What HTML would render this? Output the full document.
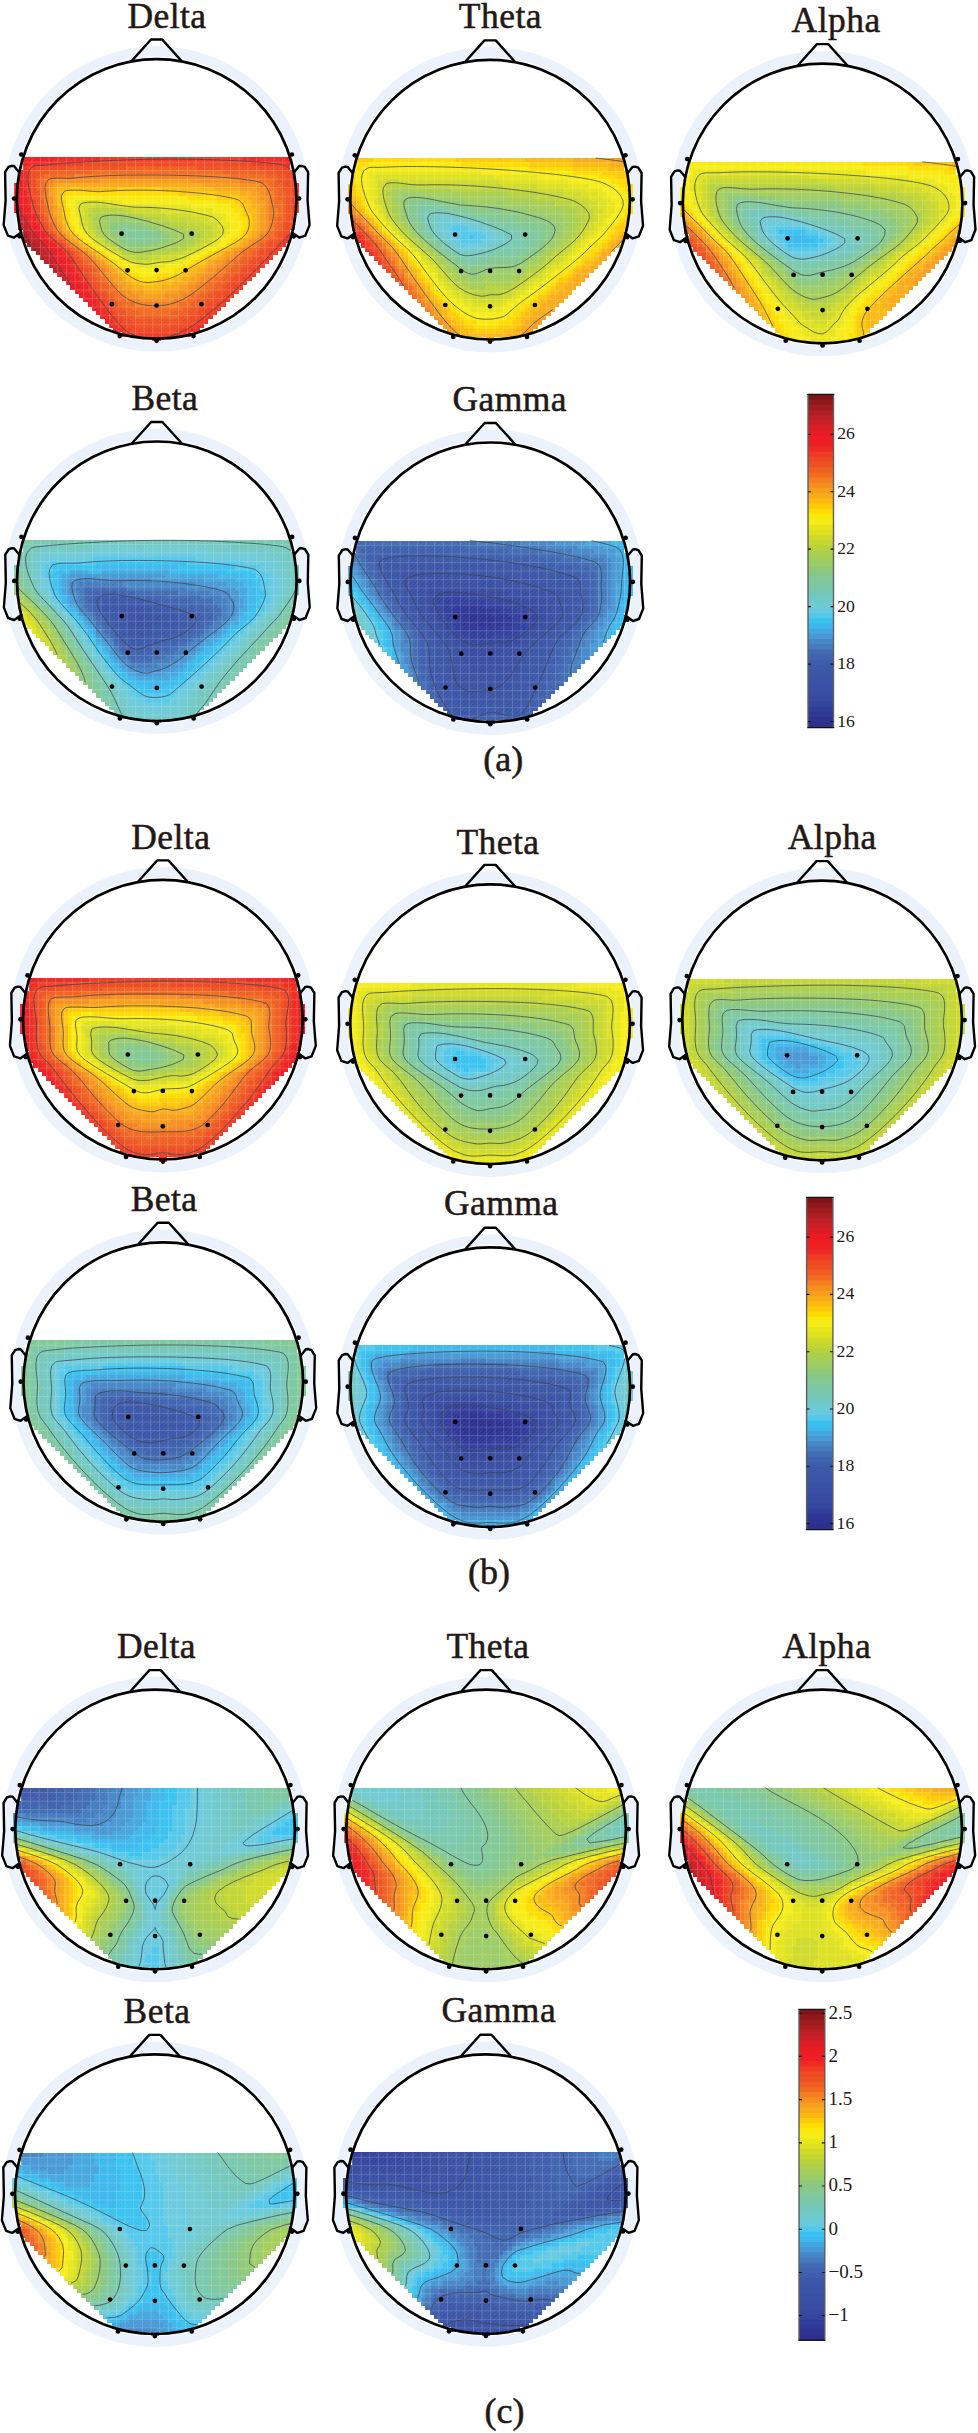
<!DOCTYPE html><html><head><meta charset="utf-8"><style>html,body{margin:0;padding:0;background:#fff}svg{display:block}text{font-family:"Liberation Serif","Times New Roman",serif;fill:#231815}.t{stroke:#231815;stroke-width:0.5px}</style></head><body>
<svg width="978" height="2433" viewBox="0 0 978 2433">
<defs><g id="head"><circle r="139.8" fill="none" stroke="#000" stroke-width="2.7"/><g fill="none" stroke="#000" stroke-width="2.4" stroke-linejoin="round" stroke-linecap="round"><polyline points="24.4,-138.51 5.59,-159.37 -5.59,-159.37 -24.4,-138.51"/><polyline points="137.56,-26.7 142.6,-32.85 144.83,-33.08 148.16,-32.04 151.52,-26.7 150.98,1.54 152.94,26.06 148.75,36.71 142.6,38.7 135.33,33.52"/><polyline points="-137.56,-26.7 -142.6,-32.85 -144.83,-33.08 -148.16,-32.04 -151.52,-26.7 -150.98,1.54 -152.94,26.06 -148.75,36.71 -142.6,38.7 -135.33,33.52"/></g><g fill="#000"><circle cx="-135.3" cy="-44.4" r="2.35"/><circle cx="135.3" cy="-44.4" r="2.35"/><circle cx="-142.5" cy="-0.4" r="2.35"/><circle cx="142.5" cy="-0.4" r="2.35"/><circle cx="-137.1" cy="37.4" r="2.35"/><circle cx="137.1" cy="37.4" r="2.35"/><circle cx="-35.05" cy="34.8" r="2.35"/><circle cx="35.05" cy="34.8" r="2.35"/><circle cx="-29.05" cy="71.4" r="2.35"/><circle cx="0" cy="71.2" r="2.35"/><circle cx="29.05" cy="71.4" r="2.35"/><circle cx="-44.8" cy="105.3" r="2.35"/><circle cx="0" cy="106.6" r="2.35"/><circle cx="44.8" cy="105.3" r="2.35"/><circle cx="-36.9" cy="137.2" r="2.35"/><circle cx="0" cy="141.9" r="2.35"/><circle cx="36.9" cy="137.2" r="2.35"/></g></g><pattern id="gp" patternUnits="userSpaceOnUse" x="-142.5" y="-139.8" width="8.6364" height="8.5364"><path d="M0 0H8.636M0 0V8.536" stroke="#fff" stroke-opacity="0.32" stroke-width="1"/><path d="M0 4.268L4.318 0M4.318 8.536L8.636 4.268M0 8.536L8.636 0" stroke="#fff" stroke-opacity="0.14" stroke-width="0.6"/></pattern></defs>
<rect width="978" height="2433" fill="#fff"/>
<g transform="translate(156.6 198.9)">
<circle r="147.5" fill="none" stroke="#ebf2fb" stroke-width="10.4"/>
<g transform="translate(-142.5 -139.8) scale(4.3182 4.2682)" fill="none" stroke-width="1" shape-rendering="crispEdges">
<path stroke="#7dc8a2" d="M27 41.5h3"/>
<path stroke="#82c997" d="M25 39.5h3M25 40.5h7M25 41.5h2M30 41.5h3M27 42.5h5"/>
<path stroke="#87c889" d="M25 38.5h1M23 39.5h2M28 39.5h3M23 40.5h2M32 40.5h2M24 41.5h1M33 41.5h2M25 42.5h2M32 42.5h2M27 43.5h2"/>
<path stroke="#8fc978" d="M22 38.5h3M26 38.5h4M22 39.5h1M31 39.5h2M22 40.5h1M34 40.5h1M23 41.5h1M35 41.5h1M24 42.5h1M34 42.5h2M25 43.5h2M29 43.5h4"/>
<path stroke="#9bcc68" d="M21 37.5h7M21 38.5h1M30 38.5h1M21 39.5h1M33 39.5h1M21 40.5h1M35 40.5h2M22 41.5h1M36 41.5h2M23 42.5h1M36 42.5h1M24 43.5h1M33 43.5h2M26 44.5h5"/>
<path stroke="#a4ce5b" d="M21 36.5h4M20 37.5h1M28 37.5h2M20 38.5h1M31 38.5h2M20 39.5h1M34 39.5h2M20 40.5h1M37 40.5h2M21 41.5h1M38 41.5h2M22 42.5h1M37 42.5h3M35 43.5h2M25 44.5h1M31 44.5h3"/>
<path stroke="#aace4d" d="M19 36.5h2M25 36.5h2M18 37.5h2M30 37.5h2M19 38.5h1M33 38.5h3M19 39.5h1M36 39.5h3M19 40.5h1M39 40.5h3M20 41.5h1M40 41.5h3M21 42.5h1M40 42.5h2M23 43.5h1M37 43.5h3M24 44.5h1M34 44.5h4M26 45.5h6"/>
<path stroke="#b7d23d" d="M18 35.5h7M17 36.5h2M27 36.5h3M32 37.5h3M18 38.5h1M36 38.5h4M18 39.5h1M39 39.5h4M42 40.5h2M19 41.5h1M43 41.5h1M42 42.5h1M22 43.5h1M40 43.5h2M38 44.5h2M25 45.5h1M32 45.5h4M28 46.5h3"/>
<path stroke="#c3d632" d="M19 34.5h2M17 35.5h1M25 35.5h2M30 36.5h5M17 37.5h1M35 37.5h6M17 38.5h1M40 38.5h4M17 39.5h1M43 39.5h3M18 40.5h1M44 40.5h2M44 41.5h2M20 42.5h1M43 42.5h2M21 43.5h1M42 43.5h1M23 44.5h1M40 44.5h1M36 45.5h3M26 46.5h2M31 46.5h3"/>
<path stroke="#d0da28" d="M16 34.5h3M21 34.5h3M16 35.5h1M27 35.5h7M16 36.5h1M35 36.5h6M16 37.5h1M41 37.5h4M16 38.5h1M44 38.5h3M46 39.5h1M17 40.5h1M46 40.5h2M18 41.5h1M46 41.5h1M19 42.5h1M45 42.5h1M43 43.5h1M22 44.5h1M41 44.5h2M24 45.5h1M39 45.5h2M25 46.5h1M34 46.5h4M28 47.5h4"/>
<path stroke="#dde11f" d="M16 33.5h5M15 34.5h1M24 34.5h9M15 35.5h1M34 35.5h7M15 36.5h1M41 36.5h5M15 37.5h1M45 37.5h3M15 38.5h1M47 38.5h1M16 39.5h1M47 39.5h2M16 40.5h1M48 40.5h1M17 41.5h1M47 41.5h1M18 42.5h1M46 42.5h1M20 43.5h1M44 43.5h2M21 44.5h1M43 44.5h1M23 45.5h1M41 45.5h1M38 46.5h2M27 47.5h1M32 47.5h5"/>
<path stroke="#e8e61a" d="M14 33.5h2M21 33.5h4M14 34.5h1M33 34.5h8M14 35.5h1M41 35.5h5M14 36.5h1M46 36.5h3M48 37.5h1M48 38.5h2M15 39.5h1M49 39.5h1M49 40.5h1M48 41.5h1M47 42.5h1M19 43.5h1M46 43.5h1M44 44.5h1M22 45.5h1M42 45.5h1M24 46.5h1M40 46.5h1M26 47.5h1M37 47.5h2M28 48.5h7"/>
<path stroke="#f6ec18" d="M14 32.5h6M13 33.5h1M25 33.5h16M13 34.5h1M41 34.5h6M13 35.5h1M46 35.5h4M49 36.5h1M14 37.5h1M49 37.5h2M14 38.5h1M50 38.5h1M14 39.5h1M50 39.5h1M15 40.5h1M50 40.5h1M16 41.5h1M49 41.5h2M17 42.5h1M48 42.5h1M47 43.5h1M20 44.5h1M45 44.5h1M43 45.5h1M23 46.5h1M41 46.5h1M25 47.5h1M39 47.5h1M26 48.5h2M35 48.5h2M29 49.5h5"/>
<path stroke="#f9ea0e" d="M12 32.5h2M20 32.5h20M12 33.5h1M41 33.5h6M12 34.5h1M47 34.5h3M50 35.5h1M13 36.5h1M50 36.5h2M13 37.5h1M51 37.5h1M13 38.5h1M51 38.5h2M51 39.5h2M14 40.5h1M51 40.5h1M15 41.5h1M51 41.5h1M16 42.5h1M49 42.5h1M18 43.5h1M48 43.5h1M19 44.5h1M46 44.5h1M21 45.5h1M44 45.5h1M22 46.5h1M42 46.5h1M24 47.5h1M40 47.5h1M25 48.5h1M37 48.5h2M27 49.5h2M34 49.5h3M29 50.5h4"/>
<path stroke="#ffdc01" d="M12 31.5h26M11 32.5h1M40 32.5h7M47 33.5h4M50 34.5h2M12 35.5h1M51 35.5h2M12 36.5h1M52 36.5h1M12 37.5h1M52 37.5h2M53 38.5h1M13 39.5h1M53 39.5h1M52 40.5h1M52 41.5h1M50 42.5h1M17 43.5h1M49 43.5h1M47 44.5h1M20 45.5h1M45 45.5h1M43 46.5h1M23 47.5h1M41 47.5h1M24 48.5h1M39 48.5h2M26 49.5h1M37 49.5h2M27 50.5h2M33 50.5h4M29 51.5h4"/>
<path stroke="#feca08" d="M13 30.5h2M24 30.5h10M11 31.5h1M38 31.5h9M47 32.5h5M11 33.5h1M51 33.5h2M11 34.5h1M52 34.5h2M11 35.5h1M53 35.5h1M11 36.5h1M53 36.5h2M54 37.5h1M12 38.5h1M54 38.5h1M12 39.5h1M54 39.5h1M13 40.5h1M53 40.5h1M14 41.5h1M53 41.5h1M15 42.5h1M51 42.5h1M50 43.5h1M18 44.5h1M48 44.5h1M19 45.5h1M46 45.5h1M21 46.5h1M44 46.5h1M22 47.5h1M42 47.5h2M23 48.5h1M41 48.5h1M25 49.5h1M39 49.5h1M26 50.5h1M37 50.5h2M27 51.5h2M33 51.5h4M29 52.5h4"/>
<path stroke="#fcb911" d="M10 30.5h3M15 30.5h9M34 30.5h12M10 31.5h1M47 31.5h5M10 32.5h1M52 32.5h2M10 33.5h1M53 33.5h2M10 34.5h1M54 34.5h1M54 35.5h2M55 36.5h1M11 37.5h1M55 37.5h1M11 38.5h1M55 38.5h1M55 39.5h1M54 40.5h1M13 41.5h1M54 41.5h1M52 42.5h1M16 43.5h1M51 43.5h1M17 44.5h1M49 44.5h1M47 45.5h1M20 46.5h1M45 46.5h2M21 47.5h1M44 47.5h1M42 48.5h2M24 49.5h1M40 49.5h2M25 50.5h1M39 50.5h2M26 51.5h1M37 51.5h2M27 52.5h2M33 52.5h4M30 53.5h4"/>
<path stroke="#f9ab19" d="M10 29.5h34M9 30.5h1M46 30.5h6M9 31.5h1M52 31.5h3M9 32.5h1M54 32.5h2M9 33.5h1M55 33.5h1M55 34.5h2M10 35.5h1M56 35.5h1M10 36.5h1M56 36.5h1M10 37.5h1M56 37.5h1M56 38.5h1M11 39.5h1M56 39.5h1M12 40.5h1M55 40.5h1M55 41.5h1M14 42.5h1M53 42.5h1M15 43.5h1M52 43.5h1M50 44.5h1M18 45.5h1M48 45.5h1M19 46.5h1M47 46.5h1M45 47.5h1M22 48.5h1M44 48.5h1M23 49.5h1M42 49.5h2M24 50.5h1M41 50.5h1M25 51.5h1M39 51.5h2M26 52.5h1M37 52.5h3M27 53.5h3M34 53.5h4M30 54.5h5"/>
<path stroke="#f79e1c" d="M20 28.5h21M9 29.5h1M44 29.5h8M8 30.5h1M52 30.5h4M8 31.5h1M55 31.5h2M56 32.5h1M56 33.5h2M9 34.5h1M57 34.5h1M9 35.5h1M57 35.5h1M9 36.5h1M57 36.5h1M57 37.5h1M10 38.5h1M57 38.5h1M57 39.5h1M11 40.5h1M56 40.5h1M12 41.5h1M56 41.5h1M13 42.5h1M54 42.5h1M53 43.5h1M16 44.5h1M51 44.5h1M17 45.5h1M49 45.5h2M48 46.5h1M20 47.5h1M46 47.5h2M21 48.5h1M45 48.5h2M22 49.5h1M44 49.5h1M22 50.5h2M42 50.5h2M23 51.5h2M41 51.5h2M24 52.5h2M40 52.5h2M25 53.5h2M38 53.5h2M27 54.5h3M35 54.5h3M29 55.5h6"/>
<path stroke="#f68f1f" d="M9 28.5h11M41 28.5h11M8 29.5h1M52 29.5h5M56 30.5h2M57 31.5h1M8 32.5h1M57 32.5h2M8 33.5h1M58 33.5h1M8 34.5h1M58 34.5h1M8 35.5h1M58 35.5h1M58 36.5h1M9 37.5h1M58 37.5h1M58 38.5h1M10 39.5h1M58 39.5h1M57 40.5h1M55 42.5h1M14 43.5h1M54 43.5h1M15 44.5h1M52 44.5h1M51 45.5h1M18 46.5h1M49 46.5h2M19 47.5h1M48 47.5h1M20 48.5h1M47 48.5h1M21 49.5h1M45 49.5h2M21 50.5h1M44 50.5h2M22 51.5h1M43 51.5h2M23 52.5h1M42 52.5h1M24 53.5h1M40 53.5h2M25 54.5h2M38 54.5h3M26 55.5h3M35 55.5h4M29 56.5h8"/>
<path stroke="#f47e20" d="M14 27.5h36M7 28.5h2M52 28.5h5M7 29.5h1M57 29.5h2M7 30.5h1M58 30.5h1M7 31.5h1M58 31.5h2M7 32.5h1M59 32.5h1M7 33.5h1M59 33.5h1M59 34.5h1M59 35.5h2M8 36.5h1M59 36.5h2M8 37.5h1M59 37.5h1M9 38.5h1M59 38.5h1M9 39.5h1M59 39.5h1M10 40.5h1M58 40.5h1M11 41.5h1M57 41.5h1M12 42.5h1M56 42.5h1M13 43.5h1M55 43.5h1M53 44.5h1M16 45.5h1M52 45.5h1M17 46.5h1M51 46.5h1M18 47.5h1M49 47.5h2M19 48.5h1M48 48.5h2M20 49.5h1M47 49.5h2M20 50.5h1M46 50.5h2M21 51.5h1M45 51.5h1M22 52.5h1M43 52.5h2M23 53.5h1M42 53.5h2M24 54.5h1M41 54.5h2M25 55.5h1M39 55.5h2M26 56.5h3M37 56.5h3M28 57.5h10"/>
<path stroke="#f26b21" d="M18 26.5h30M7 27.5h7M50 27.5h8M6 28.5h1M57 28.5h3M6 29.5h1M59 29.5h1M6 30.5h1M59 30.5h2M6 31.5h1M60 31.5h1M6 32.5h1M60 32.5h1M60 33.5h2M7 34.5h1M60 34.5h2M7 35.5h1M61 35.5h1M7 36.5h1M61 36.5h1M60 37.5h1M8 38.5h1M60 38.5h1M60 39.5h1M9 40.5h1M59 40.5h1M10 41.5h1M58 41.5h2M57 42.5h1M56 43.5h1M14 44.5h1M54 44.5h2M15 45.5h1M53 45.5h2M16 46.5h1M52 46.5h1M17 47.5h1M51 47.5h1M18 48.5h1M50 48.5h1M19 49.5h1M49 49.5h1M19 50.5h1M48 50.5h1M20 51.5h1M46 51.5h2M21 52.5h1M45 52.5h2M22 53.5h1M44 53.5h2M22 54.5h2M43 54.5h2M23 55.5h2M41 55.5h2M24 56.5h2M40 56.5h2M25 57.5h3M38 57.5h3M27 58.5h12M29 59.5h7"/>
<path stroke="#ef5f22" d="M26 25.5h16M8 26.5h10M48 26.5h10M6 27.5h1M58 27.5h3M5 28.5h1M60 28.5h1M5 29.5h1M60 29.5h2M5 30.5h1M61 30.5h1M61 31.5h2M61 32.5h2M6 33.5h1M62 33.5h1M6 34.5h1M62 34.5h1M6 35.5h1M62 35.5h1M62 36.5h1M7 37.5h1M61 37.5h2M61 38.5h1M8 39.5h1M61 39.5h1M60 40.5h1M60 41.5h1M11 42.5h1M58 42.5h1M12 43.5h1M57 43.5h1M13 44.5h1M56 44.5h1M14 45.5h1M55 45.5h1M15 46.5h1M53 46.5h2M16 47.5h1M52 47.5h2M17 48.5h1M51 48.5h2M18 49.5h1M50 49.5h2M18 50.5h1M49 50.5h2M19 51.5h1M48 51.5h2M20 52.5h1M47 52.5h2M20 53.5h2M46 53.5h2M21 54.5h1M45 54.5h1M22 55.5h1M43 55.5h2M23 56.5h1M42 56.5h2M24 57.5h1M41 57.5h2M25 58.5h2M39 58.5h2M26 59.5h3M36 59.5h4M28 60.5h10"/>
<path stroke="#ee5222" d="M12 25.5h14M42 25.5h15M5 26.5h3M58 26.5h3M5 27.5h1M61 27.5h2M61 28.5h2M62 29.5h1M62 30.5h2M5 31.5h1M63 31.5h1M5 32.5h1M63 32.5h1M5 33.5h1M63 33.5h1M63 34.5h1M63 35.5h1M6 36.5h1M63 36.5h1M63 37.5h1M7 38.5h1M62 38.5h1M62 39.5h1M8 40.5h1M61 40.5h1M9 41.5h1M61 41.5h1M10 42.5h1M59 42.5h2M58 43.5h1M57 44.5h1M56 45.5h1M55 46.5h1M15 47.5h1M54 47.5h1M16 48.5h1M53 48.5h1M17 49.5h1M52 49.5h1M17 50.5h1M51 50.5h1M18 51.5h1M50 51.5h1M19 52.5h1M49 52.5h1M19 53.5h1M48 53.5h1M20 54.5h1M46 54.5h2M21 55.5h1M45 55.5h2M22 56.5h1M44 56.5h2M22 57.5h2M43 57.5h2M23 58.5h2M41 58.5h2M24 59.5h2M40 59.5h2M25 60.5h3M38 60.5h3M27 61.5h12M28 62.5h8"/>
<path stroke="#ef4823" d="M16 24.5h39M5 25.5h7M57 25.5h5M4 26.5h1M61 26.5h3M4 27.5h1M63 27.5h1M4 28.5h1M63 28.5h2M4 29.5h1M63 29.5h2M4 30.5h1M64 30.5h2M4 31.5h1M64 31.5h2M4 32.5h1M64 32.5h2M64 33.5h2M5 34.5h1M64 34.5h2M5 35.5h1M64 35.5h2M64 36.5h1M6 37.5h1M64 37.5h1M63 38.5h2M7 39.5h1M63 39.5h1M62 40.5h2M62 41.5h1M61 42.5h1M11 43.5h1M59 43.5h2M12 44.5h1M58 44.5h2M13 45.5h1M57 45.5h2M14 46.5h1M56 46.5h2M14 47.5h1M55 47.5h2M15 48.5h1M54 48.5h2M16 49.5h1M53 49.5h2M16 50.5h1M52 50.5h2M17 51.5h1M51 51.5h2M18 52.5h1M50 52.5h2M18 53.5h1M49 53.5h2M19 54.5h1M48 54.5h2M20 55.5h1M47 55.5h2M21 56.5h1M46 56.5h2M21 57.5h1M45 57.5h2M22 58.5h1M43 58.5h2M23 59.5h1M42 59.5h2M24 60.5h1M41 60.5h2M25 61.5h2M39 61.5h3M26 62.5h2M36 62.5h4M27 63.5h11"/>
<path stroke="#ef3b23" d="M20 23.5h33M7 24.5h9M55 24.5h8M3 25.5h2M62 25.5h2M3 26.5h1M64 26.5h1M3 27.5h1M64 27.5h1M3 28.5h1M3 29.5h1M65 29.5h1M3 30.5h1M3 31.5h1M4 33.5h1M4 34.5h1M4 35.5h1M5 36.5h1M5 37.5h1M6 38.5h1M6 39.5h1M64 39.5h1M7 40.5h1M8 41.5h1M63 41.5h1M9 42.5h1M62 42.5h1M10 43.5h1M61 43.5h1M11 44.5h1M60 44.5h2M12 45.5h1M59 45.5h2M13 46.5h1M58 46.5h2M57 47.5h2M14 48.5h1M56 48.5h2M15 49.5h1M55 49.5h2M15 50.5h1M54 50.5h2M16 51.5h1M53 51.5h2M17 52.5h1M52 52.5h2M17 53.5h1M51 53.5h2M18 54.5h1M50 54.5h2M19 55.5h1M49 55.5h2M20 56.5h1M48 56.5h2M20 57.5h1M47 57.5h2M21 58.5h1M45 58.5h3M22 59.5h1M44 59.5h3M22 60.5h2M43 60.5h2M23 61.5h2M42 61.5h2M24 62.5h2M40 62.5h2M25 63.5h2M38 63.5h3M26 64.5h13M32 65.5h2"/>
<path stroke="#ee2a24" d="M9 23.5h11M53 23.5h10M3 24.5h4M63 24.5h1M2 25.5h1M2 26.5h1M2 27.5h1M2 28.5h1M2 29.5h1M2 30.5h1M3 32.5h1M3 33.5h1M3 34.5h1M4 36.5h1M5 38.5h1M7 41.5h1M8 42.5h1M63 42.5h1M62 43.5h1M11 45.5h1M12 46.5h1M13 47.5h1M13 48.5h1M14 49.5h1M15 51.5h1M16 52.5h1M17 54.5h1M18 55.5h1M19 56.5h1M19 57.5h1M20 58.5h1M20 59.5h2M21 60.5h1M45 60.5h1M22 61.5h1M44 61.5h1M22 62.5h2M42 62.5h2M23 63.5h2M41 63.5h2M25 64.5h1M39 64.5h2"/>
<path stroke="#ec2024" d="M2 23.5h7M63 23.5h1M2 24.5h1M1 26.5h1M1 27.5h1M1 28.5h1M1 29.5h1M2 31.5h1M2 32.5h1M2 33.5h1M3 35.5h1M4 37.5h1M5 39.5h1M6 40.5h1M9 43.5h1M10 44.5h1M10 45.5h1M11 46.5h1M12 47.5h1M12 48.5h1M13 49.5h1M14 50.5h1M14 51.5h1M15 52.5h1M16 53.5h1M16 54.5h1M17 55.5h1M17 56.5h2M18 57.5h1M18 58.5h2M19 59.5h1M20 60.5h1M21 61.5h1"/>
<path stroke="#ec1e24" d="M0 29.5h1M0 30.5h2M1 31.5h1M1 32.5h1M2 34.5h1M2 35.5h1M3 36.5h1M3 37.5h1M4 38.5h1M5 40.5h1M6 41.5h1M7 42.5h1M8 43.5h1M9 44.5h1M10 46.5h1M11 47.5h1M12 49.5h1M13 50.5h1M14 52.5h1M15 53.5h1M15 54.5h1M16 55.5h1M16 56.5h1M17 57.5h1"/>
<path stroke="#e81c24" d="M0 31.5h1M0 32.5h1M1 33.5h1M1 34.5h1M2 36.5h1M3 38.5h1M4 39.5h1M5 41.5h1M6 42.5h1M7 43.5h1M8 44.5h1M9 45.5h1M9 46.5h1M10 47.5h1M11 48.5h1M11 49.5h1M12 50.5h1M13 51.5h1M13 52.5h1M14 53.5h1M14 54.5h1M15 55.5h1"/>
<path stroke="#dc1d25" d="M0 33.5h1M0 34.5h1M0 35.5h2M2 37.5h1M3 39.5h1M4 40.5h1M7 44.5h1M8 45.5h1M9 47.5h1M10 48.5h1M11 50.5h1M12 51.5h1M12 52.5h1M13 53.5h1"/>
<path stroke="#ca1f26" d="M1 36.5h1M1 37.5h1M2 38.5h1M3 40.5h1M4 41.5h1M5 42.5h1M6 43.5h1M7 45.5h1M8 46.5h1M9 48.5h1M10 49.5h1M10 50.5h1M11 51.5h1"/>
<path stroke="#bd1f25" d="M1 38.5h1M2 39.5h1M3 41.5h1M4 42.5h1M5 43.5h1M6 44.5h1M6 45.5h1M7 46.5h1M7 47.5h2M8 48.5h1M9 49.5h1"/>
<path stroke="#ad1e23" d="M1 39.5h1M2 40.5h1M4 43.5h1M5 44.5h1M5 45.5h1M6 46.5h1"/>
<path stroke="#9e1b1f" d="M2 41.5h1M2 42.5h2M3 43.5h1M4 44.5h1"/>
</g>
<rect x="-142.5" y="-41.63" width="285" height="183.53" fill="url(#gp)"/>
<path fill="none" stroke="#3c4650" stroke-width="0.95" stroke-opacity="0.8" d="M-51.82 17.07 -55.15 18.12 -56.14 19.32 -57 22.39 -56.14 26.12 -56 26.66 -55.05 30.93 -52.92 35.2 -51.82 36.25 -48.55 39.46 -47.5 40.21 -43.18 43.38 -42.7 43.73 -38.86 46.13 -35.9 48 -34.55 48.77 -30.23 51.05 -26.94 52.27 -25.91 52.63 -21.59 53.48 -17.27 53.47 -12.95 52.85 -9.49 52.27 -8.64 52.13 -4.32 51.33 0 50.34 4.32 49.14 7.96 48 8.64 47.77 12.95 46.3 17.27 44.69 19.89 43.73 21.59 42.87 25.91 40.32 27.1 39.46 26.89 35.2 25.91 34.76 21.59 32.84 17.27 30.96 17.2 30.93 12.95 29.43 8.64 27.94 5.03 26.66 4.32 26.43 0 25.14 -4.32 23.85 -8.64 22.54 -9.15 22.39 -12.95 21.4 -17.27 20.32 -21.59 19.27 -25.91 18.27 -26.65 18.12 -30.23 17.48 -34.55 16.84 -38.86 16.38 -43.18 16.21 -47.5 16.39 -51.82 17.07M-73.41 4.06 -76.22 5.32 -77.7 9.59 -76.78 13.85 -75.77 18.12 -74.95 22.39 -73.86 26.66 -73.41 27.79 -72.17 30.93 -69.22 35.2 -69.09 35.31 -64.77 39.31 -64.61 39.46 -60.45 42.51 -58.79 43.73 -56.14 45.49 -52.35 48 -51.82 48.34 -47.5 51.04 -45.5 52.27 -43.18 53.69 -38.86 56.23 -38.32 56.54 -34.55 58.74 -30.74 60.8 -30.23 61.11 -25.91 62.99 -21.59 64.15 -17.27 64.88 -15.09 65.07 -12.95 65.31 -8.64 65.39 -6.46 65.07 -4.32 64.74 0 63.88 4.32 63.23 8.64 63.01 12.95 62.56 17.27 61.59 19.87 60.8 21.59 60.29 25.91 58.81 30.23 57.04 31.29 56.54 34.55 54.97 38.86 52.88 40.1 52.27 43.18 50.66 47.5 48.44 48.37 48 51.82 46.04 56.08 43.73 56.14 43.7 60.45 40.82 62.54 39.46 64.77 36.81 66.18 35.2 66.82 30.93 65.14 26.66 64.77 26.17 61.53 22.39 60.45 21.16 56.14 18.13 56.11 18.12 51.82 16.91 47.5 15.79 43.18 14.77 38.97 13.85 38.86 13.83 34.55 13.02 30.23 12.28 25.91 11.6 21.59 10.98 17.27 10.42 12.95 9.94 9.36 9.59 8.64 9.52 4.32 9.18 0 8.9 -4.32 8.67 -8.64 8.51 -12.95 8.41 -17.27 8.36 -21.59 8.28 -25.91 7.85 -30.23 7.35 -34.55 6.76 -38.86 6.1 -43.18 5.4 -43.65 5.32 -47.5 4.67 -51.82 4.08 -56.14 3.62 -60.45 3.31 -64.77 3.23 -69.09 3.44 -73.41 4.06M-90.68 -8.16 -92.34 -7.49 -95 -3.71 -95.17 -3.22 -95.06 1.05 -95 1.34 -94.21 5.32 -93.23 9.59 -92.3 13.85 -91.48 18.12 -90.68 20.8 -90.22 22.39 -88.56 26.66 -86.38 30.93 -86.36 30.94 -83.11 35.2 -82.05 36.18 -78.49 39.46 -77.73 40.05 -73.41 43.31 -72.84 43.73 -69.09 46.33 -66.65 48 -64.77 49.29 -60.45 52.19 -60.33 52.27 -56.14 55.15 -54.02 56.54 -51.82 58.15 -47.84 60.8 -47.5 61.08 -43.18 64.26 -41.96 65.07 -38.86 67.74 -36.67 69.34 -34.55 71.27 -31.74 73.61 -30.23 74.93 -26.05 77.88 -25.91 77.97 -21.59 80.44 -17.58 82.15 -17.27 82.28 -12.95 83.33 -8.64 83.61 -4.32 83.26 0 82.73 3.79 82.15 4.32 82.07 8.64 81.07 12.95 79.72 17.27 78.01 17.55 77.88 21.59 75.98 25.84 73.61 25.91 73.57 30.23 70.99 32.62 69.34 34.55 68.32 38.86 65.72 39.79 65.07 43.18 63.29 47.34 60.8 47.5 60.72 51.82 58.44 55.1 56.54 56.14 55.99 60.45 53.68 62.95 52.27 64.77 51.29 69.09 48.96 70.81 48 73.41 46.55 77.73 44.15 78.47 43.73 82.05 41.39 84.99 39.46 86.36 38.08 89.27 35.2 90.68 32.56 91.58 30.93 92.61 26.66 92.74 22.39 91.93 18.12 90.68 15.34 89.96 13.85 88.14 9.59 86.36 5.48 86.28 5.32 82.05 1.05 82.04 1.05 77.73 -0.31 73.41 -1.22 69.09 -2.06 64.77 -2.83 62.36 -3.22 60.45 -3.51 56.14 -4.12 51.82 -4.68 47.5 -5.19 43.18 -5.66 38.86 -6.08 34.55 -6.47 30.23 -6.83 25.91 -7.15 21.59 -7.44 20.88 -7.49 17.27 -7.7 12.95 -7.94 8.64 -8.14 4.32 -8.32 0 -8.46 -4.32 -8.58 -8.64 -8.67 -12.95 -8.72 -17.27 -8.74 -21.59 -8.73 -25.91 -8.68 -30.23 -8.6 -34.55 -8.48 -38.86 -8.31 -43.18 -8.1 -47.5 -7.85 -51.82 -7.54 -52.44 -7.49 -56.14 -7.25 -60.45 -7.26 -63.83 -7.49 -64.77 -7.56 -69.09 -8.01 -73.41 -8.41 -77.73 -8.68 -82.05 -8.8 -86.36 -8.67 -90.68 -8.16M-103.64 -20.6 -105.63 -20.29 -107.95 -19.6 -110.88 -16.02 -111.54 -11.75 -111.38 -7.49 -110.8 -3.22 -109.94 1.05 -108.96 5.32 -108.03 9.59 -107.95 9.94 -107.1 13.85 -105.66 18.12 -103.88 22.39 -103.64 22.91 -101.87 26.66 -99.43 30.93 -99.32 31.08 -96.12 35.2 -95 36.26 -91.58 39.46 -90.68 40.17 -86.36 43.53 -86.1 43.73 -82.05 46.72 -80.25 48 -77.73 49.99 -74.61 52.27 -73.41 53.36 -69.45 56.54 -69.09 56.93 -65.15 60.8 -64.77 61.26 -61.38 65.07 -60.45 66.22 -57.8 69.34 -56.14 71.45 -54.33 73.61 -51.82 76.74 -50.85 77.88 -47.5 81.95 -47.33 82.15 -43.72 86.41 -43.18 87.07 -40.01 90.68 -38.86 92 -35.85 94.95 -34.55 96.15 -30.27 99.22 -30.23 99.25 -25.91 101.67 -21.63 103.49 -21.59 103.5 -17.27 104.9 -12.95 105.87 -8.64 106.5 -4.32 106.83 0 106.91 4.32 106.73 8.64 106.22 12.95 105.36 17.27 104.14 19.1 103.49 21.59 102.58 25.91 100.64 28.57 99.22 30.23 98.31 34.55 95.59 35.45 94.95 38.86 92.5 41.22 90.68 43.18 89.18 46.67 86.41 47.5 85.76 51.82 82.26 51.96 82.15 56.14 78.7 57.11 77.88 60.45 75.07 62.14 73.61 64.77 71.36 67.06 69.34 69.09 67.59 71.92 65.07 73.41 63.8 76.76 60.8 77.73 59.98 81.62 56.54 82.05 56.22 86.36 52.52 86.65 52.27 90.68 49.61 92.7 48 95 46.64 99.32 43.78 99.39 43.73 103.64 40.99 105.92 39.46 107.95 37.5 110.36 35.2 112.27 32.17 113.06 30.93 114.75 26.66 115.94 22.39 116.59 18.95 116.75 18.12 117.15 13.85 116.82 9.59 116.59 8.7 115.66 5.32 114.67 1.05 113.65 -3.22 112.27 -7.3 112.21 -7.49 109.89 -11.75 107.95 -13.93 105.1 -16.02 103.64 -16.65 99.32 -17.68 95 -18.37 90.68 -19 86.36 -19.57 82.05 -20.09 80.16 -20.29 77.73 -20.54 73.41 -20.95 69.09 -21.32 64.77 -21.65 60.45 -21.95 56.14 -22.22 51.82 -22.46 47.5 -22.68 43.18 -22.87 38.86 -23.03 34.55 -23.19 30.23 -23.32 25.91 -23.44 21.59 -23.54 17.27 -23.63 12.95 -23.71 8.64 -23.77 4.32 -23.82 0 -23.86 -4.32 -23.88 -8.64 -23.89 -12.95 -23.89 -17.27 -23.88 -21.59 -23.85 -25.91 -23.81 -30.23 -23.76 -34.55 -23.68 -38.86 -23.58 -43.18 -23.46 -47.5 -23.31 -51.82 -23.14 -56.14 -22.93 -60.45 -22.69 -64.77 -22.41 -69.09 -22.1 -73.41 -21.74 -77.73 -21.33 -82.05 -20.86 -86.36 -20.48 -90.68 -20.49 -95 -20.68 -99.32 -20.74 -103.64 -20.6M133.86 -29.68 129.55 -32.61 128.58 -33.1 125.23 -34.23 120.91 -34.99 116.59 -35.48 112.27 -35.92 107.95 -36.31 103.64 -36.66 99.32 -36.97 95 -37.25 93.18 -37.36 90.68 -37.52 86.36 -37.78 82.05 -38.01 77.73 -38.24 73.41 -38.44 69.09 -38.64 64.77 -38.81 60.45 -38.97 56.14 -39.12 51.82 -39.25 47.5 -39.36 43.18 -39.46 38.86 -39.55 34.55 -39.62 30.23 -39.67 25.91 -39.71 21.59 -39.74 17.27 -39.75 12.95 -39.75 8.64 -39.73 4.32 -39.7 0 -39.66 -4.32 -39.6 -8.64 -39.53 -12.95 -39.45 -17.27 -39.35 -21.59 -39.24 -25.91 -39.11 -30.23 -38.98 -34.55 -38.83 -38.86 -38.66 -43.18 -38.49 -47.5 -38.3 -51.82 -38.1 -56.14 -37.88 -60.45 -37.66 -64.77 -37.42 -65.72 -37.36 -69.09 -37.18 -73.41 -36.94 -77.73 -36.69 -82.05 -36.43 -86.36 -36.14 -90.68 -35.83 -95 -35.5 -99.32 -35.13 -103.64 -34.71 -107.95 -34.24 -112.27 -33.73 -116.59 -33.49 -120.91 -33.23 -121.48 -33.1 -125.23 -31.2 -127.09 -28.83 -128.46 -24.56 -128.75 -20.29 -128.43 -16.02 -127.75 -11.75 -126.85 -7.49 -125.84 -3.22 -125.23 -0.72 -124.8 1.05 -123.82 5.32 -122.67 9.59 -121 13.85 -120.91 14.06 -119.06 18.12 -116.92 22.39 -116.59 22.99 -114.66 26.66 -112.27 30.76 -112.18 30.93 -108.97 35.2 -107.95 36.2 -104.6 39.46 -103.64 40.28 -99.37 43.73 -99.32 43.78 -95 47.48 -94.33 48 -90.68 51.8 -90.17 52.27 -86.79 56.54 -86.36 57.15 -83.71 60.8 -82.05 63.33 -80.85 65.07 -78.09 69.34 -77.73 69.91 -75.32 73.61 -73.41 76.56 -72.54 77.88 -69.69 82.15 -69.09 83.04 -66.76 86.41 -64.77 89.26 -63.76 90.68 -60.7 94.95 -60.45 95.3 -57.6 99.22 -56.14 101.31 -54.52 103.49 -51.82 107.25 -51.43 107.75 -48.28 112.02 -47.5 113.1 -45.02 116.29 -43.18 118.67 -41.58 120.56 -38.86 123.8 -37.88 124.83 -34.55 128.35 -33.72 129.1 -30.23 132.2 -28.51 133.36 -25.91 134.91 -21.59 136.7 -18.1 137.63M138.18 -24.2 138.01 -24.56 137.47 -25.27M11.22 137.63 12.95 137.31 17.27 136.18 21.59 134.69 24.71 133.36 25.91 132.85 30.23 130.68 32.8 129.1 34.55 127.97 38.86 124.95 39.03 124.83 43.18 121.75 44.75 120.56 47.5 118.44 50.21 116.29 51.82 115.01 55.45 112.02 56.14 111.46 60.45 107.79 60.5 107.75 64.77 104.03 65.38 103.49 69.09 100.16 70.11 99.22 73.41 96.19 74.72 94.95 77.73 92.11 79.21 90.68 82.05 87.95 83.6 86.41 86.36 83.7 87.91 82.15 90.68 79.39 92.16 77.88 95 75.01 96.35 73.61 99.32 70.59 100.51 69.34 103.64 66.13 104.64 65.07 107.95 61.65 108.75 60.8 112.27 57.15 112.85 56.54 116.59 52.64 116.94 52.27 120.91 48.12 121.02 48 125.06 43.73 125.23 43.58 129.18 39.46 129.55 39.1 133.28 35.2 133.86 34.32M-3.16 138.77 0 138.7 3.35 138.58M-138.18 7.54 -137.36 9.59 -135.31 13.85 -133.86 16.49 -133.01 18.12 -130.54 22.39 -129.55 23.98 -127.95 26.66 -125.25 30.93 -125.23 30.95 -122.31 35.2 -120.91 36.7 -118.27 39.46 -116.59 41.21 -113.89 43.73 -112.27 45.85 -110.51 48 -107.95 51.73 -107.57 52.27 -104.79 56.54 -103.64 58.3 -102 60.8 -99.32 64.88 -99.19 65.07 -96.34 69.34 -95 71.39 -93.53 73.61 -90.78 77.88 -90.68 78.05 -88.31 82.15 -86.36 85.74 -85.98 86.41 -85.56 87.21"/>
<use href="#head"/>
</g>
<g transform="translate(490.1 199.7)">
<circle r="147.5" fill="none" stroke="#ebf2fb" stroke-width="10.4"/>
<g transform="translate(-142.5 -139.8) scale(4.3182 4.2682)" fill="none" stroke-width="1" shape-rendering="crispEdges">
<path stroke="#39c2f0" d="M28 41.5h1"/>
<path stroke="#53c8ea" d="M24 39.5h4M24 40.5h7M25 41.5h3M29 41.5h3M26 42.5h5"/>
<path stroke="#69cadf" d="M23 38.5h4M22 39.5h2M28 39.5h3M23 40.5h1M31 40.5h2M23 41.5h2M32 41.5h2M24 42.5h2M31 42.5h2M26 43.5h4"/>
<path stroke="#6fcad3" d="M21 37.5h5M21 38.5h2M27 38.5h3M21 39.5h1M31 39.5h1M22 40.5h1M33 40.5h1M22 41.5h1M34 41.5h2M23 42.5h1M33 42.5h2M25 43.5h1M30 43.5h3M26 44.5h3"/>
<path stroke="#71c9c7" d="M20 36.5h4M19 37.5h2M26 37.5h2M20 38.5h1M30 38.5h1M20 39.5h1M32 39.5h2M21 40.5h1M34 40.5h2M21 41.5h1M36 41.5h1M22 42.5h1M35 42.5h1M24 43.5h1M33 43.5h2M25 44.5h1M29 44.5h3"/>
<path stroke="#74c8bb" d="M18 36.5h2M24 36.5h2M18 37.5h1M28 37.5h2M19 38.5h1M31 38.5h2M19 39.5h1M34 39.5h1M20 40.5h1M36 40.5h2M20 41.5h1M37 41.5h2M36 42.5h2M23 43.5h1M35 43.5h2M24 44.5h1M32 44.5h2M26 45.5h5"/>
<path stroke="#79c8ae" d="M17 35.5h7M17 36.5h1M26 36.5h2M17 37.5h1M30 37.5h2M18 38.5h1M33 38.5h2M18 39.5h1M35 39.5h3M19 40.5h1M38 40.5h2M39 41.5h2M21 42.5h1M38 42.5h3M22 43.5h1M37 43.5h4M23 44.5h1M34 44.5h4M25 45.5h1M31 45.5h3M26 46.5h4"/>
<path stroke="#7dc8a2" d="M16 34.5h6M16 35.5h1M24 35.5h2M16 36.5h1M28 36.5h2M16 37.5h1M32 37.5h2M17 38.5h1M35 38.5h3M17 39.5h1M38 39.5h3M18 40.5h1M40 40.5h3M19 41.5h1M41 41.5h3M20 42.5h1M41 42.5h2M21 43.5h1M41 43.5h1M22 44.5h1M38 44.5h3M24 45.5h1M34 45.5h6M25 46.5h1M30 46.5h3M27 47.5h3"/>
<path stroke="#82c997" d="M15 33.5h5M15 34.5h1M22 34.5h2M15 35.5h1M26 35.5h3M15 36.5h1M30 36.5h5M15 37.5h1M34 37.5h5M16 38.5h1M38 38.5h5M16 39.5h1M41 39.5h4M17 40.5h1M43 40.5h2M18 41.5h1M44 41.5h1M19 42.5h1M43 42.5h2M20 43.5h1M42 43.5h2M41 44.5h2M23 45.5h1M40 45.5h1M24 46.5h1M33 46.5h7M26 47.5h1M30 47.5h3"/>
<path stroke="#87c889" d="M14 33.5h1M20 33.5h2M14 34.5h1M24 34.5h4M14 35.5h1M29 35.5h7M14 36.5h1M35 36.5h5M14 37.5h1M39 37.5h5M15 38.5h1M43 38.5h3M45 39.5h2M16 40.5h1M45 40.5h2M17 41.5h1M45 41.5h2M18 42.5h1M45 42.5h1M44 43.5h1M21 44.5h1M43 44.5h1M22 45.5h1M41 45.5h2M23 46.5h1M40 46.5h1M25 47.5h1M33 47.5h7M26 48.5h7M28 49.5h1"/>
<path stroke="#8fc978" d="M13 32.5h7M13 33.5h1M22 33.5h5M13 34.5h1M28 34.5h8M13 35.5h1M36 35.5h5M13 36.5h1M40 36.5h5M44 37.5h3M14 38.5h1M46 38.5h3M15 39.5h1M47 39.5h2M47 40.5h2M47 41.5h1M46 42.5h1M19 43.5h1M45 43.5h1M20 44.5h1M44 44.5h1M21 45.5h1M43 45.5h1M41 46.5h1M24 47.5h1M40 47.5h1M25 48.5h1M33 48.5h6M26 49.5h2M29 49.5h4M28 50.5h3"/>
<path stroke="#9bcc68" d="M12 31.5h5M11 32.5h2M20 32.5h7M12 33.5h1M27 33.5h10M12 34.5h1M36 34.5h6M12 35.5h1M41 35.5h5M12 36.5h1M45 36.5h4M13 37.5h1M47 37.5h3M13 38.5h1M49 38.5h2M14 39.5h1M49 39.5h1M15 40.5h1M49 40.5h1M16 41.5h1M48 41.5h1M17 42.5h1M47 42.5h2M18 43.5h1M46 43.5h2M19 44.5h1M45 44.5h1M44 45.5h1M22 46.5h1M42 46.5h2M23 47.5h1M41 47.5h1M24 48.5h1M39 48.5h2M25 49.5h1M33 49.5h7M26 50.5h2M31 50.5h7M28 51.5h3"/>
<path stroke="#a4ce5b" d="M12 30.5h2M11 31.5h1M17 31.5h9M10 32.5h1M27 32.5h10M11 33.5h1M37 33.5h6M11 34.5h1M42 34.5h5M11 35.5h1M46 35.5h4M49 36.5h2M12 37.5h1M50 37.5h2M51 38.5h1M50 39.5h2M14 40.5h1M50 40.5h1M15 41.5h1M49 41.5h2M16 42.5h1M49 42.5h1M48 43.5h1M46 44.5h1M20 45.5h1M45 45.5h1M21 46.5h1M44 46.5h1M22 47.5h1M42 47.5h2M23 48.5h1M41 48.5h1M24 49.5h1M40 49.5h1M25 50.5h1M38 50.5h2M26 51.5h2M31 51.5h7M28 52.5h4"/>
<path stroke="#aace4d" d="M10 30.5h2M14 30.5h10M9 31.5h2M26 31.5h11M37 32.5h6M10 33.5h1M43 33.5h5M10 34.5h1M47 34.5h4M10 35.5h1M50 35.5h3M11 36.5h1M51 36.5h2M11 37.5h1M52 37.5h2M12 38.5h1M52 38.5h2M13 39.5h1M52 39.5h1M51 40.5h2M51 41.5h1M50 42.5h1M17 43.5h1M49 43.5h1M18 44.5h1M47 44.5h2M19 45.5h1M46 45.5h1M20 46.5h1M45 46.5h1M21 47.5h1M44 47.5h1M22 48.5h1M42 48.5h2M23 49.5h1M41 49.5h1M24 50.5h1M40 50.5h1M25 51.5h1M38 51.5h2M26 52.5h2M32 52.5h6M28 53.5h4"/>
<path stroke="#b7d23d" d="M9 29.5h7M9 30.5h1M24 30.5h13M37 31.5h7M9 32.5h1M43 32.5h6M9 33.5h1M48 33.5h4M9 34.5h1M51 34.5h3M53 35.5h2M10 36.5h1M53 36.5h2M54 37.5h1M11 38.5h1M54 38.5h1M12 39.5h1M53 39.5h1M13 40.5h1M53 40.5h1M14 41.5h1M52 41.5h1M15 42.5h1M51 42.5h1M16 43.5h1M50 43.5h1M17 44.5h1M49 44.5h1M47 45.5h1M46 46.5h1M45 47.5h1M44 48.5h1M22 49.5h1M42 49.5h2M23 50.5h1M41 50.5h1M24 51.5h1M40 51.5h1M25 52.5h1M38 52.5h2M27 53.5h1M32 53.5h6M29 54.5h7"/>
<path stroke="#c3d632" d="M9 28.5h3M8 29.5h1M16 29.5h20M8 30.5h1M37 30.5h7M8 31.5h1M44 31.5h6M8 32.5h1M49 32.5h4M8 33.5h1M52 33.5h3M8 34.5h1M54 34.5h2M9 35.5h1M55 35.5h2M9 36.5h1M55 36.5h2M10 37.5h1M55 37.5h2M55 38.5h1M54 39.5h2M12 40.5h1M54 40.5h1M13 41.5h1M53 41.5h1M52 42.5h1M51 43.5h1M50 44.5h1M18 45.5h1M48 45.5h2M19 46.5h1M47 46.5h1M20 47.5h1M46 47.5h1M21 48.5h1M45 48.5h1M44 49.5h1M22 50.5h1M42 50.5h2M23 51.5h1M41 51.5h1M24 52.5h1M40 52.5h1M25 53.5h2M38 53.5h1M27 54.5h2M36 54.5h2M29 55.5h7"/>
<path stroke="#d0da28" d="M7 28.5h2M12 28.5h23M7 29.5h1M36 29.5h8M7 30.5h1M44 30.5h6M7 31.5h1M50 31.5h4M7 32.5h1M53 32.5h3M7 33.5h1M55 33.5h3M56 34.5h2M8 35.5h1M57 35.5h2M57 36.5h1M9 37.5h1M57 37.5h1M10 38.5h1M56 38.5h1M11 39.5h1M56 39.5h1M55 40.5h1M54 41.5h1M14 42.5h1M53 42.5h1M15 43.5h1M52 43.5h1M16 44.5h1M51 44.5h1M17 45.5h1M50 45.5h1M18 46.5h1M48 46.5h2M19 47.5h1M47 47.5h2M20 48.5h1M46 48.5h1M21 49.5h1M45 49.5h1M21 50.5h1M44 50.5h1M22 51.5h1M42 51.5h1M23 52.5h1M41 52.5h1M24 53.5h1M39 53.5h2M25 54.5h2M38 54.5h1M27 55.5h2M36 55.5h2M29 56.5h7"/>
<path stroke="#dde11f" d="M6 27.5h28M6 28.5h1M35 28.5h9M6 29.5h1M44 29.5h7M6 30.5h1M50 30.5h5M6 31.5h1M54 31.5h4M6 32.5h1M56 32.5h3M6 33.5h1M58 33.5h2M7 34.5h1M58 34.5h2M7 35.5h1M59 35.5h1M8 36.5h1M58 36.5h2M58 37.5h1M9 38.5h1M57 38.5h2M10 39.5h1M57 39.5h1M11 40.5h1M56 40.5h1M12 41.5h1M55 41.5h1M13 42.5h1M54 42.5h1M14 43.5h1M53 43.5h1M15 44.5h1M52 44.5h1M51 45.5h1M17 46.5h1M50 46.5h1M18 47.5h1M49 47.5h1M19 48.5h1M47 48.5h2M20 49.5h1M46 49.5h1M45 50.5h1M21 51.5h1M43 51.5h2M22 52.5h1M42 52.5h1M23 53.5h1M41 53.5h1M24 54.5h1M39 54.5h2M25 55.5h2M38 55.5h1M27 56.5h2M36 56.5h1M29 57.5h7"/>
<path stroke="#e8e61a" d="M5 26.5h26M5 27.5h1M34 27.5h10M5 28.5h1M44 28.5h7M5 29.5h1M51 29.5h5M5 30.5h1M55 30.5h4M5 31.5h1M58 31.5h2M5 32.5h1M59 32.5h2M60 33.5h2M6 34.5h1M60 34.5h2M60 35.5h2M7 36.5h1M60 36.5h1M8 37.5h1M59 37.5h1M59 38.5h1M58 39.5h1M57 40.5h1M56 41.5h1M55 42.5h1M54 43.5h1M53 44.5h1M16 45.5h1M52 45.5h1M51 46.5h1M17 47.5h1M50 47.5h1M18 48.5h1M49 48.5h1M19 49.5h1M47 49.5h1M20 50.5h1M46 50.5h1M45 51.5h1M21 52.5h1M43 52.5h2M22 53.5h1M42 53.5h1M23 54.5h1M41 54.5h1M24 55.5h1M39 55.5h1M25 56.5h2M37 56.5h2M27 57.5h2M36 57.5h1M28 58.5h8"/>
<path stroke="#f6ec18" d="M5 25.5h24M4 26.5h1M31 26.5h12M3 27.5h2M44 27.5h8M3 28.5h2M51 28.5h6M4 29.5h1M56 29.5h4M4 30.5h1M59 30.5h3M4 31.5h1M60 31.5h3M4 32.5h1M61 32.5h2M5 33.5h1M62 33.5h1M5 34.5h1M62 34.5h1M6 35.5h1M62 35.5h1M61 36.5h1M7 37.5h1M60 37.5h2M8 38.5h1M60 38.5h1M9 39.5h1M59 39.5h1M10 40.5h1M58 40.5h1M11 41.5h1M57 41.5h1M12 42.5h1M56 42.5h1M13 43.5h1M55 43.5h1M14 44.5h1M54 44.5h1M15 45.5h1M53 45.5h1M16 46.5h1M52 46.5h1M51 47.5h1M17 48.5h1M50 48.5h1M18 49.5h1M48 49.5h2M19 50.5h1M47 50.5h1M20 51.5h1M46 51.5h1M20 52.5h1M45 52.5h1M21 53.5h1M43 53.5h1M22 54.5h1M42 54.5h1M23 55.5h1M40 55.5h2M24 56.5h1M39 56.5h1M25 57.5h2M37 57.5h2M26 58.5h2M36 58.5h2M28 59.5h9M31 60.5h2"/>
<path stroke="#f9ea0e" d="M5 24.5h21M3 25.5h2M29 25.5h13M2 26.5h2M43 26.5h9M2 27.5h1M52 27.5h6M2 28.5h1M57 28.5h4M3 29.5h1M60 29.5h3M3 30.5h1M62 30.5h2M3 31.5h1M63 31.5h2M63 32.5h3M4 33.5h1M63 33.5h3M4 34.5h1M63 34.5h2M5 35.5h1M63 35.5h1M6 36.5h1M62 36.5h2M62 37.5h1M61 38.5h1M8 39.5h1M60 39.5h1M9 40.5h1M59 40.5h1M10 41.5h1M58 41.5h2M11 42.5h1M57 42.5h2M56 43.5h1M55 44.5h1M14 45.5h1M54 45.5h1M15 46.5h1M53 46.5h1M16 47.5h1M52 47.5h1M51 48.5h1M17 49.5h1M50 49.5h1M18 50.5h1M48 50.5h1M19 51.5h1M47 51.5h1M46 52.5h1M20 53.5h1M44 53.5h2M21 54.5h1M43 54.5h1M22 55.5h1M42 55.5h1M23 56.5h1M40 56.5h2M24 57.5h1M39 57.5h1M25 58.5h1M38 58.5h1M26 59.5h2M37 59.5h1M27 60.5h4M33 60.5h4M30 61.5h5"/>
<path stroke="#ffdc01" d="M6 23.5h19M2 24.5h3M26 24.5h16M2 25.5h1M42 25.5h10M1 26.5h1M52 26.5h7M1 27.5h1M58 27.5h4M1 28.5h1M61 28.5h3M2 29.5h1M63 29.5h3M2 30.5h1M64 30.5h2M2 31.5h1M65 31.5h1M3 32.5h1M3 33.5h1M65 34.5h1M4 35.5h1M64 35.5h2M5 36.5h1M64 36.5h1M6 37.5h1M63 37.5h1M7 38.5h1M62 38.5h1M61 39.5h1M60 40.5h2M60 41.5h1M59 42.5h1M12 43.5h1M57 43.5h2M13 44.5h1M56 44.5h2M55 45.5h2M14 46.5h1M54 46.5h1M15 47.5h1M53 47.5h1M16 48.5h1M52 48.5h1M51 49.5h1M17 50.5h1M49 50.5h2M18 51.5h1M48 51.5h1M19 52.5h1M47 52.5h1M19 53.5h1M46 53.5h1M20 54.5h1M44 54.5h2M21 55.5h1M43 55.5h1M22 56.5h1M42 56.5h1M23 57.5h1M40 57.5h2M24 58.5h1M39 58.5h2M25 59.5h1M38 59.5h2M26 60.5h1M37 60.5h2M27 61.5h3M35 61.5h3M29 62.5h6"/>
<path stroke="#feca08" d="M2 23.5h4M25 23.5h16M42 24.5h10M52 25.5h8M59 26.5h5M62 27.5h3M64 28.5h1M0 29.5h2M1 30.5h1M1 31.5h1M2 32.5h1M2 33.5h1M3 34.5h1M64 37.5h1M6 38.5h1M63 38.5h2M7 39.5h1M62 39.5h2M8 40.5h1M62 40.5h1M9 41.5h1M61 41.5h1M10 42.5h1M60 42.5h1M11 43.5h1M59 43.5h1M12 44.5h1M58 44.5h1M13 45.5h1M57 45.5h1M55 46.5h2M14 47.5h1M54 47.5h1M15 48.5h1M53 48.5h1M16 49.5h1M52 49.5h1M16 50.5h1M51 50.5h1M17 51.5h1M49 51.5h2M18 52.5h1M48 52.5h1M47 53.5h1M19 54.5h1M46 54.5h1M20 55.5h1M44 55.5h2M21 56.5h1M43 56.5h1M22 57.5h1M42 57.5h1M23 58.5h1M41 58.5h1M23 59.5h2M40 59.5h1M24 60.5h2M39 60.5h1M25 61.5h2M38 61.5h2M27 62.5h2M35 62.5h4M29 63.5h7"/>
<path stroke="#fcb911" d="M41 23.5h11M52 24.5h9M60 25.5h4M64 26.5h1M0 30.5h1M0 31.5h1M1 32.5h1M2 34.5h1M3 35.5h1M4 36.5h1M5 37.5h1M64 39.5h1M63 40.5h1M62 41.5h1M61 42.5h1M60 43.5h1M59 44.5h1M12 45.5h1M58 45.5h1M13 46.5h1M57 46.5h1M55 47.5h2M14 48.5h1M54 48.5h2M15 49.5h1M53 49.5h1M52 50.5h1M16 51.5h1M51 51.5h1M17 52.5h1M49 52.5h2M18 53.5h1M48 53.5h2M47 54.5h2M19 55.5h1M46 55.5h1M20 56.5h1M44 56.5h2M21 57.5h1M43 57.5h2M22 58.5h1M42 58.5h2M22 59.5h1M41 59.5h2M23 60.5h1M40 60.5h2M24 61.5h1M40 61.5h1M25 62.5h2M39 62.5h1M26 63.5h3M36 63.5h3M28 64.5h9"/>
<path stroke="#f9ab19" d="M52 23.5h9M61 24.5h3M0 32.5h1M0 33.5h2M2 35.5h1M3 36.5h1M4 37.5h1M5 38.5h1M6 39.5h1M7 40.5h1M8 41.5h1M63 41.5h1M9 42.5h1M62 42.5h2M10 43.5h1M61 43.5h2M11 44.5h1M60 44.5h2M59 45.5h2M12 46.5h1M58 46.5h2M13 47.5h1M57 47.5h2M56 48.5h2M14 49.5h1M54 49.5h3M15 50.5h1M53 50.5h3M52 51.5h3M16 52.5h1M51 52.5h3M17 53.5h1M50 53.5h3M18 54.5h1M49 54.5h3M18 55.5h1M47 55.5h4M19 56.5h1M46 56.5h4M20 57.5h1M45 57.5h4M21 58.5h1M44 58.5h4M21 59.5h1M43 59.5h3M22 60.5h1M42 60.5h3M23 61.5h1M41 61.5h2M24 62.5h1M40 62.5h2M25 63.5h1M39 63.5h2M26 64.5h2M37 64.5h3M32 65.5h2"/>
<path stroke="#f79e1c" d="M61 23.5h3M0 34.5h2M5 39.5h1M6 40.5h1M7 41.5h1M8 42.5h1M9 43.5h1M10 44.5h1M11 45.5h1M12 47.5h1M13 48.5h1M14 50.5h1M15 51.5h1M16 53.5h1M17 54.5h1M18 56.5h1M19 57.5h1M20 58.5h1M20 59.5h1M46 59.5h1M21 60.5h1M45 60.5h1M22 61.5h1M43 61.5h2M22 62.5h2M42 62.5h2M23 63.5h2M41 63.5h2M25 64.5h1M40 64.5h1"/>
<path stroke="#f68f1f" d="M0 35.5h2M2 36.5h1M3 37.5h1M4 38.5h1M9 44.5h1M10 45.5h1M11 46.5h1M11 47.5h1M12 48.5h1M13 49.5h1M13 50.5h1M14 51.5h1M15 52.5h1M16 54.5h1M17 55.5h1M17 56.5h1M18 57.5h1M19 58.5h1M19 59.5h1M20 60.5h1M21 61.5h1"/>
<path stroke="#f47e20" d="M1 36.5h1M2 37.5h1M3 38.5h1M4 39.5h1M5 40.5h1M6 41.5h1M7 42.5h1M8 43.5h1M9 45.5h1M10 46.5h1M11 48.5h1M12 49.5h1M13 51.5h1M14 52.5h1M15 53.5h1M15 54.5h1M16 55.5h1M16 56.5h1M17 57.5h1M18 58.5h1"/>
<path stroke="#f26b21" d="M5 41.5h1M6 42.5h1M7 43.5h1M8 44.5h1M9 46.5h1M10 47.5h1M11 49.5h1M12 50.5h1M13 52.5h1M14 53.5h1M14 54.5h1M15 55.5h1"/>
<path stroke="#ef5f22" d="M1 37.5h1M2 38.5h1M3 39.5h1M4 40.5h1M7 44.5h1M8 45.5h1M9 47.5h1M10 48.5h1M11 50.5h1M12 51.5h1M12 52.5h1M13 53.5h1"/>
<path stroke="#ee5222" d="M1 38.5h1M2 39.5h1M3 40.5h1M4 41.5h1M5 42.5h1M6 43.5h1M7 45.5h1M8 46.5h1M9 48.5h1M10 49.5h1M10 50.5h1M11 51.5h1"/>
<path stroke="#ef4823" d="M1 39.5h1M4 42.5h1M5 43.5h1M6 44.5h1M7 46.5h1M8 47.5h1M8 48.5h1M9 49.5h1"/>
<path stroke="#ef3b23" d="M2 40.5h1M3 41.5h1M4 43.5h1M5 44.5h1M6 45.5h1M6 46.5h1M7 47.5h1"/>
<path stroke="#ee2a24" d="M2 41.5h1M3 42.5h1M3 43.5h1M4 44.5h1M5 45.5h1"/>
<path stroke="#ec2024" d="M2 42.5h1"/>
</g>
<rect x="-142.5" y="-41.63" width="285" height="183.53" fill="url(#gp)"/>
<path fill="none" stroke="#3c4650" stroke-width="0.95" stroke-opacity="0.8" d="M-56.14 13.33 -58.99 13.85 -60.45 14.53 -62.54 18.12 -61.48 22.39 -60.45 25.68 -60.13 26.66 -57.99 30.93 -56.14 33.33 -54.75 35.2 -51.82 38.16 -50.56 39.46 -47.5 42.17 -45.74 43.73 -43.18 45.73 -40.25 48 -38.86 49 -34.55 52 -34.11 52.27 -30.23 54.62 -25.91 55.95 -21.59 56.04 -17.27 55.48 -12.95 54.6 -8.64 53.64 -4.32 52.51 -3.56 52.27 0 51.15 4.32 49.52 7.87 48 8.64 47.65 12.95 45.56 16.21 43.73 17.27 42.96 21.59 39.48 21.61 39.46 21.59 39.18 21.36 35.2 17.27 33.07 13.05 30.93 12.95 30.89 8.64 29.13 4.32 27.37 2.6 26.66 0 25.74 -4.32 24.24 -8.64 22.7 -9.51 22.39 -12.95 21.32 -17.27 20 -21.59 18.67 -23.45 18.12 -25.91 17.47 -30.23 16.39 -34.55 15.37 -38.86 14.44 -42.21 13.85 -43.18 13.7 -47.5 13.27 -51.82 13.1 -56.14 13.33M-82.05 -1.73 -86.02 1.05 -86.33 5.32 -85.28 9.59 -83.98 13.85 -82.61 18.12 -82.05 19.43 -80.85 22.39 -78.18 26.66 -77.73 27.23 -74.9 30.93 -73.41 32.55 -71.02 35.2 -69.09 37.01 -66.52 39.46 -64.77 41.01 -61.69 43.73 -60.45 44.77 -56.61 48 -56.14 48.39 -51.82 51.85 -51.28 52.27 -47.5 55.25 -45.8 56.54 -43.18 58.6 -40.25 60.8 -38.86 61.93 -34.73 65.07 -34.55 65.23 -30.23 68.68 -29.08 69.34 -25.91 71.81 -22.15 73.61 -21.59 73.89 -17.27 74.53 -12.95 73.76 -12.56 73.61 -8.64 71.93 -4.32 70.03 -2.07 69.34 0 68.84 4.32 68.13 8.64 67.92 12.95 67.86 17.27 67.69 21.59 67.12 25.91 65.96 27.62 65.07 30.23 63.86 34.55 61.05 34.9 60.8 38.86 58.13 41.16 56.54 43.18 55.09 47.08 52.27 47.5 51.94 51.82 48.55 52.53 48 56.14 44.81 57.39 43.73 60.45 40.43 61.38 39.46 63.86 35.2 64.77 31.61 64.96 30.93 64.77 29.4 64.28 26.66 60.45 23.26 59.18 22.39 56.14 20.78 51.82 19.09 48.97 18.12 47.5 17.66 43.18 16.39 38.86 15.18 34.55 14.05 33.76 13.85 30.23 13.03 25.91 12.07 21.59 11.17 17.27 10.34 13.05 9.59 12.95 9.57 8.64 8.9 4.32 8.28 0 7.73 -4.32 7.22 -8.64 6.78 -12.95 6.39 -17.27 6.05 -21.59 5.76 -25.91 5.5 -29.7 5.32 -30.23 5.29 -34.55 4.46 -38.86 3.6 -43.18 2.79 -47.5 1.95 -51.82 1.06 -51.86 1.05 -56.14 0.13 -60.45 -0.67 -64.77 -1.36 -69.09 -1.94 -73.41 -2.29 -77.73 -2.33 -82.05 -1.73M-103.64 -16.17 -103.92 -16.02 -106.87 -11.75 -107.18 -7.49 -106.68 -3.22 -105.71 1.05 -104.43 5.32 -103.64 7.63 -102.97 9.59 -101.39 13.85 -99.32 17.6 -99.05 18.12 -95.98 22.39 -95 23.6 -92.57 26.66 -90.68 28.85 -88.92 30.93 -86.36 33.6 -84.85 35.2 -82.05 37.81 -80.28 39.46 -77.73 41.75 -75.5 43.73 -73.41 45.56 -70.58 48 -69.09 49.32 -65.66 52.27 -64.77 53.1 -60.88 56.54 -60.45 56.98 -56.44 60.8 -56.14 61.16 -52.56 65.07 -51.82 65.96 -48.88 69.34 -47.5 70.98 -45.17 73.61 -43.18 75.86 -41.31 77.88 -38.86 80.52 -37.26 82.15 -34.55 84.89 -32.76 86.41 -30.23 88.43 -26.59 90.68 -25.91 91.09 -21.59 93.15 -17.27 94.71 -16.34 94.95 -12.95 95.86 -8.64 96.56 -4.32 96.11 0 95.01 4.32 95.07 8.64 95.05 9.01 94.95 12.95 93.94 17.27 92.18 20.16 90.68 21.59 89.94 25.91 87.3 27.23 86.41 30.23 84.36 33.42 82.15 34.55 81.34 38.86 78.27 39.41 77.88 43.18 75.11 45.23 73.61 47.5 71.89 50.9 69.34 51.82 68.58 56.14 65.1 56.17 65.07 60.45 61.18 60.88 60.8 64.77 57.44 65.73 56.54 69.09 53.81 70.88 52.27 73.41 50.24 76.14 48 77.73 46.69 81.31 43.73 82.05 43.05 85.96 39.46 86.36 38.98 89.66 35.2 90.68 33.74 92.73 30.93 95 27.36 95.46 26.66 97.78 22.39 99.28 18.12 98.76 13.85 95.73 9.59 95 8.83 91.04 5.32 90.68 5.07 86.36 2.48 83.23 1.05 82.05 0.62 77.73 -0.62 73.41 -1.69 69.09 -2.7 66.76 -3.22 64.77 -3.63 60.45 -4.49 56.14 -5.3 51.82 -6.07 47.5 -6.8 43.18 -7.48 43.17 -7.49 38.86 -8.12 34.55 -8.71 30.23 -9.28 25.91 -9.82 21.59 -10.34 17.27 -10.83 12.95 -11.3 8.64 -11.74 8.47 -11.75 4.32 -12.14 0 -12.52 -4.32 -12.88 -8.64 -13.21 -12.95 -13.51 -17.27 -13.79 -21.59 -14.04 -25.91 -14.26 -30.23 -14.46 -34.55 -14.62 -38.86 -14.75 -43.18 -14.85 -47.5 -14.92 -51.82 -14.95 -56.14 -14.94 -60.45 -14.88 -64.77 -14.78 -69.09 -14.74 -73.41 -14.83 -77.73 -15.05 -82.05 -15.5 -85.86 -16.02 -86.36 -16.1 -90.68 -16.64 -95 -16.93 -99.32 -16.95 -103.64 -16.17M-86.36 -33.13 -88.53 -33.1 -90.68 -33.06 -95 -32.94 -99.32 -32.78 -103.64 -32.58 -107.95 -32.43 -112.27 -32.31 -116.59 -32.41 -120.91 -32.22 -125.23 -30.03 -126.33 -28.83 -128.14 -24.56 -128.57 -20.29 -128.22 -16.02 -127.38 -11.75 -126.22 -7.49 -125.23 -4.52 -124.81 -3.22 -123.23 1.05 -121.5 5.32 -120.91 6.45 -119.41 9.59 -116.59 13.64 -116.46 13.85 -112.99 18.12 -112.27 18.94 -109.33 22.39 -107.95 23.96 -105.62 26.66 -103.64 28.89 -101.82 30.93 -99.32 33.53 -97.71 35.2 -95 37.76 -93.19 39.46 -90.68 41.78 -88.53 43.73 -86.36 45.76 -83.89 48 -82.05 49.88 -79.56 52.27 -77.73 54.44 -75.8 56.54 -73.41 59.69 -72.53 60.8 -69.38 65.07 -69.09 65.47 -66.26 69.34 -64.77 71.4 -63.13 73.61 -60.45 77.22 -59.95 77.88 -56.68 82.15 -56.14 82.86 -53.32 86.41 -51.82 88.3 -49.84 90.68 -47.5 93.5 -46.23 94.95 -43.18 98.43 -42.43 99.22 -38.86 102.82 -38.06 103.49 -34.55 106.58 -32.98 107.75 -30.23 109.92 -27.09 112.02 -25.91 112.85 -21.59 115.37 -19.6 116.29 -17.27 117.38 -12.95 118.75 -8.64 119.4 -4.32 119.51 0 119.46 4.32 119.09 8.64 118.2 12.95 116.99 14.4 116.29 17.27 114.41 19.74 112.02 21.59 110.45 24.48 107.75 25.91 106.61 29.56 103.49 30.23 103.02 34.55 99.89 35.45 99.22 38.86 96.83 41.43 94.95 43.18 93.69 47.23 90.68 47.5 90.49 51.82 87.25 52.9 86.41 56.14 83.96 58.47 82.15 60.45 80.62 63.96 77.88 64.77 77.25 69.09 73.87 69.42 73.61 73.41 70.48 74.84 69.34 77.73 67.05 80.2 65.07 82.05 63.56 85.44 60.8 86.36 60 90.44 56.54 90.68 56.3 95 52.3 95.04 52.27 99.19 48 99.32 47.88 103.64 43.87 103.78 43.73 107.95 40.04 108.6 39.46 112.27 35.68 112.75 35.2 116.44 30.93 116.59 30.74 119.91 26.66 120.91 25.37 123.32 22.39 125.23 19.81 126.54 18.12 129.42 13.85 129.55 13.61 131.76 9.59 133.19 5.32 132.86 1.05 131.03 -3.22 129.55 -5.34 127.81 -7.49 125.23 -9.8 122.69 -11.75 120.91 -12.85 116.59 -15.18 114.81 -16.02 112.27 -17.04 107.95 -18.46 103.64 -19.51 99.73 -20.29 99.32 -20.37 95 -21.13 90.68 -21.85 86.36 -22.52 82.05 -23.16 77.73 -23.76 73.41 -24.33 71.57 -24.56 69.09 -24.86 64.77 -25.35 60.45 -25.82 56.14 -26.27 51.82 -26.7 47.5 -27.11 43.18 -27.5 38.86 -27.88 34.55 -28.24 30.23 -28.59 27.26 -28.83 25.91 -28.93 21.59 -29.26 17.27 -29.58 12.95 -29.88 8.64 -30.18 4.32 -30.45 0 -30.72 -4.32 -30.97 -8.64 -31.21 -12.95 -31.44 -17.27 -31.65 -21.59 -31.85 -25.91 -32.03 -30.23 -32.2 -34.55 -32.36 -38.86 -32.51 -43.18 -32.64 -47.5 -32.76 -51.82 -32.86 -56.14 -32.95 -60.45 -33.03 -64.77 -33.09 -65.13 -33.1 -69.09 -33.14 -73.41 -33.18 -77.73 -33.19 -82.05 -33.18 -86.36 -33.13M133.86 -37.9 129.55 -38.65 125.23 -39.27 120.91 -39.83 116.59 -40.37 112.27 -40.88 107.95 -41.37 105.65 -41.63M-138.18 4.76 -137.83 5.32 -134.29 9.59 -133.86 10.03 -130.39 13.85 -129.55 14.71 -126.33 18.12 -125.23 19.23 -122.23 22.39 -120.91 23.77 -118.23 26.66 -116.59 28.46 -114.37 30.93 -112.27 33.16 -110.34 35.2 -107.95 37.53 -105.96 39.46 -103.64 41.73 -101.53 43.73 -99.32 46.12 -97.48 48 -95 51.19 -94.11 52.27 -91.07 56.54 -90.68 57.11 -88.15 60.8 -86.36 63.5 -85.31 65.07 -82.46 69.34 -82.05 69.96 -79.57 73.61 -77.73 76.33 -76.66 77.88 -73.71 82.15 -73.41 82.58 -70.69 86.41 -69.09 88.69 -67.65 90.68 -64.77 94.71 -64.6 94.95 -61.52 99.22 -60.45 100.74 -58.44 103.49 -56.14 106.72 -55.35 107.75 -52.2 112.02 -51.82 112.54 -48.91 116.29 -47.5 118.11 -45.47 120.56 -43.18 123.31 -41.8 124.83 -38.86 128.04 -37.81 129.1 -34.55 132.31 -33.31 133.36 -30.23 135.75 -26.96 137.63M121.67 51.51 125.1 48 125.23 47.88 129.3 43.73 129.55 43.49 133.56 39.46 133.86 39.16M27.12 137.63 30.23 136.01 34.14 133.36 34.55 132.97 38.1 129.1 38.86 128.09 42.52 124.83 43.18 124.15 47.47 120.56 47.5 120.53 51.82 117.31 53.41 116.29 56.14 114.38 59.64 112.02 60.45 111.47 62.6 109.9M-138.18 20.37 -135.96 22.39 -133.86 24.3 -131.4 26.66 -129.55 28.51 -127.21 30.93 -125.23 33.1 -123.32 35.2 -120.91 37.72 -119.2 39.46 -116.59 42.41 -115.34 43.73 -112.27 47.8 -112.12 48 -109.12 52.27 -107.95 53.96 -106.19 56.54 -103.64 60.26 -103.27 60.8 -100.32 65.07 -99.32 66.52 -97.36 69.34 -95 72.76 -94.42 73.61 -91.6 77.88 -90.68 79.39 -88.96 82.15 -86.52 86.26"/>
<use href="#head"/>
</g>
<g transform="translate(822.6 203.5)">
<circle r="147.5" fill="none" stroke="#ebf2fb" stroke-width="10.4"/>
<g transform="translate(-142.5 -139.8) scale(4.3182 4.2682)" fill="none" stroke-width="1" shape-rendering="crispEdges">
<path stroke="#3db8ec" d="M25 40.5h4M26 41.5h5"/>
<path stroke="#39c2f0" d="M23 39.5h6M24 40.5h1M29 40.5h3M24 41.5h2M31 41.5h2M25 42.5h7"/>
<path stroke="#53c8ea" d="M22 38.5h7M22 39.5h1M29 39.5h3M22 40.5h2M32 40.5h2M23 41.5h1M33 41.5h2M24 42.5h1M32 42.5h2M25 43.5h7"/>
<path stroke="#69cadf" d="M20 37.5h7M20 38.5h2M29 38.5h2M20 39.5h2M32 39.5h1M21 40.5h1M34 40.5h1M22 41.5h1M35 41.5h1M23 42.5h1M34 42.5h2M24 43.5h1M32 43.5h2M26 44.5h5"/>
<path stroke="#6fcad3" d="M19 36.5h7M19 37.5h1M27 37.5h2M19 38.5h1M31 38.5h1M19 39.5h1M33 39.5h2M20 40.5h1M35 40.5h2M21 41.5h1M36 41.5h2M22 42.5h1M36 42.5h1M23 43.5h1M34 43.5h2M25 44.5h1M31 44.5h3M27 45.5h3"/>
<path stroke="#71c9c7" d="M18 35.5h6M17 36.5h2M26 36.5h2M18 37.5h1M29 37.5h2M18 38.5h1M32 38.5h2M18 39.5h1M35 39.5h2M19 40.5h1M37 40.5h2M20 41.5h1M38 41.5h2M21 42.5h1M37 42.5h3M22 43.5h1M36 43.5h3M24 44.5h1M34 44.5h2M25 45.5h2M30 45.5h3"/>
<path stroke="#74c8bb" d="M17 34.5h4M16 35.5h2M24 35.5h2M16 36.5h1M28 36.5h2M17 37.5h1M31 37.5h3M17 38.5h1M34 38.5h4M17 39.5h1M37 39.5h3M18 40.5h1M39 40.5h3M19 41.5h1M40 41.5h3M20 42.5h1M40 42.5h2M39 43.5h2M23 44.5h1M36 44.5h3M24 45.5h1M33 45.5h3M26 46.5h6"/>
<path stroke="#79c8ae" d="M15 34.5h2M21 34.5h3M15 35.5h1M26 35.5h3M15 36.5h1M30 36.5h5M16 37.5h1M34 37.5h5M16 38.5h1M38 38.5h4M40 39.5h4M17 40.5h1M42 40.5h2M18 41.5h1M43 41.5h1M42 42.5h1M21 43.5h1M41 43.5h1M22 44.5h1M39 44.5h2M36 45.5h3M25 46.5h1M32 46.5h4M27 47.5h5"/>
<path stroke="#7dc8a2" d="M14 33.5h8M14 34.5h1M24 34.5h3M14 35.5h1M29 35.5h7M14 36.5h1M35 36.5h5M15 37.5h1M39 37.5h4M15 38.5h1M42 38.5h3M16 39.5h1M44 39.5h2M44 40.5h2M44 41.5h2M19 42.5h1M43 42.5h2M20 43.5h1M42 43.5h2M21 44.5h1M41 44.5h1M23 45.5h1M39 45.5h2M24 46.5h1M36 46.5h3M26 47.5h1M32 47.5h4M27 48.5h4"/>
<path stroke="#82c997" d="M13 32.5h6M13 33.5h1M22 33.5h4M13 34.5h1M27 34.5h9M13 35.5h1M36 35.5h5M13 36.5h1M40 36.5h4M14 37.5h1M43 37.5h4M14 38.5h1M45 38.5h3M15 39.5h1M46 39.5h2M16 40.5h1M46 40.5h2M17 41.5h1M46 41.5h1M18 42.5h1M45 42.5h1M19 43.5h1M44 43.5h1M42 44.5h1M22 45.5h1M41 45.5h1M23 46.5h1M39 46.5h1M25 47.5h1M36 47.5h2M26 48.5h1M31 48.5h4M28 49.5h4"/>
<path stroke="#87c889" d="M13 31.5h3M12 32.5h1M19 32.5h7M12 33.5h1M26 33.5h11M12 34.5h1M36 34.5h6M12 35.5h1M41 35.5h5M12 36.5h1M44 36.5h4M13 37.5h1M47 37.5h2M48 38.5h2M14 39.5h1M48 39.5h1M15 40.5h1M48 40.5h1M16 41.5h1M47 41.5h1M17 42.5h1M46 42.5h1M45 43.5h1M20 44.5h1M43 44.5h1M21 45.5h1M42 45.5h1M22 46.5h1M40 46.5h2M24 47.5h1M38 47.5h2M25 48.5h1M35 48.5h3M26 49.5h2M32 49.5h4M27 50.5h5"/>
<path stroke="#8fc978" d="M11 31.5h2M16 31.5h6M11 32.5h1M26 32.5h11M11 33.5h1M37 33.5h6M11 34.5h1M42 34.5h5M11 35.5h1M46 35.5h3M48 36.5h2M12 37.5h1M49 37.5h2M13 38.5h1M50 38.5h1M49 39.5h2M49 40.5h1M48 41.5h1M47 42.5h1M18 43.5h1M46 43.5h1M19 44.5h1M44 44.5h2M20 45.5h1M43 45.5h1M42 46.5h1M23 47.5h1M40 47.5h1M24 48.5h1M38 48.5h2M25 49.5h1M36 49.5h2M26 50.5h1M32 50.5h4M27 51.5h6"/>
<path stroke="#9bcc68" d="M10 30.5h8M10 31.5h1M22 31.5h15M10 32.5h1M37 32.5h7M10 33.5h1M43 33.5h5M10 34.5h1M47 34.5h4M10 35.5h1M49 35.5h3M11 36.5h1M50 36.5h3M11 37.5h1M51 37.5h2M12 38.5h1M51 38.5h1M13 39.5h1M51 39.5h1M14 40.5h1M50 40.5h1M15 41.5h1M49 41.5h1M16 42.5h1M48 42.5h1M17 43.5h1M47 43.5h1M18 44.5h1M44 45.5h1M21 46.5h1M43 46.5h1M22 47.5h1M41 47.5h1M23 48.5h1M40 48.5h1M24 49.5h1M38 49.5h2M25 50.5h1M36 50.5h2M26 51.5h1M33 51.5h4M27 52.5h7M30 53.5h1"/>
<path stroke="#a4ce5b" d="M10 29.5h4M9 30.5h1M18 30.5h19M9 31.5h1M37 31.5h7M9 32.5h1M44 32.5h5M9 33.5h1M48 33.5h4M9 34.5h1M51 34.5h2M9 35.5h1M52 35.5h2M10 36.5h1M53 36.5h1M53 37.5h1M11 38.5h1M52 38.5h2M12 39.5h1M52 39.5h1M13 40.5h1M51 40.5h1M14 41.5h1M50 41.5h1M15 42.5h1M49 42.5h1M48 43.5h1M46 44.5h1M19 45.5h1M45 45.5h1M20 46.5h1M44 46.5h1M21 47.5h1M42 47.5h1M22 48.5h1M41 48.5h1M23 49.5h1M40 49.5h1M24 50.5h1M38 50.5h2M25 51.5h1M37 51.5h2M26 52.5h1M34 52.5h3M27 53.5h3M31 53.5h4M30 54.5h2"/>
<path stroke="#aace4d" d="M8 29.5h2M14 29.5h22M8 30.5h1M37 30.5h8M8 31.5h1M44 31.5h6M8 32.5h1M49 32.5h4M8 33.5h1M52 33.5h2M8 34.5h1M53 34.5h2M54 35.5h2M9 36.5h1M54 36.5h2M10 37.5h1M54 37.5h1M54 38.5h1M53 39.5h1M52 40.5h1M51 41.5h1M50 42.5h1M16 43.5h1M49 43.5h1M17 44.5h1M47 44.5h1M18 45.5h1M46 45.5h1M19 46.5h1M45 46.5h1M20 47.5h1M43 47.5h1M21 48.5h1M42 48.5h1M22 49.5h1M41 49.5h1M23 50.5h1M40 50.5h1M24 51.5h1M39 51.5h1M25 52.5h1M37 52.5h2M26 53.5h1M35 53.5h2M27 54.5h3M32 54.5h4M29 55.5h5"/>
<path stroke="#b7d23d" d="M7 28.5h28M7 29.5h1M36 29.5h9M7 30.5h1M45 30.5h6M7 31.5h1M50 31.5h4M7 32.5h1M53 32.5h3M7 33.5h1M54 33.5h3M7 34.5h1M55 34.5h2M8 35.5h1M56 35.5h1M8 36.5h1M56 36.5h1M9 37.5h1M55 37.5h2M10 38.5h1M55 38.5h1M11 39.5h1M54 39.5h1M12 40.5h1M53 40.5h1M13 41.5h1M52 41.5h1M14 42.5h1M51 42.5h1M15 43.5h1M50 43.5h1M16 44.5h1M48 44.5h1M47 45.5h1M46 46.5h1M44 47.5h2M20 48.5h1M43 48.5h1M21 49.5h1M42 49.5h1M22 50.5h1M41 50.5h1M23 51.5h1M40 51.5h1M24 52.5h1M39 52.5h1M25 53.5h1M37 53.5h2M26 54.5h1M36 54.5h1M27 55.5h2M34 55.5h2M29 56.5h6"/>
<path stroke="#c3d632" d="M7 27.5h26M6 28.5h1M35 28.5h10M6 29.5h1M45 29.5h6M6 30.5h1M51 30.5h4M6 31.5h1M54 31.5h3M6 32.5h1M56 32.5h2M6 33.5h1M57 33.5h2M57 34.5h2M7 35.5h1M57 35.5h2M57 36.5h1M57 37.5h1M9 38.5h1M56 38.5h1M10 39.5h1M55 39.5h1M11 40.5h1M54 40.5h1M12 41.5h1M53 41.5h1M13 42.5h1M52 42.5h1M51 43.5h1M49 44.5h1M17 45.5h1M48 45.5h1M18 46.5h1M47 46.5h1M19 47.5h1M46 47.5h1M19 48.5h1M44 48.5h2M20 49.5h1M43 49.5h1M21 50.5h1M42 50.5h1M22 51.5h1M41 51.5h1M23 52.5h1M40 52.5h1M24 53.5h1M39 53.5h1M24 54.5h2M37 54.5h2M26 55.5h1M36 55.5h2M27 56.5h2M35 56.5h1M28 57.5h7M30 58.5h4"/>
<path stroke="#d0da28" d="M6 26.5h24M5 27.5h2M33 27.5h11M5 28.5h1M45 28.5h7M5 29.5h1M51 29.5h5M5 30.5h1M55 30.5h3M5 31.5h1M57 31.5h2M5 32.5h1M58 32.5h2M5 33.5h1M59 33.5h1M6 34.5h1M59 34.5h2M6 35.5h1M59 35.5h1M7 36.5h1M58 36.5h2M8 37.5h1M58 37.5h1M57 38.5h1M56 39.5h1M55 40.5h1M54 41.5h1M53 42.5h1M14 43.5h1M52 43.5h1M15 44.5h1M50 44.5h1M16 45.5h1M49 45.5h1M17 46.5h1M48 46.5h1M18 47.5h1M47 47.5h1M46 48.5h1M19 49.5h1M44 49.5h2M20 50.5h1M43 50.5h1M21 51.5h1M42 51.5h1M22 52.5h1M41 52.5h1M23 53.5h1M40 53.5h1M23 54.5h1M39 54.5h1M24 55.5h2M38 55.5h1M25 56.5h2M36 56.5h2M26 57.5h2M35 57.5h2M28 58.5h2M34 58.5h2M29 59.5h6M31 60.5h3"/>
<path stroke="#dde11f" d="M11 25.5h14M4 26.5h2M30 26.5h14M4 27.5h1M44 27.5h9M3 28.5h2M52 28.5h6M3 29.5h2M56 29.5h4M4 30.5h1M58 30.5h3M4 31.5h1M59 31.5h3M4 32.5h1M60 32.5h2M4 33.5h1M60 33.5h2M5 34.5h1M61 34.5h1M60 35.5h1M6 36.5h1M60 36.5h1M7 37.5h1M59 37.5h1M8 38.5h1M58 38.5h1M9 39.5h1M57 39.5h1M10 40.5h1M56 40.5h1M11 41.5h1M55 41.5h1M12 42.5h1M54 42.5h1M13 43.5h1M53 43.5h1M14 44.5h1M51 44.5h1M15 45.5h1M50 45.5h1M16 46.5h1M49 46.5h1M17 47.5h1M48 47.5h1M18 48.5h1M47 48.5h1M18 49.5h1M46 49.5h1M19 50.5h1M44 50.5h1M20 51.5h1M43 51.5h1M21 52.5h1M42 52.5h1M21 53.5h2M41 53.5h1M22 54.5h1M40 54.5h1M23 55.5h1M39 55.5h1M24 56.5h1M38 56.5h1M25 57.5h1M37 57.5h1M26 58.5h2M36 58.5h1M27 59.5h2M35 59.5h2M28 60.5h3M34 60.5h2M29 61.5h6M31 62.5h3"/>
<path stroke="#e8e61a" d="M3 25.5h8M25 25.5h18M3 26.5h1M44 26.5h9M2 27.5h2M53 27.5h6M2 28.5h1M58 28.5h3M2 29.5h1M60 29.5h2M3 30.5h1M61 30.5h2M3 31.5h1M62 31.5h2M3 32.5h1M62 32.5h2M62 33.5h2M4 34.5h1M62 34.5h1M5 35.5h1M61 35.5h2M61 36.5h1M60 37.5h1M7 38.5h1M59 38.5h1M8 39.5h1M58 39.5h1M9 40.5h1M57 40.5h1M10 41.5h1M56 41.5h1M55 42.5h1M52 44.5h1M51 45.5h1M15 46.5h1M50 46.5h1M16 47.5h1M49 47.5h1M17 48.5h1M48 48.5h1M47 49.5h1M18 50.5h1M45 50.5h2M19 51.5h1M44 51.5h1M20 52.5h1M43 52.5h1M20 53.5h1M42 53.5h1M21 54.5h1M41 54.5h1M22 55.5h1M40 55.5h1M23 56.5h1M39 56.5h1M24 57.5h1M38 57.5h1M24 58.5h2M37 58.5h2M25 59.5h2M37 59.5h1M26 60.5h2M36 60.5h2M27 61.5h2M35 61.5h2M28 62.5h3M34 62.5h2M29 63.5h7M30 64.5h5M32 65.5h2"/>
<path stroke="#f6ec18" d="M2 24.5h40M2 25.5h1M43 25.5h10M1 26.5h2M53 26.5h7M1 27.5h1M59 27.5h3M1 28.5h1M61 28.5h3M1 29.5h1M62 29.5h3M2 30.5h1M63 30.5h3M2 31.5h1M64 31.5h2M2 32.5h1M64 32.5h2M3 33.5h1M64 33.5h2M3 34.5h1M63 34.5h2M4 35.5h1M63 35.5h1M5 36.5h1M62 36.5h1M6 37.5h1M61 37.5h1M60 38.5h1M59 39.5h1M58 40.5h1M57 41.5h1M11 42.5h1M56 42.5h1M12 43.5h1M54 43.5h1M13 44.5h1M53 44.5h1M14 45.5h1M52 45.5h1M51 46.5h1M15 47.5h1M50 47.5h1M16 48.5h1M49 48.5h1M17 49.5h1M48 49.5h1M17 50.5h1M47 50.5h1M18 51.5h1M45 51.5h2M19 52.5h1M44 52.5h1M43 53.5h1M20 54.5h1M42 54.5h1M21 55.5h1M41 55.5h1M22 56.5h1M40 56.5h1M22 57.5h2M39 57.5h1M23 58.5h1M39 58.5h1M24 59.5h1M38 59.5h1M25 60.5h1M38 60.5h1M25 61.5h2M37 61.5h2M26 62.5h2M36 62.5h2M27 63.5h2M36 63.5h1M27 64.5h3M35 64.5h2"/>
<path stroke="#f9ea0e" d="M2 23.5h40M42 24.5h11M53 25.5h8M60 26.5h4M62 27.5h3M64 28.5h1M0 29.5h1M65 29.5h1M0 30.5h2M0 31.5h2M1 32.5h1M2 33.5h1M65 34.5h1M3 35.5h1M64 35.5h2M4 36.5h1M63 36.5h1M5 37.5h1M62 37.5h1M6 38.5h1M61 38.5h1M7 39.5h1M60 39.5h1M8 40.5h1M59 40.5h1M9 41.5h1M58 41.5h1M10 42.5h1M57 42.5h1M11 43.5h1M55 43.5h1M12 44.5h1M54 44.5h1M13 45.5h1M53 45.5h1M14 46.5h1M52 46.5h1M51 47.5h1M15 48.5h1M50 48.5h1M16 49.5h1M49 49.5h1M48 50.5h1M17 51.5h1M47 51.5h1M18 52.5h1M45 52.5h2M19 53.5h1M44 53.5h1M19 54.5h1M43 54.5h1M20 55.5h1M42 55.5h1M21 56.5h1M41 56.5h1M21 57.5h1M40 57.5h1M22 58.5h1M40 58.5h1M23 59.5h1M39 59.5h1M23 60.5h2M39 60.5h1M24 61.5h1M39 61.5h1M24 62.5h2M38 62.5h2M25 63.5h2M37 63.5h2M25 64.5h2M37 64.5h2"/>
<path stroke="#ffdc01" d="M42 23.5h12M53 24.5h9M61 25.5h3M64 26.5h1M0 32.5h1M1 33.5h1M2 34.5h1M64 36.5h1M63 37.5h1M62 38.5h1M61 39.5h1M60 40.5h1M59 41.5h1M58 42.5h1M56 43.5h2M55 44.5h2M12 45.5h1M54 45.5h1M13 46.5h1M53 46.5h1M14 47.5h1M52 47.5h1M14 48.5h1M51 48.5h1M15 49.5h1M50 49.5h1M16 50.5h1M49 50.5h1M16 51.5h1M48 51.5h1M17 52.5h1M47 52.5h1M18 53.5h1M45 53.5h2M18 54.5h1M44 54.5h2M19 55.5h1M43 55.5h2M20 56.5h1M42 56.5h2M20 57.5h1M41 57.5h2M21 58.5h1M41 58.5h1M21 59.5h2M40 59.5h1M22 60.5h1M40 60.5h1M22 61.5h2M40 61.5h1M23 62.5h1M40 62.5h1M23 63.5h2M39 63.5h2M39 64.5h2"/>
<path stroke="#feca08" d="M54 23.5h9M62 24.5h2M0 33.5h1M0 34.5h2M2 35.5h1M3 36.5h1M4 37.5h1M64 37.5h1M5 38.5h1M63 38.5h1M6 39.5h1M62 39.5h1M7 40.5h1M61 40.5h1M8 41.5h1M60 41.5h1M9 42.5h1M59 42.5h1M10 43.5h1M58 43.5h1M11 44.5h1M57 44.5h1M55 45.5h2M12 46.5h1M54 46.5h1M13 47.5h1M53 47.5h1M52 48.5h1M14 49.5h1M51 49.5h1M15 50.5h1M50 50.5h1M49 51.5h1M16 52.5h1M48 52.5h1M17 53.5h1M47 53.5h1M17 54.5h1M46 54.5h1M18 55.5h1M45 55.5h1M19 56.5h1M44 56.5h1M19 57.5h1M43 57.5h1M20 58.5h1M42 58.5h1M20 59.5h1M41 59.5h2M20 60.5h2M41 60.5h2M21 61.5h1M41 61.5h2M22 62.5h1M41 62.5h3M41 63.5h2"/>
<path stroke="#fcb911" d="M63 23.5h1M0 35.5h2M2 36.5h1M3 37.5h1M4 38.5h1M64 38.5h1M5 39.5h1M63 39.5h1M6 40.5h1M62 40.5h1M7 41.5h1M61 41.5h1M8 42.5h1M60 42.5h1M9 43.5h1M59 43.5h1M10 44.5h1M58 44.5h1M11 45.5h1M57 45.5h1M55 46.5h2M12 47.5h1M54 47.5h2M13 48.5h1M53 48.5h1M13 49.5h1M52 49.5h1M14 50.5h1M51 50.5h1M15 51.5h1M50 51.5h1M15 52.5h1M49 52.5h1M16 53.5h1M48 53.5h2M47 54.5h2M17 55.5h1M46 55.5h2M18 56.5h1M45 56.5h2M18 57.5h1M44 57.5h4M18 58.5h2M43 58.5h5M19 59.5h1M43 59.5h4M43 60.5h3M43 61.5h2"/>
<path stroke="#f9ab19" d="M1 36.5h1M64 39.5h1M63 40.5h1M62 41.5h1M61 42.5h1M60 43.5h1M9 44.5h1M59 44.5h1M10 45.5h1M58 45.5h1M11 46.5h1M57 46.5h1M11 47.5h1M56 47.5h1M12 48.5h1M54 48.5h2M53 49.5h2M13 50.5h1M52 50.5h2M14 51.5h1M51 51.5h3M50 52.5h3M15 53.5h1M50 53.5h3M16 54.5h1M49 54.5h3M16 55.5h1M48 55.5h3M16 56.5h2M47 56.5h3M17 57.5h1M48 57.5h1"/>
<path stroke="#f79e1c" d="M2 37.5h1M3 38.5h1M4 39.5h1M5 40.5h1M6 41.5h1M63 41.5h1M7 42.5h1M62 42.5h2M8 43.5h1M61 43.5h2M60 44.5h2M9 45.5h1M59 45.5h2M10 46.5h1M58 46.5h2M57 47.5h2M11 48.5h1M56 48.5h2M12 49.5h1M55 49.5h2M54 50.5h2M13 51.5h1M54 51.5h1M14 52.5h1M53 52.5h1M14 53.5h1M14 54.5h2M15 55.5h1"/>
<path stroke="#f68f1f" d="M1 37.5h1M2 38.5h1M3 39.5h1M4 40.5h1M5 41.5h1M6 42.5h1M7 43.5h1M8 44.5h1M9 46.5h1M10 47.5h1M10 48.5h1M11 49.5h1M12 50.5h1M12 51.5h1M13 52.5h1M13 53.5h1"/>
<path stroke="#f47e20" d="M5 42.5h1M6 43.5h1M7 44.5h1M8 45.5h1M8 46.5h1M9 47.5h1M10 49.5h1M11 50.5h1M11 51.5h1M12 52.5h1"/>
<path stroke="#f26b21" d="M1 38.5h1M2 39.5h1M3 40.5h1M4 41.5h1M6 44.5h1M7 45.5h1M8 47.5h1M9 48.5h1M9 49.5h1M10 50.5h1"/>
<path stroke="#ef5f22" d="M1 39.5h1M2 40.5h1M3 41.5h1M4 42.5h1M5 43.5h1M6 45.5h1M7 46.5h1M7 47.5h1M8 48.5h1"/>
<path stroke="#ee5222" d="M2 41.5h1M3 42.5h1M4 43.5h1M4 44.5h2M5 45.5h1M6 46.5h1"/>
<path stroke="#ef4823" d="M2 42.5h1M3 43.5h1"/>
</g>
<rect x="-142.5" y="-41.63" width="285" height="183.53" fill="url(#gp)"/>
<path fill="none" stroke="#3c4650" stroke-width="0.95" stroke-opacity="0.8" d="M-56.14 13.56 -57.72 13.85 -60.45 15.01 -62.51 18.12 -61.67 22.39 -60.45 26.53 -60.41 26.66 -58.09 30.93 -56.14 33.31 -54.65 35.2 -51.82 37.93 -50.28 39.46 -47.5 41.76 -45.14 43.73 -43.18 45.17 -39.31 48 -38.86 48.3 -34.55 51.11 -32.6 52.27 -30.23 53.65 -25.91 55.13 -21.59 55.7 -17.27 55.55 -12.95 54.74 -8.64 53.74 -4.32 52.59 -3.3 52.27 0 51.23 4.32 49.61 8.13 48 8.64 47.77 12.95 45.72 16.57 43.73 17.27 43.23 21.59 39.95 22.13 39.46 22.2 35.2 21.59 34.86 17.27 32.48 14.39 30.93 12.95 30.33 8.64 28.53 4.32 26.73 4.14 26.66 0 25.19 -4.32 23.68 -7.94 22.39 -8.64 22.16 -12.95 20.85 -17.27 19.55 -21.59 18.24 -22 18.12 -25.91 17.13 -30.23 16.09 -34.55 15.13 -38.86 14.27 -41.57 13.85 -43.18 13.63 -47.5 13.3 -51.82 13.23 -56.14 13.56M-82.05 -0.92 -85.21 1.05 -86.2 5.32 -85.49 9.59 -84.42 13.85 -83.16 18.12 -82.05 20.64 -81.33 22.39 -78.39 26.66 -77.73 27.44 -74.83 30.93 -73.41 32.41 -70.77 35.2 -69.09 36.73 -66.12 39.46 -64.77 40.59 -61.01 43.73 -60.45 44.18 -56.14 47.57 -55.59 48 -51.82 50.86 -49.91 52.27 -47.5 54.07 -44.08 56.54 -43.18 57.22 -38.86 60.31 -38.14 60.8 -34.55 63.45 -32.14 65.07 -30.23 66.57 -25.91 69.11 -25.2 69.34 -21.59 71.06 -17.27 72.01 -12.95 71.87 -8.64 70.91 -4.32 69.63 -3.38 69.34 0 68.48 4.32 67.47 8.64 66.66 12.95 65.52 14.34 65.07 17.27 64.25 21.59 62.8 25.91 61.06 26.38 60.8 30.23 58.83 33.98 56.54 34.55 56.18 38.86 53.4 40.59 52.27 43.18 50.47 46.78 48 47.5 47.43 51.82 44.16 52.39 43.73 56.14 40.36 57.17 39.46 60.36 35.2 60.45 34.98 62.25 30.93 62.55 26.66 60.45 24.04 58.71 22.39 56.14 20.68 51.82 18.65 50.5 18.12 47.5 17.05 43.18 15.61 38.86 14.27 37.42 13.85 34.55 13.09 30.23 12 25.91 10.99 21.59 10.05 19.28 9.59 17.27 9.21 12.95 8.46 8.64 7.78 4.32 7.16 0 6.6 -4.32 6.1 -8.64 5.66 -12.58 5.32 -12.95 5.29 -17.27 4.98 -21.59 4.73 -25.91 4.54 -30.23 4.34 -34.55 3.75 -38.86 3.13 -43.18 2.46 -47.5 1.73 -51.18 1.05 -51.82 0.92 -56.14 0.11 -60.45 -0.57 -64.77 -1.14 -69.09 -1.56 -73.41 -1.76 -77.73 -1.66 -82.05 -0.92M-103.64 -14.22 -105.75 -11.75 -106.74 -7.49 -106.69 -3.22 -106.08 1.05 -105.07 5.32 -103.79 9.59 -103.64 9.99 -102.22 13.85 -99.68 18.12 -99.32 18.57 -96.34 22.39 -95 23.92 -92.65 26.66 -90.68 28.79 -88.74 30.93 -86.36 33.3 -84.48 35.2 -82.05 37.4 -79.77 39.46 -77.73 41.2 -74.73 43.73 -73.41 44.82 -69.5 48 -69.09 48.34 -64.77 51.86 -64.26 52.27 -60.45 55.49 -59.16 56.54 -56.14 59.32 -54.38 60.8 -51.82 63.54 -50.2 65.07 -47.5 68.16 -46.41 69.34 -43.18 72.98 -42.59 73.61 -38.86 77.65 -38.64 77.88 -34.55 82.11 -34.5 82.15 -30.23 86.04 -29.72 86.41 -25.91 89.19 -23.35 90.68 -21.59 91.72 -17.27 93.69 -13.31 94.95 -12.95 95.07 -8.64 95.84 -4.32 95.26 -3.27 94.95 0 93.99 4.32 92.96 8.64 91.53 10.44 90.68 12.95 89.55 17.27 86.94 17.96 86.41 21.59 83.76 23.48 82.15 25.91 80.17 28.5 77.88 30.23 76.39 33.65 73.61 34.55 72.86 38.79 69.34 38.86 69.29 43.18 65.58 43.75 65.07 47.5 62.26 49.25 60.8 51.82 58.98 55.07 56.54 56.14 55.79 60.45 52.72 61.06 52.27 64.77 49.64 67.07 48 69.09 46.52 72.95 43.73 73.41 43.35 77.73 39.86 78.23 39.46 82.05 35.53 82.37 35.2 85.98 30.93 86.36 30.45 89.5 26.66 90.68 25 92.69 22.39 94.9 18.12 94.61 13.85 92.47 9.59 90.68 7.25 88.94 5.32 86.36 3.28 82.6 1.05 82.05 0.81 77.73 -0.63 73.41 -1.84 69.09 -2.95 68 -3.22 64.77 -3.95 60.45 -4.86 56.14 -5.71 51.82 -6.5 47.5 -7.24 45.97 -7.49 43.18 -7.91 38.86 -8.53 34.55 -9.12 30.23 -9.67 25.91 -10.19 21.59 -10.67 17.27 -11.13 12.95 -11.57 11.01 -11.75 8.64 -11.97 4.32 -12.34 0 -12.69 -4.32 -13.01 -8.64 -13.3 -12.95 -13.57 -17.27 -13.81 -21.59 -14.02 -25.91 -14.21 -30.23 -14.37 -34.55 -14.5 -38.86 -14.59 -43.18 -14.65 -47.5 -14.68 -51.82 -14.67 -56.14 -14.61 -60.45 -14.52 -64.77 -14.37 -69.09 -14.31 -73.41 -14.4 -77.73 -14.6 -82.05 -14.98 -86.36 -15.42 -90.68 -15.81 -95 -15.98 -99.32 -15.83 -103.64 -14.22M-120.91 -30 -123.06 -28.83 -125.23 -26.18 -126.26 -24.56 -127.58 -20.29 -127.89 -16.02 -127.55 -11.75 -126.77 -7.49 -125.67 -3.22 -125.23 -1.87 -124.31 1.05 -122.69 5.32 -120.91 8.69 -120.48 9.59 -117.26 13.85 -116.59 14.59 -113.53 18.12 -112.27 19.46 -109.59 22.39 -107.95 24.13 -105.61 26.66 -103.64 28.74 -101.57 30.93 -99.32 33.17 -97.28 35.2 -95 37.29 -92.62 39.46 -90.68 41.16 -87.71 43.73 -86.36 44.92 -82.76 48 -82.05 48.69 -78.13 52.27 -77.73 52.74 -74.11 56.54 -73.41 57.46 -70.75 60.8 -69.09 63.04 -67.53 65.07 -64.77 68.83 -64.38 69.34 -61.24 73.61 -60.45 74.69 -58.07 77.88 -56.14 80.48 -54.86 82.15 -51.82 86.14 -51.6 86.41 -48.26 90.68 -47.5 91.66 -44.82 94.95 -43.18 96.99 -41.25 99.22 -38.86 101.93 -37.3 103.49 -34.55 106.54 -33.33 107.75 -30.23 111.18 -29.37 112.02 -25.91 115.93 -25.55 116.29 -21.59 120.5 -21.51 120.56 -17.27 123.4 -14.78 124.83 -12.95 126.12 -8.64 128.6 -7.18 129.1 -4.32 130.08 0 130.25 2.43 129.1 4.32 128.18 7.49 124.83 8.64 123.61 11.13 120.56 12.95 119.06 15.83 116.29 17.27 113.73 17.94 112.02 20.22 107.75 21.59 105.89 23.23 103.49 25.91 100.59 27.13 99.22 30.23 96.2 31.5 94.95 34.55 92.13 36.19 90.68 38.86 88.46 41.33 86.41 43.18 84.9 46.5 82.15 47.5 81.32 51.64 77.88 51.82 77.73 56.14 74.14 56.77 73.61 60.45 70.54 61.88 69.34 64.77 66.85 66.85 65.07 69.09 63.03 71.57 60.8 73.41 58.98 75.92 56.54 77.73 54.99 80.56 52.27 82.05 51.14 85.9 48 86.36 47.66 90.68 44.47 91.64 43.73 95 41.1 97.1 39.46 99.32 37.35 101.6 35.2 103.64 33.08 105.75 30.93 107.95 28.61 109.84 26.66 112.27 24.08 113.9 22.39 116.59 19.47 117.88 18.12 120.91 14.6 121.59 13.85 124.71 9.59 125.23 8.14 126.43 5.32 126.25 1.05 125.23 -2.82 125.11 -3.22 122.72 -7.49 120.91 -9.56 118.68 -11.75 116.59 -13.29 112.27 -15.98 112.19 -16.02 107.95 -17.78 103.64 -19.06 99.32 -20.03 98.02 -20.29 95 -20.87 90.68 -21.63 86.36 -22.34 82.05 -22.99 77.73 -23.6 73.41 -24.17 70.19 -24.56 69.09 -24.69 64.77 -25.16 60.45 -25.6 56.14 -26.02 51.82 -26.41 47.5 -26.78 43.18 -27.13 38.86 -27.46 34.55 -27.78 30.23 -28.09 25.91 -28.38 21.59 -28.66 18.89 -28.83 17.27 -28.93 12.95 -29.18 8.64 -29.43 4.32 -29.66 0 -29.88 -4.32 -30.08 -8.64 -30.28 -12.95 -30.46 -17.27 -30.63 -21.59 -30.78 -25.91 -30.93 -30.23 -31.06 -34.55 -31.18 -38.86 -31.29 -43.18 -31.38 -47.5 -31.47 -51.82 -31.54 -56.14 -31.6 -60.45 -31.64 -64.77 -31.67 -69.09 -31.68 -73.41 -31.68 -77.73 -31.65 -82.05 -31.59 -86.36 -31.5 -90.68 -31.37 -95 -31.2 -99.32 -30.98 -103.64 -30.75 -107.95 -30.72 -112.27 -30.73 -116.59 -30.7 -120.91 -30M133.86 -36.9 131.85 -37.36 129.55 -37.83 125.23 -38.53 120.91 -39.14 116.59 -39.7 112.27 -40.22 107.95 -40.72 103.64 -41.2 99.63 -41.63M-138.18 6.46 -135.45 9.59 -133.86 11.12 -131.24 13.85 -129.55 15.45 -126.86 18.12 -125.23 19.67 -122.47 22.39 -120.91 23.92 -118.2 26.66 -116.59 28.33 -114.11 30.93 -112.27 32.8 -109.9 35.2 -107.95 37.05 -105.39 39.46 -103.64 41.09 -100.71 43.73 -99.32 45.18 -96.41 48 -95 49.79 -92.91 52.27 -90.68 55.36 -89.82 56.54 -86.88 60.8 -86.36 61.6 -84.05 65.07 -82.05 68.14 -81.25 69.34 -78.46 73.61 -77.73 74.75 -75.68 77.88 -73.41 81.39 -72.91 82.15 -70.13 86.41 -69.09 88.04 -67.35 90.68 -64.77 94.75 -64.64 94.95 -62 99.22 -60.45 101.96 -59.53 103.49 -57.21 107.75 -56.14 109.89 -55 112.02 -52.9 116.29 -51.82 118.51 -50.77 120.56 -49.69 122.66M40.96 131.29 40.92 129.1 39.77 124.83 39.22 120.56 39.86 116.29 41.46 112.02 43.18 109.05 44.01 107.75 47.5 103.7 47.67 103.49 51.73 99.22 51.82 99.13 55.96 94.95 56.14 94.79 60.32 90.68 60.45 90.56 64.77 86.43 64.78 86.41 69.09 82.41 69.36 82.15 73.41 78.46 74.02 77.88 77.73 74.56 78.74 73.61 82.05 70.69 83.52 69.34 86.36 66.86 88.34 65.07 90.68 63.06 93.21 60.8 95 59.23 98.06 56.54 99.32 55.38 102.8 52.27 103.64 51.42 107.21 48 107.95 47.3 111.48 43.73 112.27 43.1 116.57 39.46 116.59 39.45 120.91 35.44 121.17 35.2 125.23 31.2 125.51 30.93 129.55 27.2 130.17 26.66 133.86 23.47 135.2 22.39 138.18 19.92M-138.18 20.84 -136.36 22.39 -133.86 24.52 -131.48 26.66 -129.55 28.48 -127.05 30.93 -125.23 32.85 -122.99 35.2 -120.91 37.32 -118.76 39.46 -116.59 41.83 -114.73 43.73 -112.27 46.96 -111.46 48 -108.45 52.27 -107.95 53 -105.55 56.54 -103.64 59.4 -102.7 60.8 -99.88 65.07 -99.32 65.92 -97.07 69.34 -95 72.56 -94.32 73.61 -91.79 77.88 -90.68 80.03 -89.55 82.15 -88.51 84.3"/>
<use href="#head"/>
</g>
<g transform="translate(156.8 581.3)">
<circle r="147.5" fill="none" stroke="#ebf2fb" stroke-width="10.4"/>
<g transform="translate(-142.5 -139.8) scale(4.3182 4.2682)" fill="none" stroke-width="1" shape-rendering="crispEdges">
<path stroke="#3a50a4" d="M28 41.5h2"/>
<path stroke="#3a52a5" d="M25 39.5h4M25 40.5h7M25 41.5h3M30 41.5h4M26 42.5h7M28 43.5h3"/>
<path stroke="#3a54a6" d="M24 38.5h4M23 39.5h2M29 39.5h3M23 40.5h2M32 40.5h3M24 41.5h1M34 41.5h2M24 42.5h2M33 42.5h3M25 43.5h3M31 43.5h3M26 44.5h6"/>
<path stroke="#3b56a7" d="M22 37.5h5M21 38.5h3M28 38.5h3M21 39.5h2M32 39.5h2M22 40.5h1M35 40.5h2M22 41.5h2M36 41.5h2M23 42.5h1M36 42.5h2M24 43.5h1M34 43.5h3M25 44.5h1M32 44.5h3M26 45.5h7M27 46.5h2"/>
<path stroke="#3c58a9" d="M21 36.5h5M20 37.5h2M27 37.5h3M20 38.5h1M31 38.5h3M20 39.5h1M34 39.5h3M21 40.5h1M37 40.5h3M21 41.5h1M38 41.5h3M22 42.5h1M38 42.5h3M23 43.5h1M37 43.5h3M24 44.5h1M35 44.5h4M24 45.5h2M33 45.5h3M25 46.5h2M29 46.5h4M27 47.5h3"/>
<path stroke="#3e5dac" d="M20 35.5h4M18 36.5h3M26 36.5h3M18 37.5h2M30 37.5h3M19 38.5h1M34 38.5h4M19 39.5h1M37 39.5h5M20 40.5h1M40 40.5h3M20 41.5h1M41 41.5h3M21 42.5h1M41 42.5h2M22 43.5h1M40 43.5h2M23 44.5h1M39 44.5h2M36 45.5h3M24 46.5h1M33 46.5h5M25 47.5h2M30 47.5h5M26 48.5h6M28 49.5h2"/>
<path stroke="#3f63af" d="M20 34.5h1M17 35.5h3M24 35.5h4M17 36.5h1M29 36.5h6M17 37.5h1M33 37.5h8M18 38.5h1M38 38.5h6M18 39.5h1M42 39.5h3M19 40.5h1M43 40.5h3M44 41.5h2M20 42.5h1M43 42.5h2M21 43.5h1M42 43.5h2M22 44.5h1M41 44.5h2M23 45.5h1M39 45.5h2M23 46.5h1M38 46.5h2M24 47.5h1M35 47.5h3M25 48.5h1M32 48.5h4M26 49.5h2M30 49.5h3M27 50.5h4"/>
<path stroke="#416bb3" d="M16 34.5h4M21 34.5h5M16 35.5h1M28 35.5h10M16 36.5h1M35 36.5h8M16 37.5h1M41 37.5h5M16 38.5h2M44 38.5h3M17 39.5h1M45 39.5h3M18 40.5h1M46 40.5h2M19 41.5h1M46 41.5h1M19 42.5h1M45 42.5h1M20 43.5h1M44 43.5h1M21 44.5h1M43 44.5h1M22 45.5h1M41 45.5h2M40 46.5h1M23 47.5h1M38 47.5h2M24 48.5h1M36 48.5h2M25 49.5h1M33 49.5h4M26 50.5h1M31 50.5h4M27 51.5h5"/>
<path stroke="#447bbd" d="M15 33.5h10M14 34.5h2M26 34.5h14M15 35.5h1M38 35.5h7M15 36.5h1M43 36.5h5M15 37.5h1M46 37.5h3M47 38.5h2M16 39.5h1M48 39.5h1M17 40.5h1M48 40.5h1M18 41.5h1M47 41.5h2M46 42.5h2M19 43.5h1M45 43.5h2M20 44.5h1M44 44.5h1M21 45.5h1M43 45.5h1M22 46.5h1M41 46.5h2M40 47.5h1M23 48.5h1M38 48.5h2M24 49.5h1M37 49.5h2M25 50.5h1M35 50.5h2M26 51.5h1M32 51.5h4M27 52.5h6"/>
<path stroke="#4787c8" d="M14 32.5h18M13 33.5h2M25 33.5h17M13 34.5h1M40 34.5h7M13 35.5h2M45 35.5h5M14 36.5h1M48 36.5h2M14 37.5h1M49 37.5h2M15 38.5h1M49 38.5h2M15 39.5h1M49 39.5h2M16 40.5h1M49 40.5h2M17 41.5h1M49 41.5h1M18 42.5h1M48 42.5h1M47 43.5h1M19 44.5h1M45 44.5h2M20 45.5h1M44 45.5h1M21 46.5h1M43 46.5h1M22 47.5h1M41 47.5h2M40 48.5h2M23 49.5h1M39 49.5h1M24 50.5h1M37 50.5h2M25 51.5h1M36 51.5h2M26 52.5h1M33 52.5h3M28 53.5h6"/>
<path stroke="#4898d5" d="M13 31.5h22M12 32.5h2M32 32.5h12M12 33.5h1M42 33.5h7M12 34.5h1M47 34.5h4M12 35.5h1M50 35.5h2M13 36.5h1M50 36.5h2M13 37.5h1M51 37.5h2M14 38.5h1M51 38.5h2M51 39.5h1M15 40.5h1M51 40.5h1M16 41.5h1M50 41.5h1M17 42.5h1M49 42.5h1M18 43.5h1M48 43.5h1M47 44.5h1M19 45.5h1M45 45.5h2M20 46.5h1M44 46.5h1M21 47.5h1M43 47.5h1M22 48.5h1M42 48.5h1M22 49.5h1M40 49.5h2M23 50.5h1M39 50.5h2M24 51.5h1M38 51.5h2M25 52.5h1M36 52.5h3M26 53.5h2M34 53.5h3M28 54.5h7"/>
<path stroke="#44a7df" d="M13 30.5h4M20 30.5h16M11 31.5h2M35 31.5h12M11 32.5h1M44 32.5h7M11 33.5h1M49 33.5h4M11 34.5h1M51 34.5h3M11 35.5h1M52 35.5h2M12 36.5h1M52 36.5h2M12 37.5h1M53 37.5h1M13 38.5h1M53 38.5h1M14 39.5h1M52 39.5h2M52 40.5h1M51 41.5h1M16 42.5h1M50 42.5h2M17 43.5h1M49 43.5h1M18 44.5h1M48 44.5h1M47 45.5h1M19 46.5h1M45 46.5h2M20 47.5h1M44 47.5h2M21 48.5h1M43 48.5h1M42 49.5h1M22 50.5h1M41 50.5h1M23 51.5h1M40 51.5h1M24 52.5h1M39 52.5h1M25 53.5h1M37 53.5h2M26 54.5h2M35 54.5h3M28 55.5h8"/>
<path stroke="#3db8ec" d="M19 29.5h19M10 30.5h3M17 30.5h3M36 30.5h13M10 31.5h1M47 31.5h6M10 32.5h1M51 32.5h4M10 33.5h1M53 33.5h2M10 34.5h1M54 34.5h2M10 35.5h1M54 35.5h2M11 36.5h1M54 36.5h2M11 37.5h1M54 37.5h2M12 38.5h1M54 38.5h2M13 39.5h1M54 39.5h1M14 40.5h1M53 40.5h1M15 41.5h1M52 41.5h2M52 42.5h1M16 43.5h1M50 43.5h2M17 44.5h1M49 44.5h1M18 45.5h1M48 45.5h1M47 46.5h1M19 47.5h1M46 47.5h1M20 48.5h1M44 48.5h2M21 49.5h1M43 49.5h2M42 50.5h2M22 51.5h1M41 51.5h2M23 52.5h1M40 52.5h2M24 53.5h1M39 53.5h2M25 54.5h1M38 54.5h1M26 55.5h2M36 55.5h2M28 56.5h9M31 57.5h4"/>
<path stroke="#39c2f0" d="M19 28.5h21M9 29.5h10M38 29.5h13M9 30.5h1M49 30.5h6M8 31.5h2M53 31.5h3M9 32.5h1M55 32.5h2M9 33.5h1M55 33.5h2M9 34.5h1M56 34.5h1M56 35.5h2M10 36.5h1M56 36.5h2M56 37.5h1M56 38.5h1M12 39.5h1M55 39.5h1M13 40.5h1M54 40.5h2M14 41.5h1M54 41.5h1M15 42.5h1M53 42.5h1M52 43.5h1M50 44.5h1M17 45.5h1M49 45.5h1M18 46.5h1M48 46.5h1M47 47.5h1M19 48.5h1M46 48.5h1M20 49.5h1M45 49.5h1M21 50.5h1M44 50.5h1M21 51.5h1M43 51.5h1M22 52.5h1M42 52.5h1M23 53.5h1M41 53.5h1M24 54.5h1M39 54.5h2M25 55.5h1M38 55.5h2M26 56.5h2M37 56.5h2M28 57.5h3M35 57.5h2M29 58.5h7"/>
<path stroke="#53c8ea" d="M18 27.5h24M8 28.5h11M40 28.5h13M7 29.5h2M51 29.5h6M7 30.5h2M55 30.5h3M7 31.5h1M56 31.5h3M8 32.5h1M57 32.5h2M8 33.5h1M57 33.5h2M8 34.5h1M57 34.5h2M9 35.5h1M58 35.5h1M9 36.5h1M58 36.5h1M10 37.5h1M57 37.5h2M11 38.5h1M57 38.5h1M56 39.5h2M56 40.5h1M55 41.5h1M14 42.5h1M54 42.5h1M15 43.5h1M53 43.5h1M16 44.5h1M51 44.5h2M50 45.5h2M17 46.5h1M49 46.5h2M18 47.5h1M48 47.5h2M47 48.5h2M19 49.5h1M46 49.5h2M20 50.5h1M45 50.5h2M44 51.5h2M21 52.5h1M43 52.5h2M22 53.5h1M42 53.5h2M23 54.5h1M41 54.5h2M24 55.5h1M40 55.5h1M25 56.5h1M39 56.5h1M26 57.5h2M37 57.5h2M27 58.5h2M36 58.5h2M28 59.5h9M30 60.5h6"/>
<path stroke="#69cadf" d="M18 26.5h26M7 27.5h11M42 27.5h13M6 28.5h2M53 28.5h6M6 29.5h1M57 29.5h3M6 30.5h1M58 30.5h2M6 31.5h1M59 31.5h2M7 32.5h1M59 32.5h2M7 33.5h1M59 33.5h2M7 34.5h1M59 34.5h2M8 35.5h1M59 35.5h2M8 36.5h1M59 36.5h1M9 37.5h1M59 37.5h1M10 38.5h1M58 38.5h1M11 39.5h1M58 39.5h1M12 40.5h1M57 40.5h1M13 41.5h1M56 41.5h1M55 42.5h1M14 43.5h1M54 43.5h1M15 44.5h1M53 44.5h1M16 45.5h1M52 45.5h1M16 46.5h1M51 46.5h1M17 47.5h1M50 47.5h1M18 48.5h1M49 48.5h1M18 49.5h1M48 49.5h1M19 50.5h1M47 50.5h1M20 51.5h1M46 51.5h1M45 52.5h1M21 53.5h1M44 53.5h1M22 54.5h1M43 54.5h1M23 55.5h1M41 55.5h2M24 56.5h1M40 56.5h2M25 57.5h1M39 57.5h2M26 58.5h1M38 58.5h2M26 59.5h2M37 59.5h2M27 60.5h3M36 60.5h3M28 61.5h10M30 62.5h5"/>
<path stroke="#6fcad3" d="M19 25.5h27M6 26.5h12M44 26.5h14M5 27.5h2M55 27.5h6M5 28.5h1M59 28.5h3M5 29.5h1M60 29.5h2M5 30.5h1M60 30.5h2M5 31.5h1M61 31.5h1M6 32.5h1M61 32.5h2M6 33.5h1M61 33.5h2M6 34.5h1M61 34.5h1M7 35.5h1M61 35.5h1M60 36.5h2M8 37.5h1M60 37.5h1M9 38.5h1M59 38.5h2M10 39.5h1M59 39.5h1M11 40.5h1M58 40.5h1M12 41.5h1M57 41.5h1M13 42.5h1M56 42.5h1M55 43.5h1M14 44.5h1M54 44.5h1M15 45.5h1M53 45.5h1M52 46.5h2M16 47.5h1M51 47.5h2M17 48.5h1M50 48.5h2M49 49.5h2M18 50.5h1M48 50.5h2M19 51.5h1M47 51.5h2M20 52.5h1M46 52.5h2M45 53.5h2M21 54.5h1M44 54.5h2M22 55.5h1M43 55.5h2M23 56.5h1M42 56.5h2M24 57.5h1M41 57.5h2M24 58.5h2M40 58.5h2M25 59.5h1M39 59.5h2M26 60.5h1M39 60.5h1M26 61.5h2M38 61.5h2M27 62.5h3M35 62.5h4M28 63.5h9"/>
<path stroke="#71c9c7" d="M18 24.5h32M6 25.5h13M46 25.5h14M4 26.5h2M58 26.5h5M4 27.5h1M61 27.5h2M4 28.5h1M62 28.5h2M4 29.5h1M62 29.5h2M4 30.5h1M62 30.5h2M4 31.5h1M62 31.5h2M5 32.5h1M63 32.5h1M5 33.5h1M63 33.5h1M5 34.5h1M62 34.5h2M6 35.5h1M62 35.5h2M7 36.5h1M62 36.5h1M61 37.5h1M61 38.5h1M60 39.5h1M59 40.5h2M11 41.5h1M58 41.5h2M12 42.5h1M57 42.5h2M13 43.5h1M56 43.5h2M55 44.5h2M14 45.5h1M54 45.5h2M15 46.5h1M54 46.5h1M53 47.5h1M16 48.5h1M52 48.5h1M17 49.5h1M51 49.5h1M50 50.5h1M18 51.5h1M49 51.5h1M19 52.5h1M48 52.5h1M20 53.5h1M47 53.5h1M20 54.5h1M46 54.5h1M21 55.5h1M45 55.5h1M22 56.5h1M44 56.5h2M23 57.5h1M43 57.5h2M23 58.5h1M42 58.5h2M24 59.5h1M41 59.5h2M24 60.5h2M40 60.5h2M25 61.5h1M40 61.5h2M25 62.5h2M39 62.5h2M26 63.5h2M37 63.5h3M27 64.5h12M32 65.5h2"/>
<path stroke="#74c8bb" d="M17 23.5h36M5 24.5h13M50 24.5h13M3 25.5h3M60 25.5h4M3 26.5h1M63 26.5h2M2 27.5h2M63 27.5h2M2 28.5h2M64 28.5h1M3 29.5h1M64 29.5h2M3 30.5h1M64 30.5h2M3 31.5h1M64 31.5h2M4 32.5h1M64 32.5h2M4 33.5h1M64 33.5h2M64 34.5h2M5 35.5h1M64 35.5h2M6 36.5h1M63 36.5h1M7 37.5h1M62 37.5h2M8 38.5h1M62 38.5h1M9 39.5h1M61 39.5h1M10 40.5h1M61 40.5h1M60 41.5h1M59 42.5h1M12 43.5h1M58 43.5h1M13 44.5h1M57 44.5h1M56 45.5h1M14 46.5h1M55 46.5h1M15 47.5h1M54 47.5h1M53 48.5h2M16 49.5h1M52 49.5h2M17 50.5h1M51 50.5h2M50 51.5h2M18 52.5h1M49 52.5h2M19 53.5h1M48 53.5h2M47 54.5h3M20 55.5h1M46 55.5h3M21 56.5h1M46 56.5h2M21 57.5h2M45 57.5h2M22 58.5h1M44 58.5h3M23 59.5h1M43 59.5h4M23 60.5h1M42 60.5h4M23 61.5h2M42 61.5h3M24 62.5h1M41 62.5h3M24 63.5h2M40 63.5h3M25 64.5h2M39 64.5h2"/>
<path stroke="#79c8ae" d="M4 23.5h13M53 23.5h11M2 24.5h3M63 24.5h1M2 25.5h1M1 26.5h2M1 27.5h1M1 28.5h1M1 29.5h2M2 30.5h1M2 31.5h1M3 32.5h1M3 33.5h1M4 34.5h1M5 36.5h1M64 36.5h1M6 37.5h1M64 37.5h1M7 38.5h1M63 38.5h2M8 39.5h1M62 39.5h2M9 40.5h1M62 40.5h1M10 41.5h1M61 41.5h1M11 42.5h1M60 42.5h1M59 43.5h1M12 44.5h1M58 44.5h2M13 45.5h1M57 45.5h2M56 46.5h2M14 47.5h1M55 47.5h2M15 48.5h1M55 48.5h1M54 49.5h2M16 50.5h1M53 50.5h2M17 51.5h1M52 51.5h3M17 52.5h1M51 52.5h3M18 53.5h1M50 53.5h3M19 54.5h1M50 54.5h2M19 55.5h1M49 55.5h2M20 56.5h1M48 56.5h2M20 57.5h1M47 57.5h2M21 58.5h1M47 58.5h1M21 59.5h2M22 60.5h1M22 61.5h1M22 62.5h2M23 63.5h1"/>
<path stroke="#7dc8a2" d="M2 23.5h2M0 29.5h1M0 30.5h2M1 31.5h1M2 32.5h1M2 33.5h1M3 34.5h1M4 35.5h1M64 39.5h1M63 40.5h1M9 41.5h1M62 41.5h2M10 42.5h1M61 42.5h2M11 43.5h1M60 43.5h2M60 44.5h1M12 45.5h1M59 45.5h2M13 46.5h1M58 46.5h2M57 47.5h2M14 48.5h1M56 48.5h2M15 49.5h1M56 49.5h1M15 50.5h1M55 50.5h1M16 51.5h1M17 53.5h1M18 54.5h1M18 55.5h1M19 56.5h1M19 57.5h1M20 58.5h1M20 59.5h1M20 60.5h2M21 61.5h1"/>
<path stroke="#82c997" d="M0 31.5h1M0 32.5h2M1 33.5h1M2 34.5h1M3 35.5h1M4 36.5h1M5 37.5h1M6 38.5h1M7 39.5h1M8 40.5h1M63 42.5h1M10 43.5h1M62 43.5h1M11 44.5h1M61 44.5h1M12 46.5h1M13 47.5h1M13 48.5h1M14 49.5h1M15 51.5h1M16 52.5h1M16 53.5h1M17 54.5h1M17 55.5h1M18 56.5h1M18 57.5h1M18 58.5h2M19 59.5h1"/>
<path stroke="#87c889" d="M0 33.5h1M1 34.5h1M2 35.5h1M3 36.5h1M4 37.5h1M5 38.5h1M6 39.5h1M7 40.5h1M8 41.5h1M9 42.5h1M10 44.5h1M11 45.5h1M12 47.5h1M13 49.5h1M14 50.5h1M15 52.5h1M16 54.5h1M16 55.5h1M17 56.5h1M17 57.5h1"/>
<path stroke="#8fc978" d="M0 34.5h1M8 42.5h1M9 43.5h1M10 45.5h1M11 46.5h1M11 47.5h1M12 48.5h1M13 50.5h1M14 51.5h1M14 52.5h1M15 53.5h1M15 54.5h1M15 55.5h1M16 56.5h1"/>
<path stroke="#9bcc68" d="M0 35.5h2M2 36.5h1M3 37.5h1M4 38.5h1M5 39.5h1M6 40.5h1M7 41.5h1M8 43.5h1M9 44.5h1M10 46.5h1M11 48.5h1M12 49.5h1M12 50.5h1M13 51.5h1M13 52.5h1M14 53.5h1M14 54.5h1"/>
<path stroke="#a4ce5b" d="M1 36.5h1M2 37.5h1M3 38.5h1M4 39.5h1M5 40.5h1M6 41.5h1M7 42.5h1M8 44.5h1M9 45.5h1M9 46.5h1M10 47.5h1M11 49.5h1M12 51.5h1M12 52.5h1M13 53.5h1"/>
<path stroke="#aace4d" d="M5 41.5h1M6 42.5h1M7 43.5h1M8 45.5h1M9 47.5h1M10 48.5h1M10 49.5h1M11 50.5h1M11 51.5h1"/>
<path stroke="#b7d23d" d="M1 37.5h1M2 38.5h1M3 39.5h1M4 40.5h1M6 43.5h1M7 44.5h1M7 45.5h1M8 46.5h1M9 48.5h1M9 49.5h1M10 50.5h1"/>
<path stroke="#c3d632" d="M1 38.5h1M2 39.5h1M3 40.5h1M4 41.5h1M5 42.5h1M5 43.5h1M6 44.5h1M7 46.5h1M8 47.5h1M8 48.5h1"/>
<path stroke="#d0da28" d="M1 39.5h1M3 41.5h1M4 42.5h1M5 44.5h1M6 45.5h1M6 46.5h1M7 47.5h1"/>
<path stroke="#dde11f" d="M2 40.5h1M3 42.5h1M4 43.5h1M4 44.5h1M5 45.5h1"/>
<path stroke="#e8e61a" d="M2 41.5h1M2 42.5h1M3 43.5h1"/>
</g>
<rect x="-142.5" y="-41.63" width="285" height="183.53" fill="url(#gp)"/>
<path fill="none" stroke="#3c4650" stroke-width="0.95" stroke-opacity="0.8" d="M-51.82 13.66 -52.79 13.85 -56.14 15 -59.81 18.12 -59.49 22.39 -58.39 26.66 -56.53 30.93 -56.14 31.47 -53.51 35.2 -51.82 37.53 -50.46 39.46 -47.52 43.73 -47.5 43.76 -44.13 48 -43.18 49.13 -40.44 52.27 -38.86 54.02 -36.5 56.54 -34.55 58.61 -32.35 60.8 -30.23 63 -27.34 65.07 -25.91 66.26 -21.59 67.9 -17.27 67.92 -12.95 66.38 -10.39 65.07 -8.64 64.39 -4.32 63.04 0 61.48 1.76 60.8 4.32 59.84 8.64 58.53 12.95 57.57 17.27 56.74 17.76 56.54 21.59 54.79 25.91 52.53 26.34 52.27 30.23 49.5 32.27 48 34.55 45.8 36.8 43.73 38.86 40.5 39.59 39.46 38.86 35.57 38.74 35.2 34.55 33.04 30.23 31.28 29.11 30.93 25.91 29.88 21.59 28.28 17.27 27.23 15.05 26.66 12.95 25.99 8.64 24.56 4.32 23.53 0 22.42 -0.1 22.39 -4.32 21.06 -8.64 19.97 -12.95 18.9 -15.88 18.12 -17.27 17.75 -21.59 16.74 -25.91 15.83 -30.23 14.95 -34.55 14.15 -36.66 13.85 -38.86 13.57 -43.18 13.26 -47.5 13.26 -51.82 13.66M-82.05 -0.66 -84.16 1.05 -85.07 5.32 -84.36 9.59 -83.24 13.85 -82.05 17.86 -81.97 18.12 -80.2 22.39 -77.73 26.02 -77.32 26.66 -73.83 30.93 -73.41 31.4 -70.11 35.2 -69.09 36.37 -66.46 39.46 -64.77 41.63 -63.15 43.73 -60.45 47.27 -59.9 48 -56.5 52.27 -56.14 52.72 -52.99 56.54 -51.82 58.02 -49.51 60.8 -47.5 63.47 -46.21 65.07 -43.18 69.23 -43.1 69.34 -39.7 73.61 -38.86 74.62 -36.06 77.88 -34.55 79.58 -32.02 82.15 -30.23 83.8 -26.56 86.41 -25.91 86.85 -21.59 89.09 -17.4 90.68 -17.27 90.73 -12.95 91.72 -8.64 91.76 -4.85 90.68 -4.32 90.51 0 89.35 4.32 88.31 8.64 86.53 8.87 86.41 12.95 84.35 16.78 82.15 17.27 81.85 21.59 79.03 23.1 77.88 25.91 75.72 28.32 73.61 30.23 71.97 33.11 69.34 34.55 68.22 38.25 65.07 38.86 64.62 43.18 61.3 43.78 60.8 47.5 58.04 49.46 56.54 51.82 54.79 55.19 52.27 56.14 51.55 60.45 48.27 60.82 48 64.77 44.83 66.17 43.73 69.09 41.03 70.83 39.46 73.41 36.14 74.17 35.2 76.17 30.93 77.21 26.66 76.79 22.39 74.47 18.12 73.41 16.13 72.02 13.85 69.09 11.12 65.65 9.59 64.77 9.32 60.45 8.16 56.14 7.11 51.82 6.15 47.72 5.32 47.5 5.28 43.18 4.51 38.86 3.81 34.55 3.17 30.23 2.57 25.91 2.03 21.59 1.53 17.27 1.08 16.97 1.05 12.95 0.69 8.64 0.34 4.32 0.04 0 -0.22 -4.32 -0.43 -8.64 -0.6 -12.95 -0.72 -17.27 -0.8 -21.59 -0.83 -25.91 -0.82 -30.23 -0.75 -34.55 -0.64 -38.86 -0.49 -43.18 -0.61 -47.5 -0.88 -51.82 -1.25 -56.14 -1.69 -60.45 -2.12 -64.77 -2.49 -69.09 -2.67 -73.41 -2.55 -77.73 -2.02 -82.05 -0.66M-47.5 -20.37 -49.5 -20.29 -51.82 -20.19 -56.14 -19.98 -60.45 -19.72 -64.77 -19.42 -69.09 -19.08 -73.41 -18.69 -77.73 -18.33 -82.05 -18.14 -86.36 -18.08 -90.68 -18.09 -95 -18.01 -99.32 -17.67 -103.64 -16.63 -104.68 -16.02 -107.3 -11.75 -107.65 -7.49 -107.21 -3.22 -106.29 1.05 -105.03 5.32 -103.64 9.36 -103.56 9.59 -101.87 13.85 -99.32 17.96 -99.23 18.12 -95.78 22.39 -95 23.25 -91.98 26.66 -90.68 28.08 -88.11 30.93 -86.36 32.8 -84.15 35.2 -82.05 37.54 -80.32 39.46 -77.73 42.7 -76.9 43.73 -73.66 48 -73.41 48.33 -70.44 52.27 -69.09 54.17 -67.36 56.54 -64.77 60.52 -64.58 60.8 -61.8 65.07 -60.45 67.03 -58.84 69.34 -56.14 73.09 -55.76 73.61 -52.55 77.88 -51.82 78.84 -49.22 82.15 -47.5 84.33 -45.78 86.41 -43.18 89.56 -42.21 90.68 -38.86 94.51 -38.41 94.95 -34.55 98.46 -33.48 99.22 -30.23 101.71 -27.53 103.49 -25.91 104.89 -21.99 107.75 -21.59 108.12 -17.27 111.41 -16.26 112.02 -12.95 114.23 -8.64 115.67 -4.32 116.14 0 116.21 4.32 115.83 8.64 114.91 12.95 113.23 14.57 112.02 17.27 109.92 19.59 107.75 21.59 106.16 24.52 103.49 25.91 102.38 29.51 99.22 30.23 98.63 34.39 94.95 34.55 94.82 38.86 90.97 39.18 90.68 43.18 87.11 43.94 86.41 47.5 83.18 48.61 82.15 51.82 79.19 53.21 77.88 56.14 75.14 57.76 73.61 60.45 71.05 62.23 69.34 64.77 66.85 66.58 65.07 69.09 62.48 70.72 60.8 73.41 57.86 74.62 56.54 77.73 53.62 79.03 52.27 82.05 49.78 84.06 48 86.36 46.19 89.42 43.73 90.68 42.64 94.38 39.46 95 38.78 98.27 35.2 99.32 33.68 101.26 30.93 103.64 26.77 103.7 26.66 105.79 22.39 107.59 18.12 107.95 16.62 108.67 13.85 108.35 9.59 107.95 7.41 107.55 5.32 106.7 1.05 105.46 -3.22 103.64 -6.97 103.33 -7.49 99.32 -11.17 98.17 -11.75 95 -12.77 90.68 -13.64 86.36 -14.42 82.05 -15.13 77.73 -15.77 75.85 -16.02 73.41 -16.34 69.09 -16.85 64.77 -17.31 60.45 -17.73 56.14 -18.11 51.82 -18.46 47.5 -18.77 43.18 -19.05 38.86 -19.31 34.55 -19.54 30.23 -19.74 25.91 -19.93 21.59 -20.09 17.27 -20.24 15.6 -20.29 12.95 -20.37 8.64 -20.48 4.32 -20.58 0 -20.67 -4.32 -20.74 -8.64 -20.79 -12.95 -20.83 -17.27 -20.85 -21.59 -20.85 -25.91 -20.83 -30.23 -20.79 -34.55 -20.73 -38.86 -20.64 -43.18 -20.52 -47.5 -20.37M133.86 -30.65 130.04 -33.1 129.55 -33.32 125.23 -34.73 120.91 -35.48 116.59 -36.02 112.27 -36.49 107.95 -36.92 103.64 -37.29 102.77 -37.36 99.32 -37.64 95 -37.96 90.68 -38.27 86.36 -38.56 82.05 -38.84 77.73 -39.09 73.41 -39.33 69.09 -39.55 64.77 -39.76 60.45 -39.95 56.14 -40.13 51.82 -40.28 47.5 -40.42 43.18 -40.55 38.86 -40.66 34.55 -40.75 30.23 -40.83 25.91 -40.9 21.59 -40.94 17.27 -40.98 12.95 -41 8.64 -41 4.32 -40.99 0 -40.96 -4.32 -40.92 -8.64 -40.86 -12.95 -40.79 -17.27 -40.71 -21.59 -40.61 -25.91 -40.49 -30.23 -40.37 -34.55 -40.23 -38.86 -40.07 -43.18 -39.9 -47.5 -39.72 -51.82 -39.52 -56.14 -39.31 -60.45 -39.09 -64.77 -38.86 -69.09 -38.61 -73.41 -38.34 -77.73 -38.07 -82.05 -37.78 -86.36 -37.48 -87.96 -37.36 -90.68 -37.18 -95 -36.86 -99.32 -36.52 -103.64 -36.13 -107.95 -35.68 -112.27 -35.19 -116.59 -34.81 -120.91 -34.38 -125.23 -33.37 -125.76 -33.1 -129.55 -28.91 -129.6 -28.83 -131 -24.56 -131.21 -20.29 -130.7 -16.02 -129.72 -11.75 -129.55 -11.2 -128.42 -7.49 -126.88 -3.22 -125.23 0.85 -125.15 1.05 -123.25 5.32 -120.91 9.32 -120.77 9.59 -117.31 13.85 -116.59 14.61 -113.39 18.12 -112.27 19.26 -109.29 22.39 -107.95 23.78 -105.22 26.66 -103.64 28.34 -101.21 30.93 -99.32 32.94 -97.19 35.2 -95 37.62 -93.33 39.46 -90.68 42.82 -89.95 43.73 -86.85 48 -86.36 48.73 -83.96 52.27 -82.05 55.44 -81.37 56.54 -78.72 60.8 -77.73 62.35 -75.96 65.07 -73.41 68.92 -73.13 69.34 -70.25 73.61 -69.09 75.35 -67.36 77.88 -64.77 81.7 -64.46 82.15 -61.56 86.41 -60.45 88.08 -58.66 90.68 -56.14 94.44 -55.77 94.95 -52.91 99.22 -51.82 100.95 -50.1 103.49 -47.5 107.67 -47.45 107.75 -45.05 112.02 -43.18 115.75 -42.89 116.29 -40.9 120.56 -38.97 124.83 -38.86 125.05 -37.06 129.1 -34.89 133.36M38.76 133.36 38.86 133.21 42.67 129.1 43.18 128.42 46.34 124.83 47.5 123.19 49.58 120.56 51.82 117.22 52.47 116.29 55.31 112.02 56.14 110.75 58.12 107.75 60.45 104.2 60.91 103.49 64.05 99.22 64.77 98.36 67.44 94.95 69.09 92.99 70.91 90.68 73.41 87.75 74.48 86.41 77.73 82.67 78.15 82.15 81.96 77.88 82.05 77.78 85.87 73.61 86.36 73.09 89.82 69.34 90.68 68.44 93.79 65.07 95 63.8 97.78 60.8 99.32 59.2 101.79 56.54 103.64 54.56 105.77 52.27 107.95 49.8 109.59 48 112.27 44.89 113.25 43.73 116.59 40.59 117.68 39.46 120.91 35.95 121.59 35.2 124.7 30.93 125.23 30.14 127.68 26.66 129.55 23.89 130.62 22.39 133.44 18.12 133.86 17.4 136.07 13.85 138.18 9.8M-138.18 7.07 -135.83 9.59 -133.86 11.4 -131.38 13.85 -129.55 15.51 -126.81 18.12 -125.23 19.58 -122.29 22.39 -120.91 23.73 -117.96 26.66 -116.59 28.09 -113.9 30.93 -112.27 32.69 -109.94 35.2 -107.95 37.46 -106.17 39.46 -103.64 42.85 -102.97 43.73 -100.13 48 -99.32 49.35 -97.56 52.27 -95 56.42 -94.93 56.54 -92.22 60.8 -90.68 63.26 -89.53 65.07 -86.88 69.34 -86.36 70.2 -84.29 73.61 -82.05 77.43 -81.77 77.88 -79.36 82.15 -77.73 85.21 -77.06 86.41 -74.99 90.68 -73.41 94.42 -73.17 94.95 -71.99 99.22 -71.53 101.07M-138.18 20.51 -135.94 22.39 -133.86 24.18 -131.11 26.66 -129.55 28.17 -126.79 30.93 -125.23 32.67 -122.97 35.2 -120.91 37.71 -119.44 39.46 -116.59 43.63 -116.52 43.73 -113.83 48 -112.27 50.44 -111.11 52.27 -108.46 56.54 -107.95 57.38 -105.91 60.8 -103.64 64.77 -103.46 65.07 -101.33 69.34 -99.58 73.35"/>
<use href="#head"/>
</g>
<g transform="translate(490.3 582.3)">
<circle r="147.5" fill="none" stroke="#ebf2fb" stroke-width="10.4"/>
<g transform="translate(-142.5 -139.8) scale(4.3182 4.2682)" fill="none" stroke-width="1" shape-rendering="crispEdges">
<path stroke="#2e3290" d="M27 40.5h6M28 41.5h6M30 42.5h3"/>
<path stroke="#2f3797" d="M25 38.5h6M24 39.5h11M24 40.5h3M33 40.5h4M25 41.5h3M34 41.5h4M26 42.5h4M33 42.5h5M27 43.5h8"/>
<path stroke="#323e9c" d="M24 36.5h3M22 37.5h10M22 38.5h3M31 38.5h5M22 39.5h2M35 39.5h4M23 40.5h1M37 40.5h4M23 41.5h2M38 41.5h4M24 42.5h2M38 42.5h3M25 43.5h2M35 43.5h6M26 44.5h13M28 45.5h5"/>
<path stroke="#35459e" d="M21 35.5h8M20 36.5h4M27 36.5h8M20 37.5h2M32 37.5h6M20 38.5h2M36 38.5h5M21 39.5h1M39 39.5h4M21 40.5h2M41 40.5h3M22 41.5h1M42 41.5h2M23 42.5h1M41 42.5h2M23 43.5h2M41 43.5h1M24 44.5h2M39 44.5h2M25 45.5h3M33 45.5h7M27 46.5h11"/>
<path stroke="#3849a0" d="M19 34.5h13M18 35.5h3M29 35.5h8M18 36.5h2M35 36.5h5M18 37.5h2M38 37.5h5M19 38.5h1M41 38.5h4M19 39.5h2M43 39.5h2M20 40.5h1M44 40.5h2M21 41.5h1M44 41.5h2M21 42.5h2M43 42.5h2M22 43.5h1M42 43.5h2M23 44.5h1M41 44.5h2M24 45.5h1M40 45.5h1M25 46.5h2M38 46.5h2M26 47.5h12M27 48.5h9M28 49.5h4"/>
<path stroke="#394ea3" d="M20 32.5h4M17 33.5h17M16 34.5h3M32 34.5h7M16 35.5h2M37 35.5h5M17 36.5h1M40 36.5h5M17 37.5h1M43 37.5h3M18 38.5h1M45 38.5h2M18 39.5h1M45 39.5h2M19 40.5h1M46 40.5h2M19 41.5h2M46 41.5h1M20 42.5h1M45 42.5h1M21 43.5h1M44 43.5h1M22 44.5h1M43 44.5h1M23 45.5h1M41 45.5h2M24 46.5h1M40 46.5h2M24 47.5h2M38 47.5h2M25 48.5h2M36 48.5h3M26 49.5h2M32 49.5h6M26 50.5h11M27 51.5h9M28 52.5h6M29 53.5h3"/>
<path stroke="#3a50a4" d="M17 31.5h12M14 32.5h6M24 32.5h12M14 33.5h3M34 33.5h6M14 34.5h2M39 34.5h5M15 35.5h1M42 35.5h5M15 36.5h2M45 36.5h3M16 37.5h1M46 37.5h2M16 38.5h2M47 38.5h2M17 39.5h1M47 39.5h2M18 40.5h1M48 40.5h1M18 41.5h1M47 41.5h2M19 42.5h1M46 42.5h2M20 43.5h1M45 43.5h2M21 44.5h1M44 44.5h2M22 45.5h1M43 45.5h1M22 46.5h2M42 46.5h1M23 47.5h1M40 47.5h2M24 48.5h1M39 48.5h2M24 49.5h2M38 49.5h2M25 50.5h1M37 50.5h2M25 51.5h2M36 51.5h3M25 52.5h3M34 52.5h4M25 53.5h4M32 53.5h5M26 54.5h11M26 55.5h10M27 56.5h7"/>
<path stroke="#3a52a5" d="M14 30.5h17M12 31.5h5M29 31.5h8M12 32.5h2M36 32.5h6M13 33.5h1M40 33.5h6M13 34.5h1M44 34.5h4M14 35.5h1M47 35.5h3M14 36.5h1M48 36.5h2M15 37.5h1M48 37.5h2M15 38.5h1M49 38.5h1M16 39.5h1M49 39.5h2M16 40.5h2M49 40.5h1M17 41.5h1M49 41.5h1M18 42.5h1M48 42.5h1M19 43.5h1M47 43.5h1M20 44.5h1M46 44.5h1M21 45.5h1M44 45.5h2M21 46.5h1M43 46.5h2M22 47.5h1M42 47.5h2M22 48.5h2M41 48.5h2M23 49.5h1M40 49.5h2M23 50.5h2M39 50.5h2M23 51.5h2M39 51.5h2M23 52.5h2M38 52.5h2M23 53.5h2M37 53.5h3M23 54.5h3M37 54.5h2M24 55.5h2M36 55.5h3M24 56.5h3M34 56.5h4M24 57.5h13M25 58.5h11M27 59.5h5"/>
<path stroke="#3a54a6" d="M12 29.5h20M11 30.5h3M31 30.5h8M11 31.5h1M37 31.5h7M11 32.5h1M42 32.5h5M12 33.5h1M46 33.5h4M12 34.5h1M48 34.5h3M13 35.5h1M50 35.5h1M13 36.5h1M50 36.5h1M14 37.5h1M50 37.5h2M14 38.5h1M50 38.5h2M15 39.5h1M51 39.5h1M15 40.5h1M50 40.5h2M16 41.5h1M50 41.5h1M17 42.5h1M49 42.5h1M18 43.5h1M48 43.5h1M19 44.5h1M47 44.5h1M19 45.5h2M46 45.5h1M20 46.5h1M45 46.5h1M21 47.5h1M44 47.5h1M21 48.5h1M43 48.5h1M21 49.5h2M42 49.5h2M21 50.5h2M41 50.5h2M22 51.5h1M41 51.5h2M22 52.5h1M40 52.5h2M22 53.5h1M40 53.5h2M22 54.5h1M39 54.5h2M22 55.5h2M39 55.5h2M22 56.5h2M38 56.5h2M23 57.5h1M37 57.5h3M23 58.5h2M36 58.5h3M24 59.5h3M32 59.5h6M25 60.5h12M26 61.5h5"/>
<path stroke="#3b56a7" d="M9 28.5h24M9 29.5h3M32 29.5h8M9 30.5h2M39 30.5h6M9 31.5h2M44 31.5h5M10 32.5h1M47 32.5h4M10 33.5h2M50 33.5h3M11 34.5h1M51 34.5h2M12 35.5h1M51 35.5h2M12 36.5h1M51 36.5h2M13 37.5h1M52 37.5h1M13 38.5h1M52 38.5h1M14 39.5h1M52 39.5h1M14 40.5h1M52 40.5h1M15 41.5h1M51 41.5h1M16 42.5h1M50 42.5h2M17 43.5h1M49 43.5h1M18 44.5h1M48 44.5h1M18 45.5h1M47 45.5h1M19 46.5h1M46 46.5h1M20 47.5h1M45 47.5h2M20 48.5h1M44 48.5h2M20 49.5h1M44 49.5h2M20 50.5h1M43 50.5h2M20 51.5h2M43 51.5h2M20 52.5h2M42 52.5h2M20 53.5h2M42 53.5h2M20 54.5h2M41 54.5h2M21 55.5h1M41 55.5h2M21 56.5h1M40 56.5h3M21 57.5h2M40 57.5h2M22 58.5h1M39 58.5h3M22 59.5h2M38 59.5h3M23 60.5h2M37 60.5h3M24 61.5h2M31 61.5h9M24 62.5h8M35 62.5h4M26 63.5h4"/>
<path stroke="#3c58a9" d="M12 26.5h11M7 27.5h27M7 28.5h2M33 28.5h8M7 29.5h2M40 29.5h6M8 30.5h1M45 30.5h5M8 31.5h1M49 31.5h4M9 32.5h1M51 32.5h3M9 33.5h1M53 33.5h1M10 34.5h1M53 34.5h1M11 35.5h1M53 35.5h1M11 36.5h1M53 36.5h1M12 37.5h1M53 37.5h2M12 38.5h1M53 38.5h2M13 39.5h1M53 39.5h2M53 40.5h1M14 41.5h1M52 41.5h2M15 42.5h1M52 42.5h1M16 43.5h1M50 43.5h2M17 44.5h1M49 44.5h2M17 45.5h1M48 45.5h2M18 46.5h1M47 46.5h2M18 47.5h2M47 47.5h1M19 48.5h1M46 48.5h2M19 49.5h1M46 49.5h1M19 50.5h1M45 50.5h2M19 51.5h1M45 51.5h2M19 52.5h1M44 52.5h2M19 53.5h1M44 53.5h2M19 54.5h1M43 54.5h2M19 55.5h2M43 55.5h2M20 56.5h1M43 56.5h1M20 57.5h1M42 57.5h2M21 58.5h1M42 58.5h2M21 59.5h1M41 59.5h2M22 60.5h1M40 60.5h3M22 61.5h2M40 61.5h2M23 62.5h1M32 62.5h3M39 62.5h3M23 63.5h3M30 63.5h3M34 63.5h7M25 64.5h5"/>
<path stroke="#3e5dac" d="M8 25.5h17M5 26.5h7M23 26.5h12M5 27.5h2M34 27.5h8M6 28.5h1M41 28.5h7M6 29.5h1M46 29.5h6M7 30.5h1M50 30.5h4M7 31.5h1M53 31.5h2M8 32.5h1M54 32.5h2M8 33.5h1M54 33.5h2M9 34.5h1M54 34.5h2M9 35.5h2M54 35.5h2M10 36.5h1M54 36.5h2M11 37.5h1M55 37.5h1M11 38.5h1M55 38.5h1M12 39.5h1M55 39.5h1M13 40.5h1M54 40.5h1M13 41.5h1M54 41.5h1M14 42.5h1M53 42.5h1M15 43.5h1M52 43.5h1M16 44.5h1M51 44.5h1M16 45.5h1M50 45.5h1M17 46.5h1M49 46.5h1M17 47.5h1M48 47.5h2M17 48.5h2M48 48.5h1M17 49.5h2M47 49.5h2M17 50.5h2M47 50.5h2M17 51.5h2M47 51.5h1M17 52.5h2M46 52.5h2M18 53.5h1M46 53.5h2M18 54.5h1M45 54.5h2M18 55.5h1M45 55.5h2M19 56.5h1M44 56.5h2M19 57.5h1M44 57.5h2M20 58.5h1M44 58.5h2M20 59.5h1M43 59.5h2M20 60.5h2M43 60.5h2M21 61.5h1M42 61.5h3M22 62.5h1M42 62.5h2M33 63.5h1M41 63.5h2M30 64.5h11"/>
<path stroke="#3f63af" d="M4 24.5h23M3 25.5h5M25 25.5h12M4 26.5h1M35 26.5h9M4 27.5h1M42 27.5h7M4 28.5h2M48 28.5h5M5 29.5h1M52 29.5h4M5 30.5h2M54 30.5h3M6 31.5h1M55 31.5h2M7 32.5h1M56 32.5h1M7 33.5h1M56 33.5h1M8 34.5h1M56 34.5h1M8 35.5h1M56 35.5h1M9 36.5h1M56 36.5h1M10 37.5h1M56 37.5h1M10 38.5h1M56 38.5h1M11 39.5h1M56 39.5h1M12 40.5h1M55 40.5h2M12 41.5h1M55 41.5h1M13 42.5h1M54 42.5h1M14 43.5h1M53 43.5h1M15 44.5h1M52 44.5h1M15 45.5h1M51 45.5h1M16 46.5h1M50 46.5h2M16 47.5h1M50 47.5h2M16 48.5h1M49 48.5h2M16 49.5h1M49 49.5h2M16 50.5h1M49 50.5h1M16 51.5h1M48 51.5h2M16 52.5h1M48 52.5h2M17 53.5h1M48 53.5h1M17 54.5h1M47 54.5h2M17 55.5h1M47 55.5h2M18 56.5h1M46 56.5h3M18 57.5h1M46 57.5h3M18 58.5h2M46 58.5h2M19 59.5h1M45 59.5h2M45 60.5h1M32 65.5h2"/>
<path stroke="#416bb3" d="M2 23.5h28M2 24.5h2M27 24.5h11M2 25.5h1M37 25.5h8M2 26.5h2M44 26.5h6M3 27.5h1M49 27.5h5M3 28.5h1M53 28.5h4M4 29.5h1M56 29.5h2M4 30.5h1M57 30.5h1M5 31.5h1M57 31.5h1M6 32.5h1M57 32.5h1M6 33.5h1M57 33.5h1M7 34.5h1M57 34.5h1M7 35.5h1M57 35.5h1M8 36.5h1M57 36.5h1M9 37.5h1M57 37.5h1M9 38.5h1M57 38.5h1M10 39.5h1M57 39.5h1M11 40.5h1M57 40.5h1M56 41.5h1M12 42.5h1M55 42.5h1M13 43.5h1M54 43.5h1M14 44.5h1M53 44.5h2M14 45.5h1M52 45.5h2M15 46.5h1M52 46.5h2M15 47.5h1M52 47.5h1M15 48.5h1M51 48.5h2M15 49.5h1M51 49.5h1M15 50.5h1M50 50.5h2M15 51.5h1M50 51.5h2M15 52.5h1M50 52.5h1M16 53.5h1M49 53.5h2M16 54.5h1M49 54.5h2M16 55.5h1M49 55.5h2M17 56.5h1M49 56.5h1M17 57.5h1"/>
<path stroke="#447bbd" d="M30 23.5h10M38 24.5h8M45 25.5h7M1 26.5h1M50 26.5h6M1 27.5h2M54 27.5h5M2 28.5h1M57 28.5h3M3 29.5h1M58 29.5h2M3 30.5h1M58 30.5h2M4 31.5h1M58 31.5h2M5 32.5h1M58 32.5h2M5 33.5h1M58 33.5h2M6 34.5h1M58 34.5h2M6 35.5h1M58 35.5h2M7 36.5h1M58 36.5h2M8 37.5h1M58 37.5h2M8 38.5h1M58 38.5h1M9 39.5h1M58 39.5h1M10 40.5h1M58 40.5h1M11 41.5h1M57 41.5h1M11 42.5h1M56 42.5h1M12 43.5h1M55 43.5h2M13 44.5h1M55 44.5h1M13 45.5h1M54 45.5h1M13 46.5h2M54 46.5h1M14 47.5h1M53 47.5h2M14 48.5h1M53 48.5h1M14 49.5h1M52 49.5h2M14 50.5h1M52 50.5h2M14 51.5h1M52 51.5h1M14 52.5h1M51 52.5h3M15 53.5h1M51 53.5h2M15 54.5h1M51 54.5h1M15 55.5h1M16 56.5h1"/>
<path stroke="#4787c8" d="M40 23.5h8M46 24.5h7M52 25.5h5M56 26.5h4M59 27.5h2M1 28.5h1M60 28.5h1M2 29.5h1M60 29.5h1M2 30.5h1M60 30.5h1M3 31.5h1M60 31.5h1M4 32.5h1M60 32.5h1M4 33.5h1M60 33.5h1M5 34.5h1M60 34.5h1M5 35.5h1M60 35.5h1M6 36.5h1M60 36.5h1M7 37.5h1M60 37.5h1M59 38.5h2M8 39.5h1M59 39.5h1M9 40.5h1M59 40.5h1M10 41.5h1M58 41.5h1M10 42.5h1M57 42.5h2M11 43.5h1M57 43.5h1M12 44.5h1M56 44.5h1M12 45.5h1M55 45.5h2M12 46.5h1M55 46.5h2M12 47.5h2M55 47.5h1M12 48.5h2M54 48.5h2M13 49.5h1M54 49.5h2M13 50.5h1M54 50.5h2M13 51.5h1M53 51.5h2M14 53.5h1M14 54.5h1"/>
<path stroke="#4898d5" d="M48 23.5h7M53 24.5h6M57 25.5h5M60 26.5h2M61 27.5h2M61 28.5h2M0 29.5h2M61 29.5h2M1 30.5h1M61 30.5h2M2 31.5h1M61 31.5h2M3 32.5h1M61 32.5h2M3 33.5h1M61 33.5h1M4 34.5h1M61 34.5h1M4 35.5h1M61 35.5h1M5 36.5h1M61 36.5h1M6 37.5h1M61 37.5h1M7 38.5h1M61 38.5h1M7 39.5h1M60 39.5h2M8 40.5h1M60 40.5h1M9 41.5h1M59 41.5h2M59 42.5h1M10 43.5h1M58 43.5h1M11 44.5h1M57 44.5h2M11 45.5h1M57 45.5h2M11 46.5h1M57 46.5h1M11 47.5h1M56 47.5h2M11 48.5h1M56 48.5h2M12 49.5h1M56 49.5h1M12 50.5h1M12 51.5h1M12 52.5h2M13 53.5h1"/>
<path stroke="#44a7df" d="M55 23.5h6M59 24.5h4M62 25.5h2M62 26.5h2M63 27.5h1M63 28.5h1M63 29.5h1M0 30.5h1M63 30.5h1M0 31.5h2M63 31.5h1M1 32.5h2M63 32.5h1M2 33.5h1M62 33.5h2M3 34.5h1M62 34.5h2M62 35.5h2M4 36.5h1M62 36.5h2M5 37.5h1M62 37.5h1M6 38.5h1M62 38.5h1M6 39.5h1M62 39.5h1M7 40.5h1M61 40.5h1M8 41.5h1M61 41.5h1M9 42.5h1M60 42.5h1M9 43.5h1M59 43.5h2M10 44.5h1M59 44.5h1M10 45.5h1M59 45.5h1M10 46.5h1M58 46.5h2M10 47.5h1M58 47.5h1M11 49.5h1M11 50.5h1M11 51.5h1"/>
<path stroke="#3db8ec" d="M61 23.5h3M63 24.5h1M64 26.5h1M64 27.5h1M64 28.5h1M64 29.5h2M64 30.5h2M64 31.5h2M0 32.5h1M64 32.5h2M1 33.5h1M64 33.5h2M2 34.5h1M64 34.5h2M3 35.5h1M64 35.5h2M3 36.5h1M64 36.5h1M4 37.5h1M63 37.5h2M5 38.5h1M63 38.5h1M63 39.5h1M6 40.5h1M62 40.5h2M7 41.5h1M62 41.5h1M8 42.5h1M61 42.5h2M8 43.5h1M61 43.5h2M9 44.5h1M60 44.5h2M9 45.5h1M60 45.5h1M9 46.5h1M9 47.5h1M10 48.5h1M10 49.5h1M10 50.5h1"/>
<path stroke="#39c2f0" d="M0 33.5h1M0 34.5h2M2 35.5h1M2 36.5h1M3 37.5h1M4 38.5h1M64 38.5h1M5 39.5h1M64 39.5h1M5 40.5h1M6 41.5h1M63 41.5h1M7 42.5h1M63 42.5h1M7 43.5h1M8 44.5h1M8 45.5h1M8 46.5h1M8 47.5h1M9 48.5h1M9 49.5h1"/>
<path stroke="#53c8ea" d="M0 35.5h2M1 36.5h1M2 37.5h1M3 38.5h1M4 39.5h1M4 40.5h1M5 41.5h1M6 42.5h1M6 43.5h1M7 44.5h1M7 45.5h1M7 46.5h1M7 47.5h1M8 48.5h1"/>
<path stroke="#69cadf" d="M1 37.5h1M2 38.5h1M3 39.5h1M4 41.5h1M5 42.5h1M5 43.5h1M6 44.5h1M6 45.5h1M6 46.5h1"/>
<path stroke="#6fcad3" d="M1 38.5h1M2 39.5h1M3 40.5h1M3 41.5h1M4 42.5h1M4 43.5h1M4 44.5h2M5 45.5h1"/>
<path stroke="#71c9c7" d="M1 39.5h1M2 40.5h1M2 41.5h1M2 42.5h2M3 43.5h1"/>
</g>
<rect x="-142.5" y="-41.63" width="285" height="183.53" fill="url(#gp)"/>
<path fill="none" stroke="#3c4650" stroke-width="0.95" stroke-opacity="0.8" d="M-51.82 12.44 -54.01 13.85 -56.14 16.69 -56.76 18.12 -56.14 21.17 -55.92 22.39 -53.78 26.66 -52.05 30.93 -51.82 31.33 -49.64 35.2 -47.5 38.19 -46.6 39.46 -43.18 43.73 -43.18 43.73 -39.29 48 -38.86 48.45 -35.11 52.27 -34.55 52.85 -30.66 56.54 -30.23 56.98 -25.91 59.98 -23.69 60.8 -21.59 61.7 -17.27 62.48 -12.95 62.53 -8.64 62.14 -4.32 61.61 0 60.98 1.33 60.8 4.32 60.45 8.64 60.37 12.95 60.48 17.27 59.58 21.59 58.21 25.52 56.54 25.91 56.36 30.23 53.87 32.49 52.27 34.55 50.69 38.01 48 38.86 47.2 42.71 43.73 43.18 43.14 46.28 39.46 47.5 35.72 47.68 35.2 47.5 34.84 44.86 30.93 43.18 29.43 38.86 26.83 38.52 26.66 34.55 24.84 30.23 22.98 28.75 22.39 25.91 21.35 21.59 19.88 17.27 18.54 15.79 18.12 12.95 17.37 8.64 16.33 4.32 15.39 0 14.55 -3.99 13.85 -4.32 13.8 -8.64 13.19 -12.95 12.6 -17.27 11.98 -21.59 11.43 -25.91 10.91 -30.23 10.44 -34.55 10.07 -38.86 9.86 -43.18 9.99 -47.5 10.74 -51.82 12.44M-73.41 -7.49 -73.44 -7.49 -77.73 -6.23 -82.05 -4.44 -83.95 -3.22 -85.04 1.05 -83.59 5.32 -82.05 8.15 -81.31 9.59 -78.81 13.85 -77.73 15.9 -76.51 18.12 -74.65 22.39 -73.41 24.93 -72.59 26.66 -70.08 30.93 -69.09 32.31 -67.05 35.2 -64.77 38.01 -63.6 39.46 -60.45 43.3 -60.09 43.73 -56.51 48 -56.14 48.44 -52.86 52.27 -51.82 53.55 -49.29 56.54 -47.5 58.87 -45.93 60.8 -43.18 64.88 -43.04 65.07 -40.99 69.34 -39.74 73.61 -38.86 77.65 -38.81 77.88 -38.07 82.15 -37.45 86.41 -36.79 90.68 -35.87 94.95 -34.55 98.98 -34.43 99.22 -31.54 103.49 -30.23 104.79 -25.91 107.53 -25.27 107.75 -21.59 108.94 -17.27 109.45 -12.95 109.34 -8.64 108.86 -4.32 108.09 -2.59 107.75 0 107.23 4.32 106.19 8.64 104.26 9.87 103.49 12.95 101.24 15.09 99.22 17.27 96.94 18.81 94.95 21.59 91.21 21.92 90.68 24.67 86.41 25.91 84.51 27.3 82.15 29.92 77.88 30.23 77.41 32.59 73.61 34.55 70.66 35.37 69.34 38.86 65.33 39.06 65.07 43.18 61.28 43.65 60.8 47.5 57.57 48.67 56.54 51.82 53.99 53.9 52.27 56.14 50.45 59.13 48 60.45 46.87 64.18 43.73 64.77 43.15 68.54 39.46 69.09 38.64 71.45 35.2 72.49 30.93 71.88 26.66 70.3 22.39 69.09 18.55 68.96 18.12 67.61 13.85 64.77 11.42 60.78 9.59 60.45 9.46 56.14 7.86 51.82 6.35 48.69 5.32 47.5 4.95 43.18 3.68 38.86 2.48 34.55 1.35 33.34 1.05 30.23 0.31 25.91 -0.66 21.59 -1.57 17.27 -2.44 13.18 -3.22 12.95 -3.26 8.64 -3.99 4.32 -4.67 0 -5.3 -4.32 -5.89 -8.64 -6.42 -12.95 -6.91 -17.27 -7.34 -18.87 -7.49 -21.59 -7.72 -25.91 -8.05 -30.23 -8.32 -34.55 -8.54 -38.86 -8.71 -43.18 -8.82 -47.5 -8.87 -51.82 -8.85 -56.14 -8.76 -60.45 -8.63 -64.77 -8.45 -69.09 -8.13 -73.41 -7.49M-21.09 137.63 -17.27 136.52 -12.95 134.88 -9.54 133.36 -8.64 132.93 -4.32 130.99 0 130 4.32 130.24 8.64 131.15 12.95 132.23 17.27 133.16 18.71 133.36 21.59 133.79 25.91 133.87 28.21 133.36 30.23 132.6 33.52 129.1 34.55 127.58 36.34 124.83 38.8 120.56 38.86 120.44 41.03 116.29 43.09 112.02 43.18 111.84 45.1 107.75 47.08 103.49 47.5 102.59 49.06 99.22 50.96 94.95 51.82 92.92 52.76 90.68 54.5 86.41 56.14 82.35 56.22 82.15 57.92 77.88 59.66 73.61 60.45 71.76 61.46 69.34 63.39 65.07 64.77 62.39 65.56 60.8 68.44 56.54 69.09 55.91 72.52 52.27 73.41 51.5 77.24 48 77.73 47.58 82.05 43.86 82.19 43.73 86.36 39.7 86.61 39.46 89.83 35.2 90.68 33.16 91.62 30.93 92.33 26.66 92.39 22.39 91.94 18.12 90.98 13.85 90.68 11.08 90.52 9.59 90.37 5.32 89.92 1.05 87.58 -3.22 86.36 -4.09 82.05 -5.88 77.73 -7.33 77.25 -7.49 73.41 -8.66 69.09 -9.9 64.77 -11.07 62.11 -11.75 60.45 -12.16 56.14 -13.17 51.82 -14.12 47.5 -15.03 43.18 -15.89 42.46 -16.02 38.86 -16.68 34.55 -17.43 30.23 -18.14 25.91 -18.82 21.59 -19.46 17.27 -20.07 15.66 -20.29 12.95 -20.65 8.64 -21.2 4.32 -21.72 0 -22.22 -4.32 -22.69 -8.64 -23.14 -12.95 -23.56 -17.27 -23.95 -21.59 -24.33 -24.45 -24.56 -25.91 -24.68 -30.23 -25 -34.55 -25.3 -38.86 -25.57 -43.18 -25.81 -47.5 -26.01 -51.82 -26.19 -56.14 -26.34 -60.45 -26.44 -64.77 -26.51 -69.09 -26.54 -73.41 -26.51 -77.73 -26.43 -82.05 -26.3 -86.36 -26.1 -90.68 -25.82 -95 -25.46 -99.32 -24.94 -101.38 -24.56 -103.64 -24.05 -107.95 -22.76 -110.81 -20.29 -110.74 -16.02 -109.35 -11.75 -107.95 -8.82 -107.35 -7.49 -104.98 -3.22 -103.64 -1.04 -102.38 1.05 -99.72 5.32 -99.32 6 -97.18 9.59 -95 13.81 -94.97 13.85 -93 18.12 -90.68 22.21 -90.59 22.39 -87.85 26.66 -86.36 28.86 -84.97 30.93 -82.05 34.83 -81.77 35.2 -78.25 39.46 -77.73 40.11 -74.77 43.73 -73.41 45.45 -71.36 48 -69.09 51.01 -68.11 52.27 -65.21 56.54 -64.77 57.43 -62.98 60.8 -61.65 65.07 -61.07 69.34 -60.91 73.61 -60.82 77.88 -60.67 82.15 -60.45 84.95 -60.34 86.41 -59.61 90.68 -58.43 94.95 -57.05 99.22 -56.14 101.86 -55.54 103.49 -53.72 107.75 -51.82 111.88 -51.75 112.02 -49.42 116.29 -47.5 119.72 -46.98 120.56 -44.21 124.83 -43.18 126.39 -41.11 129.1 -38.86 132.01 -37.5 133.36M-135.37 -27.34 -134.14 -24.56 -133.86 -24.12 -131.61 -20.29 -129.55 -17.04 -128.94 -16.02 -126.16 -11.75 -125.23 -10.38 -123.32 -7.49 -120.91 -3.91 -120.45 -3.22 -117.6 1.05 -116.59 2.69 -114.96 5.32 -112.73 9.59 -112.27 10.37 -110.35 13.85 -107.95 17.5 -107.56 18.12 -104.57 22.39 -103.64 23.72 -101.58 26.66 -99.32 29.87 -98.57 30.93 -95.36 35.2 -95 35.64 -91.92 39.46 -90.68 41.08 -88.61 43.73 -86.36 46.87 -85.53 48 -82.9 52.27 -82.05 54.32 -81.05 56.54 -80.11 60.8 -79.88 65.07 -79.91 69.34 -79.61 73.61 -78.86 77.88 -77.73 82.06 -77.7 82.15 -76.25 86.41 -74.69 90.68 -73.41 93.95 -73.01 94.95 -71.72 99.22 -70.94 101.66M80.32 92.39 80.35 90.68 80.64 86.41 81.49 82.15 82.05 80.54 82.92 77.88 84.6 73.61 86.27 69.34 86.36 69.09 87.83 65.07 89.37 60.8 90.68 57.42 91.02 56.54 92.92 52.27 95 49 95.57 48 99.32 43.96 99.51 43.73 103.64 39.58 103.75 39.46 106.92 35.2 107.95 32.87 108.82 30.93 109.91 26.66 110.66 22.39 111.22 18.12 111.46 13.85 111.14 9.59 110.84 5.32 110.97 1.05 111.21 -3.22 111.25 -7.49 110.87 -11.75 109.58 -16.02 107.95 -18.15 104.56 -20.29 103.64 -20.64 99.32 -21.95 95 -23.18 90.68 -24.34 89.83 -24.56 86.36 -25.41 82.05 -26.41 77.73 -27.36 73.41 -28.25 70.49 -28.83 69.09 -29.1 64.77 -29.89 60.45 -30.66 56.14 -31.41 51.82 -32.13 47.5 -32.82 45.77 -33.1 43.18 -33.52 38.86 -34.2 34.55 -34.86 30.23 -35.49 25.91 -36.11 21.59 -36.7 17.27 -37.26 16.49 -37.36 12.95 -37.85 8.64 -38.41 4.32 -38.96 0 -39.48 -4.32 -39.98 -8.64 -40.45 -12.95 -40.9 -17.27 -41.33 -20.57 -41.63M-138.18 -6.59 -135.81 -3.22 -133.86 -0.25 -133.01 1.05 -130.5 5.32 -129.55 6.66 -127.58 9.59 -125.23 12.69 -124.38 13.85 -121.08 18.12 -120.91 18.34 -117.8 22.39 -116.59 24.02 -114.65 26.66 -112.27 30.05 -111.65 30.93 -108.56 35.2 -107.95 36.01 -105.33 39.46 -103.64 41.91 -102.34 43.73 -99.86 48 -99.32 49.51 -98.26 52.27 -97.57 56.54 -97.23 60.8 -96.42 65.07 -95.18 69.34 -95 69.82 -93.59 73.61 -92.14 77.88 -91.11 81.72M113.01 60.08 113.9 56.54 115.47 52.27 116.59 49.52 117.22 48 119.03 43.73 120.91 40.87 121.72 39.46 124.45 35.2 125.23 33.11 126.06 30.93 127.36 26.66 128.47 22.39 129.41 18.12 129.55 17.38 130.2 13.85 130.8 9.59 131.16 5.32 131.17 1.05 131.52 -3.22 132.02 -7.49 132.53 -11.75 132.93 -16.02 133.07 -20.29 132.76 -24.56 131.62 -28.83 129.55 -32.25 128.88 -33.1 125.23 -35.44 120.91 -36.87 119.09 -37.36 116.59 -38.01 112.27 -39.09 107.95 -40.12 103.64 -41.11 101.35 -41.63M-138.18 14.39 -134.92 18.12 -133.86 19.33 -131.28 22.39 -129.55 24.53 -127.87 26.66 -125.23 30.29 -124.77 30.93 -121.94 35.2 -120.91 36.75 -119.07 39.46 -116.67 43.73 -116.59 43.97 -115.24 48 -114.16 52.27 -112.7 56.54 -112.27 57.65 -111.07 60.8 -110.4 62.65"/>
<use href="#head"/>
</g>
<g transform="translate(162.85 1019.7)">
<circle r="147.5" fill="none" stroke="#ebf2fb" stroke-width="10.4"/>
<g transform="translate(-142.5 -139.8) scale(4.3182 4.2682)" fill="none" stroke-width="1" shape-rendering="crispEdges">
<path stroke="#82c997" d="M25 40.5h6M25 41.5h7M27 42.5h3"/>
<path stroke="#87c889" d="M23 39.5h8M23 40.5h2M31 40.5h2M23 41.5h2M32 41.5h2M25 42.5h2M30 42.5h3"/>
<path stroke="#8fc978" d="M22 38.5h7M22 39.5h1M31 39.5h2M22 40.5h1M33 40.5h2M22 41.5h1M34 41.5h2M23 42.5h2M33 42.5h2M25 43.5h7"/>
<path stroke="#9bcc68" d="M21 37.5h7M20 38.5h2M29 38.5h3M20 39.5h2M33 39.5h2M20 40.5h2M35 40.5h2M21 41.5h1M36 41.5h2M22 42.5h1M35 42.5h2M24 43.5h1M32 43.5h3M26 44.5h4"/>
<path stroke="#a4ce5b" d="M21 36.5h4M19 37.5h2M28 37.5h2M19 38.5h1M32 38.5h2M19 39.5h1M35 39.5h2M19 40.5h1M37 40.5h2M20 41.5h1M38 41.5h2M21 42.5h1M37 42.5h3M23 43.5h1M35 43.5h2M25 44.5h1M30 44.5h3"/>
<path stroke="#aace4d" d="M18 36.5h3M25 36.5h3M18 37.5h1M30 37.5h2M18 38.5h1M34 38.5h2M18 39.5h1M37 39.5h3M18 40.5h1M39 40.5h3M19 41.5h1M40 41.5h2M20 42.5h1M40 42.5h2M22 43.5h1M37 43.5h4M24 44.5h1M33 44.5h3M26 45.5h5"/>
<path stroke="#b7d23d" d="M18 35.5h7M17 36.5h1M28 36.5h2M17 37.5h1M32 37.5h4M17 38.5h1M36 38.5h4M17 39.5h1M40 39.5h3M42 40.5h2M18 41.5h1M42 41.5h2M19 42.5h1M42 42.5h1M21 43.5h1M41 43.5h1M23 44.5h1M36 44.5h4M25 45.5h1M31 45.5h3M28 46.5h1"/>
<path stroke="#c3d632" d="M18 34.5h3M16 35.5h2M25 35.5h3M16 36.5h1M30 36.5h7M16 37.5h1M36 37.5h5M16 38.5h1M40 38.5h4M16 39.5h1M43 39.5h2M17 40.5h1M44 40.5h2M17 41.5h1M44 41.5h1M43 42.5h2M20 43.5h1M42 43.5h1M22 44.5h1M40 44.5h2M24 45.5h1M34 45.5h6M26 46.5h2M29 46.5h3"/>
<path stroke="#d0da28" d="M16 34.5h2M21 34.5h4M15 35.5h1M28 35.5h8M15 36.5h1M37 36.5h4M41 37.5h4M44 38.5h2M45 39.5h2M16 40.5h1M46 40.5h1M45 41.5h2M18 42.5h1M45 42.5h1M19 43.5h1M43 43.5h1M21 44.5h1M42 44.5h1M23 45.5h1M40 45.5h1M25 46.5h1M32 46.5h7M27 47.5h3"/>
<path stroke="#dde11f" d="M15 33.5h7M14 34.5h2M25 34.5h11M14 35.5h1M36 35.5h6M41 36.5h4M15 37.5h1M45 37.5h2M15 38.5h1M46 38.5h1M15 39.5h1M47 39.5h1M15 40.5h1M47 40.5h1M16 41.5h1M47 41.5h1M17 42.5h1M46 42.5h1M18 43.5h1M44 43.5h1M20 44.5h1M43 44.5h1M22 45.5h1M41 45.5h1M24 46.5h1M39 46.5h1M26 47.5h1M30 47.5h4"/>
<path stroke="#e8e61a" d="M14 33.5h1M22 33.5h12M36 34.5h6M42 35.5h4M14 36.5h1M45 36.5h3M14 37.5h1M47 37.5h1M14 38.5h1M47 38.5h2M14 39.5h1M48 39.5h1M14 40.5h1M48 40.5h1M15 41.5h1M48 41.5h1M16 42.5h1M47 42.5h1M45 43.5h1M19 44.5h1M44 44.5h1M21 45.5h1M42 45.5h1M23 46.5h1M40 46.5h2M24 47.5h2M34 47.5h6M26 48.5h6"/>
<path stroke="#f6ec18" d="M13 32.5h18M13 33.5h1M34 33.5h8M13 34.5h1M42 34.5h4M13 35.5h1M46 35.5h3M13 36.5h1M48 36.5h1M13 37.5h1M48 37.5h2M13 38.5h1M49 38.5h1M13 39.5h1M49 39.5h1M13 40.5h1M49 40.5h1M14 41.5h1M49 41.5h1M15 42.5h1M48 42.5h1M17 43.5h1M46 43.5h1M18 44.5h1M45 44.5h1M20 45.5h1M43 45.5h1M22 46.5h1M42 46.5h1M23 47.5h1M40 47.5h1M25 48.5h1M32 48.5h7M27 49.5h4"/>
<path stroke="#f9ea0e" d="M14 31.5h3M12 32.5h1M31 32.5h10M12 33.5h1M42 33.5h5M12 34.5h1M46 34.5h4M12 35.5h1M49 35.5h1M12 36.5h1M49 36.5h1M12 37.5h1M50 37.5h1M12 38.5h1M50 38.5h1M12 39.5h1M50 39.5h1M50 40.5h1M13 41.5h1M50 41.5h1M49 42.5h1M16 43.5h1M47 43.5h1M46 44.5h1M19 45.5h1M44 45.5h1M21 46.5h1M43 46.5h1M22 47.5h1M41 47.5h1M24 48.5h1M39 48.5h2M25 49.5h2M31 49.5h8M27 50.5h5"/>
<path stroke="#ffdc01" d="M11 31.5h3M17 31.5h23M11 32.5h1M41 32.5h6M11 33.5h1M47 33.5h3M11 34.5h1M50 34.5h1M11 35.5h1M50 35.5h1M11 36.5h1M50 36.5h2M11 37.5h1M51 37.5h1M11 38.5h1M51 38.5h1M11 39.5h1M51 39.5h1M12 40.5h1M51 40.5h1M51 41.5h1M14 42.5h1M50 42.5h1M15 43.5h1M48 43.5h1M17 44.5h1M47 44.5h1M18 45.5h1M45 45.5h1M20 46.5h1M44 46.5h1M21 47.5h1M42 47.5h1M23 48.5h1M41 48.5h1M24 49.5h1M39 49.5h2M25 50.5h2M32 50.5h7M27 51.5h5"/>
<path stroke="#feca08" d="M11 30.5h26M10 31.5h1M40 31.5h6M10 32.5h1M47 32.5h4M10 33.5h1M50 33.5h2M51 34.5h2M51 35.5h2M52 36.5h1M52 37.5h1M52 38.5h1M52 39.5h1M11 40.5h1M52 40.5h1M12 41.5h1M52 41.5h1M13 42.5h1M51 42.5h1M14 43.5h1M49 43.5h1M16 44.5h1M48 44.5h1M17 45.5h1M46 45.5h1M19 46.5h1M45 46.5h1M20 47.5h1M43 47.5h1M21 48.5h2M42 48.5h1M23 49.5h1M41 49.5h1M24 50.5h1M39 50.5h2M25 51.5h2M32 51.5h8M27 52.5h6M34 52.5h3"/>
<path stroke="#fcb911" d="M24 29.5h8M10 30.5h1M37 30.5h9M46 31.5h5M51 32.5h2M52 33.5h2M10 34.5h1M53 34.5h1M10 35.5h1M53 35.5h1M10 36.5h1M53 36.5h1M10 37.5h1M53 37.5h1M10 38.5h1M53 38.5h1M10 39.5h1M53 39.5h1M10 40.5h1M53 40.5h1M11 41.5h1M12 42.5h1M50 43.5h1M15 44.5h1M49 44.5h1M47 45.5h1M18 46.5h1M46 46.5h1M19 47.5h1M44 47.5h2M20 48.5h1M43 48.5h2M21 49.5h2M42 49.5h2M22 50.5h2M41 50.5h2M23 51.5h2M40 51.5h2M25 52.5h2M33 52.5h1M37 52.5h3M26 53.5h12"/>
<path stroke="#f9ab19" d="M10 29.5h14M32 29.5h13M9 30.5h1M46 30.5h5M9 31.5h1M51 31.5h3M9 32.5h1M53 32.5h2M9 33.5h1M54 33.5h1M9 34.5h1M54 34.5h1M9 35.5h1M54 35.5h1M9 36.5h1M54 36.5h1M9 37.5h1M54 37.5h1M9 38.5h1M54 38.5h1M9 39.5h1M54 39.5h1M54 40.5h1M10 41.5h1M53 41.5h1M52 42.5h1M13 43.5h1M51 43.5h1M14 44.5h1M50 44.5h1M16 45.5h1M48 45.5h1M17 46.5h1M47 46.5h1M18 47.5h1M46 47.5h1M19 48.5h1M45 48.5h1M20 49.5h1M44 49.5h1M21 50.5h1M43 50.5h1M22 51.5h1M42 51.5h1M23 52.5h2M40 52.5h2M24 53.5h2M38 53.5h3M26 54.5h14"/>
<path stroke="#f79e1c" d="M16 28.5h26M8 29.5h2M45 29.5h6M8 30.5h1M51 30.5h4M8 31.5h1M54 31.5h2M8 32.5h1M55 32.5h1M8 33.5h1M55 33.5h1M8 34.5h1M55 34.5h1M8 35.5h1M55 35.5h1M8 36.5h1M55 36.5h1M8 37.5h1M55 37.5h1M8 38.5h1M55 38.5h1M8 39.5h1M55 39.5h1M9 40.5h1M55 40.5h1M54 41.5h1M11 42.5h1M53 42.5h1M12 43.5h1M52 43.5h1M13 44.5h1M51 44.5h1M15 45.5h1M49 45.5h1M16 46.5h1M48 46.5h1M17 47.5h1M47 47.5h1M18 48.5h1M46 48.5h1M19 49.5h1M45 49.5h2M19 50.5h2M44 50.5h2M20 51.5h2M43 51.5h2M21 52.5h2M42 52.5h2M22 53.5h2M41 53.5h2M24 54.5h2M40 54.5h2M25 55.5h16M28 56.5h7"/>
<path stroke="#f68f1f" d="M21 27.5h16M8 28.5h8M42 28.5h9M7 29.5h1M51 29.5h4M7 30.5h1M55 30.5h2M7 31.5h1M56 31.5h1M7 32.5h1M56 32.5h1M7 33.5h1M56 33.5h1M56 34.5h1M56 35.5h1M56 36.5h1M56 37.5h1M56 38.5h1M56 39.5h1M8 40.5h1M56 40.5h1M9 41.5h1M55 41.5h1M10 42.5h1M54 42.5h1M11 43.5h1M53 43.5h1M14 45.5h1M50 45.5h1M15 46.5h1M49 46.5h1M16 47.5h1M48 47.5h2M16 48.5h2M47 48.5h2M17 49.5h2M47 49.5h1M18 50.5h1M46 50.5h1M19 51.5h1M45 51.5h1M20 52.5h1M44 52.5h2M21 53.5h1M43 53.5h2M22 54.5h2M42 54.5h2M23 55.5h2M41 55.5h2M24 56.5h4M35 56.5h7M27 57.5h12"/>
<path stroke="#f47e20" d="M8 27.5h13M37 27.5h13M7 28.5h1M51 28.5h5M6 29.5h1M55 29.5h2M6 30.5h1M57 30.5h1M6 31.5h1M57 31.5h1M57 32.5h1M57 33.5h1M7 34.5h1M57 34.5h1M7 35.5h1M57 35.5h1M7 36.5h1M57 36.5h1M7 37.5h1M57 37.5h1M7 38.5h1M57 38.5h1M7 39.5h1M57 39.5h1M7 40.5h1M57 40.5h1M8 41.5h1M56 41.5h1M9 42.5h1M55 42.5h1M54 43.5h1M12 44.5h1M52 44.5h1M13 45.5h1M51 45.5h1M14 46.5h1M50 46.5h2M14 47.5h2M50 47.5h1M15 48.5h1M49 48.5h1M16 49.5h1M48 49.5h1M17 50.5h1M47 50.5h2M18 51.5h1M46 51.5h2M19 52.5h1M46 52.5h1M19 53.5h2M45 53.5h1M20 54.5h2M44 54.5h1M21 55.5h2M43 55.5h1M23 56.5h1M42 56.5h1M24 57.5h3M39 57.5h3M26 58.5h14"/>
<path stroke="#f26b21" d="M14 26.5h34M6 27.5h2M50 27.5h6M6 28.5h1M56 28.5h2M57 29.5h2M58 30.5h1M58 31.5h1M6 32.5h1M58 32.5h1M6 33.5h1M58 33.5h1M6 34.5h1M58 34.5h1M6 35.5h1M58 35.5h1M6 36.5h1M58 36.5h1M6 37.5h1M58 37.5h1M6 38.5h1M58 38.5h1M6 39.5h1M58 39.5h1M7 41.5h1M57 41.5h1M8 42.5h1M56 42.5h1M10 43.5h1M55 43.5h1M11 44.5h1M53 44.5h2M12 45.5h1M52 45.5h2M12 46.5h2M52 46.5h1M13 47.5h1M51 47.5h1M14 48.5h1M50 48.5h1M15 49.5h1M49 49.5h2M16 50.5h1M49 50.5h1M16 51.5h2M48 51.5h1M17 52.5h2M47 52.5h1M18 53.5h1M46 53.5h2M19 54.5h1M45 54.5h2M20 55.5h1M44 55.5h2M21 56.5h2M43 56.5h2M22 57.5h2M42 57.5h2M23 58.5h3M40 58.5h3M25 59.5h16M29 60.5h2"/>
<path stroke="#ef5f22" d="M19 25.5h25M6 26.5h8M48 26.5h8M5 27.5h1M56 27.5h3M5 28.5h1M58 28.5h2M5 29.5h1M59 29.5h1M5 30.5h1M59 30.5h1M5 31.5h1M59 31.5h1M5 32.5h1M59 32.5h1M5 33.5h1M59 33.5h1M5 34.5h1M59 34.5h1M5 35.5h1M59 35.5h1M5 36.5h1M59 36.5h1M5 37.5h1M59 37.5h1M5 38.5h1M59 38.5h1M59 39.5h1M6 40.5h1M58 40.5h1M58 41.5h1M57 42.5h1M9 43.5h1M56 43.5h1M10 44.5h1M55 44.5h1M11 45.5h1M54 45.5h1M11 46.5h1M53 46.5h1M12 47.5h1M52 47.5h1M13 48.5h1M51 48.5h2M14 49.5h1M51 49.5h1M14 50.5h2M50 50.5h1M15 51.5h1M49 51.5h2M16 52.5h1M48 52.5h2M17 53.5h1M48 53.5h1M18 54.5h1M47 54.5h1M19 55.5h1M46 55.5h1M20 56.5h1M45 56.5h1M21 57.5h1M44 57.5h1M22 58.5h1M43 58.5h1M23 59.5h2M41 59.5h2M24 60.5h5M31 60.5h11M27 61.5h12"/>
<path stroke="#ee5222" d="M32 24.5h3M8 25.5h11M44 25.5h11M4 26.5h2M56 26.5h4M4 27.5h1M59 27.5h2M4 28.5h1M60 28.5h1M4 29.5h1M60 29.5h1M4 30.5h1M60 30.5h1M4 31.5h1M60 31.5h1M4 32.5h1M60 32.5h1M4 33.5h1M60 33.5h1M4 34.5h1M60 34.5h1M4 35.5h1M60 35.5h1M4 36.5h1M60 36.5h1M4 37.5h1M60 37.5h1M60 38.5h1M5 39.5h1M60 39.5h1M5 40.5h1M59 40.5h1M6 41.5h1M59 41.5h1M7 42.5h1M58 42.5h1M8 43.5h1M57 43.5h1M9 44.5h1M56 44.5h1M10 45.5h1M55 45.5h1M10 46.5h1M54 46.5h1M11 47.5h1M53 47.5h2M12 48.5h1M53 48.5h1M13 49.5h1M52 49.5h1M13 50.5h1M51 50.5h2M14 51.5h1M51 51.5h1M15 52.5h1M50 52.5h1M16 53.5h1M49 53.5h1M17 54.5h1M48 54.5h1M18 55.5h1M47 55.5h1M19 56.5h1M46 56.5h1M20 57.5h1M45 57.5h2M21 58.5h1M44 58.5h2M22 59.5h1M43 59.5h1M23 60.5h1M42 60.5h1M24 61.5h3M39 61.5h3M26 62.5h14"/>
<path stroke="#ef4823" d="M11 24.5h21M35 24.5h19M4 25.5h4M55 25.5h6M3 26.5h1M60 26.5h2M3 27.5h1M61 27.5h1M3 28.5h1M61 28.5h1M3 29.5h1M61 29.5h1M3 30.5h1M61 30.5h1M3 31.5h1M61 31.5h1M61 32.5h1M61 33.5h1M61 34.5h1M61 35.5h1M61 36.5h1M61 37.5h1M4 38.5h1M61 38.5h1M4 39.5h1M4 40.5h1M60 40.5h1M5 41.5h1M6 42.5h1M59 42.5h1M7 43.5h1M58 43.5h1M8 44.5h1M57 44.5h1M9 45.5h1M56 45.5h1M9 46.5h1M55 46.5h2M10 47.5h1M55 47.5h1M11 48.5h1M54 48.5h1M12 49.5h1M53 49.5h1M12 50.5h1M53 50.5h1M13 51.5h1M52 51.5h1M14 52.5h1M51 52.5h1M15 53.5h1M50 53.5h1M16 54.5h1M49 54.5h1M17 55.5h1M48 55.5h2M17 56.5h2M47 56.5h2M18 57.5h2M47 57.5h1M19 58.5h2M46 58.5h1M20 59.5h2M44 59.5h2M21 60.5h2M43 60.5h2M22 61.5h2M42 61.5h2M24 62.5h2M40 62.5h2M25 63.5h16"/>
<path stroke="#ef3b23" d="M16 23.5h36M4 24.5h7M54 24.5h7M3 25.5h1M61 25.5h2M2 26.5h1M62 26.5h1M2 27.5h1M62 27.5h1M2 28.5h1M62 28.5h1M2 29.5h1M62 29.5h1M62 30.5h1M62 31.5h1M3 32.5h1M62 32.5h1M3 33.5h1M62 33.5h1M3 34.5h1M62 34.5h1M3 35.5h1M62 35.5h1M3 36.5h1M62 36.5h1M3 37.5h1M62 37.5h1M3 38.5h1M62 38.5h1M3 39.5h1M61 39.5h1M61 40.5h1M4 41.5h1M60 41.5h1M5 42.5h1M60 42.5h1M6 43.5h1M59 43.5h1M7 44.5h1M58 44.5h1M7 45.5h2M57 45.5h1M8 46.5h1M57 46.5h1M9 47.5h1M56 47.5h1M10 48.5h1M55 48.5h1M11 49.5h1M54 49.5h1M11 50.5h1M54 50.5h1M12 51.5h1M53 51.5h1M13 52.5h1M52 52.5h1M13 53.5h2M51 53.5h2M14 54.5h2M50 54.5h2M15 55.5h2M50 55.5h1M16 56.5h1M49 56.5h1M17 57.5h1M48 57.5h1M18 58.5h1M47 58.5h1M19 59.5h1M46 59.5h1M20 60.5h1M45 60.5h1M21 61.5h1M44 61.5h1M22 62.5h2M42 62.5h2M23 63.5h2M41 63.5h2M25 64.5h16"/>
<path stroke="#ee2a24" d="M5 23.5h11M52 23.5h9M2 24.5h2M61 24.5h3M2 25.5h1M63 25.5h1M1 26.5h1M63 26.5h2M1 27.5h1M63 27.5h1M1 28.5h1M63 28.5h1M63 29.5h1M2 30.5h1M63 30.5h1M2 31.5h1M63 31.5h1M2 32.5h1M63 32.5h1M2 33.5h1M63 33.5h1M2 34.5h1M63 34.5h1M2 35.5h1M63 35.5h1M2 36.5h1M63 36.5h1M2 37.5h1M63 37.5h1M2 38.5h1M2 39.5h1M62 39.5h1M3 40.5h1M62 40.5h1M3 41.5h1M61 41.5h1M4 42.5h1M61 42.5h1M5 43.5h1M60 43.5h1M6 44.5h1M59 44.5h1M58 45.5h1M7 46.5h1M58 46.5h1M8 47.5h1M57 47.5h1M8 48.5h2M56 48.5h2M9 49.5h2M55 49.5h2M10 50.5h1M55 50.5h1M11 51.5h1M54 51.5h1M12 52.5h1M53 52.5h1M32 65.5h2"/>
<path stroke="#ec2024" d="M2 23.5h3M61 23.5h3M64 27.5h1M64 28.5h1M0 29.5h2M64 29.5h2M0 30.5h2M64 30.5h1M1 31.5h1M64 31.5h1M1 32.5h1M64 32.5h1M1 33.5h1M64 33.5h1M1 34.5h1M64 34.5h1M1 35.5h1M64 35.5h1M1 36.5h1M64 36.5h1M1 37.5h1M64 37.5h1M1 38.5h1M63 38.5h2M1 39.5h1M63 39.5h2M2 40.5h1M63 40.5h1M2 41.5h1M62 41.5h1M3 42.5h1M62 42.5h1M4 43.5h1M61 43.5h1M4 44.5h2M60 44.5h2M5 45.5h2M59 45.5h2M6 46.5h1M59 46.5h1M7 47.5h1M58 47.5h1"/>
<path stroke="#ec1e24" d="M65 30.5h1M0 31.5h1M65 31.5h1M0 32.5h1M65 32.5h1M0 33.5h1M65 33.5h1M0 34.5h1M65 34.5h1M0 35.5h1M65 35.5h1M63 41.5h1M2 42.5h1M63 42.5h1M3 43.5h1M62 43.5h1"/>
</g>
<rect x="-142.5" y="-41.63" width="285" height="183.53" fill="url(#gp)"/>
<path fill="none" stroke="#3c4650" stroke-width="0.95" stroke-opacity="0.8" d="M-51.82 20.47 -54.1 22.39 -54.02 26.66 -54.02 30.93 -53.12 35.2 -51.82 36.48 -48.85 39.46 -47.5 40.36 -43.18 43.32 -42.6 43.73 -38.86 45.87 -35.24 48 -34.55 48.36 -30.23 50.33 -25.91 51.28 -21.59 51.31 -17.27 50.59 -12.95 49.81 -8.64 49.11 -4.32 48.37 -2.54 48 0 47.46 4.32 46.31 8.64 44.98 12.09 43.73 12.95 43.31 17.27 41.28 20.54 39.46 21.08 35.2 17.27 33.34 12.95 31.31 12.15 30.93 8.64 29.64 4.32 28.08 0.33 26.66 0 26.56 -4.32 25.28 -8.64 24.04 -12.95 22.82 -14.56 22.39 -17.27 21.76 -21.59 20.83 -25.91 19.99 -30.23 19.27 -34.55 18.73 -38.86 18.45 -43.18 18.57 -47.5 19.18 -51.82 20.47M-69.09 8.49 -71.12 9.59 -72.19 13.85 -71.52 18.12 -71.15 22.39 -71.28 26.66 -71.36 30.93 -69.43 35.2 -69.09 35.51 -64.94 39.46 -64.77 39.58 -60.45 42.55 -58.73 43.73 -56.14 45.29 -51.82 47.89 -51.64 48 -47.5 50.33 -43.99 52.27 -43.18 52.71 -38.86 54.98 -35.79 56.54 -34.55 57.18 -30.23 59.25 -25.91 60.49 -22.25 60.8 -21.59 60.87 -17.27 60.82 -17.13 60.8 -12.95 60.36 -8.64 59.37 -4.32 58.39 0 57.46 4.32 56.59 4.77 56.54 8.64 56.04 12.95 56.01 17.27 56.47 21.59 56.18 25.91 55.38 30.23 53.94 33.48 52.27 34.55 51.67 38.86 49.12 40.77 48 43.18 46.33 47.12 43.73 47.5 43.39 51.82 39.8 52.24 39.46 54.63 35.2 52.86 30.93 51.82 29.61 49.17 26.66 47.5 25.35 43.18 23.48 40.19 22.39 38.86 21.96 34.55 20.65 30.23 19.46 25.91 18.39 24.72 18.12 21.59 17.47 17.27 16.67 12.95 15.95 8.64 15.32 4.32 14.78 0 14.31 -4.32 13.92 -5.22 13.85 -8.64 13.62 -12.95 13.23 -17.27 12.52 -21.59 11.84 -25.91 11.14 -30.23 10.42 -34.55 9.67 -35.04 9.59 -38.86 8.93 -43.18 8.31 -47.5 7.83 -51.82 7.49 -56.14 7.33 -60.45 7.41 -64.77 7.74 -69.09 8.49M-86.36 -0.04 -87.1 1.05 -87.39 5.32 -86.72 9.59 -86.36 12.06 -86.1 13.85 -85.84 18.12 -85.98 22.39 -86.18 26.66 -85.67 30.93 -83.34 35.2 -82.05 36.43 -78.83 39.46 -77.73 40.26 -73.41 43.35 -72.87 43.73 -69.09 46.12 -66.08 48 -64.77 48.82 -60.45 51.43 -59.03 52.27 -56.14 54.05 -51.86 56.54 -51.82 56.56 -47.5 59.17 -44.58 60.8 -43.18 61.71 -38.86 64.22 -37.27 65.07 -34.55 66.84 -30.23 69.22 -29.91 69.34 -25.91 71.56 -21.59 72.88 -17.27 73.2 -12.95 72.65 -8.64 71.61 -4.32 70.51 0 69.59 2.28 69.34 4.32 69.15 8.64 68.97 12.95 68.86 17.27 68.63 21.59 68.07 25.91 67 30.02 65.07 30.23 64.99 34.55 62.63 37.58 60.8 38.86 60.1 43.18 57.59 44.9 56.54 47.5 55.01 51.82 52.39 52.01 52.27 56.14 49.69 58.82 48 60.45 46.91 64.77 44.06 65.27 43.73 69.09 40.68 70.64 39.46 73.41 35.97 74.03 35.2 74.95 30.93 73.85 26.66 73.41 25.64 71.84 22.39 70.32 18.12 69.45 13.85 69.09 13.25 64.77 10.04 63.52 9.59 60.45 8.66 56.14 7.46 51.82 6.39 47.5 5.41 47.05 5.32 43.18 4.57 38.86 3.8 34.55 3.11 30.23 2.48 25.91 1.9 21.59 1.38 18.61 1.05 17.27 0.91 12.95 0.5 8.64 0.14 4.32 -0.18 0 -0.45 -4.32 -0.68 -8.64 -0.86 -12.95 -1 -17.27 -1.1 -21.59 -1.15 -25.91 -1.16 -30.23 -1.12 -34.55 -1.04 -38.86 -0.91 -43.18 -0.97 -47.5 -1.15 -51.82 -1.45 -56.14 -1.83 -60.45 -2.23 -64.77 -2.59 -69.09 -2.84 -73.41 -2.9 -77.73 -2.77 -82.05 -2.31 -86.36 -0.04M-95 -12.42 -97.5 -11.75 -99.32 -10.5 -100.99 -7.49 -101.31 -3.22 -100.88 1.05 -100.26 5.32 -99.72 9.59 -99.5 13.85 -99.62 18.12 -99.75 22.39 -99.67 26.66 -99.32 28.3 -98.77 30.93 -96.35 35.2 -95 36.51 -91.93 39.46 -90.68 40.4 -86.36 43.59 -86.16 43.73 -82.05 46.52 -79.78 48 -77.73 49.48 -73.49 52.27 -73.41 52.33 -69.09 55.52 -67.55 56.54 -64.77 58.94 -62.22 60.8 -60.45 62.49 -57.51 65.07 -56.14 66.4 -52.89 69.34 -51.82 70.38 -48.26 73.61 -47.5 74.32 -43.47 77.88 -43.18 78.14 -38.86 81.81 -38.44 82.15 -34.55 85.29 -32.69 86.41 -30.23 87.82 -25.91 89.4 -21.59 90.4 -20.02 90.68 -17.27 91.18 -12.95 91.9 -8.64 91.97 -4.85 90.68 -4.32 90.48 0 89.28 4.32 89.56 8.64 90.61 12.95 90.47 17.27 89.55 21.59 88.47 25.91 87.12 27.5 86.41 30.23 85.16 34.31 82.15 34.55 81.96 38.86 77.97 38.96 77.88 43.18 73.81 43.38 73.61 47.5 69.51 47.66 69.34 51.82 65.25 51.99 65.07 56.14 61.42 56.75 60.8 60.45 58.14 62.39 56.54 64.77 54.95 68.46 52.27 69.09 51.86 73.41 48.95 74.74 48 77.73 45.97 80.97 43.73 82.05 42.88 86.35 39.46 86.36 39.45 90.02 35.2 90.68 33.52 91.72 30.93 91.93 26.66 91.25 22.39 90.68 20.16 90.11 18.12 88.94 13.85 88.6 9.59 88.64 5.32 88.17 1.05 86.36 -1.91 84.48 -3.22 82.05 -4.08 77.73 -5.19 73.41 -6.2 69.09 -7.1 67.08 -7.49 64.77 -7.9 60.45 -8.6 56.14 -9.24 51.82 -9.82 47.5 -10.34 43.18 -10.81 38.86 -11.23 34.55 -11.62 32.85 -11.75 30.23 -11.96 25.91 -12.26 21.59 -12.53 17.27 -12.78 12.95 -13 8.64 -13.2 4.32 -13.38 0 -13.53 -4.32 -13.65 -8.64 -13.76 -12.95 -13.83 -17.27 -13.88 -21.59 -13.91 -25.91 -13.9 -30.23 -13.87 -34.55 -13.8 -38.86 -13.71 -43.18 -13.58 -47.5 -13.41 -51.82 -13.21 -56.14 -12.97 -60.45 -12.68 -64.77 -12.35 -69.09 -12.16 -73.41 -12.25 -77.73 -12.45 -82.05 -12.63 -86.36 -12.7 -90.68 -12.65 -95 -12.42M-64.77 -24.7 -67.31 -24.56 -69.09 -24.46 -73.41 -24.17 -77.73 -23.85 -82.05 -23.49 -86.36 -23.11 -90.68 -22.84 -95 -22.69 -99.32 -22.64 -103.64 -22.58 -107.95 -22.24 -112.27 -20.53 -112.53 -20.29 -114.25 -16.02 -114.65 -11.75 -114.53 -7.49 -114.12 -3.22 -113.56 1.05 -113.06 5.32 -112.86 9.59 -112.94 13.85 -113.01 18.12 -112.89 22.39 -112.47 26.66 -112.27 27.5 -111.47 30.93 -109.17 35.2 -107.95 36.43 -104.94 39.46 -103.64 40.5 -99.42 43.73 -99.32 43.82 -95 47.25 -93.96 48 -90.68 51.13 -89.3 52.27 -86.36 55.55 -85.41 56.54 -82.05 60.46 -81.74 60.8 -78.2 65.07 -77.73 65.67 -74.71 69.34 -73.41 70.94 -71.17 73.61 -69.09 76.1 -67.56 77.88 -64.77 81.1 -63.84 82.15 -60.45 85.9 -59.98 86.41 -56.14 90.5 -55.96 90.68 -51.82 94.87 -51.73 94.95 -47.5 99.01 -47.28 99.22 -43.18 102.92 -42.46 103.49 -38.86 106.07 -35.71 107.75 -34.55 108.39 -30.23 110.06 -25.91 111.18 -21.59 111.84 -19.18 112.02 -17.27 112.17 -12.95 112.27 -8.64 112.27 -4.32 112.18 -2.18 112.02 0 111.86 3.41 112.02 4.32 112.07 8.64 112.04 9.98 112.02 12.95 111.99 17.27 111.9 21.59 111.6 25.91 110.97 30.23 109.89 34.55 108.24 35.43 107.75 38.86 105.88 42.1 103.49 43.18 102.59 46.72 99.22 47.5 98.44 50.94 94.95 51.82 94.02 54.91 90.68 56.14 89.31 58.66 86.41 60.45 84.3 62.23 82.15 64.77 79 65.65 77.88 68.93 73.61 69.09 73.4 72.09 69.34 73.41 67.58 75.22 65.07 77.73 61.77 78.43 60.8 81.81 56.54 82.05 56.31 85.6 52.27 86.36 51.67 90.45 48 90.68 47.83 95 44.56 96 43.73 99.32 41.06 101.28 39.46 103.64 36.76 105 35.2 106.93 30.93 107.66 26.66 107.74 22.39 107.49 18.12 106.89 13.85 106.1 9.59 105.99 5.32 106.34 1.05 106.8 -3.22 106.97 -7.49 106.44 -11.75 103.87 -16.02 103.64 -16.18 99.32 -17.73 95 -18.68 90.68 -19.52 86.36 -20.28 86.3 -20.29 82.05 -20.94 77.73 -21.52 73.41 -22.05 69.09 -22.52 64.77 -22.94 60.45 -23.31 56.14 -23.65 51.82 -23.94 47.5 -24.21 43.18 -24.44 40.65 -24.56 38.86 -24.64 34.55 -24.83 30.23 -24.99 25.91 -25.14 21.59 -25.27 17.27 -25.39 12.95 -25.48 8.64 -25.57 4.32 -25.63 0 -25.69 -4.32 -25.72 -8.64 -25.75 -12.95 -25.76 -17.27 -25.76 -21.59 -25.75 -25.91 -25.73 -30.23 -25.69 -34.55 -25.64 -38.86 -25.57 -43.18 -25.48 -47.5 -25.37 -51.82 -25.24 -56.14 -25.09 -60.45 -24.91 -64.77 -24.7M-43.18 -37.46 -45.55 -37.36 -47.5 -37.29 -51.82 -37.13 -56.14 -36.96 -60.45 -36.78 -64.77 -36.59 -69.09 -36.39 -73.41 -36.18 -77.73 -35.96 -82.05 -35.73 -86.36 -35.48 -90.68 -35.22 -95 -34.93 -99.32 -34.6 -103.64 -34.24 -107.95 -33.83 -112.27 -33.38 -116.59 -33.15 -117.63 -33.1 -120.91 -32.91 -125.23 -30.85 -126.9 -28.83 -128.44 -24.56 -128.89 -20.29 -128.76 -16.02 -128.32 -11.75 -127.74 -7.49 -127.15 -3.22 -126.67 1.05 -126.48 5.32 -126.54 9.59 -126.59 13.85 -126.55 18.12 -126.25 22.39 -125.57 26.66 -125.23 27.9 -124.43 30.93 -122.42 35.2 -120.91 36.88 -118.53 39.46 -116.59 41.4 -113.95 43.73 -112.27 45.81 -110.35 48 -107.95 51.18 -107.1 52.27 -103.96 56.54 -103.64 56.96 -100.75 60.8 -99.32 62.67 -97.48 65.07 -95 68.25 -94.15 69.34 -90.75 73.61 -90.68 73.69 -87.27 77.88 -86.36 78.98 -83.73 82.15 -82.05 84.17 -80.14 86.41 -77.73 89.27 -76.5 90.68 -73.41 94.25 -72.79 94.95 -69.09 99.11 -68.99 99.22 -65.11 103.49 -64.77 103.85 -61.08 107.75 -60.45 108.39 -56.85 112.02 -56.14 112.72 -52.39 116.29 -51.82 116.82 -47.63 120.56 -47.5 120.67 -43.18 124.25 -42.41 124.83 -38.86 127.51 -36.23 129.1 -34.55 130.14 -30.23 132.25 -27.21 133.36 -25.91 133.78 -21.59 134.49 -17.27 134.7 -12.95 134.54 -8.64 134.1 -4.32 133.52 -1.98 133.36 0 133.23 2.17 133.36 4.32 133.5 8.64 134.07 12.95 134.52 17.27 134.68 21.59 134.47 25.91 133.75 27.14 133.36 30.23 132.22 34.55 130.2 36.39 129.1 38.86 127.66 42.63 124.83 43.18 124.42 47.5 120.86 47.84 120.56 51.82 117.03 52.62 116.29 56.14 112.96 57.1 112.02 60.45 108.66 61.34 107.75 64.77 104.14 65.39 103.49 69.09 99.42 69.28 99.22 73.06 94.95 73.41 94.55 76.75 90.68 77.73 89.53 80.35 86.41 82.05 84.37 83.87 82.15 86.36 79.06 87.31 77.88 90.67 73.61 90.68 73.59 93.87 69.34 95 67.78 96.97 65.07 99.32 61.72 99.96 60.8 102.81 56.54 103.64 55.29 105.6 52.27 107.95 48.88 108.55 48 111.99 43.73 112.27 43.49 116.55 39.46 116.59 39.41 120.12 35.2 120.91 33.35 121.95 30.93 122.91 26.66 123.44 22.39 123.63 18.12 123.6 13.85 123.42 9.59 123.05 5.32 123.13 1.05 123.75 -3.22 124.5 -7.49 125.18 -11.75 125.23 -12.22 125.64 -16.02 125.68 -20.29 125.23 -23.12 124.95 -24.56 122.48 -28.83 120.91 -29.93 116.59 -31.36 112.27 -32.17 107.95 -32.87 106.39 -33.1 103.64 -33.47 99.32 -34.01 95 -34.49 90.68 -34.92 86.36 -35.31 82.05 -35.66 77.73 -35.99 73.41 -36.3 69.09 -36.58 64.77 -36.84 60.45 -37.08 56.14 -37.29 54.61 -37.36 51.82 -37.5 47.5 -37.68 43.18 -37.85 38.86 -37.99 34.55 -38.12 30.23 -38.22 25.91 -38.31 21.59 -38.37 17.27 -38.42 12.95 -38.45 8.64 -38.47 4.32 -38.46 0 -38.44 -4.32 -38.41 -8.64 -38.36 -12.95 -38.29 -17.27 -38.21 -21.59 -38.12 -25.91 -38.01 -30.23 -37.89 -34.55 -37.76 -38.86 -37.61 -43.18 -37.46"/>
<use href="#head"/>
</g>
<g transform="translate(490.1 1024.2)">
<circle r="147.5" fill="none" stroke="#ebf2fb" stroke-width="10.4"/>
<g transform="translate(-142.5 -139.8) scale(4.3182 4.2682)" fill="none" stroke-width="1" shape-rendering="crispEdges">
<path stroke="#39c2f0" d="M25 39.5h2M24 40.5h7M24 41.5h8M25 42.5h7M27 43.5h1"/>
<path stroke="#53c8ea" d="M23 38.5h4M22 39.5h3M27 39.5h4M22 40.5h2M31 40.5h2M22 41.5h2M32 41.5h3M23 42.5h2M32 42.5h2M25 43.5h2M28 43.5h5M26 44.5h3"/>
<path stroke="#69cadf" d="M21 37.5h5M20 38.5h3M27 38.5h3M20 39.5h2M31 39.5h2M20 40.5h2M33 40.5h2M21 41.5h1M35 41.5h2M22 42.5h1M34 42.5h2M23 43.5h2M33 43.5h2M25 44.5h1M29 44.5h4M27 45.5h3"/>
<path stroke="#6fcad3" d="M20 36.5h4M19 37.5h2M26 37.5h3M19 38.5h1M30 38.5h2M19 39.5h1M33 39.5h2M19 40.5h1M35 40.5h3M19 41.5h2M37 41.5h2M20 42.5h2M36 42.5h3M22 43.5h1M35 43.5h3M23 44.5h2M33 44.5h2M25 45.5h2M30 45.5h3M28 46.5h2"/>
<path stroke="#71c9c7" d="M20 35.5h1M18 36.5h2M24 36.5h3M18 37.5h1M29 37.5h2M18 38.5h1M32 38.5h3M17 39.5h2M35 39.5h3M17 40.5h2M38 40.5h3M18 41.5h1M39 41.5h3M19 42.5h1M39 42.5h3M21 43.5h1M38 43.5h3M22 44.5h1M35 44.5h5M24 45.5h1M33 45.5h5M25 46.5h3M30 46.5h3"/>
<path stroke="#74c8bb" d="M16 35.5h4M21 35.5h5M16 36.5h2M27 36.5h3M16 37.5h2M31 37.5h5M16 38.5h2M35 38.5h5M16 39.5h1M38 39.5h5M16 40.5h1M41 40.5h3M17 41.5h1M42 41.5h2M18 42.5h1M42 42.5h2M19 43.5h2M41 43.5h2M21 44.5h1M40 44.5h2M22 45.5h2M38 45.5h2M24 46.5h1M33 46.5h6M26 47.5h9"/>
<path stroke="#79c8ae" d="M15 34.5h9M15 35.5h1M26 35.5h4M15 36.5h1M30 36.5h8M15 37.5h1M36 37.5h6M15 38.5h1M40 38.5h4M15 39.5h1M43 39.5h2M15 40.5h1M44 40.5h2M16 41.5h1M44 41.5h2M17 42.5h1M44 42.5h2M18 43.5h1M43 43.5h2M20 44.5h1M42 44.5h1M21 45.5h1M40 45.5h2M23 46.5h1M39 46.5h2M24 47.5h2M35 47.5h4M26 48.5h10M28 49.5h4"/>
<path stroke="#7dc8a2" d="M14 33.5h8M14 34.5h1M24 34.5h7M14 35.5h1M30 35.5h9M14 36.5h1M38 36.5h6M14 37.5h1M42 37.5h4M14 38.5h1M44 38.5h3M14 39.5h1M45 39.5h3M14 40.5h1M46 40.5h2M15 41.5h1M46 41.5h2M16 42.5h1M46 42.5h1M17 43.5h1M45 43.5h1M19 44.5h1M43 44.5h2M20 45.5h1M42 45.5h2M22 46.5h1M41 46.5h1M23 47.5h1M39 47.5h2M24 48.5h2M36 48.5h4M26 49.5h2M32 49.5h6M27 50.5h9M29 51.5h2"/>
<path stroke="#82c997" d="M14 32.5h5M13 33.5h1M22 33.5h11M13 34.5h1M31 34.5h10M13 35.5h1M39 35.5h7M13 36.5h1M44 36.5h4M13 37.5h1M46 37.5h2M13 38.5h1M47 38.5h2M13 39.5h1M48 39.5h1M13 40.5h1M48 40.5h2M14 41.5h1M48 41.5h1M15 42.5h1M47 42.5h2M16 43.5h1M46 43.5h2M17 44.5h2M45 44.5h1M19 45.5h1M44 45.5h1M20 46.5h2M42 46.5h2M22 47.5h1M41 47.5h1M23 48.5h1M40 48.5h1M24 49.5h2M38 49.5h2M25 50.5h2M36 50.5h3M26 51.5h3M31 51.5h7M28 52.5h8"/>
<path stroke="#87c889" d="M14 31.5h2M12 32.5h2M19 32.5h16M12 33.5h1M33 33.5h10M12 34.5h1M41 34.5h6M12 35.5h1M46 35.5h3M12 36.5h1M48 36.5h2M12 37.5h1M48 37.5h2M12 38.5h1M49 38.5h2M12 39.5h1M49 39.5h2M12 40.5h1M50 40.5h1M13 41.5h1M49 41.5h2M14 42.5h1M49 42.5h1M15 43.5h1M48 43.5h1M16 44.5h1M46 44.5h2M18 45.5h1M45 45.5h1M19 46.5h1M44 46.5h1M20 47.5h2M42 47.5h2M21 48.5h2M41 48.5h2M22 49.5h2M40 49.5h2M23 50.5h2M39 50.5h2M24 51.5h2M38 51.5h2M25 52.5h3M36 52.5h3M27 53.5h10M29 54.5h6"/>
<path stroke="#8fc978" d="M11 31.5h3M16 31.5h21M11 32.5h1M35 32.5h10M11 33.5h1M43 33.5h6M11 34.5h1M47 34.5h4M11 35.5h1M49 35.5h2M11 36.5h1M50 36.5h2M11 37.5h1M50 37.5h2M11 38.5h1M51 38.5h1M11 39.5h1M51 39.5h2M11 40.5h1M51 40.5h2M12 41.5h1M51 41.5h1M13 42.5h1M50 42.5h1M14 43.5h1M49 43.5h1M15 44.5h1M48 44.5h1M17 45.5h1M46 45.5h2M18 46.5h1M45 46.5h2M19 47.5h1M44 47.5h2M20 48.5h1M43 48.5h2M21 49.5h1M42 49.5h2M21 50.5h2M41 50.5h2M22 51.5h2M40 51.5h2M23 52.5h2M39 52.5h2M24 53.5h3M37 53.5h3M25 54.5h4M35 54.5h4M27 55.5h10"/>
<path stroke="#9bcc68" d="M10 30.5h29M10 31.5h1M37 31.5h10M10 32.5h1M45 32.5h6M10 33.5h1M49 33.5h4M10 34.5h1M51 34.5h2M10 35.5h1M51 35.5h2M10 36.5h1M52 36.5h1M10 37.5h1M52 37.5h2M9 38.5h2M52 38.5h2M10 39.5h1M53 39.5h1M10 40.5h1M53 40.5h1M11 41.5h1M52 41.5h1M12 42.5h1M51 42.5h2M13 43.5h1M50 43.5h1M14 44.5h1M49 44.5h1M15 45.5h2M48 45.5h1M16 46.5h2M47 46.5h1M17 47.5h2M46 47.5h1M18 48.5h2M45 48.5h1M19 49.5h2M44 49.5h2M20 50.5h1M43 50.5h2M21 51.5h1M42 51.5h2M21 52.5h2M41 52.5h2M22 53.5h2M40 53.5h2M23 54.5h2M39 54.5h2M24 55.5h3M37 55.5h3M26 56.5h12M29 57.5h6"/>
<path stroke="#a4ce5b" d="M9 29.5h31M9 30.5h1M39 30.5h10M8 31.5h2M47 31.5h6M9 32.5h1M51 32.5h3M9 33.5h1M53 33.5h1M9 34.5h1M53 34.5h1M9 35.5h1M53 35.5h1M9 36.5h1M53 36.5h2M8 37.5h2M54 37.5h1M8 38.5h1M54 38.5h1M9 39.5h1M54 39.5h1M9 40.5h1M54 40.5h1M10 41.5h1M53 41.5h2M11 42.5h1M53 42.5h1M12 43.5h1M51 43.5h2M13 44.5h1M50 44.5h2M14 45.5h1M49 45.5h2M15 46.5h1M48 46.5h2M16 47.5h1M47 47.5h2M17 48.5h1M46 48.5h2M17 49.5h2M46 49.5h1M18 50.5h2M45 50.5h2M19 51.5h2M44 51.5h2M20 52.5h1M43 52.5h2M21 53.5h1M42 53.5h2M22 54.5h1M41 54.5h2M23 55.5h1M40 55.5h2M24 56.5h2M38 56.5h3M25 57.5h4M35 57.5h4M28 58.5h8"/>
<path stroke="#aace4d" d="M9 28.5h33M8 29.5h1M40 29.5h11M7 30.5h2M49 30.5h6M7 31.5h1M53 31.5h3M7 32.5h2M54 32.5h2M8 33.5h1M54 33.5h2M8 34.5h1M54 34.5h2M8 35.5h1M54 35.5h2M7 36.5h2M55 36.5h1M7 37.5h1M55 37.5h2M7 38.5h1M55 38.5h2M8 39.5h1M55 39.5h2M8 40.5h1M55 40.5h2M9 41.5h1M55 41.5h1M10 42.5h1M54 42.5h1M11 43.5h1M53 43.5h1M12 44.5h1M52 44.5h1M13 45.5h1M51 45.5h1M14 46.5h1M50 46.5h1M14 47.5h2M49 47.5h2M15 48.5h2M48 48.5h2M16 49.5h1M47 49.5h2M17 50.5h1M47 50.5h1M17 51.5h2M46 51.5h2M18 52.5h2M45 52.5h2M19 53.5h2M44 53.5h2M20 54.5h2M43 54.5h2M21 55.5h2M42 55.5h2M22 56.5h2M41 56.5h2M23 57.5h2M39 57.5h3M25 58.5h3M36 58.5h4M27 59.5h10"/>
<path stroke="#b7d23d" d="M15 27.5h29M7 28.5h2M42 28.5h11M6 29.5h2M51 29.5h6M6 30.5h1M55 30.5h2M6 31.5h1M56 31.5h1M6 32.5h1M56 32.5h1M7 33.5h1M56 33.5h1M7 34.5h1M56 34.5h1M6 35.5h2M56 35.5h2M6 36.5h1M56 36.5h2M6 37.5h1M57 37.5h1M6 38.5h1M57 38.5h1M7 39.5h1M57 39.5h1M7 40.5h1M57 40.5h1M8 41.5h1M56 41.5h1M9 42.5h1M55 42.5h1M10 43.5h1M54 43.5h1M11 44.5h1M53 44.5h1M11 45.5h2M52 45.5h2M12 46.5h2M51 46.5h2M13 47.5h1M51 47.5h1M14 48.5h1M50 48.5h1M14 49.5h2M49 49.5h2M15 50.5h2M48 50.5h2M16 51.5h1M48 51.5h1M17 52.5h1M47 52.5h1M18 53.5h1M46 53.5h2M19 54.5h1M45 54.5h2M20 55.5h1M44 55.5h2M21 56.5h1M43 56.5h2M22 57.5h1M42 57.5h2M23 58.5h2M40 58.5h2M24 59.5h3M37 59.5h4M27 60.5h11"/>
<path stroke="#c3d632" d="M15 26.5h30M6 27.5h9M44 27.5h11M5 28.5h2M53 28.5h5M5 29.5h1M57 29.5h2M5 30.5h1M57 30.5h2M5 31.5h1M57 31.5h2M5 32.5h1M57 32.5h2M5 33.5h2M57 33.5h2M5 34.5h2M57 34.5h2M5 35.5h1M58 35.5h1M5 36.5h1M58 36.5h1M5 37.5h1M58 37.5h1M5 38.5h1M58 38.5h1M6 39.5h1M58 39.5h1M6 40.5h1M58 40.5h1M7 41.5h1M57 41.5h1M8 42.5h1M56 42.5h2M9 43.5h1M55 43.5h2M9 44.5h2M54 44.5h2M10 45.5h1M54 45.5h1M11 46.5h1M53 46.5h1M12 47.5h1M52 47.5h2M12 48.5h2M51 48.5h2M13 49.5h1M51 49.5h1M14 50.5h1M50 50.5h2M15 51.5h1M49 51.5h2M15 52.5h2M48 52.5h2M16 53.5h2M48 53.5h1M17 54.5h2M47 54.5h1M18 55.5h2M46 55.5h1M19 56.5h2M45 56.5h1M20 57.5h2M44 57.5h1M21 58.5h2M42 58.5h2M23 59.5h1M41 59.5h2M24 60.5h3M38 60.5h3M27 61.5h12"/>
<path stroke="#d0da28" d="M15 25.5h33M5 26.5h10M45 26.5h12M4 27.5h2M55 27.5h5M4 28.5h1M58 28.5h2M4 29.5h1M59 29.5h1M4 30.5h1M59 30.5h1M4 31.5h1M59 31.5h1M4 32.5h1M59 32.5h1M4 33.5h1M59 33.5h1M4 34.5h1M59 34.5h1M4 35.5h1M59 35.5h1M4 36.5h1M59 36.5h2M4 37.5h1M59 37.5h2M4 38.5h1M59 38.5h2M5 39.5h1M59 39.5h2M5 40.5h1M59 40.5h1M6 41.5h1M58 41.5h2M6 42.5h2M58 42.5h1M7 43.5h2M57 43.5h1M8 44.5h1M56 44.5h1M9 45.5h1M55 45.5h2M10 46.5h1M54 46.5h2M10 47.5h2M54 47.5h1M11 48.5h1M53 48.5h1M12 49.5h1M52 49.5h2M13 50.5h1M52 50.5h1M13 51.5h2M51 51.5h1M14 52.5h1M50 52.5h1M15 53.5h1M49 53.5h1M16 54.5h1M48 54.5h1M17 55.5h1M47 55.5h1M18 56.5h1M46 56.5h1M19 57.5h1M45 57.5h1M20 58.5h1M44 58.5h1M21 59.5h2M43 59.5h1M23 60.5h1M41 60.5h2M24 61.5h3M39 61.5h2M26 62.5h13"/>
<path stroke="#dde11f" d="M16 24.5h34M4 25.5h11M48 25.5h11M3 26.5h2M57 26.5h4M3 27.5h1M60 27.5h2M3 28.5h1M60 28.5h2M3 29.5h1M60 29.5h2M3 30.5h1M60 30.5h2M3 31.5h1M60 31.5h2M3 32.5h1M60 32.5h2M3 33.5h1M60 33.5h2M3 34.5h1M60 34.5h2M3 35.5h1M60 35.5h2M3 36.5h1M61 36.5h1M3 37.5h1M61 37.5h1M3 38.5h1M61 38.5h1M4 39.5h1M61 39.5h1M4 40.5h1M60 40.5h1M4 41.5h2M60 41.5h1M5 42.5h1M59 42.5h1M6 43.5h1M58 43.5h1M7 44.5h1M57 44.5h2M8 45.5h1M57 45.5h1M8 46.5h2M56 46.5h1M9 47.5h1M55 47.5h2M10 48.5h1M54 48.5h2M11 49.5h1M54 49.5h1M11 50.5h2M53 50.5h1M12 51.5h1M52 51.5h1M13 52.5h1M51 52.5h2M14 53.5h1M50 53.5h2M15 54.5h1M49 54.5h2M16 55.5h1M48 55.5h2M17 56.5h1M47 56.5h2M18 57.5h1M46 57.5h2M19 58.5h1M45 58.5h2M20 59.5h1M44 59.5h1M21 60.5h2M43 60.5h1M23 61.5h1M41 61.5h2M24 62.5h2M39 62.5h2M26 63.5h13"/>
<path stroke="#e8e61a" d="M15 23.5h38M3 24.5h13M50 24.5h11M2 25.5h2M59 25.5h4M2 26.5h1M61 26.5h3M2 27.5h1M62 27.5h2M2 28.5h1M62 28.5h2M2 29.5h1M62 29.5h2M2 30.5h1M62 30.5h1M2 31.5h1M62 31.5h1M2 32.5h1M62 32.5h1M2 33.5h1M62 33.5h1M2 34.5h1M62 34.5h1M2 35.5h1M62 35.5h1M2 36.5h1M62 36.5h1M2 37.5h1M62 37.5h1M2 38.5h1M62 38.5h1M2 39.5h2M62 39.5h1M3 40.5h1M61 40.5h2M3 41.5h1M61 41.5h1M4 42.5h1M60 42.5h1M5 43.5h1M59 43.5h2M6 44.5h1M59 44.5h1M6 45.5h2M58 45.5h1M7 46.5h1M57 46.5h2M8 47.5h1M57 47.5h1M8 48.5h2M56 48.5h1M9 49.5h2M55 49.5h2M10 50.5h1M54 50.5h2M11 51.5h1M53 51.5h2M12 52.5h1M53 52.5h1M13 53.5h1M52 53.5h1M14 54.5h1M51 54.5h1M15 55.5h1M50 55.5h1M16 56.5h1M49 56.5h1M17 57.5h1M48 57.5h1M18 58.5h1M47 58.5h1M19 59.5h1M45 59.5h2M20 60.5h1M44 60.5h2M21 61.5h2M43 61.5h2M22 62.5h2M41 62.5h2M24 63.5h2M39 63.5h3M26 64.5h13"/>
<path stroke="#f6ec18" d="M2 23.5h13M53 23.5h10M2 24.5h1M61 24.5h3M63 25.5h1M1 26.5h1M64 26.5h1M1 27.5h1M64 27.5h1M1 28.5h1M64 28.5h1M0 29.5h2M64 29.5h2M0 30.5h2M63 30.5h2M0 31.5h2M63 31.5h2M1 32.5h1M63 32.5h2M1 33.5h1M63 33.5h2M0 34.5h2M63 34.5h2M0 35.5h2M63 35.5h2M1 36.5h1M63 36.5h2M1 37.5h1M63 37.5h2M1 38.5h1M63 38.5h2M1 39.5h1M63 39.5h2M2 40.5h1M63 40.5h1M2 41.5h1M62 41.5h2M3 42.5h1M61 42.5h2M3 43.5h2M61 43.5h1M4 44.5h2M60 44.5h2M5 45.5h1M59 45.5h2M6 46.5h1M59 46.5h1M7 47.5h1M58 47.5h1M57 48.5h1M43 62.5h1M23 63.5h1M42 63.5h1M25 64.5h1M39 64.5h2M32 65.5h2"/>
<path stroke="#f9ea0e" d="M63 23.5h1M65 30.5h1M65 31.5h1M0 32.5h1M65 32.5h1M0 33.5h1M65 33.5h1M65 34.5h1M65 35.5h1M2 42.5h1M63 42.5h1M62 43.5h1"/>
</g>
<rect x="-142.5" y="-41.63" width="285" height="183.53" fill="url(#gp)"/>
<path fill="none" stroke="#3c4650" stroke-width="0.95" stroke-opacity="0.8" d="M-51.82 21.25 -53.42 22.39 -54.12 26.66 -54.76 30.93 -54.44 35.2 -51.82 38.27 -50.83 39.46 -47.5 42.01 -45.34 43.73 -43.18 45.15 -38.96 48 -38.86 48.06 -34.55 50.61 -31.58 52.27 -30.23 52.99 -25.91 54.36 -21.59 54.94 -17.27 54.72 -12.95 53.66 -8.64 52.43 -8.13 52.27 -4.32 51.08 0 49.49 3.37 48 4.32 47.56 8.64 45.29 11.18 43.73 12.95 42.15 15.96 39.46 14.26 35.2 12.95 34.56 8.64 32.49 5.28 30.93 4.32 30.56 0 28.95 -4.32 27.38 -6.33 26.66 -8.64 25.95 -12.95 24.68 -17.27 23.46 -21.22 22.39 -21.59 22.3 -25.91 21.4 -30.23 20.62 -34.55 20 -38.86 19.65 -43.18 19.67 -47.5 20.14 -51.82 21.25M-64.77 8.86 -68.89 9.59 -69.09 9.68 -71.39 13.85 -71.19 18.12 -71.22 22.39 -71.8 26.66 -72.37 30.93 -70.84 35.2 -69.09 37.07 -66.86 39.46 -64.77 41.08 -61.36 43.73 -60.45 44.34 -56.14 47.25 -55.03 48 -51.82 50.06 -48.34 52.27 -47.5 52.8 -43.18 55.44 -41.34 56.54 -38.86 58.05 -34.55 60.55 -34.08 60.8 -30.23 63.07 -25.91 64.86 -24.86 65.07 -21.59 65.91 -17.27 66.44 -12.95 66.47 -8.64 66.1 -4.51 65.07 -4.32 65.02 0 63.66 4.32 62.4 8.64 61.66 12.95 61.28 15.11 60.8 17.27 60.31 21.59 58.98 25.91 57.28 27.31 56.54 30.23 54.91 34.07 52.27 34.55 51.9 38.86 48.5 39.51 48 43.18 44.53 44.06 43.73 47.33 39.46 47.5 37.64 47.75 35.2 47.5 34.91 43.18 31.06 42.98 30.93 38.86 28.87 34.55 27.22 32.95 26.66 30.23 25.78 25.91 24.52 21.59 23.39 17.36 22.39 17.27 22.37 12.95 21.51 8.64 20.73 4.32 19.86 0 19.05 -4.32 18.38 -5.52 18.12 -8.64 17.28 -12.95 16.23 -17.27 15.27 -21.59 14.32 -23.59 13.85 -25.91 13.28 -30.23 12.31 -34.55 11.43 -38.86 10.6 -43.18 9.82 -44.81 9.59 -47.5 9.22 -51.82 8.81 -56.14 8.59 -60.45 8.59 -64.77 8.86M-82.05 -0.77 -85.21 1.05 -86.36 4.81 -86.46 5.32 -86.36 6.51 -86.12 9.59 -85.83 13.85 -85.88 18.12 -86.36 22.29 -86.38 22.39 -86.96 26.66 -86.8 30.93 -86.36 31.87 -84.82 35.2 -82.05 38.11 -80.76 39.46 -77.73 41.87 -75.36 43.73 -73.41 45.11 -69.27 48 -69.09 48.13 -64.77 51.09 -63.02 52.27 -60.45 54.09 -56.8 56.54 -56.14 57.05 -51.82 60.11 -50.76 60.8 -47.5 63.41 -45.11 65.07 -43.18 66.83 -40.07 69.34 -38.86 70.47 -35.24 73.61 -34.55 74.25 -30.23 77.85 -30.18 77.88 -25.91 80.77 -23.42 82.15 -21.59 83.13 -17.27 85.06 -12.95 86.37 -8.64 86.37 -4.32 85.43 0 84.4 4.32 83.77 8.64 83.27 12.95 82.33 13.43 82.15 17.27 80.57 21.59 78.04 21.81 77.88 25.91 74.67 27.07 73.61 30.23 70.79 31.67 69.34 34.55 67.02 36.73 65.07 38.86 63.48 42.21 60.8 43.18 60.09 47.5 56.82 47.86 56.54 51.82 53.54 53.48 52.27 56.14 50.19 58.96 48 60.45 46.74 64.11 43.73 64.77 43.05 68.32 39.46 69.09 38.06 70.7 35.2 70.63 30.93 69.09 27.85 68.39 26.66 65.48 22.39 64.77 20.75 63.47 18.12 60.45 15.42 56.63 13.85 56.14 13.69 51.82 12.4 47.5 11.23 43.18 10.18 40.55 9.59 38.86 9.23 34.55 8.4 30.23 7.64 25.91 6.94 21.59 6.3 17.27 5.73 13.86 5.32 12.95 5.21 8.64 4.77 4.32 4.37 0 4.02 -4.32 3.71 -8.64 3.45 -12.95 3.24 -17.27 3.07 -21.59 2.95 -25.91 2.87 -30.23 2.8 -34.55 2.58 -38.86 2.31 -43.18 1.87 -47.5 1.29 -49.09 1.05 -51.82 0.6 -56.14 -0.05 -60.45 -0.61 -64.77 -1.06 -69.09 -1.38 -73.41 -1.51 -77.73 -1.42 -82.05 -0.77M-99.32 -7.5 -99.32 -7.49 -100.18 -3.22 -100.08 1.05 -99.75 5.32 -99.48 9.59 -99.52 13.85 -99.91 18.12 -100.35 22.39 -100.55 26.66 -99.91 30.93 -99.32 32.12 -97.79 35.2 -95 38.16 -93.77 39.46 -90.68 41.99 -88.52 43.73 -86.36 45.38 -82.79 48 -82.05 48.62 -77.73 51.96 -77.3 52.27 -73.41 55.71 -72.36 56.54 -69.09 59.98 -68.21 60.8 -64.77 64.7 -64.42 65.07 -60.81 69.34 -60.45 69.78 -57.24 73.61 -56.14 74.93 -53.58 77.88 -51.82 79.89 -49.78 82.15 -47.5 84.63 -45.81 86.41 -43.18 89.14 -41.65 90.68 -38.86 93.4 -37.08 94.95 -34.55 96.97 -31.09 99.22 -30.23 99.72 -25.91 101.66 -21.59 103.1 -19.9 103.49 -17.27 104.01 -12.95 104.55 -8.64 104.82 -4.32 104.89 0 104.8 4.32 104.51 8.64 103.99 11.46 103.49 12.95 103.18 17.27 101.97 21.59 100.38 24.09 99.22 25.91 98.27 30.23 95.48 30.92 94.95 34.55 91.95 35.86 90.68 38.86 87.6 39.97 86.41 43.18 82.86 43.81 82.15 47.5 77.88 47.5 77.88 51.03 73.61 51.82 72.65 54.46 69.34 56.14 67.31 57.91 65.07 60.45 62.09 61.5 60.8 64.77 57.62 65.76 56.54 69.09 53.69 70.64 52.27 73.41 50.02 75.81 48 77.73 46.42 80.99 43.73 82.05 42.71 85.44 39.46 86.36 38.11 88.39 35.2 89.52 30.93 89.14 26.66 87.82 22.39 86.36 18.89 86.02 18.12 84.57 13.85 83.92 9.59 83.24 5.32 82.05 3.16 79.65 1.05 77.73 0.24 73.41 -0.95 69.09 -2.02 64.77 -2.99 63.67 -3.22 60.45 -3.84 56.14 -4.59 51.82 -5.28 47.5 -5.9 43.18 -6.47 38.86 -6.98 34.55 -7.44 34.09 -7.49 30.23 -7.85 25.91 -8.22 21.59 -8.56 17.27 -8.86 12.95 -9.14 8.64 -9.39 4.32 -9.62 0 -9.81 -4.32 -9.98 -8.64 -10.12 -12.95 -10.23 -17.27 -10.32 -21.59 -10.38 -25.91 -10.41 -30.23 -10.41 -34.55 -10.38 -38.86 -10.32 -43.18 -10.23 -47.5 -10.1 -51.82 -9.94 -56.14 -9.74 -60.45 -9.67 -64.77 -9.77 -69.09 -10 -73.41 -10.35 -77.73 -10.72 -82.05 -11.07 -86.36 -11.25 -90.68 -11.22 -95 -10.71 -99.32 -7.5M-107.95 -20.59 -108.74 -20.29 -112.27 -16.56 -112.53 -16.02 -113.34 -11.75 -113.55 -7.49 -113.42 -3.22 -113.11 1.05 -112.83 5.32 -112.84 9.59 -113.16 13.85 -113.48 18.12 -113.58 22.39 -113.33 26.66 -112.51 30.93 -112.27 31.42 -110.43 35.2 -107.95 37.94 -106.56 39.46 -103.64 41.99 -101.56 43.73 -99.32 45.83 -96.75 48 -95 50.02 -92.82 52.27 -90.68 55.02 -89.45 56.54 -86.36 60.75 -86.32 60.8 -83.32 65.07 -82.05 66.87 -80.27 69.34 -77.73 72.76 -77.09 73.61 -73.74 77.88 -73.41 78.28 -70.19 82.15 -69.09 83.4 -66.45 86.41 -64.77 88.24 -62.52 90.68 -60.45 92.82 -58.39 94.95 -56.14 97.19 -54.06 99.22 -51.82 101.34 -49.5 103.49 -47.5 105.23 -44.59 107.75 -43.18 108.88 -38.86 111.97 -38.77 112.02 -34.55 114.27 -30.23 116.05 -29.44 116.29 -25.91 117.27 -21.59 118.21 -17.27 119.1 -12.95 119.75 -8.64 119.69 -4.32 119.21 0 118.92 4.32 119.03 8.64 119.31 12.95 119.11 17.27 118.23 21.59 117.1 24.33 116.29 25.91 115.8 30.23 114.12 34.53 112.02 34.55 112.02 38.86 109.24 40.85 107.75 43.18 105.88 45.85 103.49 47.5 101.92 50.33 99.22 51.82 97.73 54.58 94.95 56.14 93.31 58.63 90.68 60.45 88.65 62.47 86.41 64.77 83.72 66.12 82.15 69.09 78.49 69.59 77.88 72.88 73.61 73.41 72.89 75.99 69.34 77.73 66.88 78.98 65.07 81.94 60.8 82.05 60.66 84.96 56.54 86.36 54.73 88.18 52.27 90.68 49.69 92.15 48 95 45.45 96.79 43.73 99.32 41.33 101.28 39.46 103.64 36.28 104.44 35.2 106.01 30.93 106.43 26.66 106.17 22.39 105.49 18.12 104.45 13.85 103.64 10.66 103.36 9.59 103.05 5.32 103.13 1.05 103.19 -3.22 102.71 -7.49 100.58 -11.75 99.32 -12.73 95 -14.39 90.68 -15.38 87.54 -16.02 86.36 -16.25 82.05 -17 77.73 -17.68 73.41 -18.3 69.09 -18.84 64.77 -19.34 60.45 -19.78 56.14 -20.17 54.73 -20.29 51.82 -20.52 47.5 -20.83 43.18 -21.1 38.86 -21.35 34.55 -21.57 30.23 -21.76 25.91 -21.94 21.59 -22.09 17.27 -22.23 12.95 -22.36 8.64 -22.46 4.32 -22.56 0 -22.64 -4.32 -22.7 -8.64 -22.75 -12.95 -22.79 -17.27 -22.81 -21.59 -22.82 -25.91 -22.82 -30.23 -22.8 -34.55 -22.76 -38.86 -22.71 -43.18 -22.63 -47.5 -22.53 -51.82 -22.41 -56.14 -22.27 -60.45 -22.1 -64.77 -21.91 -69.09 -21.68 -73.41 -21.42 -77.73 -21.13 -82.05 -20.81 -86.36 -20.56 -90.68 -20.66 -95 -20.89 -99.32 -21.03 -103.64 -21.03 -107.95 -20.59M-86.36 -33.11 -86.69 -33.1 -90.68 -32.86 -95 -32.58 -99.32 -32.26 -103.64 -31.92 -107.95 -31.67 -112.27 -31.48 -116.59 -31.37 -120.91 -30.72 -123.97 -28.83 -125.23 -26.87 -126.37 -24.56 -127.32 -20.29 -127.57 -16.02 -127.43 -11.75 -127.11 -7.49 -126.74 -3.22 -126.45 1.05 -126.43 5.32 -126.68 9.59 -126.92 13.85 -127.02 18.12 -126.84 22.39 -126.25 26.66 -125.23 30.63 -125.15 30.93 -123.28 35.2 -120.91 38.03 -119.68 39.46 -116.59 42.75 -115.57 43.73 -112.31 48 -112.27 48.05 -109.35 52.27 -107.95 54.26 -106.38 56.54 -103.64 60.3 -103.28 60.8 -99.99 65.07 -99.32 65.89 -96.55 69.34 -95 71.18 -92.99 73.61 -90.68 76.28 -89.31 77.88 -86.36 81.2 -85.53 82.15 -82.05 85.97 -81.65 86.41 -77.73 90.6 -77.65 90.68 -73.55 94.95 -73.41 95.09 -69.32 99.22 -69.09 99.44 -64.94 103.49 -64.77 103.64 -60.45 107.7 -60.4 107.75 -56.14 111.59 -55.64 112.02 -51.82 115.28 -50.58 116.29 -47.5 118.76 -45.11 120.56 -43.18 121.99 -39.03 124.83 -38.86 124.94 -34.55 127.24 -30.23 128.93 -29.81 129.1 -25.91 130.59 -21.59 131.52 -17.27 131.86 -12.95 131.83 -8.64 131.52 -4.32 131.11 0 130.89 4.32 131.03 8.64 131.34 12.95 131.56 17.27 131.52 21.59 131.1 25.91 130.09 28.36 129.1 30.23 128.3 34.55 126.42 37.38 124.83 38.86 123.99 43.18 120.98 43.75 120.56 47.5 117.7 49.26 116.29 51.82 114.2 54.38 112.02 56.14 110.49 59.2 107.75 60.45 106.6 63.79 103.49 64.77 102.54 68.19 99.22 69.09 98.31 72.44 94.95 73.41 93.93 76.53 90.68 77.73 89.39 80.5 86.41 82.05 84.68 84.33 82.15 86.36 79.78 88.03 77.88 90.68 74.7 91.6 73.61 95 69.39 95.04 69.34 98.3 65.07 99.32 63.67 101.42 60.8 103.64 57.6 104.38 56.54 107.18 52.27 107.95 51.11 109.99 48 112.27 44.89 113.08 43.73 116.59 39.95 117 39.46 120.15 35.2 120.91 33.22 121.8 30.93 122.64 26.66 123.01 22.39 123.02 18.12 122.75 13.85 122.28 9.59 121.64 5.32 121.57 1.05 122.01 -3.22 122.51 -7.49 122.88 -11.75 122.93 -16.02 122.38 -20.29 120.91 -24.13 120.69 -24.56 116.59 -27.8 112.83 -28.83 112.27 -28.94 107.95 -29.69 103.64 -30.37 99.32 -30.97 95 -31.5 90.68 -31.98 86.36 -32.39 82.05 -32.76 77.73 -33.09 77.72 -33.1 73.41 -33.4 69.09 -33.69 64.77 -33.95 60.45 -34.19 56.14 -34.4 51.82 -34.6 47.5 -34.78 43.18 -34.93 38.86 -35.07 34.55 -35.19 30.23 -35.29 25.91 -35.38 21.59 -35.45 17.27 -35.5 12.95 -35.54 8.64 -35.56 4.32 -35.56 0 -35.56 -4.32 -35.54 -8.64 -35.5 -12.95 -35.45 -17.27 -35.4 -21.59 -35.33 -25.91 -35.24 -30.23 -35.15 -34.55 -35.05 -38.86 -34.94 -43.18 -34.82 -47.5 -34.69 -51.82 -34.55 -56.14 -34.4 -60.45 -34.25 -64.77 -34.08 -69.09 -33.91 -73.41 -33.74 -77.73 -33.55 -82.05 -33.34 -86.36 -33.11"/>
<use href="#head"/>
</g>
<g transform="translate(822.1 1020.5)">
<circle r="147.5" fill="none" stroke="#ebf2fb" stroke-width="10.4"/>
<g transform="translate(-142.5 -139.8) scale(4.3182 4.2682)" fill="none" stroke-width="1" shape-rendering="crispEdges">
<path stroke="#4898d5" d="M24 40.5h6M24 41.5h8M25 42.5h7M27 43.5h1"/>
<path stroke="#44a7df" d="M22 39.5h8M22 40.5h2M30 40.5h3M22 41.5h2M32 41.5h2M23 42.5h2M32 42.5h2M24 43.5h3M28 43.5h5M26 44.5h4"/>
<path stroke="#3db8ec" d="M21 38.5h8M21 39.5h1M30 39.5h2M20 40.5h2M33 40.5h2M21 41.5h1M34 41.5h2M22 42.5h1M34 42.5h2M23 43.5h1M33 43.5h2M24 44.5h2M30 44.5h3M26 45.5h5"/>
<path stroke="#39c2f0" d="M19 37.5h9M19 38.5h2M29 38.5h3M19 39.5h2M32 39.5h3M19 40.5h1M35 40.5h2M19 41.5h2M36 41.5h2M20 42.5h2M36 42.5h2M22 43.5h1M35 43.5h3M23 44.5h1M33 44.5h3M24 45.5h2M31 45.5h3M26 46.5h6"/>
<path stroke="#53c8ea" d="M18 36.5h9M18 37.5h1M28 37.5h3M18 38.5h1M32 38.5h2M18 39.5h1M35 39.5h2M18 40.5h1M37 40.5h3M18 41.5h1M38 41.5h3M19 42.5h1M38 42.5h4M20 43.5h2M38 43.5h3M22 44.5h1M36 44.5h4M23 45.5h1M34 45.5h5M25 46.5h1M32 46.5h4M26 47.5h7"/>
<path stroke="#69cadf" d="M17 35.5h8M17 36.5h1M27 36.5h3M17 37.5h1M31 37.5h3M16 38.5h2M34 38.5h4M16 39.5h2M37 39.5h5M16 40.5h2M40 40.5h3M17 41.5h1M41 41.5h3M18 42.5h1M42 42.5h2M19 43.5h1M41 43.5h2M20 44.5h2M40 44.5h2M22 45.5h1M39 45.5h2M23 46.5h2M36 46.5h4M25 47.5h1M33 47.5h5M26 48.5h9M28 49.5h3"/>
<path stroke="#6fcad3" d="M16 34.5h7M15 35.5h2M25 35.5h3M15 36.5h2M30 36.5h6M15 37.5h2M34 37.5h6M15 38.5h1M38 38.5h6M15 39.5h1M42 39.5h3M15 40.5h1M43 40.5h3M16 41.5h1M44 41.5h2M17 42.5h1M44 42.5h2M18 43.5h1M43 43.5h2M19 44.5h1M42 44.5h2M21 45.5h1M41 45.5h2M22 46.5h1M40 46.5h2M23 47.5h2M38 47.5h2M25 48.5h1M35 48.5h4M26 49.5h2M31 49.5h6M27 50.5h8"/>
<path stroke="#71c9c7" d="M15 33.5h6M14 34.5h2M23 34.5h5M14 35.5h1M28 35.5h10M14 36.5h1M36 36.5h7M14 37.5h1M40 37.5h5M14 38.5h1M44 38.5h3M14 39.5h1M45 39.5h2M14 40.5h1M46 40.5h2M15 41.5h1M46 41.5h2M16 42.5h1M46 42.5h1M17 43.5h1M45 43.5h1M18 44.5h1M44 44.5h1M19 45.5h2M43 45.5h1M21 46.5h1M42 46.5h1M22 47.5h1M40 47.5h2M23 48.5h2M39 48.5h2M24 49.5h2M37 49.5h3M25 50.5h2M35 50.5h4M27 51.5h10M29 52.5h4"/>
<path stroke="#74c8bb" d="M14 32.5h4M13 33.5h2M21 33.5h10M13 34.5h1M28 34.5h12M13 35.5h1M38 35.5h7M13 36.5h1M43 36.5h4M13 37.5h1M45 37.5h3M13 38.5h1M47 38.5h2M13 39.5h1M47 39.5h2M13 40.5h1M48 40.5h2M14 41.5h1M48 41.5h1M15 42.5h1M47 42.5h2M16 43.5h1M46 43.5h2M17 44.5h1M45 44.5h2M18 45.5h1M44 45.5h2M19 46.5h2M43 46.5h2M21 47.5h1M42 47.5h2M22 48.5h1M41 48.5h2M23 49.5h1M40 49.5h2M24 50.5h1M39 50.5h2M25 51.5h2M37 51.5h3M26 52.5h3M33 52.5h5M28 53.5h8"/>
<path stroke="#79c8ae" d="M12 32.5h2M18 32.5h15M12 33.5h1M31 33.5h11M12 34.5h1M40 34.5h7M12 35.5h1M45 35.5h4M12 36.5h1M47 36.5h3M12 37.5h1M48 37.5h2M12 38.5h1M49 38.5h2M12 39.5h1M49 39.5h2M12 40.5h1M50 40.5h1M12 41.5h2M49 41.5h2M13 42.5h2M49 42.5h1M15 43.5h1M48 43.5h1M16 44.5h1M47 44.5h1M17 45.5h1M46 45.5h1M18 46.5h1M45 46.5h1M19 47.5h2M44 47.5h1M20 48.5h2M43 48.5h1M21 49.5h2M42 49.5h1M22 50.5h2M41 50.5h2M23 51.5h2M40 51.5h2M24 52.5h2M38 52.5h3M26 53.5h2M36 53.5h3M27 54.5h11M31 55.5h2"/>
<path stroke="#7dc8a2" d="M11 31.5h24M11 32.5h1M33 32.5h11M11 33.5h1M42 33.5h7M11 34.5h1M47 34.5h4M11 35.5h1M49 35.5h2M11 36.5h1M50 36.5h1M11 37.5h1M50 37.5h2M10 38.5h2M51 38.5h1M10 39.5h2M51 39.5h2M11 40.5h1M51 40.5h2M11 41.5h1M51 41.5h1M12 42.5h1M50 42.5h2M14 43.5h1M49 43.5h2M15 44.5h1M48 44.5h2M16 45.5h1M47 45.5h2M17 46.5h1M46 46.5h2M18 47.5h1M45 47.5h2M19 48.5h1M44 48.5h2M20 49.5h1M43 49.5h2M21 50.5h1M43 50.5h1M22 51.5h1M42 51.5h1M23 52.5h1M41 52.5h2M24 53.5h2M39 53.5h3M25 54.5h2M38 54.5h2M27 55.5h4M33 55.5h6M30 56.5h6"/>
<path stroke="#82c997" d="M10 30.5h28M10 31.5h1M35 31.5h11M10 32.5h1M44 32.5h7M10 33.5h1M49 33.5h3M10 34.5h1M51 34.5h2M10 35.5h1M51 35.5h2M10 36.5h1M51 36.5h2M9 37.5h2M52 37.5h2M9 38.5h1M52 38.5h2M9 39.5h1M53 39.5h1M10 40.5h1M53 40.5h1M10 41.5h1M52 41.5h2M11 42.5h1M52 42.5h1M13 43.5h1M51 43.5h1M14 44.5h1M50 44.5h1M15 45.5h1M49 45.5h1M16 46.5h1M48 46.5h1M16 47.5h2M47 47.5h1M17 48.5h2M46 48.5h2M18 49.5h2M45 49.5h2M19 50.5h2M44 50.5h2M20 51.5h2M43 51.5h2M21 52.5h2M43 52.5h1M22 53.5h2M42 53.5h1M23 54.5h2M40 54.5h2M24 55.5h3M39 55.5h2M26 56.5h4M36 56.5h4M29 57.5h8"/>
<path stroke="#87c889" d="M9 29.5h31M9 30.5h1M38 30.5h11M8 31.5h2M46 31.5h7M8 32.5h2M51 32.5h3M9 33.5h1M52 33.5h2M9 34.5h1M53 34.5h1M9 35.5h1M53 35.5h1M8 36.5h2M53 36.5h2M8 37.5h1M54 37.5h1M8 38.5h1M54 38.5h1M8 39.5h1M54 39.5h2M9 40.5h1M54 40.5h1M9 41.5h1M54 41.5h1M10 42.5h1M53 42.5h1M11 43.5h2M52 43.5h1M13 44.5h1M51 44.5h1M13 45.5h2M50 45.5h1M14 46.5h2M49 46.5h2M15 47.5h1M48 47.5h2M16 48.5h1M48 48.5h1M17 49.5h1M47 49.5h1M18 50.5h1M46 50.5h2M19 51.5h1M45 51.5h2M20 52.5h1M44 52.5h2M21 53.5h1M43 53.5h2M22 54.5h1M42 54.5h2M23 55.5h1M41 55.5h2M24 56.5h2M40 56.5h2M25 57.5h4M37 57.5h3M28 58.5h10"/>
<path stroke="#8fc978" d="M9 28.5h33M8 29.5h1M40 29.5h11M7 30.5h2M49 30.5h6M7 31.5h1M53 31.5h3M7 32.5h1M54 32.5h2M7 33.5h2M54 33.5h2M7 34.5h2M54 34.5h2M7 35.5h2M54 35.5h2M7 36.5h1M55 36.5h1M7 37.5h1M55 37.5h2M7 38.5h1M55 38.5h2M7 39.5h1M56 39.5h1M8 40.5h1M55 40.5h2M8 41.5h1M55 41.5h1M9 42.5h1M54 42.5h1M10 43.5h1M53 43.5h2M11 44.5h2M52 44.5h2M12 45.5h1M51 45.5h2M13 46.5h1M51 46.5h1M14 47.5h1M50 47.5h1M15 48.5h1M49 48.5h2M16 49.5h1M48 49.5h2M16 50.5h2M48 50.5h1M17 51.5h2M47 51.5h1M18 52.5h2M46 52.5h1M19 53.5h2M45 53.5h2M20 54.5h2M44 54.5h2M21 55.5h2M43 55.5h2M22 56.5h2M42 56.5h2M24 57.5h1M40 57.5h2M25 58.5h3M38 58.5h3M27 59.5h12"/>
<path stroke="#9bcc68" d="M9 27.5h1M13 27.5h32M7 28.5h2M42 28.5h11M6 29.5h2M51 29.5h6M6 30.5h1M55 30.5h2M6 31.5h1M56 31.5h1M6 32.5h1M56 32.5h1M6 33.5h1M56 33.5h1M6 34.5h1M56 34.5h1M6 35.5h1M56 35.5h2M6 36.5h1M56 36.5h2M6 37.5h1M57 37.5h1M6 38.5h1M57 38.5h1M6 39.5h1M57 39.5h1M7 40.5h1M57 40.5h1M7 41.5h1M56 41.5h1M8 42.5h1M55 42.5h2M9 43.5h1M55 43.5h1M10 44.5h1M54 44.5h1M11 45.5h1M53 45.5h1M12 46.5h1M52 46.5h2M13 47.5h1M51 47.5h2M13 48.5h2M51 48.5h1M14 49.5h2M50 49.5h1M15 50.5h1M49 50.5h2M16 51.5h1M48 51.5h2M17 52.5h1M47 52.5h2M18 53.5h1M47 53.5h1M19 54.5h1M46 54.5h1M20 55.5h1M45 55.5h1M21 56.5h1M44 56.5h1M22 57.5h2M42 57.5h2M23 58.5h2M41 58.5h2M25 59.5h2M39 59.5h2M27 60.5h12"/>
<path stroke="#a4ce5b" d="M13 26.5h35M6 27.5h3M10 27.5h3M45 27.5h11M5 28.5h2M53 28.5h5M5 29.5h1M57 29.5h2M5 30.5h1M57 30.5h2M5 31.5h1M57 31.5h2M5 32.5h1M57 32.5h2M5 33.5h1M57 33.5h2M5 34.5h1M57 34.5h2M5 35.5h1M58 35.5h1M5 36.5h1M58 36.5h1M5 37.5h1M58 37.5h2M5 38.5h1M58 38.5h2M5 39.5h1M58 39.5h1M6 40.5h1M58 40.5h1M6 41.5h1M57 41.5h2M7 42.5h1M57 42.5h1M8 43.5h1M56 43.5h1M9 44.5h1M55 44.5h1M10 45.5h1M54 45.5h2M10 46.5h2M54 46.5h1M11 47.5h2M53 47.5h1M12 48.5h1M52 48.5h2M13 49.5h1M51 49.5h2M14 50.5h1M51 50.5h1M15 51.5h1M50 51.5h1M16 52.5h1M49 52.5h1M16 53.5h2M48 53.5h1M17 54.5h2M47 54.5h2M18 55.5h2M46 55.5h2M19 56.5h2M45 56.5h2M21 57.5h1M44 57.5h1M22 58.5h1M43 58.5h1M23 59.5h2M41 59.5h2M24 60.5h3M39 60.5h3M26 61.5h14"/>
<path stroke="#aace4d" d="M12 25.5h38M5 26.5h8M48 26.5h10M4 27.5h2M56 27.5h4M4 28.5h1M58 28.5h3M4 29.5h1M59 29.5h2M4 30.5h1M59 30.5h2M4 31.5h1M59 31.5h2M4 32.5h1M59 32.5h2M4 33.5h1M59 33.5h1M4 34.5h1M59 34.5h2M4 35.5h1M59 35.5h2M4 36.5h1M59 36.5h2M4 37.5h1M60 37.5h1M4 38.5h1M60 38.5h1M4 39.5h1M59 39.5h2M5 40.5h1M59 40.5h2M5 41.5h1M59 41.5h1M6 42.5h1M58 42.5h1M7 43.5h1M57 43.5h2M8 44.5h1M56 44.5h2M8 45.5h2M56 45.5h1M9 46.5h1M55 46.5h1M10 47.5h1M54 47.5h2M11 48.5h1M54 48.5h1M12 49.5h1M53 49.5h1M13 50.5h1M52 50.5h1M13 51.5h2M51 51.5h2M14 52.5h2M50 52.5h2M15 53.5h1M49 53.5h2M16 54.5h1M49 54.5h1M17 55.5h1M48 55.5h1M18 56.5h1M47 56.5h1M19 57.5h2M45 57.5h2M20 58.5h2M44 58.5h2M22 59.5h1M43 59.5h2M23 60.5h1M42 60.5h1M24 61.5h2M40 61.5h2M26 62.5h14"/>
<path stroke="#b7d23d" d="M12 24.5h41M4 25.5h8M50 25.5h11M3 26.5h2M58 26.5h4M3 27.5h1M60 27.5h2M3 28.5h1M61 28.5h1M3 29.5h1M61 29.5h1M3 30.5h1M61 30.5h1M3 31.5h1M61 31.5h1M3 32.5h1M61 32.5h1M3 33.5h1M60 33.5h2M3 34.5h1M61 34.5h1M3 35.5h1M61 35.5h1M3 36.5h1M61 36.5h1M3 37.5h1M61 37.5h1M3 38.5h1M61 38.5h1M3 39.5h1M61 39.5h1M4 40.5h1M61 40.5h1M4 41.5h1M60 41.5h1M5 42.5h1M59 42.5h2M6 43.5h1M59 43.5h1M7 44.5h1M58 44.5h1M7 45.5h1M57 45.5h2M8 46.5h1M56 46.5h2M9 47.5h1M56 47.5h1M10 48.5h1M55 48.5h1M10 49.5h2M54 49.5h2M11 50.5h2M53 50.5h2M12 51.5h1M53 51.5h1M13 52.5h1M52 52.5h1M14 53.5h1M51 53.5h1M15 54.5h1M50 54.5h2M16 55.5h1M49 55.5h2M17 56.5h1M48 56.5h2M18 57.5h1M47 57.5h1M19 58.5h1M46 58.5h1M20 59.5h2M45 59.5h1M21 60.5h2M43 60.5h2M23 61.5h1M42 61.5h1M24 62.5h2M40 62.5h2M26 63.5h14"/>
<path stroke="#c3d632" d="M10 23.5h46M3 24.5h9M53 24.5h10M2 25.5h2M61 25.5h3M1 26.5h2M62 26.5h2M1 27.5h2M62 27.5h2M1 28.5h2M62 28.5h2M2 29.5h1M62 29.5h2M2 30.5h1M62 30.5h2M2 31.5h1M62 31.5h2M2 32.5h1M62 32.5h2M2 33.5h1M62 33.5h2M2 34.5h1M62 34.5h2M2 35.5h1M62 35.5h2M2 36.5h1M62 36.5h2M2 37.5h1M62 37.5h2M2 38.5h1M62 38.5h2M2 39.5h1M62 39.5h1M2 40.5h2M62 40.5h1M3 41.5h1M61 41.5h2M4 42.5h1M61 42.5h1M5 43.5h1M60 43.5h1M5 44.5h2M59 44.5h2M6 45.5h1M59 45.5h1M7 46.5h1M58 46.5h1M7 47.5h2M57 47.5h2M8 48.5h2M56 48.5h2M9 49.5h1M56 49.5h1M10 50.5h1M55 50.5h1M11 51.5h1M54 51.5h1M12 52.5h1M53 52.5h1M13 53.5h1M52 53.5h1M14 54.5h1M15 55.5h1M16 56.5h1M17 57.5h1M48 57.5h1M18 58.5h1M47 58.5h1M19 59.5h1M46 59.5h1M20 60.5h1M45 60.5h1M21 61.5h2M43 61.5h2M22 62.5h2M42 62.5h2M24 63.5h2M40 63.5h2M25 64.5h16"/>
<path stroke="#d0da28" d="M2 23.5h8M56 23.5h8M2 24.5h1M63 24.5h1M64 26.5h1M64 27.5h1M64 28.5h1M0 29.5h2M64 29.5h2M0 30.5h2M64 30.5h2M0 31.5h2M64 31.5h2M0 32.5h2M64 32.5h2M0 33.5h2M64 33.5h2M0 34.5h2M64 34.5h2M0 35.5h2M64 35.5h2M1 36.5h1M64 36.5h1M1 37.5h1M64 37.5h1M1 38.5h1M64 38.5h1M1 39.5h1M63 39.5h2M63 40.5h1M2 41.5h1M63 41.5h1M2 42.5h2M62 42.5h2M3 43.5h2M61 43.5h2M4 44.5h1M61 44.5h1M5 45.5h1M60 45.5h1M6 46.5h1M59 46.5h1M23 63.5h1M42 63.5h1M32 65.5h2"/>
</g>
<rect x="-142.5" y="-41.63" width="285" height="183.53" fill="url(#gp)"/>
<path fill="none" stroke="#3c4650" stroke-width="0.95" stroke-opacity="0.8" d="M-51.82 21.71 -52.8 22.39 -53.84 26.66 -54.7 30.93 -54.59 35.2 -51.82 38.98 -51.47 39.46 -47.5 43.05 -46.78 43.73 -43.18 46.46 -41.19 48 -38.86 49.58 -34.91 52.27 -34.55 52.5 -30.23 55.06 -26.3 56.54 -25.91 56.68 -21.59 57.33 -17.27 57.33 -13.37 56.54 -12.95 56.44 -8.64 55.02 -4.32 53.43 -1.71 52.27 0 51.5 4.32 49.21 6.33 48 8.64 46.49 12.23 43.73 12.95 42.88 15.86 39.46 13.5 35.2 12.95 34.93 8.64 32.89 4.37 30.93 4.32 30.91 0 29.3 -4.32 27.73 -7.34 26.66 -8.64 26.26 -12.95 24.99 -17.27 23.78 -21.59 22.62 -22.56 22.39 -25.91 21.69 -30.23 20.91 -34.55 20.32 -38.86 19.99 -43.18 20.04 -47.5 20.54 -51.82 21.71M-64.77 9.27 -66.56 9.59 -69.09 10.71 -70.89 13.85 -70.84 18.12 -70.99 22.39 -71.71 26.66 -72.4 30.93 -71.01 35.2 -69.09 37.43 -67.36 39.46 -64.77 41.73 -62.51 43.73 -60.45 45.32 -56.99 48 -56.14 48.63 -51.82 51.77 -51.12 52.27 -47.5 54.82 -44.99 56.54 -43.18 57.81 -38.86 60.71 -38.72 60.8 -34.55 63.65 -32.29 65.07 -30.23 66.54 -25.91 68.87 -24.44 69.34 -21.59 70.63 -17.27 71.71 -12.95 71.92 -8.64 71.38 -4.32 70.35 -1.05 69.34 0 69.05 4.32 67.88 8.64 66.95 12.95 65.78 15.06 65.07 17.27 64.4 21.59 62.77 25.68 60.8 25.91 60.69 30.23 57.88 31.91 56.54 34.55 54.31 36.92 52.27 38.86 50.36 41.31 48 43.18 45.7 44.85 43.73 47.07 39.46 46.6 35.2 43.18 32.29 40.95 30.93 38.86 29.91 34.55 28.26 30.23 26.78 29.85 26.66 25.91 25.5 21.59 24.36 17.27 23.33 12.95 22.4 12.87 22.39 8.64 21.61 4.32 20.63 0 19.63 -4.32 18.83 -7.62 18.12 -8.64 17.84 -12.95 16.66 -17.27 15.64 -21.59 14.66 -25.02 13.85 -25.91 13.63 -30.23 12.63 -34.55 11.74 -38.86 10.91 -43.18 10.15 -47.02 9.59 -47.5 9.52 -51.82 9.13 -56.14 8.92 -60.45 8.95 -64.77 9.27M-82.05 -0.29 -84.39 1.05 -85.98 5.32 -85.76 9.59 -85.55 13.85 -85.7 18.12 -86.28 22.39 -86.36 22.88 -86.95 26.66 -86.87 30.93 -86.36 32.07 -84.99 35.2 -82.05 38.5 -81.19 39.46 -77.73 42.52 -76.35 43.73 -73.41 46.07 -70.95 48 -69.09 49.47 -65.44 52.27 -64.77 52.82 -60.45 56.18 -59.98 56.54 -56.14 59.75 -54.76 60.8 -51.82 63.56 -50.01 65.07 -47.5 67.5 -45.51 69.34 -43.18 71.54 -40.9 73.61 -38.86 75.46 -36.09 77.88 -34.55 79.23 -30.87 82.15 -30.23 82.63 -25.91 85.25 -23.47 86.41 -21.59 87.28 -17.27 88.9 -12.95 90.12 -8.64 90.68 -4.32 90.33 0 89.72 4.32 89.3 8.64 88.83 12.95 87.86 16.93 86.41 17.27 86.28 21.59 84.11 24.77 82.15 25.91 81.38 30.21 77.88 30.23 77.86 34.36 73.61 34.55 73.41 38.27 69.34 38.86 68.76 42.3 65.07 43.18 64.28 46.81 60.8 47.5 60.2 51.53 56.54 51.82 56.28 56.14 52.38 56.26 52.27 60.45 48.34 60.82 48 64.77 43.98 65.03 43.73 68.42 39.46 69.09 37.93 70.32 35.2 69.97 30.93 69.09 29.33 67.4 26.66 64.77 23.02 64.3 22.39 62 18.12 60.45 16.76 56.14 14.83 53.11 13.85 51.82 13.47 47.5 12.28 43.18 11.2 38.86 10.22 35.79 9.59 34.55 9.34 30.23 8.56 25.91 7.85 21.59 7.2 17.27 6.61 12.95 6.07 8.64 5.6 5.85 5.32 4.32 5.17 0 4.81 -4.32 4.49 -8.64 4.21 -12.95 3.98 -17.27 3.79 -21.59 3.65 -25.91 3.55 -30.23 3.45 -34.55 3.11 -38.86 2.73 -43.18 2.22 -47.5 1.61 -51.1 1.05 -51.82 0.93 -56.14 0.24 -60.45 -0.32 -64.77 -0.77 -69.09 -1.07 -73.41 -1.17 -77.73 -1.05 -82.05 -0.29M-95 -10.25 -98.72 -7.49 -99.32 -5.57 -99.81 -3.22 -99.77 1.05 -99.48 5.32 -99.32 8.55 -99.26 9.59 -99.32 11.81 -99.37 13.85 -99.83 18.12 -100.33 22.39 -100.57 26.66 -99.98 30.93 -99.32 32.32 -97.94 35.2 -95 38.5 -94.14 39.46 -90.68 42.57 -89.38 43.73 -86.36 46.3 -84.29 48 -82.05 50.05 -79.45 52.27 -77.73 54.09 -75.15 56.54 -73.41 58.52 -71.33 60.8 -69.09 63.33 -67.51 65.07 -64.77 68.11 -63.63 69.34 -60.45 72.77 -59.66 73.61 -56.14 77.29 -55.56 77.88 -51.82 81.65 -51.32 82.15 -47.5 85.85 -46.9 86.41 -43.18 89.87 -42.28 90.68 -38.86 93.71 -37.29 94.95 -34.55 96.97 -30.84 99.22 -30.23 99.57 -25.91 101.62 -21.59 103.24 -20.74 103.49 -17.27 104.45 -12.95 105.32 -8.64 105.89 -4.32 106.18 0 106.19 4.32 106.01 8.64 105.59 12.95 104.91 17.27 103.95 18.82 103.49 21.59 102.6 25.91 100.82 29.02 99.22 30.23 98.55 34.55 95.64 35.4 94.95 38.86 91.89 40.1 90.68 43.18 87.55 44.29 86.41 47.5 82.98 48.27 82.15 51.82 78.15 52.05 77.88 55.66 73.61 56.14 73.03 59.11 69.34 60.45 67.64 62.45 65.07 64.77 62.08 65.74 60.8 69.09 56.7 69.22 56.54 73.27 52.27 73.41 52.14 77.62 48 77.73 47.89 81.97 43.73 82.05 43.65 85.73 39.46 86.36 38.41 88.32 35.2 89.26 30.93 88.7 26.66 87.21 22.39 86.36 20.49 85.23 18.12 83.72 13.85 83.03 9.59 82.19 5.32 82.05 5.07 77.73 1.23 77.26 1.05 73.41 -0.03 69.09 -1.13 64.77 -2.12 60.45 -3.01 59.36 -3.22 56.14 -3.79 51.82 -4.5 47.5 -5.14 43.18 -5.71 38.86 -6.24 34.55 -6.72 30.23 -7.15 26.54 -7.49 25.91 -7.54 21.59 -7.89 17.27 -8.21 12.95 -8.49 8.64 -8.75 4.32 -8.98 0 -9.19 -4.32 -9.36 -8.64 -9.51 -12.95 -9.63 -17.27 -9.73 -21.59 -9.8 -25.91 -9.83 -30.23 -9.85 -34.55 -9.83 -38.86 -9.78 -43.18 -9.7 -47.5 -9.59 -51.82 -9.44 -56.14 -9.26 -60.45 -9.25 -64.77 -9.43 -69.09 -9.71 -73.41 -10.09 -77.73 -10.47 -82.05 -10.8 -86.36 -10.97 -90.68 -10.9 -95 -10.25M-107.95 -20.33 -108.06 -20.29 -112.2 -16.02 -112.27 -15.73 -113.07 -11.75 -113.31 -7.49 -113.21 -3.22 -112.92 1.05 -112.68 5.32 -112.73 9.59 -113.09 13.85 -113.45 18.12 -113.57 22.39 -113.36 26.66 -112.57 30.93 -112.27 31.56 -110.55 35.2 -107.95 38.2 -106.85 39.46 -103.64 42.5 -102.3 43.73 -99.32 46.76 -97.99 48 -95 51.59 -94.38 52.27 -90.96 56.54 -90.68 56.88 -87.5 60.8 -86.36 62.21 -84.01 65.07 -82.05 67.42 -80.43 69.34 -77.73 72.48 -76.75 73.61 -73.41 77.38 -72.96 77.88 -69.09 82.1 -69.04 82.15 -64.98 86.41 -64.77 86.63 -60.77 90.68 -60.45 91 -56.4 94.95 -56.14 95.2 -51.85 99.22 -51.82 99.24 -47.5 103.11 -47.08 103.49 -43.18 106.79 -41.92 107.75 -38.86 110 -35.65 112.02 -34.55 112.69 -30.23 114.88 -26.79 116.29 -25.91 116.64 -21.59 118.03 -17.27 119.2 -12.95 119.97 -8.64 120.01 -4.32 119.65 0 119.43 4.32 119.58 8.64 119.9 12.95 119.82 17.27 119.01 21.59 117.87 25.91 116.57 26.69 116.29 30.23 114.91 34.55 112.79 35.84 112.02 38.86 110.1 42.02 107.75 43.18 106.84 47.01 103.49 47.5 103.03 51.59 99.22 51.82 98.99 55.95 94.95 56.14 94.76 60.11 90.68 60.45 90.32 64.09 86.41 64.77 85.65 67.88 82.15 69.09 80.73 71.51 77.88 73.41 75.55 74.98 73.61 77.73 70.08 78.3 69.34 81.47 65.07 82.05 64.27 84.52 60.8 86.36 58.18 87.51 56.54 90.49 52.27 90.68 52.04 93.85 48 95 46.8 97.79 43.73 99.32 42.04 101.66 39.46 103.64 36.52 104.53 35.2 105.96 30.93 106.27 26.66 105.9 22.39 105.12 18.12 103.97 13.85 103.64 12.61 102.83 9.59 102.48 5.32 102.53 1.05 102.54 -3.22 101.94 -7.49 99.54 -11.75 99.32 -11.93 95 -13.74 90.68 -14.75 86.36 -15.65 84.37 -16.02 82.05 -16.43 77.73 -17.13 73.41 -17.75 69.09 -18.31 64.77 -18.82 60.45 -19.27 56.14 -19.67 51.82 -20.04 48.46 -20.29 47.5 -20.36 43.18 -20.64 38.86 -20.89 34.55 -21.12 30.23 -21.32 25.91 -21.5 21.59 -21.66 17.27 -21.81 12.95 -21.94 8.64 -22.05 4.32 -22.14 0 -22.23 -4.32 -22.3 -8.64 -22.35 -12.95 -22.39 -17.27 -22.42 -21.59 -22.43 -25.91 -22.43 -30.23 -22.41 -34.55 -22.38 -38.86 -22.32 -43.18 -22.25 -47.5 -22.15 -51.82 -22.04 -56.14 -21.9 -60.45 -21.74 -64.77 -21.55 -69.09 -21.33 -73.41 -21.08 -77.73 -20.8 -82.05 -20.49 -85.83 -20.29 -86.36 -20.27 -87.09 -20.29 -90.68 -20.41 -95 -20.68 -99.32 -20.83 -103.64 -20.82 -107.95 -20.33M-82.05 -33.13 -82.61 -33.1 -86.36 -32.9 -90.68 -32.65 -95 -32.37 -99.32 -32.05 -103.64 -31.72 -107.95 -31.5 -112.27 -31.33 -116.59 -31.22 -120.91 -30.52 -123.67 -28.83 -125.23 -26.44 -126.17 -24.56 -127.15 -20.29 -127.42 -16.02 -127.3 -11.75 -126.98 -7.49 -126.62 -3.22 -126.34 1.05 -126.34 5.32 -126.61 9.59 -126.87 13.85 -126.98 18.12 -126.81 22.39 -126.25 26.66 -125.23 30.68 -125.17 30.93 -123.33 35.2 -120.91 38.2 -119.87 39.46 -116.59 43.17 -116.05 43.73 -112.81 48 -112.27 48.72 -109.59 52.27 -107.95 54.39 -106.31 56.54 -103.64 59.93 -102.95 60.8 -99.51 65.07 -99.32 65.31 -95.97 69.34 -95 70.49 -92.35 73.61 -90.68 75.54 -88.64 77.88 -86.36 80.44 -84.83 82.15 -82.05 85.19 -80.92 86.41 -77.73 89.8 -76.89 90.68 -73.41 94.26 -72.73 94.95 -69.09 98.57 -68.43 99.22 -64.77 102.73 -63.97 103.49 -60.45 106.74 -59.33 107.75 -56.14 110.57 -54.45 112.02 -51.82 114.23 -49.28 116.29 -47.5 117.7 -43.74 120.56 -43.18 120.98 -38.86 124.01 -37.5 124.83 -34.55 126.57 -30.23 128.66 -29.22 129.1 -25.91 130.43 -21.59 131.41 -17.27 131.82 -12.95 131.85 -8.64 131.62 -4.32 131.3 0 131.12 4.32 131.27 8.64 131.59 12.95 131.81 17.27 131.78 21.59 131.37 25.91 130.39 29.12 129.1 30.23 128.63 34.55 126.69 37.81 124.83 38.86 124.22 43.18 121.21 44.05 120.56 47.5 117.94 49.59 116.29 51.82 114.48 54.75 112.02 56.14 110.83 59.62 107.75 60.45 106.99 64.25 103.49 64.77 102.99 68.71 99.22 69.09 98.84 73 94.95 73.41 94.53 77.15 90.68 77.73 90.06 81.15 86.41 82.05 85.42 85.02 82.15 86.36 80.6 88.75 77.88 90.68 75.57 92.35 73.61 95 70.33 95.81 69.34 99.13 65.07 99.32 64.82 102.29 60.8 103.64 58.9 105.32 56.54 107.95 52.65 108.22 52.27 111.03 48 112.27 46.18 113.91 43.73 116.59 40.45 117.35 39.46 120.25 35.2 120.91 33.39 121.82 30.93 122.59 26.66 122.92 22.39 122.87 18.12 122.55 13.85 122.02 9.59 121.33 5.32 121.25 1.05 121.69 -3.22 122.19 -7.49 122.55 -11.75 122.58 -16.02 121.99 -20.29 120.91 -23.08 120.15 -24.56 116.59 -27.35 112.27 -28.6 111.09 -28.83 107.95 -29.38 103.64 -30.06 99.32 -30.67 95 -31.21 90.68 -31.69 86.36 -32.12 82.05 -32.5 77.73 -32.83 74.03 -33.1 73.41 -33.14 69.09 -33.43 64.77 -33.69 60.45 -33.93 56.14 -34.15 51.82 -34.35 47.5 -34.53 43.18 -34.69 38.86 -34.83 34.55 -34.95 30.23 -35.05 25.91 -35.14 21.59 -35.21 17.27 -35.26 12.95 -35.3 8.64 -35.32 4.32 -35.33 0 -35.32 -4.32 -35.3 -8.64 -35.27 -12.95 -35.22 -17.27 -35.16 -21.59 -35.09 -25.91 -35.01 -30.23 -34.92 -34.55 -34.82 -38.86 -34.71 -43.18 -34.59 -47.5 -34.46 -51.82 -34.32 -56.14 -34.17 -60.45 -34.02 -64.77 -33.86 -69.09 -33.69 -73.41 -33.52 -77.73 -33.33 -82.05 -33.13"/>
<use href="#head"/>
</g>
<g transform="translate(163.25 1382.1)">
<circle r="147.5" fill="none" stroke="#ebf2fb" stroke-width="10.4"/>
<g transform="translate(-142.5 -139.8) scale(4.3182 4.2682)" fill="none" stroke-width="1" shape-rendering="crispEdges">
<path stroke="#3a54a6" d="M25 40.5h8M25 41.5h10M25 42.5h10M27 43.5h6"/>
<path stroke="#3b56a7" d="M26 38.5h2M23 39.5h10M23 40.5h2M33 40.5h3M23 41.5h2M35 41.5h3M24 42.5h1M35 42.5h3M24 43.5h3M33 43.5h4M26 44.5h9M28 45.5h3"/>
<path stroke="#3c58a9" d="M24 37.5h3M22 38.5h4M28 38.5h5M21 39.5h2M33 39.5h3M21 40.5h2M36 40.5h3M21 41.5h2M38 41.5h3M22 42.5h2M38 42.5h3M23 43.5h1M37 43.5h4M24 44.5h2M35 44.5h5M25 45.5h3M31 45.5h7M27 46.5h6"/>
<path stroke="#3e5dac" d="M23 36.5h3M20 37.5h4M27 37.5h5M20 38.5h2M33 38.5h4M20 39.5h1M36 39.5h5M20 40.5h1M39 40.5h4M20 41.5h1M41 41.5h3M21 42.5h1M41 42.5h2M22 43.5h1M41 43.5h2M23 44.5h1M40 44.5h2M24 45.5h1M38 45.5h3M25 46.5h2M33 46.5h6M27 47.5h10"/>
<path stroke="#3f63af" d="M19 36.5h4M26 36.5h6M18 37.5h2M32 37.5h7M18 38.5h2M37 38.5h6M18 39.5h2M41 39.5h4M18 40.5h2M43 40.5h2M19 41.5h1M44 41.5h2M19 42.5h2M43 42.5h2M20 43.5h2M43 43.5h1M21 44.5h2M42 44.5h1M23 45.5h1M41 45.5h1M24 46.5h1M39 46.5h2M25 47.5h2M37 47.5h3M27 48.5h11M29 49.5h5"/>
<path stroke="#416bb3" d="M18 35.5h16M17 36.5h2M32 36.5h9M17 37.5h1M39 37.5h5M17 38.5h1M43 38.5h3M17 39.5h1M45 39.5h2M17 40.5h1M45 40.5h2M17 41.5h2M46 41.5h1M18 42.5h1M45 42.5h2M19 43.5h1M44 43.5h2M20 44.5h1M43 44.5h2M21 45.5h2M42 45.5h2M23 46.5h1M41 46.5h1M24 47.5h1M40 47.5h1M25 48.5h2M38 48.5h2M26 49.5h3M34 49.5h5M28 50.5h9"/>
<path stroke="#447bbd" d="M17 34.5h18M16 35.5h2M34 35.5h8M16 36.5h1M41 36.5h5M16 37.5h1M44 37.5h3M16 38.5h1M46 38.5h2M16 39.5h1M47 39.5h1M16 40.5h1M47 40.5h2M16 41.5h1M47 41.5h2M17 42.5h1M47 42.5h1M18 43.5h1M46 43.5h1M19 44.5h1M45 44.5h1M20 45.5h1M44 45.5h1M21 46.5h2M42 46.5h2M22 47.5h2M41 47.5h2M24 48.5h1M40 48.5h2M25 49.5h1M39 49.5h2M26 50.5h2M37 50.5h2M28 51.5h9"/>
<path stroke="#4787c8" d="M16 33.5h20M15 34.5h2M35 34.5h8M15 35.5h1M42 35.5h5M15 36.5h1M46 36.5h3M15 37.5h1M47 37.5h2M14 38.5h2M48 38.5h2M14 39.5h2M48 39.5h2M14 40.5h2M49 40.5h1M15 41.5h1M49 41.5h1M16 42.5h1M48 42.5h1M17 43.5h1M47 43.5h1M18 44.5h1M46 44.5h1M19 45.5h1M45 45.5h1M20 46.5h1M44 46.5h1M21 47.5h1M43 47.5h1M22 48.5h2M42 48.5h1M23 49.5h2M41 49.5h1M24 50.5h2M39 50.5h2M25 51.5h3M37 51.5h3M27 52.5h11"/>
<path stroke="#4898d5" d="M15 32.5h22M14 33.5h2M36 33.5h9M13 34.5h2M43 34.5h6M13 35.5h2M47 35.5h3M13 36.5h2M49 36.5h1M13 37.5h2M49 37.5h2M13 38.5h1M50 38.5h1M13 39.5h1M50 39.5h2M13 40.5h1M50 40.5h2M14 41.5h1M50 41.5h1M15 42.5h1M49 42.5h1M16 43.5h1M48 43.5h2M17 44.5h1M47 44.5h2M18 45.5h1M46 45.5h1M19 46.5h1M45 46.5h1M20 47.5h1M44 47.5h2M21 48.5h1M43 48.5h2M22 49.5h1M42 49.5h2M23 50.5h1M41 50.5h2M24 51.5h1M40 51.5h2M25 52.5h2M38 52.5h3M27 53.5h11"/>
<path stroke="#44a7df" d="M15 31.5h23M12 32.5h3M37 32.5h9M12 33.5h2M45 33.5h5M12 34.5h1M49 34.5h2M12 35.5h1M50 35.5h2M12 36.5h1M50 36.5h2M12 37.5h1M51 37.5h1M12 38.5h1M51 38.5h2M12 39.5h1M52 39.5h1M12 40.5h1M52 40.5h1M13 41.5h1M51 41.5h1M14 42.5h1M50 42.5h2M15 43.5h1M50 43.5h1M16 44.5h1M49 44.5h1M17 45.5h1M47 45.5h2M18 46.5h1M46 46.5h2M18 47.5h2M46 47.5h1M19 48.5h2M45 48.5h1M20 49.5h2M44 49.5h1M21 50.5h2M43 50.5h1M22 51.5h2M42 51.5h1M23 52.5h2M41 52.5h1M25 53.5h2M38 53.5h3M26 54.5h13"/>
<path stroke="#3db8ec" d="M18 30.5h20M11 31.5h4M38 31.5h9M11 32.5h1M46 32.5h6M11 33.5h1M50 33.5h3M11 34.5h1M51 34.5h2M11 35.5h1M52 35.5h1M11 36.5h1M52 36.5h1M11 37.5h1M52 37.5h2M11 38.5h1M53 38.5h1M11 39.5h1M53 39.5h1M11 40.5h1M53 40.5h1M12 41.5h1M52 41.5h2M13 42.5h1M52 42.5h1M14 43.5h1M51 43.5h1M15 44.5h1M50 44.5h1M15 45.5h2M49 45.5h1M16 46.5h2M48 46.5h1M17 47.5h1M47 47.5h1M18 48.5h1M46 48.5h1M19 49.5h1M45 49.5h2M20 50.5h1M44 50.5h2M21 51.5h1M43 51.5h2M22 52.5h1M42 52.5h2M23 53.5h2M41 53.5h2M24 54.5h2M39 54.5h3M26 55.5h14"/>
<path stroke="#39c2f0" d="M19 29.5h19M11 30.5h7M38 30.5h10M10 31.5h1M47 31.5h6M10 32.5h1M52 32.5h2M10 33.5h1M53 33.5h1M10 34.5h1M53 34.5h1M10 35.5h1M53 35.5h1M10 36.5h1M53 36.5h2M10 37.5h1M54 37.5h1M10 38.5h1M54 38.5h1M10 39.5h1M54 39.5h1M10 40.5h1M54 40.5h1M11 41.5h1M54 41.5h1M12 42.5h1M53 42.5h1M12 43.5h2M52 43.5h1M13 44.5h2M51 44.5h1M14 45.5h1M50 45.5h1M15 46.5h1M49 46.5h1M16 47.5h1M48 47.5h2M17 48.5h1M47 48.5h2M18 49.5h1M47 49.5h1M19 50.5h1M46 50.5h1M19 51.5h2M45 51.5h1M20 52.5h2M44 52.5h1M21 53.5h2M43 53.5h1M23 54.5h1M42 54.5h1M24 55.5h2M40 55.5h2M26 56.5h14"/>
<path stroke="#53c8ea" d="M20 28.5h17M10 29.5h9M38 29.5h11M9 30.5h2M48 30.5h6M9 31.5h1M53 31.5h2M9 32.5h1M54 32.5h2M9 33.5h1M54 33.5h2M9 34.5h1M54 34.5h2M9 35.5h1M54 35.5h2M9 36.5h1M55 36.5h1M9 37.5h1M55 37.5h1M9 38.5h1M55 38.5h1M9 39.5h1M55 39.5h2M9 40.5h1M55 40.5h1M10 41.5h1M55 41.5h1M11 42.5h1M54 42.5h1M11 43.5h1M53 43.5h1M12 44.5h1M52 44.5h1M13 45.5h1M51 45.5h1M14 46.5h1M50 46.5h2M15 47.5h1M50 47.5h1M16 48.5h1M49 48.5h1M16 49.5h2M48 49.5h1M17 50.5h2M47 50.5h2M18 51.5h1M46 51.5h2M19 52.5h1M45 52.5h2M20 53.5h1M44 53.5h2M21 54.5h2M43 54.5h2M22 55.5h2M42 55.5h2M23 56.5h3M40 56.5h3M25 57.5h16"/>
<path stroke="#69cadf" d="M23 27.5h13M9 28.5h11M37 28.5h14M8 29.5h2M49 29.5h7M8 30.5h1M54 30.5h3M8 31.5h1M55 31.5h2M8 32.5h1M56 32.5h1M8 33.5h1M56 33.5h1M8 34.5h1M56 34.5h1M8 35.5h1M56 35.5h1M8 36.5h1M56 36.5h1M8 37.5h1M56 37.5h2M8 38.5h1M56 38.5h2M8 39.5h1M57 39.5h1M8 40.5h1M56 40.5h1M9 41.5h1M56 41.5h1M9 42.5h2M55 42.5h1M10 43.5h1M54 43.5h1M11 44.5h1M53 44.5h1M12 45.5h1M52 45.5h2M13 46.5h1M52 46.5h1M13 47.5h2M51 47.5h1M14 48.5h2M50 48.5h1M15 49.5h1M49 49.5h2M16 50.5h1M49 50.5h1M17 51.5h1M48 51.5h1M18 52.5h1M47 52.5h1M19 53.5h1M46 53.5h1M20 54.5h1M45 54.5h1M21 55.5h1M44 55.5h1M22 56.5h1M43 56.5h1M23 57.5h2M41 57.5h2M25 58.5h16"/>
<path stroke="#6fcad3" d="M9 27.5h14M36 27.5h16M7 28.5h2M51 28.5h6M7 29.5h1M56 29.5h2M7 30.5h1M57 30.5h1M7 31.5h1M57 31.5h1M7 32.5h1M57 32.5h1M7 33.5h1M57 33.5h1M7 34.5h1M57 34.5h1M7 35.5h1M57 35.5h1M7 36.5h1M57 36.5h2M7 37.5h1M58 37.5h1M7 38.5h1M58 38.5h1M7 39.5h1M58 39.5h1M7 40.5h1M57 40.5h2M8 41.5h1M57 41.5h1M8 42.5h1M56 42.5h1M9 43.5h1M55 43.5h1M10 44.5h1M54 44.5h2M11 45.5h1M54 45.5h1M12 46.5h1M53 46.5h1M12 47.5h1M52 47.5h2M13 48.5h1M51 48.5h2M14 49.5h1M51 49.5h1M15 50.5h1M50 50.5h1M16 51.5h1M49 51.5h1M16 52.5h2M48 52.5h1M17 53.5h2M47 53.5h2M18 54.5h2M46 54.5h2M19 55.5h2M45 55.5h2M20 56.5h2M44 56.5h2M22 57.5h1M43 57.5h1M23 58.5h2M41 58.5h2M24 59.5h18M28 60.5h10"/>
<path stroke="#71c9c7" d="M10 26.5h43M6 27.5h3M52 27.5h6M6 28.5h1M57 28.5h2M5 29.5h2M58 29.5h2M5 30.5h2M58 30.5h2M5 31.5h2M58 31.5h2M6 32.5h1M58 32.5h2M6 33.5h1M58 33.5h2M6 34.5h1M58 34.5h2M6 35.5h1M58 35.5h2M6 36.5h1M59 36.5h1M5 37.5h2M59 37.5h1M6 38.5h1M59 38.5h1M6 39.5h1M59 39.5h1M6 40.5h1M59 40.5h1M7 41.5h1M58 41.5h1M7 42.5h1M57 42.5h1M8 43.5h1M56 43.5h2M9 44.5h1M56 44.5h1M10 45.5h1M55 45.5h1M10 46.5h2M54 46.5h1M11 47.5h1M54 47.5h1M12 48.5h1M53 48.5h1M13 49.5h1M52 49.5h1M13 50.5h2M51 50.5h1M14 51.5h2M50 51.5h2M15 52.5h1M49 52.5h2M16 53.5h1M49 53.5h1M17 54.5h1M48 54.5h1M18 55.5h1M47 55.5h1M19 56.5h1M46 56.5h1M20 57.5h2M44 57.5h2M21 58.5h2M43 58.5h2M23 59.5h1M42 59.5h1M24 60.5h4M38 60.5h4M27 61.5h12"/>
<path stroke="#74c8bb" d="M10 25.5h44M5 26.5h5M53 26.5h7M4 27.5h2M58 27.5h3M4 28.5h2M59 28.5h2M4 29.5h1M60 29.5h1M4 30.5h1M60 30.5h1M4 31.5h1M60 31.5h1M4 32.5h2M60 32.5h1M5 33.5h1M60 33.5h1M5 34.5h1M60 34.5h1M4 35.5h2M60 35.5h1M4 36.5h2M60 36.5h1M4 37.5h1M60 37.5h1M4 38.5h2M60 38.5h1M5 39.5h1M60 39.5h1M5 40.5h1M60 40.5h1M5 41.5h2M59 41.5h1M6 42.5h1M58 42.5h1M7 43.5h1M58 43.5h1M8 44.5h1M57 44.5h1M8 45.5h2M56 45.5h1M9 46.5h1M55 46.5h2M10 47.5h1M55 47.5h1M11 48.5h1M54 48.5h1M12 49.5h1M53 49.5h1M12 50.5h1M52 50.5h2M13 51.5h1M52 51.5h1M14 52.5h1M51 52.5h1M15 53.5h1M50 53.5h1M16 54.5h1M49 54.5h1M17 55.5h1M48 55.5h1M18 56.5h1M47 56.5h1M19 57.5h1M46 57.5h1M20 58.5h1M45 58.5h1M21 59.5h2M43 59.5h2M22 60.5h2M42 60.5h2M24 61.5h3M39 61.5h3M26 62.5h14"/>
<path stroke="#79c8ae" d="M10 24.5h45M4 25.5h6M54 25.5h7M3 26.5h2M60 26.5h2M3 27.5h1M61 27.5h1M3 28.5h1M61 28.5h2M3 29.5h1M61 29.5h2M3 30.5h1M61 30.5h1M3 31.5h1M61 31.5h1M3 32.5h1M61 32.5h1M3 33.5h2M61 33.5h1M3 34.5h2M61 34.5h1M3 35.5h1M61 35.5h1M3 36.5h1M61 36.5h1M3 37.5h1M61 37.5h1M3 38.5h1M61 38.5h1M4 39.5h1M61 39.5h1M4 40.5h1M61 40.5h1M4 41.5h1M60 41.5h1M5 42.5h1M59 42.5h2M6 43.5h1M59 43.5h1M7 44.5h1M58 44.5h1M7 45.5h1M57 45.5h2M8 46.5h1M57 46.5h1M9 47.5h1M56 47.5h1M10 48.5h1M55 48.5h1M10 49.5h2M54 49.5h2M11 50.5h1M54 50.5h1M12 51.5h1M53 51.5h1M13 52.5h1M52 52.5h1M14 53.5h1M51 53.5h2M14 54.5h2M50 54.5h2M15 55.5h2M49 55.5h2M16 56.5h2M48 56.5h2M17 57.5h2M47 57.5h2M18 58.5h2M46 58.5h2M20 59.5h1M45 59.5h1M21 60.5h1M44 60.5h1M22 61.5h2M42 61.5h2M24 62.5h2M40 62.5h2M26 63.5h14"/>
<path stroke="#7dc8a2" d="M11 23.5h45M3 24.5h7M55 24.5h7M2 25.5h2M61 25.5h3M2 26.5h1M62 26.5h2M2 27.5h1M62 27.5h2M2 28.5h1M63 28.5h1M2 29.5h1M63 29.5h1M2 30.5h1M62 30.5h2M2 31.5h1M62 31.5h2M2 32.5h1M62 32.5h2M2 33.5h1M62 33.5h2M2 34.5h1M62 34.5h2M2 35.5h1M62 35.5h2M2 36.5h1M62 36.5h2M2 37.5h1M62 37.5h2M2 38.5h1M62 38.5h2M2 39.5h2M62 39.5h1M3 40.5h1M62 40.5h1M3 41.5h1M61 41.5h2M4 42.5h1M61 42.5h1M5 43.5h1M60 43.5h1M5 44.5h2M59 44.5h2M6 45.5h1M59 45.5h1M7 46.5h1M58 46.5h1M7 47.5h2M57 47.5h2M8 48.5h2M56 48.5h2M9 49.5h1M56 49.5h1M10 50.5h1M55 50.5h1M11 51.5h1M54 51.5h1M12 52.5h1M53 52.5h1M13 53.5h1M19 59.5h1M46 59.5h1M20 60.5h1M45 60.5h1M21 61.5h1M44 61.5h1M22 62.5h2M42 62.5h2M23 63.5h3M40 63.5h3M25 64.5h16"/>
<path stroke="#82c997" d="M2 23.5h9M56 23.5h8M2 24.5h1M62 24.5h2M1 26.5h1M64 26.5h1M1 27.5h1M64 27.5h1M1 28.5h1M64 28.5h1M0 29.5h2M64 29.5h2M0 30.5h2M64 30.5h2M0 31.5h2M64 31.5h1M1 32.5h1M64 32.5h1M1 33.5h1M64 33.5h1M0 34.5h2M64 34.5h1M0 35.5h2M64 35.5h1M1 36.5h1M64 36.5h1M1 37.5h1M64 37.5h1M1 38.5h1M64 38.5h1M1 39.5h1M63 39.5h2M2 40.5h1M63 40.5h1M2 41.5h1M63 41.5h1M3 42.5h1M62 42.5h1M3 43.5h2M61 43.5h2M4 44.5h1M61 44.5h1M5 45.5h1M60 45.5h1M6 46.5h1M59 46.5h1M32 65.5h2"/>
<path stroke="#87c889" d="M65 31.5h1M0 32.5h1M65 32.5h1M0 33.5h1M65 33.5h1M65 34.5h1M65 35.5h1M2 42.5h1M63 42.5h1"/>
</g>
<rect x="-142.5" y="-41.63" width="285" height="183.53" fill="url(#gp)"/>
<path fill="none" stroke="#3c4650" stroke-width="0.95" stroke-opacity="0.8" d="M-43.18 21.39 -46.02 22.39 -47.5 23.31 -49.97 26.66 -50.66 30.93 -50.95 35.2 -48.69 39.46 -47.5 40.89 -45.16 43.73 -43.18 45.64 -40.74 48 -38.86 49.58 -35.62 52.27 -34.55 53.09 -30.23 56.22 -29.61 56.54 -25.91 58.39 -21.59 59.71 -17.27 60.48 -12.95 60.72 -8.64 60.2 -4.32 59.41 0 58.47 4.32 57.43 8.64 56.55 8.77 56.54 12.95 56.11 17.27 55.88 21.59 54.64 25.91 52.75 26.69 52.27 30.23 49.64 32.04 48 34.55 44.79 35.37 43.73 36.3 39.46 34.55 37.31 32.02 35.2 30.23 34.44 25.91 32.78 21.59 31.21 20.86 30.93 17.27 29.73 12.95 28.51 8.64 27.25 6.6 26.66 4.32 26.05 0 25.01 -4.32 23.99 -8.64 23.02 -11.59 22.39 -12.95 22.13 -17.27 21.41 -21.59 20.79 -25.91 20.32 -30.23 20.03 -34.55 20.02 -38.86 20.41 -43.18 21.39M-56.14 9.25 -58.25 9.59 -60.45 10.04 -64.77 11.41 -67.68 13.85 -67.99 18.12 -67.97 22.39 -68.59 26.66 -69.09 29.27 -69.39 30.93 -69.09 32.13 -68.35 35.2 -65.36 39.46 -64.77 40.11 -61.49 43.73 -60.45 44.72 -57.05 48 -56.14 48.82 -52.24 52.27 -51.82 52.63 -47.5 56.25 -47.15 56.54 -43.18 59.77 -41.86 60.8 -38.86 63.24 -36.47 65.07 -34.55 66.69 -31.1 69.34 -30.23 70.09 -25.91 73.21 -25.19 73.61 -21.59 75.33 -17.27 76.76 -12.95 77.65 -9.95 77.88 -8.64 77.96 -5.12 77.88 -4.32 77.85 0 77.5 4.32 77.13 8.64 76.61 12.95 75.76 17.27 74.51 19.53 73.61 21.59 72.58 25.91 69.82 26.49 69.34 30.23 66.7 32.17 65.07 34.55 63.24 37.53 60.8 38.86 59.75 42.78 56.54 43.18 56.19 47.5 52.49 47.75 52.27 51.82 48.49 52.34 48 56.14 43.99 56.38 43.73 59.53 39.46 60.45 36.98 61.15 35.2 60.45 32.71 59.83 30.93 56.14 26.7 56.1 26.66 52.36 22.39 51.82 22.08 47.5 20.6 43.18 19.3 38.88 18.12 38.86 18.12 34.55 17.1 30.23 16.18 25.91 15.33 21.59 14.57 17.27 13.88 17.06 13.85 12.95 13.3 8.64 12.79 4.32 12.35 0 11.97 -4.32 11.66 -8.64 11.41 -12.95 11.18 -17.27 10.9 -21.59 10.63 -25.91 10.26 -30.23 9.82 -32.4 9.59 -34.55 9.35 -38.86 8.96 -43.18 8.7 -47.5 8.64 -51.82 8.81 -56.14 9.25M-77.73 -0.13 -81.36 1.05 -82.05 1.64 -83.77 5.32 -83.69 9.59 -83.35 13.85 -83.37 18.12 -83.89 22.39 -84.59 26.66 -84.67 30.93 -83.08 35.2 -82.05 36.54 -79.81 39.46 -77.73 41.7 -75.84 43.73 -73.41 46.11 -71.46 48 -69.09 50.25 -66.91 52.27 -64.77 54.33 -62.37 56.54 -60.45 58.49 -58 60.8 -56.14 62.83 -53.93 65.07 -51.82 67.29 -49.8 69.34 -47.5 71.66 -45.49 73.61 -43.18 75.82 -40.94 77.88 -38.86 79.76 -36.1 82.15 -34.55 83.45 -30.23 86.21 -29.71 86.41 -25.91 87.8 -21.59 88.82 -17.27 89.51 -12.95 90.02 -8.64 90.4 -4.32 90.63 0 90.57 4.32 90.31 8.64 89.82 12.95 89.25 17.27 88.62 21.59 87.8 25.91 86.65 26.52 86.41 30.23 84.82 34 82.15 34.55 81.7 38.63 77.88 38.86 77.65 42.91 73.61 43.18 73.33 46.93 69.34 47.5 68.73 50.77 65.07 51.82 64.03 54.75 60.8 56.14 59.52 59.15 56.54 60.45 55.35 63.72 52.27 64.77 51.28 68.25 48 69.09 47.16 72.53 43.73 73.41 42.69 76.18 39.46 77.73 36.88 78.76 35.2 79.43 30.93 78.15 26.66 77.73 25.76 75.95 22.39 73.93 18.12 73.41 15.97 72.85 13.85 70.28 9.59 69.09 8.89 64.77 7.52 60.45 6.39 56.14 5.36 55.93 5.32 51.82 4.47 47.5 3.67 43.18 2.93 38.86 2.26 34.55 1.65 30.23 1.09 29.89 1.05 25.91 0.6 21.59 0.15 17.27 -0.25 12.95 -0.62 8.64 -0.94 4.32 -1.22 0 -1.46 -4.32 -1.66 -8.64 -1.82 -12.95 -1.93 -17.27 -2.01 -21.59 -2.05 -25.91 -2.04 -30.23 -1.99 -34.55 -1.9 -38.86 -1.76 -43.18 -1.67 -47.5 -1.61 -51.82 -1.64 -56.14 -1.71 -60.45 -1.73 -64.77 -1.62 -69.09 -1.32 -73.41 -0.81 -77.73 -0.13M-77.73 -11.76 -77.86 -11.75 -82.05 -11.5 -86.36 -11.09 -90.68 -10.54 -95 -9.27 -97.11 -7.49 -98.45 -3.22 -98.4 1.05 -98 5.32 -97.67 9.59 -97.67 13.85 -98.11 18.12 -98.64 22.39 -98.96 26.66 -98.48 30.93 -96.65 35.2 -95 37.3 -93.3 39.46 -90.68 42.3 -89.35 43.73 -86.36 46.81 -85.18 48 -82.05 51.35 -81.15 52.27 -77.73 56.28 -77.49 56.54 -74.01 60.8 -73.41 61.53 -70.44 65.07 -69.09 66.66 -66.76 69.34 -64.77 71.59 -62.95 73.61 -60.45 76.31 -58.97 77.88 -56.14 80.81 -54.8 82.15 -51.82 85.08 -50.42 86.41 -47.5 89.14 -45.79 90.68 -43.18 92.99 -40.86 94.95 -38.86 96.53 -34.55 98.97 -33.9 99.22 -30.23 100.57 -25.91 101.64 -21.59 102.3 -17.27 102.65 -12.95 102.78 -8.64 102.77 -4.32 102.71 0 102.7 4.32 102.6 8.64 102.6 12.95 102.56 17.27 102.39 21.59 102.01 25.91 101.31 30.23 100.2 32.85 99.22 34.55 98.55 38.86 95.99 40.14 94.95 43.18 92.27 44.92 90.68 47.5 88.25 49.39 86.41 51.82 83.99 53.61 82.15 56.14 79.47 57.61 77.88 60.45 74.69 61.4 73.61 64.77 69.62 65 69.34 68.45 65.07 69.09 64.27 71.78 60.8 73.41 58.7 75.04 56.54 77.73 53.47 78.7 52.27 82.05 48.81 82.79 48 86.36 44.41 87.03 43.73 90.68 39.66 90.86 39.46 93.8 35.2 95 31.43 95.16 30.93 95.12 26.66 95 26.1 94.15 22.39 92.76 18.12 91.28 13.85 90.68 10.02 90.61 9.59 90.41 5.32 89.93 1.05 87.19 -3.22 86.36 -3.72 82.05 -5.08 77.73 -6.07 73.41 -6.98 70.72 -7.49 69.09 -7.78 64.77 -8.49 60.45 -9.13 56.14 -9.72 51.82 -10.25 47.5 -10.73 43.18 -11.17 38.86 -11.56 36.5 -11.75 34.55 -11.91 30.23 -12.22 25.91 -12.5 21.59 -12.76 17.27 -12.99 12.95 -13.19 8.64 -13.38 4.32 -13.54 0 -13.67 -4.32 -13.79 -8.64 -13.88 -12.95 -13.94 -17.27 -13.98 -21.59 -13.99 -25.91 -13.98 -30.23 -13.94 -34.55 -13.87 -38.86 -13.76 -43.18 -13.63 -47.5 -13.46 -51.82 -13.25 -56.14 -13 -60.45 -12.71 -64.77 -12.38 -69.09 -12.09 -73.41 -11.92 -77.73 -11.76M-51.82 -24.69 -55.19 -24.56 -56.14 -24.52 -60.45 -24.33 -64.77 -24.1 -69.09 -23.84 -73.41 -23.55 -77.73 -23.21 -82.05 -22.83 -86.36 -22.43 -90.68 -22.06 -95 -21.7 -99.32 -21.32 -103.64 -20.89 -107.08 -20.29 -107.95 -20.03 -111.6 -16.02 -112.27 -13.02 -112.5 -11.75 -112.64 -7.49 -112.41 -3.22 -112.27 -1.82 -111.99 1.05 -111.63 5.32 -111.6 9.59 -111.96 13.85 -112.27 17.34 -112.34 18.12 -112.52 22.39 -112.36 26.66 -112.27 27.16 -111.63 30.93 -109.77 35.2 -107.95 37.55 -106.47 39.46 -103.64 42.65 -102.66 43.73 -99.32 47.66 -99.01 48 -95.79 52.27 -95 53.34 -92.6 56.54 -90.68 59.07 -89.35 60.8 -86.36 64.64 -86.02 65.07 -82.58 69.34 -82.05 69.99 -79.02 73.61 -77.73 75.12 -75.33 77.88 -73.41 80.03 -71.49 82.15 -69.09 84.73 -67.5 86.41 -64.77 89.23 -63.34 90.68 -60.45 93.52 -58.98 94.95 -56.14 97.63 -54.4 99.22 -51.82 101.54 -49.58 103.49 -47.5 105.24 -44.42 107.75 -43.18 108.73 -38.86 111.63 -38.09 112.02 -34.55 113.77 -30.23 115.27 -25.91 116.23 -25.45 116.29 -21.59 116.82 -17.27 117.24 -12.95 117.54 -8.64 117.53 -4.32 117.08 0 116.79 4.32 117.03 8.64 117.46 12.95 117.43 17.27 117.13 21.59 116.74 25.14 116.29 25.91 116.2 30.23 115.29 34.55 113.83 38.28 112.02 38.86 111.73 43.18 108.81 44.52 107.75 47.5 105.28 49.61 103.49 51.82 101.53 54.36 99.22 56.14 97.55 58.86 94.95 60.45 93.37 63.13 90.68 64.77 88.98 67.2 86.41 69.09 84.36 71.09 82.15 73.41 79.5 74.81 77.88 77.73 74.39 78.37 73.61 81.78 69.34 82.05 69 85.04 65.07 86.36 63.29 88.18 60.8 90.68 57.31 91.23 56.54 94.21 52.27 95 51.23 97.31 48 99.32 45.75 101.01 43.73 103.64 40.81 104.83 39.46 107.88 35.2 107.95 35.01 109.49 30.93 109.97 26.66 109.85 22.39 109.35 18.12 108.53 13.85 107.95 11.45 107.5 9.59 107.12 5.32 107.25 1.05 107.48 -3.22 107.43 -7.49 106.65 -11.75 103.66 -16.02 103.64 -16.04 99.32 -17.49 95 -18.38 90.68 -19.17 86.36 -19.89 83.67 -20.29 82.05 -20.52 77.73 -21.08 73.41 -21.59 69.09 -22.05 64.77 -22.46 60.45 -22.82 56.14 -23.15 51.82 -23.44 47.5 -23.7 43.18 -23.94 38.86 -24.14 34.55 -24.33 30.23 -24.49 28.21 -24.56 25.91 -24.64 21.59 -24.77 17.27 -24.88 12.95 -24.98 8.64 -25.06 4.32 -25.13 0 -25.18 -4.32 -25.22 -8.64 -25.24 -12.95 -25.25 -17.27 -25.25 -21.59 -25.24 -25.91 -25.21 -30.23 -25.17 -34.55 -25.11 -38.86 -25.04 -43.18 -24.94 -47.5 -24.83 -51.82 -24.69M-99.32 -33.31 -101.6 -33.1 -103.64 -32.9 -107.95 -32.46 -112.27 -32 -116.59 -31.56 -120.91 -30.66 -123.83 -28.83 -125.23 -26.66 -126.26 -24.56 -127.17 -20.29 -127.33 -16.02 -127.1 -11.75 -126.67 -7.49 -126.18 -3.22 -125.78 1.05 -125.72 5.32 -125.99 9.59 -126.26 13.85 -126.39 18.12 -126.24 22.39 -125.7 26.66 -125.23 28.6 -124.69 30.93 -122.94 35.2 -120.91 37.97 -119.8 39.46 -116.59 43.58 -116.47 43.73 -113.46 48 -112.27 49.68 -110.43 52.27 -107.95 55.67 -107.33 56.54 -104.13 60.8 -103.64 61.44 -100.82 65.07 -99.32 66.93 -97.39 69.34 -95 72.21 -93.84 73.61 -90.68 77.28 -90.17 77.88 -86.4 82.15 -86.36 82.19 -82.56 86.41 -82.05 86.98 -78.62 90.68 -77.73 91.62 -74.54 94.95 -73.41 96.1 -70.32 99.22 -69.09 100.43 -65.94 103.49 -64.77 104.59 -61.39 107.75 -60.45 108.6 -56.62 112.02 -56.14 112.44 -51.82 116.11 -51.59 116.29 -47.5 119.57 -46.19 120.56 -43.18 122.82 -40.29 124.83 -38.86 125.81 -34.55 128.16 -32.12 129.1 -30.23 129.89 -25.91 131.42 -21.59 132.27 -17.27 132.54 -12.95 132.4 -8.64 131.97 -4.32 131.45 0 131.19 4.32 131.43 8.64 131.96 12.95 132.39 17.27 132.52 21.59 132.25 25.91 131.4 30.23 129.87 32.13 129.1 34.55 128.2 38.86 125.9 40.42 124.83 43.18 122.91 46.32 120.56 47.5 119.67 51.72 116.29 51.82 116.21 56.14 112.55 56.74 112.02 60.45 108.71 61.51 107.75 64.77 104.71 66.07 103.49 69.09 100.56 70.46 99.22 73.41 96.24 74.68 94.95 77.73 91.77 78.76 90.68 82.05 87.13 82.7 86.41 86.36 82.32 86.52 82.15 90.26 77.88 90.68 77.37 93.88 73.61 95 72.23 97.37 69.34 99.32 66.84 100.72 65.07 103.64 61.17 103.91 60.8 106.96 56.54 107.95 55.08 109.89 52.27 112.27 48.68 112.73 48 115.56 43.73 116.59 42.45 118.87 39.46 120.91 36.55 121.85 35.2 123.45 30.93 124.3 26.66 124.71 22.39 124.77 18.12 124.56 13.85 124.17 9.59 123.6 5.32 123.48 1.05 123.91 -3.22 124.44 -7.49 124.88 -11.75 125.07 -16.02 124.75 -20.29 123.48 -24.56 120.91 -27.99 119.73 -28.83 116.59 -29.95 112.27 -30.74 107.95 -31.44 103.64 -32.06 99.32 -32.61 95.09 -33.1 95 -33.11 90.68 -33.54 86.36 -33.93 82.05 -34.29 77.73 -34.62 73.41 -34.92 69.09 -35.21 64.77 -35.47 60.45 -35.71 56.14 -35.93 51.82 -36.13 47.5 -36.32 43.18 -36.48 38.86 -36.62 34.55 -36.74 30.23 -36.85 25.91 -36.94 21.59 -37.01 17.27 -37.06 12.95 -37.1 8.64 -37.12 4.32 -37.12 0 -37.11 -4.32 -37.09 -8.64 -37.05 -12.95 -37 -17.27 -36.93 -21.59 -36.85 -25.91 -36.76 -30.23 -36.66 -34.55 -36.54 -38.86 -36.41 -43.18 -36.27 -47.5 -36.12 -51.82 -35.96 -56.14 -35.79 -60.45 -35.61 -64.77 -35.41 -69.09 -35.21 -73.41 -35 -77.73 -34.78 -82.05 -34.54 -86.36 -34.27 -90.68 -33.98 -95 -33.66 -99.32 -33.31"/>
<use href="#head"/>
</g>
<g transform="translate(490.25 1387.1)">
<circle r="147.5" fill="none" stroke="#ebf2fb" stroke-width="10.4"/>
<g transform="translate(-142.5 -139.8) scale(4.3182 4.2682)" fill="none" stroke-width="1" shape-rendering="crispEdges">
<path stroke="#2d2f8b" d="M29 41.5h4M31 42.5h1"/>
<path stroke="#2e3290" d="M28 39.5h3M26 40.5h9M25 41.5h4M33 41.5h4M26 42.5h5M32 42.5h5M27 43.5h8"/>
<path stroke="#2f3797" d="M26 38.5h5M24 39.5h4M31 39.5h5M24 40.5h2M35 40.5h4M24 41.5h1M37 41.5h4M24 42.5h2M37 42.5h4M25 43.5h2M35 43.5h6M26 44.5h13M27 45.5h6"/>
<path stroke="#323e9c" d="M24 37.5h7M23 38.5h3M31 38.5h6M22 39.5h2M36 39.5h4M22 40.5h2M39 40.5h3M22 41.5h2M41 41.5h2M23 42.5h1M41 42.5h2M23 43.5h2M41 43.5h1M24 44.5h2M39 44.5h2M25 45.5h2M33 45.5h7M26 46.5h12"/>
<path stroke="#35459e" d="M24 36.5h7M21 37.5h3M31 37.5h7M21 38.5h2M37 38.5h4M21 39.5h1M40 39.5h3M21 40.5h1M42 40.5h2M21 41.5h1M43 41.5h2M21 42.5h2M43 42.5h1M22 43.5h1M42 43.5h2M23 44.5h1M41 44.5h2M24 45.5h1M40 45.5h2M25 46.5h1M38 46.5h3M26 47.5h13M27 48.5h5"/>
<path stroke="#3849a0" d="M23 35.5h7M20 36.5h4M31 36.5h8M20 37.5h1M38 37.5h4M20 38.5h1M41 38.5h4M20 39.5h1M43 39.5h2M19 40.5h2M44 40.5h2M20 41.5h1M45 41.5h1M20 42.5h1M44 42.5h2M21 43.5h1M44 43.5h1M22 44.5h1M43 44.5h1M22 45.5h2M42 45.5h1M23 46.5h2M41 46.5h1M24 47.5h2M39 47.5h2M25 48.5h2M32 48.5h8M27 49.5h11M28 50.5h3"/>
<path stroke="#394ea3" d="M23 34.5h8M19 35.5h4M30 35.5h9M18 36.5h2M39 36.5h4M18 37.5h2M42 37.5h4M19 38.5h1M45 38.5h1M18 39.5h2M45 39.5h2M18 40.5h1M46 40.5h2M18 41.5h2M46 41.5h2M19 42.5h1M46 42.5h1M20 43.5h1M45 43.5h1M20 44.5h2M44 44.5h1M21 45.5h1M43 45.5h1M22 46.5h1M42 46.5h1M23 47.5h1M41 47.5h1M24 48.5h1M40 48.5h1M25 49.5h2M38 49.5h2M26 50.5h2M31 50.5h8M27 51.5h10"/>
<path stroke="#3a50a4" d="M25 33.5h6M18 34.5h5M31 34.5h9M17 35.5h2M39 35.5h5M17 36.5h1M43 36.5h4M17 37.5h1M46 37.5h2M17 38.5h2M46 38.5h2M17 39.5h1M47 39.5h1M17 40.5h1M48 40.5h1M17 41.5h1M48 41.5h1M18 42.5h1M47 42.5h1M18 43.5h2M46 43.5h1M19 44.5h1M45 44.5h1M20 45.5h1M44 45.5h1M21 46.5h1M43 46.5h1M22 47.5h1M42 47.5h1M23 48.5h1M41 48.5h2M24 49.5h1M40 49.5h2M24 50.5h2M39 50.5h2M25 51.5h2M37 51.5h3M27 52.5h11"/>
<path stroke="#3a52a5" d="M18 33.5h7M31 33.5h10M16 34.5h2M40 34.5h5M16 35.5h1M44 35.5h4M16 36.5h1M47 36.5h2M16 37.5h1M48 37.5h1M16 38.5h1M48 38.5h1M16 39.5h1M48 39.5h2M16 40.5h1M49 40.5h1M16 41.5h1M49 41.5h1M17 42.5h1M48 42.5h1M17 43.5h1M47 43.5h1M18 44.5h1M46 44.5h1M19 45.5h1M45 45.5h1M20 46.5h1M44 46.5h2M21 47.5h1M43 47.5h2M21 48.5h2M43 48.5h1M22 49.5h2M42 49.5h1M23 50.5h1M41 50.5h1M24 51.5h1M40 51.5h2M25 52.5h2M38 52.5h3M26 53.5h13"/>
<path stroke="#3a54a6" d="M17 32.5h24M15 33.5h3M41 33.5h5M15 34.5h1M45 34.5h4M15 35.5h1M48 35.5h2M15 36.5h1M49 36.5h1M15 37.5h1M49 37.5h1M15 38.5h1M49 38.5h1M15 39.5h1M50 39.5h1M15 40.5h1M50 40.5h1M15 41.5h1M50 41.5h1M16 42.5h1M49 42.5h1M16 43.5h1M48 43.5h1M17 44.5h1M47 44.5h1M18 45.5h1M46 45.5h2M19 46.5h1M46 46.5h1M19 47.5h2M45 47.5h1M20 48.5h1M44 48.5h1M21 49.5h1M43 49.5h1M22 50.5h1M42 50.5h2M22 51.5h2M42 51.5h1M23 52.5h2M41 52.5h1M24 53.5h2M39 53.5h3M25 54.5h15"/>
<path stroke="#3b56a7" d="M17 31.5h24M14 32.5h3M41 32.5h6M14 33.5h1M46 33.5h4M14 34.5h1M49 34.5h2M14 35.5h1M50 35.5h1M14 36.5h1M50 36.5h1M14 37.5h1M50 37.5h1M14 38.5h1M50 38.5h2M14 39.5h1M51 39.5h1M14 40.5h1M51 40.5h1M14 41.5h1M51 41.5h1M15 42.5h1M50 42.5h1M15 43.5h1M49 43.5h1M16 44.5h1M48 44.5h1M17 45.5h1M48 45.5h1M18 46.5h1M47 46.5h1M18 47.5h1M46 47.5h1M19 48.5h1M45 48.5h1M20 49.5h1M44 49.5h2M20 50.5h2M44 50.5h1M21 51.5h1M43 51.5h2M22 52.5h1M42 52.5h2M23 53.5h1M42 53.5h1M24 54.5h1M40 54.5h2M25 55.5h16M28 56.5h2"/>
<path stroke="#3c58a9" d="M17 30.5h24M13 31.5h4M41 31.5h6M13 32.5h1M47 32.5h4M13 33.5h1M50 33.5h2M13 34.5h1M51 34.5h1M13 35.5h1M51 35.5h1M13 36.5h1M51 36.5h1M13 37.5h1M51 37.5h1M13 38.5h1M52 38.5h1M13 39.5h1M52 39.5h1M13 40.5h1M52 40.5h1M13 41.5h1M52 41.5h1M14 42.5h1M51 42.5h1M14 43.5h1M50 43.5h1M15 44.5h1M49 44.5h2M16 45.5h1M49 45.5h1M16 46.5h2M48 46.5h1M17 47.5h1M47 47.5h1M18 48.5h1M46 48.5h2M18 49.5h2M46 49.5h1M19 50.5h1M45 50.5h2M20 51.5h1M45 51.5h1M20 52.5h2M44 52.5h1M21 53.5h2M43 53.5h1M22 54.5h2M42 54.5h2M23 55.5h2M41 55.5h2M24 56.5h4M30 56.5h12M27 57.5h12"/>
<path stroke="#3e5dac" d="M17 29.5h23M13 30.5h4M41 30.5h7M11 31.5h2M47 31.5h5M11 32.5h2M51 32.5h2M12 33.5h1M52 33.5h1M12 34.5h1M52 34.5h1M12 35.5h1M52 35.5h1M52 36.5h1M12 37.5h1M52 37.5h1M12 38.5h1M53 38.5h1M12 39.5h1M53 39.5h1M12 40.5h1M53 40.5h1M12 41.5h1M53 41.5h1M13 42.5h1M52 42.5h1M13 43.5h1M51 43.5h1M14 44.5h1M51 44.5h1M15 45.5h1M50 45.5h1M15 46.5h1M49 46.5h1M16 47.5h1M48 47.5h1M16 48.5h2M48 48.5h1M17 49.5h1M47 49.5h1M18 50.5h1M47 50.5h1M18 51.5h2M46 51.5h1M19 52.5h1M45 52.5h1M20 53.5h1M44 53.5h2M21 54.5h1M44 54.5h1M22 55.5h1M43 55.5h1M23 56.5h1M42 56.5h1M24 57.5h3M39 57.5h3M27 58.5h13"/>
<path stroke="#3f63af" d="M18 28.5h21M12 29.5h5M40 29.5h8M10 30.5h3M48 30.5h5M10 31.5h1M52 31.5h2M53 32.5h2M11 33.5h1M53 33.5h1M11 34.5h1M53 34.5h1M53 35.5h1M12 36.5h1M53 36.5h1M11 37.5h1M53 37.5h2M11 38.5h1M54 38.5h1M11 39.5h1M54 39.5h1M11 40.5h1M54 40.5h1M11 41.5h1M54 41.5h1M12 42.5h1M53 42.5h1M12 43.5h1M52 43.5h1M13 44.5h1M52 44.5h1M14 45.5h1M51 45.5h1M14 46.5h1M50 46.5h1M15 47.5h1M49 47.5h2M15 48.5h1M49 48.5h1M16 49.5h1M48 49.5h2M17 50.5h1M48 50.5h1M17 51.5h1M47 51.5h1M18 52.5h1M46 52.5h2M19 53.5h1M46 53.5h1M20 54.5h1M45 54.5h1M21 55.5h1M44 55.5h1M22 56.5h1M43 56.5h1M23 57.5h1M42 57.5h1M24 58.5h3M40 58.5h2M26 59.5h14"/>
<path stroke="#416bb3" d="M20 27.5h17M12 28.5h6M39 28.5h10M9 29.5h3M48 29.5h6M9 30.5h1M53 30.5h3M9 31.5h1M54 31.5h2M10 32.5h1M55 32.5h1M10 33.5h1M54 33.5h1M10 34.5h1M54 34.5h1M11 35.5h1M54 35.5h1M11 36.5h1M54 36.5h1M10 37.5h1M55 37.5h1M10 38.5h1M55 38.5h1M10 39.5h1M55 39.5h1M10 40.5h1M55 40.5h1M10 41.5h1M55 41.5h1M11 42.5h1M54 42.5h1M11 43.5h1M53 43.5h1M12 44.5h1M53 44.5h1M12 45.5h2M52 45.5h1M13 46.5h1M51 46.5h1M14 47.5h1M51 47.5h1M14 48.5h1M50 48.5h1M15 49.5h1M50 49.5h1M15 50.5h2M49 50.5h1M16 51.5h1M48 51.5h2M17 52.5h1M48 52.5h1M18 53.5h1M47 53.5h1M19 54.5h1M46 54.5h1M19 55.5h2M45 55.5h2M20 56.5h2M44 56.5h2M21 57.5h2M43 57.5h2M22 58.5h2M42 58.5h2M24 59.5h2M40 59.5h2M26 60.5h14"/>
<path stroke="#447bbd" d="M26 26.5h6M12 27.5h8M37 27.5h12M9 28.5h3M49 28.5h5M8 29.5h1M54 29.5h3M8 30.5h1M56 30.5h1M56 31.5h1M9 32.5h1M56 32.5h1M9 33.5h1M55 33.5h1M55 34.5h1M10 35.5h1M55 35.5h1M10 36.5h1M55 36.5h1M9 37.5h1M56 37.5h1M9 38.5h1M56 38.5h1M9 39.5h1M56 39.5h1M9 40.5h1M56 40.5h1M9 41.5h1M56 41.5h1M10 42.5h1M55 42.5h1M10 43.5h1M54 43.5h1M11 44.5h1M54 44.5h1M11 45.5h1M53 45.5h1M12 46.5h1M52 46.5h1M12 47.5h2M52 47.5h1M13 48.5h1M51 48.5h1M14 49.5h1M51 49.5h1M14 50.5h1M50 50.5h1M15 51.5h1M50 51.5h1M16 52.5h1M49 52.5h1M17 53.5h1M48 53.5h1M17 54.5h2M47 54.5h1M18 55.5h1M47 55.5h1M19 56.5h1M46 56.5h1M20 57.5h1M45 57.5h1M21 58.5h1M44 58.5h1M23 59.5h1M42 59.5h2M24 60.5h2M40 60.5h2M26 61.5h14"/>
<path stroke="#4787c8" d="M12 26.5h14M32 26.5h17M8 27.5h4M49 27.5h6M7 28.5h2M54 28.5h4M7 29.5h1M57 29.5h1M7 30.5h1M57 30.5h1M8 31.5h1M57 31.5h1M8 32.5h1M57 32.5h1M8 33.5h1M56 33.5h1M9 34.5h1M56 34.5h1M9 35.5h1M56 35.5h1M9 36.5h1M56 36.5h1M8 37.5h1M57 37.5h1M8 38.5h1M57 38.5h1M8 39.5h1M57 39.5h1M8 40.5h1M57 40.5h1M8 41.5h1M57 41.5h1M9 42.5h1M56 42.5h1M9 43.5h1M55 43.5h1M10 44.5h1M55 44.5h1M10 45.5h1M54 45.5h1M11 46.5h1M53 46.5h2M11 47.5h1M53 47.5h1M12 48.5h1M52 48.5h2M13 49.5h1M52 49.5h1M13 50.5h1M51 50.5h1M14 51.5h1M51 51.5h1M15 52.5h1M50 52.5h1M16 53.5h1M49 53.5h1M16 54.5h1M48 54.5h1M17 55.5h1M18 56.5h1M47 56.5h1M19 57.5h1M46 57.5h1M20 58.5h1M45 58.5h1M21 59.5h2M44 59.5h1M23 60.5h1M42 60.5h1M24 61.5h2M40 61.5h2M26 62.5h14"/>
<path stroke="#4898d5" d="M13 25.5h35M7 26.5h5M49 26.5h7M6 27.5h2M55 27.5h4M6 28.5h1M58 28.5h1M6 29.5h1M58 29.5h1M58 30.5h1M7 31.5h1M58 31.5h1M7 32.5h1M57 33.5h1M8 34.5h1M57 34.5h1M8 35.5h1M57 35.5h1M8 36.5h1M57 36.5h1M7 37.5h1M58 37.5h1M7 38.5h1M58 38.5h1M7 39.5h1M58 39.5h1M7 40.5h1M58 40.5h1M7 41.5h1M58 41.5h1M8 42.5h1M57 42.5h1M8 43.5h1M56 43.5h1M9 44.5h1M56 44.5h1M9 45.5h1M55 45.5h1M10 46.5h1M55 46.5h1M10 47.5h1M54 47.5h1M11 48.5h1M54 48.5h1M12 49.5h1M53 49.5h1M12 50.5h1M52 50.5h1M13 51.5h1M52 51.5h1M14 52.5h1M51 52.5h1M15 53.5h1M50 53.5h1M49 54.5h1M16 55.5h1M48 55.5h1M17 56.5h1M18 57.5h1M19 58.5h1M20 59.5h1M22 60.5h1M43 60.5h1M23 61.5h1M42 61.5h1M24 62.5h2M40 62.5h2M26 63.5h14"/>
<path stroke="#44a7df" d="M14 24.5h34M6 25.5h7M48 25.5h8M5 26.5h2M56 26.5h4M5 27.5h1M59 27.5h1M5 28.5h1M59 28.5h1M5 29.5h1M59 29.5h1M6 30.5h1M59 30.5h1M6 31.5h1M59 31.5h1M58 32.5h1M7 33.5h1M58 33.5h1M7 34.5h1M58 34.5h1M7 35.5h1M58 35.5h1M7 36.5h1M58 36.5h1M6 37.5h1M59 37.5h1M6 38.5h1M59 38.5h1M6 39.5h1M59 39.5h1M6 40.5h1M59 40.5h1M6 41.5h1M59 41.5h1M7 42.5h1M58 42.5h1M7 43.5h1M57 43.5h1M8 44.5h1M57 44.5h1M8 45.5h1M56 45.5h1M9 46.5h1M56 46.5h1M9 47.5h1M55 47.5h1M10 48.5h1M55 48.5h1M11 49.5h1M54 49.5h1M11 50.5h1M53 50.5h1M12 51.5h1M13 52.5h1M52 52.5h1M14 53.5h1M51 53.5h1M14 54.5h2M50 54.5h1M15 55.5h1M49 55.5h1M16 56.5h1M48 56.5h2M17 57.5h1M47 57.5h2M18 58.5h1M46 58.5h2M19 59.5h1M45 59.5h2M20 60.5h2M44 60.5h2M21 61.5h2M43 61.5h2M23 62.5h1M42 62.5h1M24 63.5h2M40 63.5h2M26 64.5h14"/>
<path stroke="#3db8ec" d="M15 23.5h33M6 24.5h8M48 24.5h8M4 25.5h2M56 25.5h5M4 26.5h1M60 26.5h2M4 27.5h1M60 27.5h2M4 28.5h1M60 28.5h1M60 29.5h1M5 30.5h1M60 30.5h1M5 31.5h1M60 31.5h1M6 32.5h1M59 32.5h1M6 33.5h1M59 33.5h1M6 34.5h1M59 34.5h1M6 35.5h1M59 35.5h1M6 36.5h1M59 36.5h1M5 37.5h1M60 37.5h1M5 38.5h1M60 38.5h1M5 39.5h1M60 39.5h1M5 40.5h1M60 40.5h1M5 41.5h1M6 42.5h1M59 42.5h1M6 43.5h1M58 43.5h1M7 44.5h1M58 44.5h1M7 45.5h1M57 45.5h1M8 46.5h1M57 46.5h1M8 47.5h1M56 47.5h1M9 48.5h1M56 48.5h1M9 49.5h2M55 49.5h1M10 50.5h1M54 50.5h1M11 51.5h1M53 51.5h2M12 52.5h1M53 52.5h1M13 53.5h1M52 53.5h1M51 54.5h1M50 55.5h1M22 62.5h1M43 62.5h1M23 63.5h1M42 63.5h1M25 64.5h1M40 64.5h1M32 65.5h2"/>
<path stroke="#39c2f0" d="M6 23.5h9M48 23.5h9M3 24.5h3M56 24.5h6M3 25.5h1M61 25.5h2M3 26.5h1M62 26.5h1M3 27.5h1M62 27.5h1M3 28.5h1M61 28.5h1M4 29.5h1M61 29.5h1M4 30.5h1M61 30.5h1M5 32.5h1M60 32.5h1M5 33.5h1M60 33.5h1M5 34.5h1M60 34.5h1M5 35.5h1M60 35.5h1M5 36.5h1M60 36.5h1M4 37.5h1M61 37.5h1M4 38.5h1M61 38.5h1M4 39.5h1M61 39.5h1M4 40.5h1M61 40.5h1M4 41.5h1M60 41.5h1M5 42.5h1M60 42.5h1M5 43.5h1M59 43.5h1M6 44.5h1M59 44.5h1M6 45.5h1M58 45.5h1M7 46.5h1M58 46.5h1M7 47.5h1M57 47.5h1M8 48.5h1M57 48.5h1M56 49.5h1M55 50.5h1"/>
<path stroke="#53c8ea" d="M2 23.5h4M57 23.5h6M2 24.5h1M62 24.5h2M2 25.5h1M63 25.5h1M2 26.5h1M63 26.5h1M2 27.5h1M63 27.5h1M2 28.5h1M62 28.5h1M3 29.5h1M62 29.5h1M3 30.5h1M62 30.5h1M4 31.5h1M61 31.5h1M4 32.5h1M61 32.5h1M4 33.5h1M61 33.5h1M4 34.5h1M61 34.5h1M4 35.5h1M61 35.5h1M4 36.5h1M61 36.5h1M3 37.5h1M62 37.5h1M3 38.5h1M62 38.5h1M3 39.5h1M62 39.5h1M3 40.5h1M62 40.5h1M3 41.5h1M61 41.5h1M4 42.5h1M61 42.5h1M4 43.5h1M60 43.5h1M4 44.5h2M60 44.5h1M5 45.5h1M59 45.5h2M6 46.5h1M59 46.5h1M58 47.5h1"/>
<path stroke="#69cadf" d="M63 23.5h1M1 26.5h1M64 26.5h1M1 27.5h1M64 27.5h1M63 28.5h1M2 29.5h1M63 29.5h1M2 30.5h1M63 30.5h1M3 31.5h1M62 31.5h1M3 32.5h1M62 32.5h1M3 33.5h1M62 33.5h1M3 34.5h1M62 34.5h1M3 35.5h1M62 35.5h1M3 36.5h1M62 36.5h1M2 37.5h1M63 37.5h1M2 38.5h1M63 38.5h1M2 39.5h1M63 39.5h1M2 40.5h1M63 40.5h1M2 41.5h1M62 41.5h1M2 42.5h2M62 42.5h1M3 43.5h1M61 43.5h2M61 44.5h1"/>
<path stroke="#6fcad3" d="M1 28.5h1M64 28.5h1M1 29.5h1M64 29.5h1M64 30.5h1M2 31.5h1M63 31.5h1M2 32.5h1M63 32.5h1M2 33.5h1M63 33.5h1M2 34.5h1M63 34.5h1M2 35.5h1M63 35.5h1M2 36.5h1M63 36.5h1M1 37.5h1M64 37.5h1M1 38.5h1M64 38.5h1M1 39.5h1M64 39.5h1M63 41.5h1M63 42.5h1"/>
<path stroke="#71c9c7" d="M0 29.5h1M65 29.5h1M0 30.5h2M65 30.5h1M1 31.5h1M64 31.5h2M1 32.5h1M64 32.5h2M1 33.5h1M64 33.5h1M1 34.5h1M64 34.5h2M1 35.5h1M64 35.5h2M1 36.5h1M64 36.5h1"/>
<path stroke="#74c8bb" d="M0 31.5h1M0 32.5h1M0 33.5h1M65 33.5h1M0 34.5h1M0 35.5h1"/>
</g>
<rect x="-142.5" y="-41.63" width="285" height="183.53" fill="url(#gp)"/>
<path fill="none" stroke="#3c4650" stroke-width="0.95" stroke-opacity="0.8" d="M-34.55 18.08 -34.75 18.12 -38.86 19.16 -43.18 21.16 -45.1 22.39 -47.5 25.18 -48.17 26.66 -48.25 30.93 -49.16 35.2 -47.74 39.46 -47.5 39.87 -45.22 43.73 -43.18 46.39 -41.95 48 -38.86 51.42 -38.09 52.27 -34.55 55.77 -33.73 56.54 -30.23 59.71 -28.38 60.8 -25.91 62.35 -21.59 63.56 -17.27 63.91 -12.95 63.65 -8.64 63.12 -4.32 62.58 0 62.05 4.32 61.65 8.64 61.73 12.95 62 17.27 61.74 21.59 60.96 22.06 60.8 25.91 59.54 30.23 57.08 30.89 56.54 34.55 53.43 35.86 52.27 38.86 49.28 40.15 48 43.18 44.25 43.61 43.73 45.72 39.46 45.5 35.2 43.18 32.96 40.32 30.93 38.86 30.13 34.55 28.4 30.23 26.85 29.64 26.66 25.91 25.54 21.59 24.39 17.27 23.38 12.95 22.48 12.44 22.39 8.64 21.75 4.32 21.02 0 20.31 -4.32 19.69 -8.64 19.12 -12.95 18.57 -16.8 18.12 -17.27 18.07 -21.59 17.73 -25.91 17.59 -30.23 17.67 -34.55 18.08M-51.82 4.93 -53.71 5.32 -56.14 5.93 -60.45 7.43 -64.77 9.3 -65.31 9.59 -67.95 13.85 -67.04 18.12 -66.16 22.39 -66.55 26.66 -68.47 30.93 -68.59 35.2 -66.43 39.46 -64.77 41.96 -63.59 43.73 -60.45 47.78 -60.28 48 -56.66 52.27 -56.14 52.87 -52.85 56.54 -51.82 57.72 -48.98 60.8 -47.5 62.56 -45.22 65.07 -43.18 67.58 -41.66 69.34 -38.86 72.69 -38.06 73.61 -34.55 77.58 -34.26 77.88 -30.23 81.67 -29.4 82.15 -25.91 83.87 -21.59 85.24 -17.27 86.23 -15.99 86.41 -12.95 86.83 -8.64 86.68 -6.79 86.41 -4.32 86.01 0 85.5 4.32 85.59 8.64 85.82 12.95 85.63 17.27 84.8 21.59 83.48 24.89 82.15 25.91 81.67 30.23 78.84 31.15 77.88 34.55 73.92 34.79 73.61 38.17 69.34 38.86 68.6 41.8 65.07 43.18 63.74 45.98 60.8 47.5 59.37 50.39 56.54 51.82 55.17 54.79 52.27 56.14 50.92 59.03 48 60.45 46.43 62.92 43.73 64.77 41.26 66.14 39.46 68.15 35.2 67.41 30.93 64.77 27.32 64.25 26.66 62.19 22.39 61.39 18.12 60.45 16.97 56.14 14.71 53.62 13.85 51.82 13.29 47.5 12.05 43.18 10.92 38.86 9.89 37.48 9.59 34.55 8.98 30.23 8.17 25.91 7.43 21.59 6.75 17.27 6.15 12.95 5.61 10.3 5.32 8.64 5.14 4.32 4.75 0 4.42 -4.32 4.15 -8.64 3.93 -12.95 3.78 -17.27 3.68 -21.59 3.64 -25.91 3.67 -30.23 3.74 -34.55 3.82 -38.86 3.92 -43.18 4.08 -47.5 4.37 -51.82 4.93M-64.77 -7.91 -67.65 -7.49 -69.09 -7.24 -73.41 -6.19 -77.73 -4.88 -82.05 -3.47 -82.63 -3.22 -85.8 1.05 -85.11 5.32 -83.63 9.59 -82.25 13.85 -82.05 15.13 -81.53 18.12 -82.05 22.39 -82.05 22.39 -83.91 26.66 -85.6 30.93 -85.22 35.2 -82.83 39.46 -82.05 40.61 -79.9 43.73 -77.73 46.62 -76.67 48 -73.41 52.24 -73.38 52.27 -70.21 56.54 -69.09 58.24 -67.31 60.8 -64.77 64.69 -64.51 65.07 -61.66 69.34 -60.45 71.12 -58.71 73.61 -56.14 77.18 -55.62 77.88 -52.32 82.15 -51.82 82.77 -48.81 86.41 -47.5 87.93 -45.06 90.68 -43.18 92.71 -41.03 94.95 -38.86 97 -35.53 99.22 -34.55 99.79 -30.23 101.5 -25.91 102.55 -21.59 103.11 -17.27 103.29 -12.95 103.22 -8.64 103.03 -4.32 102.84 0 102.71 4.32 102.72 8.64 102.84 12.95 103.02 17.27 103.08 21.59 102.9 25.91 102.32 30.23 101.21 34.55 99.4 34.85 99.22 38.86 96.31 40.2 94.95 43.18 91.56 43.93 90.68 47.35 86.41 47.5 86.22 50.51 82.15 51.82 80.28 53.46 77.88 56.14 73.75 56.23 73.61 58.82 69.34 60.45 66.67 61.4 65.07 64.05 60.8 64.77 59.88 67.15 56.54 69.09 54.38 70.86 52.27 73.41 49.58 74.85 48 77.73 44.91 78.81 43.73 82.05 39.77 82.3 39.46 84.83 35.2 85.29 30.93 83.61 26.66 82.05 23.75 81.28 22.39 79.66 18.12 79.46 13.85 80.03 9.59 80.05 5.32 77.73 2.2 75.23 1.05 73.41 0.5 69.09 -0.71 64.77 -1.8 60.45 -2.8 58.46 -3.22 56.14 -3.68 51.82 -4.47 47.5 -5.19 43.18 -5.84 38.86 -6.44 34.55 -6.98 30.23 -7.47 30.06 -7.49 25.91 -7.9 21.59 -8.29 17.27 -8.65 12.95 -8.97 8.64 -9.25 4.32 -9.5 0 -9.71 -4.32 -9.88 -8.64 -10.02 -12.95 -10.12 -17.27 -10.18 -21.59 -10.2 -25.91 -10.19 -30.23 -10.13 -34.55 -10.03 -38.86 -9.88 -43.18 -9.69 -47.5 -9.44 -51.82 -9.14 -56.14 -8.79 -60.45 -8.38 -64.77 -7.91M-73.41 -20.69 -77.06 -20.29 -77.73 -20.22 -82.05 -19.66 -86.36 -18.96 -90.68 -17.99 -95 -16.83 -98.14 -16.02 -99.32 -15.59 -102.47 -11.75 -102.21 -7.49 -101.04 -3.22 -99.45 1.05 -99.32 1.4 -97.81 5.32 -96.47 9.59 -95.79 13.85 -96.31 18.12 -97.99 22.39 -99.32 25.16 -100.01 26.66 -101.14 30.93 -100.59 35.2 -99.32 37.44 -98.17 39.46 -95.3 43.73 -95 44.18 -92.38 48 -90.68 50.74 -89.7 52.27 -87.24 56.54 -86.36 58.1 -84.81 60.8 -82.34 65.07 -82.05 65.56 -79.74 69.34 -77.73 72.49 -77 73.61 -74.07 77.88 -73.41 78.79 -70.95 82.15 -69.09 84.55 -67.64 86.41 -64.77 89.91 -64.13 90.68 -60.45 94.89 -60.4 94.95 -56.43 99.22 -56.14 99.51 -52.21 103.49 -51.82 103.86 -47.66 107.75 -47.5 107.9 -43.18 111.6 -42.6 112.02 -38.86 114.66 -35.68 116.29 -34.55 116.85 -30.23 118.12 -25.91 118.8 -21.59 119.28 -17.27 119.84 -12.95 120.35 -8.64 120.16 -4.32 119.62 0 119.33 4.32 119.6 8.64 120.15 12.95 120.34 17.27 119.83 21.59 119.29 25.91 118.86 30.23 118.25 34.55 117.03 36.06 116.29 38.86 114.85 42.82 112.02 43.18 111.75 47.5 107.94 47.7 107.75 51.82 103.76 52.09 103.49 56.13 99.22 56.14 99.22 59.89 94.95 60.45 94.27 63.41 90.68 64.77 88.92 66.7 86.41 69.09 83.1 69.78 82.15 72.61 77.88 73.41 76.58 75.22 73.61 77.65 69.34 77.73 69.19 79.87 65.07 82.04 60.8 82.05 60.8 84.27 56.54 86.36 52.87 86.69 52.27 89.82 48 90.68 47.02 93.46 43.73 95 41.86 96.96 39.46 99.32 35.72 99.65 35.2 100.5 30.93 99.77 26.66 99.32 25.44 98.11 22.39 96.36 18.12 95.13 13.85 95.09 9.59 95.87 5.32 96.98 1.05 97.91 -3.22 98.05 -7.49 95.31 -11.75 95 -11.92 90.68 -13.15 86.36 -14.23 82.05 -15.2 78.03 -16.02 77.73 -16.08 73.41 -16.86 69.09 -17.56 64.77 -18.19 60.45 -18.77 56.14 -19.3 51.82 -19.77 47.5 -20.2 46.44 -20.29 43.18 -20.57 38.86 -20.91 34.55 -21.22 30.23 -21.49 25.91 -21.74 21.59 -21.96 17.27 -22.15 12.95 -22.33 8.64 -22.48 4.32 -22.61 0 -22.72 -4.32 -22.81 -8.64 -22.88 -12.95 -22.93 -17.27 -22.96 -21.59 -22.96 -25.91 -22.95 -30.23 -22.91 -34.55 -22.84 -38.86 -22.75 -43.18 -22.63 -47.5 -22.47 -51.82 -22.28 -56.14 -22.05 -60.45 -21.78 -64.77 -21.47 -69.09 -21.1 -73.41 -20.69M-82.05 -33.16 -82.77 -33.1 -86.36 -32.79 -90.68 -32.38 -95 -31.91 -99.32 -31.38 -103.64 -30.78 -107.95 -30.01 -112.27 -29.04 -113.25 -28.83 -116.59 -27.65 -118.81 -24.56 -118.87 -20.29 -117.98 -16.02 -116.66 -11.75 -116.59 -11.56 -115.08 -7.49 -113.38 -3.22 -112.27 -0.41 -111.7 1.05 -110.33 5.32 -109.64 9.59 -110.13 13.85 -111.67 18.12 -112.27 19.49 -113.52 22.39 -115.07 26.66 -115.95 30.93 -115.44 35.2 -113.14 39.46 -112.27 40.89 -110.52 43.73 -108.17 48 -107.95 48.43 -105.95 52.27 -103.71 56.54 -103.64 56.66 -101.29 60.8 -99.32 64.09 -98.73 65.07 -95.91 69.34 -95 70.57 -92.81 73.61 -90.68 76.36 -89.53 77.88 -86.36 81.79 -86.08 82.15 -82.52 86.41 -82.05 86.96 -78.83 90.68 -77.73 91.92 -75.02 94.95 -73.41 96.69 -71.06 99.22 -69.09 101.26 -66.95 103.49 -64.77 105.67 -62.69 107.75 -60.45 109.91 -58.25 112.02 -56.14 113.98 -53.6 116.29 -51.82 117.88 -48.7 120.56 -47.5 121.59 -43.47 124.83 -43.18 125.06 -38.86 128.26 -37.35 129.1 -34.55 130.72 -30.23 132.75 -28.72 133.36 -25.91 134.4 -21.59 135.39 -17.27 135.9 -12.95 136.04 -8.64 135.88 -4.32 135.53 0 135.31 4.32 135.54 8.64 135.91 12.95 136.09 17.27 135.97 21.59 135.47 25.91 134.48 28.92 133.36 30.23 132.82 34.55 130.78 37.45 129.1 38.86 128.32 43.18 125.07 43.47 124.83 47.5 121.51 48.58 120.56 51.82 117.69 53.34 116.29 56.14 113.67 57.86 112.02 60.45 109.45 62.16 107.75 64.77 105.05 66.29 103.49 69.09 100.47 70.26 99.22 73.41 95.7 74.08 94.95 77.73 90.74 77.78 90.68 81.38 86.41 82.05 85.59 84.85 82.15 86.36 80.2 88.19 77.88 90.68 74.5 91.36 73.61 94.23 69.34 95 68.05 96.79 65.07 99.16 60.8 99.32 60.48 101.26 56.54 103.26 52.27 103.64 51.52 105.37 48 107.95 43.77 107.97 43.73 111.2 39.46 112.27 37.72 113.81 35.2 114.7 30.93 114.33 26.66 113.37 22.39 112.27 18.67 112.1 18.12 110.79 13.85 109.9 9.59 110.05 5.32 111.01 1.05 112.27 -2.99 112.34 -3.22 113.68 -7.49 114.84 -11.75 115.66 -16.02 115.81 -20.29 113.8 -24.56 112.27 -25.47 107.95 -26.67 103.64 -27.63 99.32 -28.5 97.54 -28.83 95 -29.27 90.68 -29.96 86.36 -30.58 82.05 -31.14 77.73 -31.64 73.41 -32.11 69.09 -32.54 64.77 -32.93 62.88 -33.1 60.45 -33.31 56.14 -33.66 51.82 -33.99 47.5 -34.29 43.18 -34.57 38.86 -34.82 34.55 -35.05 30.23 -35.25 25.91 -35.43 21.59 -35.58 17.27 -35.71 12.95 -35.82 8.64 -35.9 4.32 -35.97 0 -36.01 -4.32 -36.03 -8.64 -36.03 -12.95 -36.01 -17.27 -35.97 -21.59 -35.91 -25.91 -35.83 -30.23 -35.73 -34.55 -35.61 -38.86 -35.47 -43.18 -35.32 -47.5 -35.15 -51.82 -34.96 -56.14 -34.76 -60.45 -34.53 -64.77 -34.3 -69.09 -34.04 -73.41 -33.77 -77.73 -33.48 -82.05 -33.16M-132.01 -41.63 -133.86 -40.95M133.86 -35.28 132.73 -37.36 129.55 -39.24 125.23 -40.4 120.91 -41.25 118.79 -41.63M-135.61 -27.1 -134.89 -24.56 -133.86 -22.17 -133.11 -20.29 -131.21 -16.02 -129.55 -12.31 -129.3 -11.75 -127.45 -7.49 -125.73 -3.22 -125.23 -1.7 -124.3 1.05 -123.59 5.32 -124.07 9.59 -125.23 13.06 -125.5 13.85 -127.27 18.12 -128.96 22.39 -129.55 24.35 -130.24 26.66 -130.78 30.93 -130.29 35.2 -129.55 36.78 -128.27 39.46 -126.11 43.73 -125.23 45.33 -123.81 48 -121.84 51.35M116.11 57.02 116.42 56.54 116.59 56.25 119.05 52.27 120.91 48.94 121.46 48 123.56 43.73 125.23 40.58 125.8 39.46 128.09 35.2 128.87 30.93 128.87 26.66 128.31 22.39 127.37 18.12 126.3 13.85 125.33 9.59 125.23 8.89 124.74 5.32 125.08 1.05 125.23 0.52 126.26 -3.22 127.72 -7.49 129.29 -11.75 129.55 -12.45 130.88 -16.02 132.39 -20.29 133.7 -24.56 133.86 -25.41 134.4 -28.3"/>
<use href="#head"/>
</g>
<g transform="translate(155.1 1829.45)">
<circle r="147.5" fill="none" stroke="#ebf2fb" stroke-width="10.4"/>
<g transform="translate(-142.5 -139.8) scale(4.3182 4.2682)" fill="none" stroke-width="1" shape-rendering="crispEdges">
<path stroke="#3c58a9" d="M2 23.5h6M2 24.5h3"/>
<path stroke="#3e5dac" d="M8 23.5h4M5 24.5h6M2 25.5h8"/>
<path stroke="#3f63af" d="M12 23.5h4M11 24.5h4M10 25.5h5M1 26.5h13M1 27.5h5M8 27.5h3"/>
<path stroke="#416bb3" d="M16 23.5h3M15 24.5h4M15 25.5h4M14 26.5h4M6 27.5h2M11 27.5h6M1 28.5h15"/>
<path stroke="#447bbd" d="M19 23.5h4M19 24.5h3M19 25.5h3M18 26.5h4M17 27.5h4M16 28.5h5M3 29.5h16M14 30.5h3"/>
<path stroke="#4787c8" d="M23 23.5h3M22 24.5h4M22 25.5h3M22 26.5h3M21 27.5h4M21 28.5h3M0 29.5h3M19 29.5h5M4 30.5h10M17 30.5h6M14 31.5h7"/>
<path stroke="#4898d5" d="M26 23.5h3M26 24.5h3M25 25.5h3M25 26.5h3M25 27.5h3M24 28.5h4M24 29.5h4M0 30.5h4M23 30.5h4M6 31.5h8M21 31.5h5M14 32.5h11M19 33.5h4"/>
<path stroke="#44a7df" d="M29 23.5h3M29 24.5h3M28 25.5h4M28 26.5h3M28 27.5h3M28 28.5h3M28 29.5h3M27 30.5h4M2 31.5h4M26 31.5h4M7 32.5h7M25 32.5h4M14 33.5h5M23 33.5h5M18 34.5h9"/>
<path stroke="#3db8ec" d="M32 23.5h3M32 24.5h3M32 25.5h3M31 26.5h3M31 27.5h3M31 28.5h3M31 29.5h3M31 30.5h3M0 31.5h2M30 31.5h4M4 32.5h3M29 32.5h4M65 32.5h1M9 33.5h5M28 33.5h5M15 34.5h3M27 34.5h5M19 35.5h11M23 36.5h6"/>
<path stroke="#39c2f0" d="M35 23.5h3M35 24.5h3M35 25.5h3M34 26.5h4M34 27.5h3M34 28.5h3M34 29.5h3M34 30.5h3M64 30.5h2M34 31.5h3M63 31.5h3M2 32.5h2M33 32.5h4M61 32.5h4M6 33.5h3M33 33.5h3M60 33.5h6M10 34.5h5M32 34.5h4M15 35.5h4M30 35.5h5M19 36.5h4M29 36.5h5M23 37.5h9M27 38.5h3"/>
<path stroke="#53c8ea" d="M38 23.5h3M38 24.5h3M38 25.5h3M38 26.5h3M37 27.5h4M37 28.5h3M37 29.5h3M64 29.5h2M37 30.5h3M62 30.5h2M37 31.5h3M61 31.5h2M0 32.5h2M37 32.5h3M59 32.5h2M4 33.5h2M36 33.5h4M58 33.5h2M7 34.5h3M36 34.5h3M57 34.5h9M12 35.5h3M35 35.5h4M57 35.5h3M16 36.5h3M34 36.5h4M20 37.5h3M32 37.5h5M23 38.5h4M30 38.5h6M26 39.5h8M32 60.5h2M32 61.5h2M31 62.5h3M31 63.5h3M31 64.5h3M32 65.5h2"/>
<path stroke="#69cadf" d="M41 23.5h3M41 24.5h3M41 25.5h3M41 26.5h3M41 27.5h3M40 28.5h4M64 28.5h1M40 29.5h4M62 29.5h2M40 30.5h4M61 30.5h1M40 31.5h3M59 31.5h2M40 32.5h3M57 32.5h2M2 33.5h2M40 33.5h3M56 33.5h2M6 34.5h1M39 34.5h4M54 34.5h3M9 35.5h3M39 35.5h3M53 35.5h4M60 35.5h3M13 36.5h3M38 36.5h4M52 36.5h6M17 37.5h3M37 37.5h4M20 38.5h3M36 38.5h4M23 39.5h3M34 39.5h5M26 40.5h11M29 41.5h7M30 42.5h5M30 43.5h6M30 44.5h7M30 45.5h7M30 46.5h6M31 47.5h5M31 48.5h4M32 49.5h2M32 50.5h2M32 51.5h1M32 55.5h1M32 56.5h2M31 57.5h4M30 58.5h5M30 59.5h5M29 60.5h3M34 60.5h1M29 61.5h3M34 61.5h1M29 62.5h2M34 62.5h1M29 63.5h2M34 63.5h2M29 64.5h2M34 64.5h2"/>
<path stroke="#6fcad3" d="M44 23.5h3M44 24.5h3M44 25.5h3M44 26.5h3M44 27.5h3M64 27.5h1M44 28.5h3M63 28.5h1M44 29.5h3M61 29.5h1M44 30.5h3M59 30.5h2M43 31.5h4M57 31.5h2M43 32.5h4M56 32.5h1M0 33.5h2M43 33.5h4M54 33.5h2M4 34.5h2M43 34.5h4M52 34.5h2M8 35.5h1M42 35.5h4M50 35.5h3M63 35.5h3M11 36.5h2M42 36.5h4M49 36.5h3M58 36.5h2M15 37.5h2M41 37.5h4M47 37.5h8M18 38.5h2M40 38.5h10M21 39.5h2M39 39.5h5M24 40.5h2M37 40.5h5M26 41.5h3M36 41.5h4M27 42.5h3M35 42.5h4M28 43.5h2M36 43.5h3M28 44.5h2M37 44.5h1M29 45.5h1M37 45.5h1M29 46.5h1M36 46.5h1M30 47.5h1M30 48.5h1M35 48.5h1M31 49.5h1M34 49.5h1M31 50.5h1M34 50.5h1M31 51.5h1M33 51.5h1M31 52.5h3M31 53.5h3M31 54.5h3M31 55.5h1M33 55.5h2M30 56.5h2M34 56.5h1M29 57.5h2M35 57.5h1M29 58.5h1M35 58.5h1M29 59.5h1M35 59.5h2M28 60.5h1M35 60.5h2M28 61.5h1M35 61.5h2M28 62.5h1M35 62.5h2M27 63.5h2M36 63.5h1M27 64.5h2M36 64.5h1"/>
<path stroke="#71c9c7" d="M47 23.5h3M47 24.5h3M47 25.5h3M47 26.5h4M64 26.5h1M47 27.5h4M63 27.5h1M47 28.5h4M61 28.5h2M47 29.5h4M59 29.5h2M47 30.5h4M57 30.5h2M47 31.5h4M55 31.5h2M47 32.5h4M53 32.5h3M47 33.5h7M3 34.5h1M47 34.5h5M6 35.5h2M46 35.5h4M10 36.5h1M46 36.5h3M60 36.5h2M13 37.5h2M45 37.5h2M55 37.5h3M16 38.5h2M50 38.5h3M20 39.5h1M44 39.5h5M22 40.5h2M42 40.5h3M24 41.5h2M40 41.5h3M26 42.5h1M39 42.5h2M27 43.5h1M39 43.5h1M38 44.5h1M28 45.5h1M37 46.5h1M29 47.5h1M36 47.5h1M30 49.5h1M35 49.5h1M30 50.5h1M34 51.5h1M34 52.5h1M34 53.5h1M30 54.5h1M34 54.5h1M30 55.5h1M35 55.5h1M29 56.5h1M35 56.5h1M28 57.5h1M36 57.5h1M28 58.5h1M36 58.5h1M27 59.5h2M37 59.5h1M27 60.5h1M37 60.5h1M27 61.5h1M37 61.5h1M26 62.5h2M37 62.5h1M26 63.5h1M37 63.5h1M26 64.5h1M37 64.5h1"/>
<path stroke="#74c8bb" d="M50 23.5h4M50 24.5h4M50 25.5h4M51 26.5h3M63 26.5h1M51 27.5h4M61 27.5h2M51 28.5h4M59 28.5h2M51 29.5h8M51 30.5h6M51 31.5h4M51 32.5h2M2 34.5h1M5 35.5h1M9 36.5h1M62 36.5h2M12 37.5h1M58 37.5h2M15 38.5h1M53 38.5h2M18 39.5h2M49 39.5h2M21 40.5h1M45 40.5h3M23 41.5h1M43 41.5h2M25 42.5h1M41 42.5h2M26 43.5h1M40 43.5h1M27 44.5h1M39 44.5h1M27 45.5h1M38 45.5h1M28 46.5h1M28 47.5h1M29 48.5h1M36 48.5h1M29 49.5h1M35 50.5h1M30 51.5h1M35 51.5h1M30 52.5h1M30 53.5h1M35 53.5h1M29 54.5h1M35 54.5h1M29 55.5h1M36 55.5h1M28 56.5h1M36 56.5h1M27 57.5h1M37 57.5h1M27 58.5h1M37 58.5h1M26 60.5h1M38 60.5h1M26 61.5h1M38 61.5h1M25 62.5h1M38 62.5h1M25 63.5h1M38 63.5h2M25 64.5h1M38 64.5h2"/>
<path stroke="#79c8ae" d="M54 23.5h4M54 24.5h4M54 25.5h5M62 25.5h2M54 26.5h9M55 27.5h6M55 28.5h4M1 34.5h1M4 35.5h1M8 36.5h1M64 36.5h1M11 37.5h1M60 37.5h1M14 38.5h1M55 38.5h2M17 39.5h1M51 39.5h2M20 40.5h1M48 40.5h2M22 41.5h1M45 41.5h2M24 42.5h1M43 42.5h2M25 43.5h1M41 43.5h2M26 44.5h1M40 44.5h1M27 46.5h1M38 46.5h1M37 47.5h1M28 48.5h1M36 49.5h1M29 50.5h1M29 51.5h1M29 52.5h1M35 52.5h1M29 53.5h1M28 54.5h1M36 54.5h1M28 55.5h1M27 56.5h1M37 56.5h1M26 57.5h1M26 58.5h1M38 58.5h1M26 59.5h1M38 59.5h1M25 60.5h1M39 60.5h1M25 61.5h1M39 61.5h1M24 62.5h1M39 62.5h1M23 63.5h2M40 63.5h1M40 64.5h1"/>
<path stroke="#7dc8a2" d="M58 23.5h6M58 24.5h6M59 25.5h3M0 34.5h1M7 36.5h1M10 37.5h1M61 37.5h2M13 38.5h1M57 38.5h2M16 39.5h1M53 39.5h2M19 40.5h1M50 40.5h1M21 41.5h1M47 41.5h2M22 42.5h2M45 42.5h2M24 43.5h1M43 43.5h1M25 44.5h1M41 44.5h1M26 45.5h1M39 45.5h1M27 47.5h1M37 48.5h1M28 49.5h1M28 50.5h1M36 50.5h1M36 51.5h1M28 52.5h1M36 52.5h1M28 53.5h1M36 53.5h1M27 54.5h1M37 54.5h1M27 55.5h1M37 55.5h1M26 56.5h1M38 56.5h1M25 57.5h1M38 57.5h1M25 58.5h1M39 58.5h1M25 59.5h1M39 59.5h1M24 60.5h1M23 61.5h2M40 61.5h1M23 62.5h1M40 62.5h2M41 63.5h2"/>
<path stroke="#82c997" d="M3 35.5h1M6 36.5h1M9 37.5h1M63 37.5h2M12 38.5h1M59 38.5h1M15 39.5h1M55 39.5h1M18 40.5h1M51 40.5h2M20 41.5h1M49 41.5h2M21 42.5h1M47 42.5h1M23 43.5h1M44 43.5h2M24 44.5h1M42 44.5h2M25 45.5h1M40 45.5h2M26 46.5h1M39 46.5h1M38 47.5h1M27 48.5h1M37 49.5h1M28 51.5h1M27 52.5h1M37 52.5h1M27 53.5h1M37 53.5h1M26 54.5h1M38 54.5h1M26 55.5h1M38 55.5h1M25 56.5h1M39 56.5h1M24 57.5h1M39 57.5h1M24 58.5h1M40 58.5h1M24 59.5h1M40 59.5h1M23 60.5h1M40 60.5h1M22 61.5h1M41 61.5h3M22 62.5h1M42 62.5h2"/>
<path stroke="#87c889" d="M2 35.5h1M5 36.5h1M8 37.5h1M11 38.5h1M60 38.5h2M14 39.5h1M56 39.5h2M17 40.5h1M53 40.5h2M19 41.5h1M51 41.5h1M48 42.5h2M22 43.5h1M46 43.5h2M23 44.5h1M44 44.5h1M24 45.5h1M42 45.5h1M25 46.5h1M40 46.5h1M26 47.5h1M39 47.5h1M26 48.5h1M38 48.5h1M27 49.5h1M27 50.5h1M37 50.5h1M27 51.5h1M37 51.5h1M26 52.5h1M26 53.5h1M38 53.5h1M25 54.5h1M25 55.5h1M39 55.5h1M24 56.5h1M40 56.5h1M23 57.5h1M40 57.5h1M23 58.5h1M41 58.5h1M22 59.5h2M41 59.5h1M22 60.5h1M41 60.5h5M21 61.5h1M44 61.5h1"/>
<path stroke="#8fc978" d="M0 35.5h2M4 36.5h1M62 38.5h2M58 39.5h2M16 40.5h1M55 40.5h1M18 41.5h1M52 41.5h2M20 42.5h1M50 42.5h2M21 43.5h1M48 43.5h1M22 44.5h1M45 44.5h2M23 45.5h1M43 45.5h2M24 46.5h1M41 46.5h2M25 47.5h1M40 47.5h1M39 48.5h1M26 49.5h1M38 49.5h1M26 50.5h1M38 50.5h1M26 51.5h1M38 51.5h1M25 52.5h1M38 52.5h1M25 53.5h1M39 53.5h1M24 54.5h1M39 54.5h1M23 55.5h2M40 55.5h1M23 56.5h1M41 56.5h1M22 57.5h1M41 57.5h1M22 58.5h1M42 58.5h2M21 59.5h1M42 59.5h5M20 60.5h2"/>
<path stroke="#9bcc68" d="M7 37.5h1M10 38.5h1M64 38.5h1M13 39.5h1M60 39.5h2M15 40.5h1M56 40.5h2M17 41.5h1M54 41.5h1M19 42.5h1M52 42.5h1M20 43.5h1M49 43.5h2M21 44.5h1M47 44.5h1M22 45.5h1M45 45.5h1M23 46.5h1M43 46.5h1M24 47.5h1M41 47.5h2M25 48.5h1M40 48.5h1M25 49.5h1M39 49.5h2M25 50.5h1M39 50.5h1M25 51.5h1M39 51.5h1M24 52.5h1M39 52.5h2M24 53.5h1M40 53.5h1M23 54.5h1M40 54.5h2M22 55.5h1M41 55.5h2M21 56.5h2M42 56.5h2M21 57.5h1M42 57.5h5M20 58.5h2M44 58.5h4M20 59.5h1"/>
<path stroke="#a4ce5b" d="M3 36.5h1M6 37.5h1M9 38.5h1M12 39.5h1M62 39.5h2M58 40.5h2M16 41.5h1M55 41.5h2M18 42.5h1M53 42.5h2M19 43.5h1M51 43.5h1M20 44.5h1M48 44.5h2M21 45.5h1M46 45.5h2M22 46.5h1M44 46.5h2M23 47.5h1M43 47.5h1M24 48.5h1M41 48.5h2M24 49.5h1M41 49.5h2M24 50.5h1M40 50.5h3M23 51.5h2M40 51.5h3M23 52.5h1M41 52.5h2M22 53.5h2M41 53.5h3M21 54.5h2M42 54.5h3M21 55.5h1M43 55.5h4M20 56.5h1M44 56.5h6M20 57.5h1M47 57.5h2M19 58.5h1M19 59.5h1"/>
<path stroke="#aace4d" d="M2 36.5h1M5 37.5h1M8 38.5h1M11 39.5h1M64 39.5h1M14 40.5h1M60 40.5h2M57 41.5h2M17 42.5h1M55 42.5h1M18 43.5h1M52 43.5h2M50 44.5h2M48 45.5h1M46 46.5h2M22 47.5h1M44 47.5h2M23 48.5h1M43 48.5h3M23 49.5h1M43 49.5h2M23 50.5h1M43 50.5h3M22 51.5h1M43 51.5h3M21 52.5h2M43 52.5h5M21 53.5h1M44 53.5h4M20 54.5h1M45 54.5h6M20 55.5h1M47 55.5h4M19 56.5h1M19 57.5h1M18 58.5h1"/>
<path stroke="#b7d23d" d="M1 36.5h1M13 40.5h1M62 40.5h2M15 41.5h1M59 41.5h2M16 42.5h1M56 42.5h2M54 43.5h2M19 44.5h1M52 44.5h2M20 45.5h1M49 45.5h3M21 46.5h1M48 46.5h2M21 47.5h1M46 47.5h3M22 48.5h1M46 48.5h3M22 49.5h1M45 49.5h4M21 50.5h2M46 50.5h4M21 51.5h1M46 51.5h5M20 52.5h1M48 52.5h4M19 53.5h2M48 53.5h5M19 54.5h1M51 54.5h1M19 55.5h1M18 56.5h1M18 57.5h1"/>
<path stroke="#c3d632" d="M4 37.5h1M7 38.5h1M10 39.5h1M12 40.5h1M14 41.5h1M61 41.5h2M58 42.5h3M17 43.5h1M56 43.5h2M18 44.5h1M54 44.5h2M19 45.5h1M52 45.5h3M20 46.5h1M50 46.5h4M20 47.5h1M49 47.5h5M21 48.5h1M49 48.5h5M21 49.5h1M49 49.5h5M20 50.5h1M50 50.5h5M19 51.5h2M51 51.5h4M19 52.5h1M52 52.5h2M18 53.5h1M18 54.5h1M18 55.5h1M17 57.5h1"/>
<path stroke="#d0da28" d="M3 37.5h1M6 38.5h1M9 39.5h1M13 41.5h1M63 41.5h1M15 42.5h1M61 42.5h3M16 43.5h1M58 43.5h5M17 44.5h1M56 44.5h5M18 45.5h1M55 45.5h5M19 46.5h1M54 46.5h5M54 47.5h5M20 48.5h1M54 48.5h4M19 49.5h2M54 49.5h3M19 50.5h1M55 50.5h1M18 51.5h1M18 52.5h1M17 53.5h1M17 54.5h1M17 55.5h1M17 56.5h1"/>
<path stroke="#dde11f" d="M8 39.5h1M11 40.5h1M14 42.5h1M15 43.5h1M61 44.5h1M17 45.5h1M60 45.5h1M18 46.5h1M59 46.5h1M19 47.5h1M19 48.5h1M18 49.5h1M18 50.5h1M17 51.5h1M17 52.5h1M16 53.5h1M16 54.5h1M16 55.5h1M16 56.5h1"/>
<path stroke="#e8e61a" d="M2 37.5h1M5 38.5h1M10 40.5h1M12 41.5h1M13 42.5h1M16 44.5h1M17 46.5h1M18 47.5h1M17 48.5h2M17 49.5h1M16 50.5h2M16 51.5h1M16 52.5h1M15 55.5h1"/>
<path stroke="#f6ec18" d="M1 37.5h1M4 38.5h1M7 39.5h1M9 40.5h1M11 41.5h1M14 43.5h1M15 44.5h1M16 45.5h1M16 46.5h1M17 47.5h1M16 48.5h1M16 49.5h1M15 50.5h1M15 51.5h1M15 52.5h1M15 53.5h1M15 54.5h1"/>
<path stroke="#f9ea0e" d="M3 38.5h1M6 39.5h1M12 42.5h1M13 43.5h1M14 44.5h1M15 45.5h1M15 46.5h1M15 47.5h2M15 48.5h1M15 49.5h1M14 50.5h1M14 51.5h1M14 52.5h1M14 53.5h1M14 54.5h1"/>
<path stroke="#ffdc01" d="M8 40.5h1M10 41.5h1M11 42.5h1M12 43.5h1M13 44.5h1M14 45.5h1M14 46.5h1M14 47.5h1M14 48.5h1M14 49.5h1M13 50.5h1M13 53.5h1"/>
<path stroke="#feca08" d="M2 38.5h1M5 39.5h1M7 40.5h1M9 41.5h1M10 42.5h1M13 45.5h1M13 46.5h1M13 47.5h1M13 48.5h1M13 49.5h1M13 51.5h1M13 52.5h1"/>
<path stroke="#fcb911" d="M1 38.5h1M4 39.5h1M8 41.5h1M11 43.5h1M12 44.5h1M12 45.5h1M12 46.5h1M12 47.5h1M12 48.5h1M12 49.5h1M12 50.5h1M12 51.5h1M12 52.5h1"/>
<path stroke="#f9ab19" d="M3 39.5h1M6 40.5h1M9 42.5h1M10 43.5h1M11 44.5h1M11 45.5h1M11 46.5h1M11 47.5h1M11 48.5h1M11 49.5h1M11 50.5h1M11 51.5h1"/>
<path stroke="#f79e1c" d="M5 40.5h1M7 41.5h1M8 42.5h1M9 43.5h1M10 44.5h1M10 45.5h1M10 46.5h1M10 47.5h1M10 48.5h1M10 49.5h1M10 50.5h1"/>
<path stroke="#f68f1f" d="M1 39.5h2M4 40.5h1M6 41.5h1M7 42.5h1M8 43.5h1M9 44.5h1M9 45.5h1M9 46.5h1M9 47.5h1M9 49.5h1"/>
<path stroke="#f47e20" d="M3 40.5h1M5 41.5h1M6 42.5h1M7 43.5h1M8 44.5h1M8 45.5h1M8 46.5h1M9 48.5h1"/>
<path stroke="#f26b21" d="M4 41.5h1M6 43.5h1M7 44.5h1M7 45.5h1M7 46.5h1M8 47.5h1M8 48.5h1"/>
<path stroke="#ef5f22" d="M2 40.5h1M3 41.5h1M5 42.5h1M5 43.5h1M6 44.5h1M6 45.5h1M6 46.5h1M7 47.5h1"/>
<path stroke="#ee5222" d="M4 42.5h1M4 43.5h1M5 44.5h1M5 45.5h1"/>
<path stroke="#ef4823" d="M2 41.5h1M2 42.5h2M3 43.5h1M4 44.5h1"/>
</g>
<rect x="-142.5" y="-41.63" width="285" height="183.53" fill="url(#gp)"/>
<path fill="none" stroke="#3c4650" stroke-width="0.95" stroke-opacity="0.8" d="M-138.18 -12.49 -134.54 -11.75 -133.86 -11.63 -129.55 -10.92 -125.23 -10.28 -120.91 -9.73 -116.59 -9.28 -112.27 -8.94 -107.95 -8.74 -103.64 -8.6 -99.32 -8.41 -95 -8.06 -90.82 -7.49 -90.68 -7.47 -86.36 -6.64 -82.05 -5.85 -77.73 -5.11 -73.41 -4.48 -69.09 -4.02 -64.77 -3.84 -60.45 -4.14 -56.14 -5.11 -51.82 -6.86 -50.62 -7.49 -47.5 -9.64 -44.94 -11.75 -43.18 -13.72 -41.37 -16.02 -39.02 -20.29 -38.86 -20.71 -37.51 -24.56 -36.51 -28.83 -35.47 -33.1 -34.55 -36.31 -34.25 -37.36 -32.82 -41.63M138.18 -19.38 133.86 -16.76 132.6 -16.02 129.55 -14.11 125.56 -11.75 125.23 -11.54 120.91 -8.91 118.47 -7.49 116.59 -6.31 112.27 -3.76 111.34 -3.22 107.95 -1.07 104.34 1.05 103.64 1.56 99.32 4.39 97.77 5.32 95 7.55 91.9 9.59 90.68 11.17 87.69 13.85 90.68 16.24 95 16.41 99.32 16.08 103.64 15.6 107.95 15.02 112.27 14.37 115.31 13.85 116.59 13.55 120.91 12.55 125.23 11.69 129.55 10.86 133.86 10.12 137.39 9.59 138.18 9.44M-138.18 1.49 -133.86 2.59 -129.55 3.93 -125.23 5.31 -125.18 5.32 -120.91 6.27 -116.59 7.45 -112.27 8.7 -108.95 9.59 -107.95 9.8 -103.64 10.81 -99.32 11.93 -95 13.02 -91.73 13.85 -90.68 14.09 -86.36 15.1 -82.05 16.13 -77.73 17.21 -74.2 18.12 -73.41 18.31 -69.09 19.33 -64.77 20.42 -60.45 21.63 -57.77 22.39 -56.14 22.82 -51.82 24.19 -47.5 25.64 -44.71 26.66 -43.18 27.22 -38.86 28.75 -34.55 30.33 -32.77 30.93 -30.23 31.77 -25.91 33.07 -21.59 34.26 -17.66 35.2 -17.27 35.35 -12.95 36.6 -8.64 37.55 -4.32 38.01 0 37.76 4.32 36.51 6.7 35.2 8.64 34.55 12.95 32.53 15.68 30.93 17.27 29.8 21.59 26.84 21.85 26.66 25.91 23.46 27.09 22.39 30.23 18.84 30.84 18.12 33.78 13.85 34.55 12.46 36.1 9.59 37.89 5.32 38.86 2.23 39.23 1.05 40.24 -3.22 40.95 -7.49 41.44 -11.75 41.77 -16.02 41.99 -20.29 42.14 -24.56 42.23 -28.83 42.26 -33.1 42.32 -37.36 42.46 -41.63M-4.32 47.77 -4.53 48 -8.17 52.27 -8.64 53.05 -9.63 56.54 -9.76 60.8 -8.69 65.07 -8.64 65.18 -5.6 69.34 -4.32 71.76 -2.4 73.61 -0.56 77.88 0 79.98 0.38 77.88 1.66 73.61 4.32 70.66 5.02 69.34 8.64 65.31 8.8 65.07 11.14 60.8 12.95 56.9 13.1 56.54 12.95 55.61 11.19 52.27 8.64 49.34 6.19 48 4.32 46.96 0 46.33 -4.32 47.77M10.75 137.63 9.61 133.36 9.17 129.1 8.79 124.83 8.64 123.4 8.27 120.56 7.96 116.29 8.06 112.02 5.95 107.75 4.32 105.14 2.6 103.49 0.21 99.22 0 98.06 -0.31 99.22 -4.32 103.45 -4.36 103.49 -8.34 107.75 -8.64 108.11 -10.91 112.02 -12.66 116.29 -12.95 120.45 -12.96 120.56 -13.4 124.83 -13.98 129.1 -14.78 133.36 -16.42 137.63M-138.18 9.14 -136.67 9.59 -133.86 10.34 -129.55 11.57 -125.23 12.88 -122.25 13.85 -120.91 14.26 -116.59 15.57 -112.27 16.92 -108.66 18.12 -107.95 18.34 -103.64 19.64 -99.32 20.97 -95.08 22.39 -95 22.41 -90.68 23.71 -86.36 25.05 -82.05 26.5 -81.58 26.66 -77.73 27.91 -73.41 29.31 -69.09 30.78 -68.69 30.93 -64.77 32.56 -60.45 34.38 -58.52 35.2 -56.14 36.61 -51.82 39.19 -51.35 39.46 -47.5 42.07 -45 43.73 -43.18 45.07 -39.07 48 -38.86 48.17 -34.55 51.48 -33.6 52.27 -30.23 55.37 -29.45 56.54 -26.83 60.8 -25.91 62.52 -24.8 65.07 -23.14 69.34 -21.59 73.36 -21.5 73.61 -20.9 77.88 -21.59 81.86 -21.66 82.15 -23.43 86.41 -25.65 90.68 -25.91 91.09 -28.34 94.95 -30.23 97.72 -31.28 99.22 -33.97 103.49 -34.55 104.78 -35.93 107.75 -37.61 112.02 -38.86 114.67 -39.93 116.29 -43.18 120.38 -43.32 120.56 -46.11 124.83 -46.63 125.69M47.26 125.06 45.07 124.83 43.18 124.63 38.86 123.9 35.4 120.56 34.55 119.47 33.04 116.29 31.49 112.02 30.23 108.3 30.05 107.75 28.38 103.49 26.08 99.22 25.91 98.93 23.69 94.95 21.59 90.92 21.46 90.68 19.07 86.41 17.27 82.4 17.2 82.15 17.27 79.18 17.31 77.88 18.47 73.61 20.64 69.34 21.59 67.82 23.39 65.07 25.91 61.39 26.44 60.8 30.23 56.79 30.67 56.54 34.55 54.41 38.86 52.29 38.91 52.27 43.18 50.28 47.5 48.36 48.32 48 51.82 46.49 56.14 44.73 58.66 43.73 60.45 42.98 64.77 41.2 69.04 39.46 69.09 39.44 73.41 37.26 77.59 35.2 77.73 35.14 82.05 33.52 86.36 31.96 89.31 30.93 90.68 30.56 95 29.43 99.32 28.31 103.64 27.2 105.79 26.66 107.95 26.16 112.27 25.17 116.59 24.19 120.91 23.22 124.7 22.39 125.23 22.28 129.55 21.39 133.86 20.55 138.18 19.77M-138.18 15 -133.86 16.2 -129.55 17.46 -127.38 18.12 -125.23 18.78 -120.91 20.13 -116.59 21.5 -113.83 22.39 -112.27 22.91 -107.95 24.34 -103.64 25.77 -100.91 26.66 -99.32 27.24 -95 28.79 -90.68 30.33 -89 30.93 -86.36 32.12 -82.05 34.07 -79.57 35.2 -77.73 36.37 -73.41 39.12 -72.86 39.46 -69.09 42.19 -66.96 43.73 -64.77 45.52 -61.73 48 -60.45 49.16 -57.01 52.27 -56.14 53.18 -52.86 56.54 -51.82 57.87 -49.41 60.8 -47.5 64.2 -46.97 65.07 -46.14 69.34 -46.92 73.61 -47.5 75.11 -48.67 77.88 -51.2 82.15 -51.82 83.01 -54.3 86.41 -56.14 88.82 -57.38 90.68 -59.12 94.95 -60.33 99.22 -60.45 99.59 -61.59 103.49 -63.4 107.75 -63.88 108.64M83.3 89.44 82.05 89.43 77.73 89.22 73.41 87.5 72.33 86.41 70.22 82.15 69.09 80.87 65.08 77.88 64.77 77.62 60.97 73.61 60.45 72.33 59.58 69.34 60.45 65.88 60.65 65.07 64.16 60.8 64.77 60.45 69.09 57.46 70.18 56.54 73.41 55.06 77.73 52.7 78.41 52.27 82.05 50.83 86.36 48.92 88.22 48 90.68 47.12 95 45.51 99.17 43.73 99.32 43.68 103.64 42.09 107.95 40.47 110.5 39.46 112.27 38.67 116.59 36.76 120.13 35.2 120.91 34.97 125.23 33.79 129.55 32.63 133.86 31.47M-138.18 20.62 -133.86 21.87 -132.13 22.39 -129.55 23.22 -125.23 24.64 -120.91 26.06 -119.08 26.66 -116.59 27.58 -112.27 29.17 -107.95 30.74 -107.44 30.93 -103.64 32.69 -99.32 34.69 -98.21 35.2 -95 37.35 -91.8 39.46 -90.68 40.33 -86.36 43.6 -86.19 43.73 -82.05 47.29 -81.21 48 -77.73 51.57 -77.01 52.27 -73.88 56.54 -73.41 57.96 -72.37 60.8 -72.88 65.07 -73.41 66.11 -75.25 69.34 -77.73 73.39 -77.83 73.61 -78.9 77.88 -78.92 82.15 -78.8 86.41 -79.28 90.68 -80.19 92.52M-138.18 26.66 -133.86 28.24 -129.55 29.8 -126.39 30.93 -125.23 31.47 -120.91 33.46 -117.08 35.2 -116.59 35.55 -112.27 38.59 -110.99 39.46 -107.95 42.07 -105.92 43.73 -103.64 46.29 -101.98 48 -99.78 52.27 -100 56.54 -100.46 60.8 -99.74 65.07 -99.32 66.55 -98.54 69.34 -98.06 73.61 -98.13 74.79"/>
<use href="#head"/>
</g>
<g transform="translate(486.1 1829.45)">
<circle r="147.5" fill="none" stroke="#ebf2fb" stroke-width="10.4"/>
<g transform="translate(-142.5 -139.8) scale(4.3182 4.2682)" fill="none" stroke-width="1" shape-rendering="crispEdges">
<path stroke="#6fcad3" d="M2 23.5h11M4 24.5h9M7 25.5h6"/>
<path stroke="#71c9c7" d="M13 23.5h5M2 24.5h2M13 24.5h5M4 25.5h3M13 25.5h5M6 26.5h13M8 27.5h11M11 28.5h8M14 29.5h4"/>
<path stroke="#74c8bb" d="M18 23.5h3M18 24.5h4M3 25.5h1M18 25.5h4M5 26.5h1M19 26.5h4M7 27.5h1M19 27.5h5M9 28.5h2M19 28.5h5M11 29.5h3M18 29.5h7M13 30.5h12M15 31.5h9M64 31.5h2M18 32.5h5M63 32.5h3M62 33.5h4"/>
<path stroke="#79c8ae" d="M21 23.5h3M22 24.5h3M2 25.5h1M22 25.5h4M4 26.5h1M23 26.5h3M6 27.5h1M24 27.5h3M7 28.5h2M24 28.5h4M9 29.5h2M25 29.5h3M11 30.5h2M25 30.5h4M64 30.5h2M13 31.5h2M24 31.5h5M63 31.5h1M15 32.5h3M23 32.5h6M61 32.5h2M17 33.5h12M60 33.5h2M20 34.5h8M59 34.5h4M22 35.5h5M24 36.5h3"/>
<path stroke="#7dc8a2" d="M24 23.5h3M25 24.5h3M26 25.5h3M3 26.5h1M26 26.5h3M5 27.5h1M27 27.5h3M28 28.5h3M8 29.5h1M28 29.5h4M65 29.5h1M10 30.5h1M29 30.5h3M63 30.5h1M12 31.5h1M29 31.5h4M61 31.5h2M14 32.5h1M29 32.5h4M60 32.5h1M15 33.5h2M29 33.5h4M58 33.5h2M17 34.5h3M28 34.5h5M57 34.5h2M63 34.5h3M19 35.5h3M27 35.5h6M57 35.5h3M21 36.5h3M27 36.5h5M23 37.5h9M25 38.5h7M26 39.5h6M28 40.5h4"/>
<path stroke="#82c997" d="M27 23.5h3M28 24.5h3M29 25.5h2M2 26.5h1M29 26.5h3M4 27.5h1M30 27.5h3M6 28.5h1M31 28.5h3M32 29.5h2M64 29.5h1M9 30.5h1M32 30.5h3M62 30.5h1M11 31.5h1M33 31.5h3M60 31.5h1M13 32.5h1M33 32.5h3M59 32.5h1M14 33.5h1M33 33.5h3M57 33.5h1M16 34.5h1M33 34.5h4M55 34.5h2M18 35.5h1M33 35.5h4M54 35.5h3M60 35.5h2M19 36.5h2M32 36.5h5M54 36.5h2M21 37.5h2M32 37.5h4M23 38.5h2M32 38.5h4M24 39.5h2M32 39.5h4M26 40.5h2M32 40.5h4M27 41.5h8M29 42.5h5"/>
<path stroke="#87c889" d="M30 23.5h3M31 24.5h2M31 25.5h3M32 26.5h3M3 27.5h1M33 27.5h3M5 28.5h1M34 28.5h2M64 28.5h1M7 29.5h1M34 29.5h3M63 29.5h1M35 30.5h3M61 30.5h1M10 31.5h1M36 31.5h2M59 31.5h1M12 32.5h1M36 32.5h3M57 32.5h2M13 33.5h1M36 33.5h3M56 33.5h1M15 34.5h1M37 34.5h3M54 34.5h1M17 35.5h1M37 35.5h3M53 35.5h1M62 35.5h1M18 36.5h1M37 36.5h3M51 36.5h3M56 36.5h3M20 37.5h1M36 37.5h4M50 37.5h3M21 38.5h2M36 38.5h4M23 39.5h1M36 39.5h3M24 40.5h2M36 40.5h3M25 41.5h2M35 41.5h3M27 42.5h2M34 42.5h3M28 43.5h7M30 44.5h3"/>
<path stroke="#8fc978" d="M33 23.5h2M33 24.5h3M34 25.5h3M1 26.5h1M35 26.5h3M36 27.5h2M4 28.5h1M36 28.5h3M6 29.5h1M37 29.5h3M62 29.5h1M8 30.5h1M38 30.5h3M60 30.5h1M9 31.5h1M38 31.5h3M58 31.5h1M11 32.5h1M39 32.5h3M56 32.5h1M39 33.5h3M55 33.5h1M14 34.5h1M40 34.5h3M53 34.5h1M16 35.5h1M40 35.5h3M51 35.5h2M63 35.5h3M17 36.5h1M40 36.5h4M49 36.5h2M59 36.5h1M19 37.5h1M40 37.5h4M47 37.5h3M53 37.5h3M20 38.5h1M40 38.5h4M45 38.5h6M22 39.5h1M39 39.5h6M23 40.5h1M39 40.5h4M24 41.5h1M38 41.5h3M25 42.5h2M37 42.5h3M26 43.5h2M35 43.5h3M28 44.5h2M33 44.5h4M29 45.5h6M31 46.5h1"/>
<path stroke="#9bcc68" d="M35 23.5h3M36 24.5h3M37 25.5h3M38 26.5h2M2 27.5h1M38 27.5h3M64 27.5h1M39 28.5h3M63 28.5h1M40 29.5h3M61 29.5h1M7 30.5h1M41 30.5h2M59 30.5h1M41 31.5h3M57 31.5h1M10 32.5h1M42 32.5h3M55 32.5h1M12 33.5h1M42 33.5h4M53 33.5h2M43 34.5h3M51 34.5h2M15 35.5h1M43 35.5h4M49 35.5h2M44 36.5h5M60 36.5h1M18 37.5h1M44 37.5h3M56 37.5h1M44 38.5h1M51 38.5h2M21 39.5h1M45 39.5h3M22 40.5h1M43 40.5h2M23 41.5h1M41 41.5h2M24 42.5h1M40 42.5h1M25 43.5h1M38 43.5h2M26 44.5h2M37 44.5h2M27 45.5h2M35 45.5h2M28 46.5h3M32 46.5h4M29 47.5h6M31 48.5h2M30 56.5h3M29 57.5h5M29 58.5h6M28 59.5h8M28 60.5h8M27 61.5h10M27 62.5h10M27 63.5h11M27 64.5h12M32 65.5h2"/>
<path stroke="#a4ce5b" d="M38 23.5h3M39 24.5h2M40 25.5h2M40 26.5h3M41 27.5h3M3 28.5h1M42 28.5h3M62 28.5h1M5 29.5h1M43 29.5h3M60 29.5h1M43 30.5h4M58 30.5h1M8 31.5h1M44 31.5h3M56 31.5h1M45 32.5h3M54 32.5h1M11 33.5h1M46 33.5h4M52 33.5h1M13 34.5h1M46 34.5h5M47 35.5h2M16 36.5h1M61 36.5h2M17 37.5h1M57 37.5h1M19 38.5h1M53 38.5h1M20 39.5h1M48 39.5h2M21 40.5h1M45 40.5h2M22 41.5h1M43 41.5h2M23 42.5h1M41 42.5h2M24 43.5h1M40 43.5h1M25 44.5h1M26 45.5h1M37 45.5h1M27 46.5h1M36 46.5h1M28 47.5h1M35 47.5h1M28 48.5h3M33 48.5h2M29 49.5h5M30 50.5h4M30 51.5h3M30 52.5h4M29 53.5h5M29 54.5h5M28 55.5h6M27 56.5h3M33 56.5h2M27 57.5h2M34 57.5h2M26 58.5h3M35 58.5h2M26 59.5h2M36 59.5h1M26 60.5h2M36 60.5h2M26 61.5h1M37 61.5h2M25 62.5h2M37 62.5h3M25 63.5h2M38 63.5h3M25 64.5h2M39 64.5h2"/>
<path stroke="#aace4d" d="M41 23.5h2M41 24.5h3M42 25.5h3M43 26.5h3M64 26.5h1M1 27.5h1M44 27.5h3M63 27.5h1M45 28.5h3M61 28.5h1M4 29.5h1M46 29.5h3M59 29.5h1M6 30.5h1M47 30.5h3M57 30.5h1M47 31.5h4M54 31.5h2M9 32.5h1M48 32.5h6M50 33.5h2M12 34.5h1M14 35.5h1M15 36.5h1M63 36.5h1M58 37.5h1M18 38.5h1M54 38.5h1M19 39.5h1M50 39.5h1M20 40.5h1M47 40.5h1M21 41.5h1M45 41.5h1M22 42.5h1M43 42.5h1M23 43.5h1M41 43.5h1M24 44.5h1M39 44.5h1M25 45.5h1M38 45.5h1M26 46.5h1M37 46.5h1M26 47.5h2M36 47.5h1M27 48.5h1M35 48.5h1M27 49.5h2M34 49.5h1M28 50.5h2M34 50.5h1M28 51.5h2M33 51.5h2M28 52.5h2M34 52.5h1M27 53.5h2M34 53.5h1M27 54.5h2M34 54.5h1M26 55.5h2M34 55.5h2M26 56.5h1M35 56.5h2M25 57.5h2M36 57.5h1M25 58.5h1M37 58.5h1M25 59.5h1M37 59.5h2M24 60.5h2M38 60.5h1M24 61.5h2M39 61.5h1M24 62.5h1M40 62.5h2M23 63.5h2M41 63.5h2"/>
<path stroke="#b7d23d" d="M43 23.5h3M44 24.5h3M45 25.5h3M46 26.5h3M63 26.5h1M47 27.5h3M61 27.5h2M2 28.5h1M48 28.5h3M60 28.5h1M49 29.5h4M57 29.5h2M5 30.5h1M50 30.5h7M7 31.5h1M51 31.5h3M10 33.5h1M13 35.5h1M64 36.5h1M16 37.5h1M59 37.5h2M17 38.5h1M55 38.5h1M18 39.5h1M51 39.5h2M19 40.5h1M48 40.5h2M20 41.5h1M46 41.5h1M21 42.5h1M44 42.5h2M22 43.5h1M42 43.5h2M23 44.5h1M40 44.5h2M24 45.5h1M39 45.5h1M25 46.5h1M38 46.5h1M25 47.5h1M26 48.5h1M36 48.5h1M26 49.5h1M35 49.5h1M26 50.5h2M26 51.5h2M26 52.5h2M26 53.5h1M35 53.5h1M25 54.5h2M35 54.5h1M24 55.5h2M36 55.5h1M24 56.5h2M37 56.5h1M24 57.5h1M37 57.5h2M23 58.5h2M38 58.5h1M23 59.5h2M39 59.5h1M23 60.5h1M39 60.5h2M23 61.5h1M40 61.5h3M22 62.5h2M42 62.5h2"/>
<path stroke="#c3d632" d="M46 23.5h3M47 24.5h3M48 25.5h3M49 26.5h3M62 26.5h1M50 27.5h4M60 27.5h1M51 28.5h4M58 28.5h2M3 29.5h1M53 29.5h4M8 32.5h1M11 34.5h1M14 36.5h1M15 37.5h1M61 37.5h1M16 38.5h1M56 38.5h2M17 39.5h1M53 39.5h1M18 40.5h1M50 40.5h1M19 41.5h1M47 41.5h2M20 42.5h1M46 42.5h1M21 43.5h1M44 43.5h1M22 44.5h1M42 44.5h1M23 45.5h1M40 45.5h1M23 46.5h2M24 47.5h1M37 47.5h1M25 48.5h1M25 49.5h1M36 49.5h1M25 50.5h1M35 50.5h1M25 51.5h1M35 51.5h1M24 52.5h2M35 52.5h1M24 53.5h2M36 53.5h1M23 54.5h2M36 54.5h1M23 55.5h1M37 55.5h1M22 56.5h2M38 56.5h1M22 57.5h2M39 57.5h1M22 58.5h1M39 58.5h2M22 59.5h1M40 59.5h1M21 60.5h2M41 60.5h3M21 61.5h2M43 61.5h2"/>
<path stroke="#d0da28" d="M49 23.5h3M50 24.5h3M51 25.5h4M63 25.5h1M52 26.5h4M61 26.5h1M54 27.5h6M1 28.5h1M55 28.5h3M4 30.5h1M6 31.5h1M9 33.5h1M12 35.5h1M13 36.5h1M14 37.5h1M62 37.5h1M15 38.5h1M58 38.5h1M16 39.5h1M54 39.5h1M17 40.5h1M51 40.5h1M18 41.5h1M49 41.5h1M19 42.5h1M47 42.5h1M20 43.5h1M45 43.5h1M21 44.5h1M43 44.5h1M22 45.5h1M41 45.5h1M22 46.5h1M39 46.5h1M23 47.5h1M38 47.5h1M23 48.5h2M37 48.5h1M24 49.5h1M23 50.5h2M36 50.5h1M23 51.5h2M36 51.5h1M23 52.5h1M36 52.5h1M22 53.5h2M37 53.5h1M22 54.5h1M37 54.5h1M21 55.5h2M38 55.5h1M21 56.5h1M39 56.5h1M21 57.5h1M40 57.5h1M21 58.5h1M41 58.5h1M20 59.5h2M41 59.5h3M20 60.5h1M44 60.5h2"/>
<path stroke="#dde11f" d="M52 23.5h4M53 24.5h5M55 25.5h5M61 25.5h2M56 26.5h5M2 29.5h1M5 31.5h1M7 32.5h1M10 34.5h1M11 35.5h1M63 37.5h1M59 38.5h1M15 39.5h1M55 39.5h1M16 40.5h1M52 40.5h1M17 41.5h1M50 41.5h1M18 42.5h1M48 42.5h1M19 43.5h1M46 43.5h1M20 44.5h1M44 44.5h1M21 45.5h1M42 45.5h1M21 46.5h1M40 46.5h1M22 47.5h1M39 47.5h1M22 48.5h1M38 48.5h1M22 49.5h2M37 49.5h1M22 50.5h1M37 50.5h1M22 51.5h1M37 51.5h1M21 52.5h2M37 52.5h1M21 53.5h1M38 53.5h1M20 54.5h2M38 54.5h2M20 55.5h1M39 55.5h2M20 56.5h1M40 56.5h2M20 57.5h1M41 57.5h2M20 58.5h1M42 58.5h3M19 59.5h1M44 59.5h3"/>
<path stroke="#e8e61a" d="M56 23.5h5M58 24.5h6M60 25.5h1M3 30.5h1M6 32.5h1M8 33.5h1M9 34.5h1M12 36.5h1M13 37.5h1M64 37.5h1M14 38.5h1M60 38.5h1M56 39.5h1M53 40.5h1M51 41.5h1M17 42.5h1M49 42.5h1M18 43.5h1M47 43.5h1M19 44.5h1M45 44.5h1M20 45.5h1M43 45.5h1M20 46.5h1M41 46.5h1M21 47.5h1M40 47.5h1M21 48.5h1M39 48.5h1M21 49.5h1M38 49.5h1M21 50.5h1M38 50.5h1M20 51.5h2M38 51.5h1M20 52.5h1M38 52.5h1M20 53.5h1M39 53.5h1M19 54.5h1M40 54.5h1M19 55.5h1M41 55.5h1M19 56.5h1M42 56.5h2M19 57.5h1M43 57.5h3M18 58.5h2M45 58.5h3"/>
<path stroke="#f6ec18" d="M61 23.5h3M1 29.5h1M4 31.5h1M7 33.5h1M10 35.5h1M11 36.5h1M12 37.5h1M13 38.5h1M61 38.5h1M14 39.5h1M57 39.5h1M15 40.5h1M54 40.5h1M16 41.5h1M52 41.5h1M50 42.5h1M48 43.5h1M18 44.5h1M46 44.5h1M19 45.5h1M44 45.5h1M19 46.5h1M42 46.5h1M20 47.5h1M41 47.5h1M20 48.5h1M40 48.5h1M20 49.5h1M39 49.5h1M19 50.5h2M39 50.5h1M19 51.5h1M39 51.5h1M19 52.5h1M39 52.5h2M18 53.5h2M40 53.5h2M18 54.5h1M41 54.5h3M18 55.5h1M42 55.5h3M18 56.5h1M44 56.5h3M18 57.5h1M46 57.5h2"/>
<path stroke="#f9ea0e" d="M0 29.5h1M2 30.5h1M5 32.5h1M8 34.5h1M9 35.5h1M10 36.5h1M11 37.5h1M12 38.5h1M62 38.5h1M13 39.5h1M58 39.5h1M14 40.5h1M55 40.5h1M15 41.5h1M53 41.5h1M16 42.5h1M51 42.5h1M17 43.5h1M49 43.5h1M17 44.5h1M47 44.5h1M18 45.5h1M45 45.5h1M43 46.5h2M19 47.5h1M42 47.5h1M19 48.5h1M41 48.5h1M19 49.5h1M40 49.5h2M18 50.5h1M40 50.5h2M18 51.5h1M40 51.5h2M17 52.5h2M41 52.5h2M17 53.5h1M42 53.5h3M17 54.5h1M44 54.5h3M17 55.5h1M45 55.5h3M17 56.5h1M47 56.5h2M17 57.5h1M48 57.5h1"/>
<path stroke="#ffdc01" d="M3 31.5h1M6 33.5h1M63 38.5h1M12 39.5h1M59 39.5h1M13 40.5h1M56 40.5h1M14 41.5h1M54 41.5h1M15 42.5h1M52 42.5h1M16 43.5h1M50 43.5h1M48 44.5h1M17 45.5h1M46 45.5h1M18 46.5h1M45 46.5h1M18 47.5h1M43 47.5h1M18 48.5h1M42 48.5h2M17 49.5h2M42 49.5h1M17 50.5h1M42 50.5h2M17 51.5h1M42 51.5h3M16 52.5h1M43 52.5h3M16 53.5h1M45 53.5h3M16 54.5h1M47 54.5h2M16 55.5h1M48 55.5h2M16 56.5h1M49 56.5h1"/>
<path stroke="#feca08" d="M1 30.5h1M4 32.5h1M7 34.5h1M8 35.5h1M9 36.5h1M10 37.5h1M11 38.5h1M64 38.5h1M60 39.5h1M12 40.5h1M57 40.5h1M13 41.5h1M55 41.5h1M14 42.5h1M53 42.5h1M15 43.5h1M51 43.5h1M16 44.5h1M49 44.5h1M16 45.5h1M47 45.5h1M17 46.5h1M46 46.5h1M17 47.5h1M44 47.5h2M16 48.5h2M44 48.5h1M16 49.5h1M43 49.5h2M16 50.5h1M44 50.5h2M15 51.5h2M45 51.5h3M15 52.5h1M46 52.5h3M15 53.5h1M48 53.5h2M15 54.5h1M49 54.5h1M15 55.5h1M50 55.5h1"/>
<path stroke="#fcb911" d="M0 30.5h1M2 31.5h1M5 33.5h1M6 34.5h1M7 35.5h1M8 36.5h1M9 37.5h1M10 38.5h1M11 39.5h1M61 39.5h1M58 40.5h1M12 41.5h1M56 41.5h1M13 42.5h1M54 42.5h1M14 43.5h1M52 43.5h1M15 44.5h1M50 44.5h1M15 45.5h1M48 45.5h1M16 46.5h1M47 46.5h1M15 47.5h2M46 47.5h1M15 48.5h1M45 48.5h2M15 49.5h1M45 49.5h3M15 50.5h1M46 50.5h3M48 51.5h2M49 52.5h2M14 53.5h1M50 53.5h1M14 54.5h1M50 54.5h2"/>
<path stroke="#f9ab19" d="M1 31.5h1M3 32.5h1M4 33.5h1M9 38.5h1M10 39.5h1M62 39.5h1M11 40.5h1M59 40.5h1M57 41.5h1M55 42.5h1M13 43.5h1M53 43.5h1M14 44.5h1M51 44.5h1M14 45.5h1M49 45.5h2M14 46.5h2M48 46.5h1M14 47.5h1M47 47.5h2M14 48.5h1M47 48.5h2M14 49.5h1M48 49.5h3M14 50.5h1M49 50.5h3M14 51.5h1M50 51.5h2M14 52.5h1M51 52.5h1M13 53.5h1M51 53.5h2"/>
<path stroke="#f79e1c" d="M0 31.5h1M2 32.5h1M5 34.5h1M6 35.5h1M7 36.5h1M8 37.5h1M9 39.5h1M63 39.5h2M10 40.5h1M60 40.5h1M11 41.5h1M58 41.5h1M12 42.5h1M56 42.5h1M12 43.5h1M54 43.5h1M13 44.5h1M52 44.5h1M13 45.5h1M51 45.5h1M13 46.5h1M49 46.5h2M13 47.5h1M49 47.5h2M13 48.5h1M49 48.5h3M13 49.5h1M51 49.5h2M13 50.5h1M52 50.5h1M13 51.5h1M52 51.5h1M13 52.5h1M52 52.5h2"/>
<path stroke="#f68f1f" d="M3 33.5h1M4 34.5h1M5 35.5h1M6 36.5h1M7 37.5h1M8 38.5h1M9 40.5h1M61 40.5h1M10 41.5h1M59 41.5h1M11 42.5h1M57 42.5h1M55 43.5h1M12 44.5h1M53 44.5h2M12 45.5h1M52 45.5h1M12 46.5h1M51 46.5h2M12 47.5h1M51 47.5h3M12 48.5h1M52 48.5h2M12 49.5h1M53 49.5h1M12 50.5h1M53 50.5h1M12 51.5h1M53 51.5h2M12 52.5h1"/>
<path stroke="#f47e20" d="M1 32.5h1M2 33.5h1M3 34.5h1M5 36.5h1M6 37.5h1M7 38.5h1M8 39.5h1M62 40.5h1M9 41.5h1M60 41.5h1M10 42.5h1M58 42.5h1M11 43.5h1M56 43.5h1M11 44.5h1M55 44.5h1M11 45.5h1M53 45.5h2M11 46.5h1M53 46.5h3M11 47.5h1M54 47.5h2M11 48.5h1M54 48.5h2M11 49.5h1M54 49.5h2M11 50.5h1M54 50.5h2M11 51.5h1"/>
<path stroke="#f26b21" d="M0 32.5h1M4 35.5h1M6 38.5h1M7 39.5h1M8 40.5h1M63 40.5h1M61 41.5h1M9 42.5h1M59 42.5h1M10 43.5h1M57 43.5h2M10 44.5h1M56 44.5h2M10 45.5h1M55 45.5h3M10 46.5h1M56 46.5h2M10 47.5h1M56 47.5h1M10 48.5h1M56 48.5h1M10 49.5h1M56 49.5h1M10 50.5h1"/>
<path stroke="#ef5f22" d="M0 33.5h2M2 34.5h1M3 35.5h1M4 36.5h1M5 37.5h1M6 39.5h1M7 40.5h1M8 41.5h1M62 41.5h2M8 42.5h1M60 42.5h2M9 43.5h1M59 43.5h2M9 44.5h1M58 44.5h2M9 45.5h1M58 45.5h1M9 46.5h1M58 46.5h1M9 47.5h1M57 47.5h2M9 48.5h1M57 48.5h1M9 49.5h1"/>
<path stroke="#ee5222" d="M1 34.5h1M2 35.5h1M3 36.5h1M4 37.5h1M5 38.5h1M6 40.5h1M7 41.5h1M62 42.5h2M8 43.5h1M61 43.5h2M8 44.5h1M60 44.5h2M8 45.5h1M59 45.5h2M8 46.5h1M59 46.5h1M8 47.5h1M8 48.5h1"/>
<path stroke="#ef4823" d="M0 34.5h1M3 37.5h1M4 38.5h1M5 39.5h1M5 40.5h1M6 41.5h1M7 42.5h1M7 43.5h1M7 44.5h1M7 45.5h1M7 46.5h1M7 47.5h1"/>
<path stroke="#ef3b23" d="M0 35.5h2M2 36.5h1M3 38.5h1M4 39.5h1M5 41.5h1M6 42.5h1M6 43.5h1M6 44.5h1M6 45.5h1M6 46.5h1"/>
<path stroke="#ee2a24" d="M1 36.5h1M2 37.5h1M3 39.5h1M4 40.5h1M4 41.5h1M5 42.5h1M5 43.5h1M5 44.5h1M5 45.5h1"/>
<path stroke="#ec2024" d="M1 37.5h1M2 38.5h1M2 39.5h1M3 40.5h1M3 41.5h1M4 42.5h1M4 43.5h1M4 44.5h1"/>
<path stroke="#ec1e24" d="M1 38.5h1M1 39.5h1M2 40.5h1M3 42.5h1M3 43.5h1"/>
<path stroke="#e81c24" d="M2 41.5h1M2 42.5h1"/>
</g>
<rect x="-142.5" y="-41.63" width="285" height="183.53" fill="url(#gp)"/>
<path fill="none" stroke="#3c4650" stroke-width="0.95" stroke-opacity="0.8" d="M-133.86 -29.35 -132.97 -28.83 -129.55 -26.95 -125.51 -24.56 -125.23 -24.4 -120.91 -22.01 -118.05 -20.29 -116.59 -19.47 -112.27 -16.99 -110.65 -16.02 -107.95 -14.52 -103.64 -11.95 -103.3 -11.75 -99.32 -9.6 -95.78 -7.49 -95 -7.05 -90.68 -4.73 -88.09 -3.22 -86.36 -2.29 -82.05 0.04 -80.24 1.05 -77.73 2.31 -73.41 4.7 -72.19 5.32 -69.09 6.8 -64.77 9.09 -63.81 9.59 -60.45 11.26 -56.14 13.59 -55.64 13.85 -51.82 15.82 -47.76 18.12 -47.5 18.27 -43.18 20.6 -40.16 22.39 -38.86 23.16 -34.55 25.66 -32.77 26.66 -30.23 28.1 -25.91 30.54 -25.09 30.93 -21.59 32.64 -17.27 34.58 -15.24 35.2 -12.95 35.68 -8.64 35.74 -6.32 35.2 -4.32 32.98 -3.53 30.93 -3.38 26.66 -4.24 22.39 -4.32 20.89 -4.49 18.12 -4.32 17.91 -0.38 13.85 0 13.12 1.4 9.59 1.66 5.32 0.98 1.05 0 -1.96 -0.4 -3.22 -2.34 -7.49 -4.32 -11.07 -4.69 -11.75 -7.45 -16.02 -8.64 -17.65 -10.55 -20.29 -12.95 -23.34 -13.91 -24.56 -17.22 -28.83 -17.27 -28.89 -20.32 -33.1 -21.59 -35.08 -23.04 -37.36 -25.27 -41.63M138.18 -14.93 133.86 -12.3 132.92 -11.75 129.55 -9.58 125.93 -7.49 125.23 -7.02 120.91 -4.38 118.83 -3.22 116.59 -1.74 112.27 0.78 111.79 1.05 107.95 3.84 105.52 5.32 103.64 7.29 100.61 9.59 103.64 13.58 107.95 12.98 112.27 12.31 116.59 11.66 120.91 10.96 125.23 10.22 128.65 9.59 129.55 9.35 133.86 8.4 138.18 7.62M137.54 -25.19 136.42 -24.56 133.86 -23.16 129.55 -20.84 128.52 -20.29 125.23 -18.52 120.91 -16.2 120.58 -16.02 116.59 -13.89 112.62 -11.75 112.27 -11.56 107.95 -9.27 104.63 -7.49 103.64 -6.95 99.32 -4.73 96.41 -3.22 95 -2.49 90.68 -0.4 87.74 1.05 86.36 1.71 82.05 3.5 77.87 5.32 77.73 5.38 73.41 6.1 70.76 5.32 69.09 3.97 66.11 1.05 64.77 -0.21 61.9 -3.22 60.45 -4.69 57.91 -7.49 56.14 -9.39 54.07 -11.75 51.82 -14.29 50.35 -16.02 47.5 -19.34 46.71 -20.29 43.18 -24.51 43.14 -24.56 39.54 -28.83 38.86 -29.61 35.89 -33.1 34.55 -34.69 32.33 -37.36 30.23 -40.03 28.99 -41.63M-138.18 -24.19 -133.86 -21.66 -131.57 -20.29 -129.55 -19.1 -125.23 -16.54 -124.36 -16.02 -120.91 -14 -117.17 -11.75 -116.59 -11.41 -112.27 -8.86 -110.01 -7.49 -107.95 -6.26 -103.64 -3.64 -102.96 -3.22 -99.32 -1.01 -96 1.05 -95 1.68 -90.68 4.34 -89.13 5.32 -86.36 7.09 -82.43 9.59 -82.05 9.85 -77.73 12.66 -75.88 13.85 -73.41 15.6 -69.59 18.12 -69.09 18.52 -64.77 21.66 -63.68 22.39 -60.45 25.15 -58.42 26.66 -56.14 28.91 -53.89 30.93 -51.82 32.89 -49.3 35.2 -47.5 36.78 -44.42 39.46 -43.18 40.65 -39.81 43.73 -38.86 44.66 -35.28 48 -34.55 48.75 -30.96 52.27 -30.23 53.08 -27.12 56.54 -25.91 58.07 -23.58 60.8 -21.59 63.57 -20.24 65.07 -17.27 69.1 -17.03 69.34 -13.83 73.61 -12.95 76.01 -11.79 77.88 -11.79 82.15 -12.95 84.58 -13.43 86.41 -15.01 90.68 -17.27 94.37 -17.62 94.95 -21 99.22 -21.59 99.95 -23.98 103.49 -25.91 107.25 -26.13 107.75 -27.68 112.02 -29.08 116.29 -30.23 119.97 -30.39 120.56 -31.56 124.83 -32.6 129.1 -33.52 133.36 -33.54 134.36M36.76 133.36 34.55 132.45 30.58 129.1 30.23 128.77 26.54 124.83 25.91 124.09 23.07 120.56 21.59 118.63 19.83 116.29 17.27 112.85 16.63 112.02 13.71 107.75 12.95 106.53 10.83 103.49 8.64 101.15 6.79 99.22 4.51 94.95 4.32 94.28 2.78 90.68 1.45 86.41 0.78 82.15 0.93 77.88 2.13 73.61 4.32 71.19 5.44 69.34 8.64 66.6 10.11 65.07 12.95 62.67 15.02 60.8 17.27 58.91 19.94 56.54 21.59 55.13 24.77 52.27 25.91 51.27 29.92 48 30.23 47.72 34.55 45.22 37.9 43.73 38.86 43.24 43.18 41.09 46.74 39.46 47.5 39.01 51.82 36.5 54.16 35.2 56.14 34.38 60.45 32.68 64.77 31.09 65.2 30.93 69.09 29.77 73.41 28.68 77.73 27.65 81.88 26.66 82.05 26.61 86.36 25.45 90.68 24.43 95 23.47 99.32 22.52 99.85 22.39 103.64 21.42 107.95 20.4 112.27 19.4 116.59 18.4 117.83 18.12 120.91 17.37 125.23 16.39 129.55 15.47 133.86 14.63 138.18 13.86M133.86 -34.46 130.9 -33.1 129.55 -32.51 125.23 -30.76 120.92 -28.83 120.91 -28.82 116.59 -27.9 112.27 -28.28 110.69 -28.83 107.95 -29.98 103.64 -32.11 101.9 -33.1 99.32 -34.68 95.4 -37.36 95 -37.64 90.68 -40.78 89.57 -41.63M-138.18 -17.42 -135.88 -16.02 -133.86 -14.78 -129.55 -12.15 -128.89 -11.75 -125.23 -9.51 -121.88 -7.49 -120.91 -6.89 -116.59 -4.26 -114.88 -3.22 -112.27 -1.59 -107.99 1.05 -107.95 1.07 -103.64 3.89 -101.39 5.32 -99.32 6.79 -95.16 9.59 -95 9.71 -90.68 12.96 -89.41 13.85 -86.36 16.55 -84.37 18.12 -82.05 20.5 -80.09 22.39 -77.73 25.02 -76.19 26.66 -73.41 29.97 -72.58 30.93 -69.09 34.51 -68.41 35.2 -64.77 38.61 -63.84 39.46 -60.45 43.04 -59.79 43.73 -56.14 47.96 -56.1 48 -52.66 52.27 -51.82 53.47 -49.56 56.54 -47.5 59.91 -46.92 60.8 -44.97 65.07 -44.15 69.34 -44.47 73.61 -45.49 77.88 -47.07 82.15 -47.5 83.09 -49.01 86.41 -51.06 90.68 -51.82 92.35 -52.88 94.95 -54.04 99.22 -54.95 103.49 -55.8 107.75 -56.14 109.7 -56.52 112.02 -57.19 115.25M58.43 114.03 56.14 113.3 52.65 112.02 51.82 111.68 47.5 110.13 43.18 108.5 42.16 107.75 38.86 104.86 37.69 103.49 34.55 100.87 32.87 99.22 30.23 96.87 28.28 94.95 25.91 92.41 24.42 90.68 21.59 86.72 21.37 86.41 19.23 82.15 18.55 77.88 19.25 73.61 21.39 69.34 21.59 69.09 24.93 65.07 25.91 64.1 29.82 60.8 30.23 60.5 34.55 58.13 37.34 56.54 38.86 55.76 43.18 53.5 45.48 52.27 47.5 51.25 51.82 49.07 53.93 48 56.14 46.91 60.45 44.8 62.65 43.73 64.77 42.65 69.09 40.47 71.08 39.46 73.41 38.08 77.73 35.57 78.38 35.2 82.05 33.7 86.36 32.01 89.19 30.93 90.68 30.51 95 29.3 99.32 28.1 103.64 26.92 104.6 26.66 107.95 25.82 112.27 24.76 116.59 23.71 120.91 22.67 122.07 22.39 125.23 21.66 129.55 20.71 133.86 19.8 138.18 18.95M-138.18 -10.58 -133.86 -7.85 -133.28 -7.49 -129.55 -5.07 -126.56 -3.22 -125.23 -2.33 -120.91 0.44 -119.93 1.05 -116.59 3.44 -113.81 5.32 -112.27 6.61 -108.36 9.59 -107.95 9.98 -103.77 13.85 -103.64 14 -99.61 18.12 -99.32 18.46 -95.81 22.39 -95 23.41 -92.38 26.66 -90.68 28.85 -89.05 30.93 -86.36 33.98 -85.27 35.2 -82.05 38.5 -81.08 39.46 -77.73 43.36 -77.4 43.73 -74.14 48 -73.41 49.14 -71.32 52.27 -69.15 56.54 -69.09 56.79 -68 60.8 -68.09 65.07 -69.09 68.78 -69.25 69.34 -70.98 73.61 -72.62 77.88 -73.41 81.17 -73.6 82.15 -73.85 86.41 -74.02 90.68 -74.34 94.95 -75.09 97.56M76.07 96.59 73.41 95.76 72.06 94.95 69.09 91.53 68.46 90.68 66.25 86.41 64.77 84.87 60.45 82.34 60.08 82.15 56.14 79.92 53.08 77.88 51.82 76.72 49.11 73.61 47.67 69.34 49.07 65.07 51.82 62.48 53.25 60.8 56.14 58.9 59.27 56.54 60.45 55.87 64.77 53.31 66.41 52.27 69.09 50.87 73.41 48.54 74.37 48 77.73 46.34 82.05 44.19 82.94 43.73 86.36 41.98 90.68 39.76 91.25 39.46 95 37.3 98.69 35.2 99.32 34.95 103.64 33.33 107.95 31.75 110.25 30.93 112.27 30.38 116.59 29.23 120.91 28.1 125.23 26.96 126.39 26.66 129.55 25.93 133.86 24.97 138.18 24.05M-138.18 -2.78 -133.86 0.29 -132.72 1.05 -129.55 3.69 -127.45 5.32 -125.23 7.33 -122.74 9.59 -120.91 11.39 -118.4 13.85 -116.59 15.82 -114.45 18.12 -112.27 20.74 -110.88 22.39 -107.95 26.34 -107.71 26.66 -104.71 30.93 -103.64 32.35 -101.41 35.2 -99.32 37.66 -97.73 39.46 -95 43.16 -94.57 43.73 -92.02 48 -90.68 51.42 -90.33 52.27 -89.89 56.54 -90.68 60.55 -90.74 60.8 -91.84 65.07 -92.17 69.34 -91.95 73.61 -91.76 77.88 -92.14 80.7M95.43 77.45 95 76.98 93.09 73.61 93.34 69.34 93.34 65.07 90.68 61.09 90.39 60.8 88.62 56.54 90.68 53.19 91.14 52.27 95 49.52 96.66 48 99.32 46.63 103.64 44 104.03 43.73 107.95 41.82 112.27 39.52 112.38 39.46 116.59 37.22 120.33 35.2 120.91 35 125.23 33.64 129.55 32.28 133.78 30.93 133.86 30.91 133.89 30.9M-138.18 9.1 -137.65 9.59 -133.86 13.37 -133.38 13.85 -129.55 18.1 -129.52 18.12 -126.09 22.39 -125.23 23.61 -123.06 26.66 -120.91 30.14 -120.42 30.93 -117.8 35.2 -116.59 36.99 -114.85 39.46 -112.57 43.73 -112.27 44.92 -111.45 48 -111.52 52.27 -111.16 56.54 -110.54 60.8 -110.34 62.72"/>
<use href="#head"/>
</g>
<g transform="translate(822.2 1829.45)">
<circle r="147.5" fill="none" stroke="#ebf2fb" stroke-width="10.4"/>
<g transform="translate(-142.5 -139.8) scale(4.3182 4.2682)" fill="none" stroke-width="1" shape-rendering="crispEdges">
<path stroke="#71c9c7" d="M23 36.5h2M24 37.5h3M25 38.5h3M26 39.5h4M27 40.5h3"/>
<path stroke="#74c8bb" d="M14 30.5h2M14 31.5h5M15 32.5h6M17 33.5h6M18 34.5h7M19 35.5h7M20 36.5h3M25 36.5h3M21 37.5h3M27 37.5h3M23 38.5h2M28 38.5h3M24 39.5h2M30 39.5h2M25 40.5h2M30 40.5h3M27 41.5h6"/>
<path stroke="#79c8ae" d="M3 23.5h5M4 24.5h6M5 25.5h8M6 26.5h10M8 27.5h10M9 28.5h11M10 29.5h12M11 30.5h3M16 30.5h7M12 31.5h2M19 31.5h6M14 32.5h1M21 32.5h5M64 32.5h2M15 33.5h2M23 33.5h4M16 34.5h2M25 34.5h3M17 35.5h2M26 35.5h3M19 36.5h1M28 36.5h2M20 37.5h1M30 37.5h2M21 38.5h2M31 38.5h2M23 39.5h1M32 39.5h2M24 40.5h1M33 40.5h2M25 41.5h2M33 41.5h2M27 42.5h6"/>
<path stroke="#7dc8a2" d="M2 23.5h1M8 23.5h6M2 24.5h2M10 24.5h6M4 25.5h1M13 25.5h5M5 26.5h1M16 26.5h4M6 27.5h2M18 27.5h4M8 28.5h1M20 28.5h4M9 29.5h1M22 29.5h4M10 30.5h1M23 30.5h5M11 31.5h1M25 31.5h4M64 31.5h2M13 32.5h1M26 32.5h4M62 32.5h2M14 33.5h1M27 33.5h5M60 33.5h6M15 34.5h1M28 34.5h5M60 34.5h2M29 35.5h5M18 36.5h1M30 36.5h4M19 37.5h1M32 37.5h3M20 38.5h1M33 38.5h2M22 39.5h1M34 39.5h2M23 40.5h1M35 40.5h2M24 41.5h1M35 41.5h2M26 42.5h1M33 42.5h2M30 43.5h1"/>
<path stroke="#82c997" d="M14 23.5h4M16 24.5h4M3 25.5h1M18 25.5h3M4 26.5h1M20 26.5h3M5 27.5h1M22 27.5h3M7 28.5h1M24 28.5h3M8 29.5h1M26 29.5h3M9 30.5h1M28 30.5h3M64 30.5h2M29 31.5h3M63 31.5h1M12 32.5h1M30 32.5h3M61 32.5h1M13 33.5h1M32 33.5h3M59 33.5h1M33 34.5h3M57 34.5h3M62 34.5h2M16 35.5h1M34 35.5h3M56 35.5h3M17 36.5h1M34 36.5h3M18 37.5h1M35 37.5h3M35 38.5h3M21 39.5h1M36 39.5h3M22 40.5h1M37 40.5h2M23 41.5h1M37 41.5h1M25 42.5h1M35 42.5h2M26 43.5h4M31 43.5h3"/>
<path stroke="#87c889" d="M18 23.5h3M20 24.5h3M2 25.5h1M21 25.5h3M3 26.5h1M23 26.5h3M25 27.5h3M6 28.5h1M27 28.5h3M7 29.5h1M29 29.5h3M65 29.5h1M31 30.5h2M63 30.5h1M10 31.5h1M32 31.5h3M61 31.5h2M11 32.5h1M33 32.5h3M59 32.5h2M35 33.5h2M57 33.5h2M14 34.5h1M36 34.5h2M56 34.5h1M64 34.5h2M15 35.5h1M37 35.5h2M54 35.5h2M59 35.5h2M16 36.5h1M37 36.5h3M52 36.5h5M38 37.5h3M19 38.5h1M38 38.5h3M20 39.5h1M39 39.5h3M21 40.5h1M39 40.5h3M22 41.5h1M38 41.5h3M24 42.5h1M37 42.5h2M25 43.5h1M34 43.5h2M27 44.5h6"/>
<path stroke="#8fc978" d="M21 23.5h3M23 24.5h3M24 25.5h3M26 26.5h3M4 27.5h1M28 27.5h3M5 28.5h1M30 28.5h3M32 29.5h2M64 29.5h1M8 30.5h1M33 30.5h3M62 30.5h1M9 31.5h1M35 31.5h2M60 31.5h1M36 32.5h3M58 32.5h1M12 33.5h1M37 33.5h3M56 33.5h1M13 34.5h1M38 34.5h3M54 34.5h2M39 35.5h3M52 35.5h2M61 35.5h2M40 36.5h3M50 36.5h2M57 36.5h2M17 37.5h1M41 37.5h3M48 37.5h6M18 38.5h1M41 38.5h9M19 39.5h1M42 39.5h4M20 40.5h1M42 40.5h2M21 41.5h1M41 41.5h2M23 42.5h1M39 42.5h2M24 43.5h1M36 43.5h3M26 44.5h1M33 44.5h2"/>
<path stroke="#9bcc68" d="M24 23.5h3M26 24.5h2M27 25.5h3M2 26.5h1M29 26.5h3M3 27.5h1M31 27.5h2M33 28.5h2M6 29.5h1M34 29.5h3M63 29.5h1M36 30.5h2M61 30.5h1M37 31.5h3M59 31.5h1M10 32.5h1M39 32.5h2M57 32.5h1M11 33.5h1M40 33.5h2M55 33.5h1M41 34.5h3M53 34.5h1M14 35.5h1M42 35.5h3M51 35.5h1M63 35.5h1M15 36.5h1M43 36.5h3M48 36.5h2M59 36.5h1M16 37.5h1M44 37.5h4M54 37.5h2M17 38.5h1M50 38.5h2M18 39.5h1M46 39.5h2M19 40.5h1M44 40.5h2M43 41.5h1M22 42.5h1M41 42.5h1M39 43.5h1M25 44.5h1M35 44.5h3M27 45.5h7"/>
<path stroke="#a4ce5b" d="M27 23.5h2M28 24.5h3M30 25.5h2M32 26.5h2M33 27.5h3M4 28.5h1M35 28.5h3M64 28.5h1M37 29.5h2M62 29.5h1M7 30.5h1M38 30.5h3M60 30.5h1M8 31.5h1M40 31.5h2M58 31.5h1M41 32.5h3M56 32.5h1M42 33.5h3M54 33.5h1M12 34.5h1M44 34.5h3M52 34.5h1M45 35.5h6M64 35.5h2M46 36.5h2M60 36.5h1M56 37.5h1M52 38.5h1M48 39.5h2M46 40.5h1M20 41.5h1M44 41.5h1M21 42.5h1M42 42.5h1M23 43.5h1M40 43.5h1M24 44.5h1M38 44.5h1M26 45.5h1M34 45.5h3M28 46.5h5"/>
<path stroke="#aace4d" d="M29 23.5h3M31 24.5h2M32 25.5h3M1 26.5h1M34 26.5h3M2 27.5h1M36 27.5h2M38 28.5h2M5 29.5h1M39 29.5h3M6 30.5h1M41 30.5h2M42 31.5h3M57 31.5h1M9 32.5h1M44 32.5h2M55 32.5h1M10 33.5h1M45 33.5h3M53 33.5h1M47 34.5h5M13 35.5h1M14 36.5h1M61 36.5h1M15 37.5h1M57 37.5h1M16 38.5h1M53 38.5h1M17 39.5h1M50 39.5h1M18 40.5h1M47 40.5h1M19 41.5h1M45 41.5h1M43 42.5h1M22 43.5h1M41 43.5h1M39 44.5h1M25 45.5h1M37 45.5h1M27 46.5h1M33 46.5h3M30 47.5h2"/>
<path stroke="#b7d23d" d="M32 23.5h2M33 24.5h3M35 25.5h2M37 26.5h2M38 27.5h3M3 28.5h1M40 28.5h2M63 28.5h1M42 29.5h2M61 29.5h1M43 30.5h3M59 30.5h1M7 31.5h1M45 31.5h3M56 31.5h1M46 32.5h3M54 32.5h1M48 33.5h5M11 34.5h1M12 35.5h1M62 36.5h1M58 37.5h1M15 38.5h1M54 38.5h1M16 39.5h1M51 39.5h1M17 40.5h1M48 40.5h1M18 41.5h1M46 41.5h1M20 42.5h1M44 42.5h1M21 43.5h1M42 43.5h1M23 44.5h1M40 44.5h1M24 45.5h1M38 45.5h1M26 46.5h1M36 46.5h1M28 47.5h2M32 47.5h3"/>
<path stroke="#c3d632" d="M34 23.5h2M36 24.5h2M37 25.5h3M39 26.5h2M1 27.5h1M41 27.5h2M64 27.5h1M42 28.5h3M62 28.5h1M4 29.5h1M44 29.5h3M60 29.5h1M5 30.5h1M46 30.5h3M58 30.5h1M48 31.5h3M55 31.5h1M8 32.5h1M49 32.5h5M9 33.5h1M13 36.5h1M63 36.5h1M14 37.5h1M59 37.5h1M55 38.5h1M52 39.5h1M49 40.5h1M47 41.5h1M19 42.5h1M45 42.5h1M43 43.5h1M22 44.5h1M41 44.5h1M23 45.5h1M25 46.5h1M37 46.5h1M26 47.5h2M35 47.5h1M28 48.5h6"/>
<path stroke="#d0da28" d="M36 23.5h3M38 24.5h2M40 25.5h2M41 26.5h3M43 27.5h3M63 27.5h1M2 28.5h1M45 28.5h3M61 28.5h1M3 29.5h1M47 29.5h3M59 29.5h1M49 30.5h3M56 30.5h2M6 31.5h1M51 31.5h4M10 34.5h1M11 35.5h1M12 36.5h1M64 36.5h1M13 37.5h1M60 37.5h1M14 38.5h1M56 38.5h1M15 39.5h1M53 39.5h1M16 40.5h1M50 40.5h1M17 41.5h1M48 41.5h1M18 42.5h1M46 42.5h1M20 43.5h1M44 43.5h1M21 44.5h1M42 44.5h1M39 45.5h1M24 46.5h1M25 47.5h1M36 47.5h1M27 48.5h1M34 48.5h1M28 49.5h6M29 50.5h3M27 58.5h4M27 59.5h5M26 60.5h6M26 61.5h6M26 62.5h6M25 63.5h6M25 64.5h6"/>
<path stroke="#dde11f" d="M39 23.5h2M40 24.5h3M42 25.5h3M44 26.5h3M64 26.5h1M46 27.5h2M62 27.5h1M48 28.5h3M60 28.5h1M50 29.5h3M58 29.5h1M4 30.5h1M52 30.5h4M7 32.5h1M8 33.5h1M61 37.5h1M57 38.5h1M14 39.5h1M15 40.5h1M51 40.5h1M16 41.5h1M49 41.5h1M47 42.5h1M19 43.5h1M45 43.5h1M22 45.5h1M40 45.5h1M23 46.5h1M38 46.5h1M24 47.5h1M37 47.5h1M26 48.5h1M35 48.5h1M26 49.5h2M34 49.5h1M27 50.5h2M32 50.5h2M28 51.5h5M28 52.5h5M28 53.5h5M28 54.5h5M26 55.5h7M25 56.5h9M24 57.5h11M24 58.5h3M31 58.5h5M24 59.5h3M32 59.5h5M24 60.5h2M32 60.5h5M24 61.5h2M32 61.5h7M24 62.5h2M32 62.5h8M23 63.5h2M31 63.5h10M31 64.5h10M32 65.5h2"/>
<path stroke="#e8e61a" d="M41 23.5h3M43 24.5h2M45 25.5h2M47 26.5h2M48 27.5h3M61 27.5h1M1 28.5h1M51 28.5h3M59 28.5h1M2 29.5h1M53 29.5h5M5 31.5h1M9 34.5h1M10 35.5h1M11 36.5h1M12 37.5h1M62 37.5h1M13 38.5h1M58 38.5h1M54 39.5h1M52 40.5h1M50 41.5h1M17 42.5h1M48 42.5h1M18 43.5h1M46 43.5h1M20 44.5h1M43 44.5h1M21 45.5h1M41 45.5h1M22 46.5h1M39 46.5h1M25 48.5h1M36 48.5h1M25 49.5h1M35 49.5h1M26 50.5h1M34 50.5h1M26 51.5h2M33 51.5h2M26 52.5h2M33 52.5h1M25 53.5h3M33 53.5h1M24 54.5h4M33 54.5h2M24 55.5h2M33 55.5h2M23 56.5h2M34 56.5h2M23 57.5h1M35 57.5h2M23 58.5h1M36 58.5h2M22 59.5h2M37 59.5h1M22 60.5h2M37 60.5h2M22 61.5h2M39 61.5h2M22 62.5h2M40 62.5h3M41 63.5h2"/>
<path stroke="#f6ec18" d="M44 23.5h2M45 24.5h3M47 25.5h3M49 26.5h3M63 26.5h1M51 27.5h4M60 27.5h1M54 28.5h5M3 30.5h1M6 32.5h1M7 33.5h1M11 37.5h1M12 38.5h1M59 38.5h1M13 39.5h1M55 39.5h1M14 40.5h1M15 41.5h1M16 42.5h1M49 42.5h1M19 44.5h1M44 44.5h1M20 45.5h1M42 45.5h1M40 46.5h1M23 47.5h1M38 47.5h1M24 48.5h1M24 49.5h1M24 50.5h2M35 50.5h1M24 51.5h2M24 52.5h2M34 52.5h1M23 53.5h2M34 53.5h1M22 54.5h2M35 54.5h1M22 55.5h2M35 55.5h2M22 56.5h1M36 56.5h2M21 57.5h2M37 57.5h2M21 58.5h2M38 58.5h1M21 59.5h1M38 59.5h2M21 60.5h1M39 60.5h3M21 61.5h1M41 61.5h3M43 62.5h1"/>
<path stroke="#f9ea0e" d="M46 23.5h3M48 24.5h3M50 25.5h3M52 26.5h4M61 26.5h2M55 27.5h5M1 29.5h1M4 31.5h1M8 34.5h1M9 35.5h1M10 36.5h1M63 37.5h1M56 39.5h1M53 40.5h1M51 41.5h1M17 43.5h1M47 43.5h1M18 44.5h1M45 44.5h1M43 45.5h1M21 46.5h1M41 46.5h1M22 47.5h1M39 47.5h1M22 48.5h2M37 48.5h1M23 49.5h1M36 49.5h1M23 50.5h1M36 50.5h1M23 51.5h1M35 51.5h1M22 52.5h2M35 52.5h1M21 53.5h2M35 53.5h1M21 54.5h1M36 54.5h1M20 55.5h2M37 55.5h1M20 56.5h2M38 56.5h1M20 57.5h1M39 57.5h1M20 58.5h1M39 58.5h2M20 59.5h1M40 59.5h3M20 60.5h1M42 60.5h3M44 61.5h1"/>
<path stroke="#ffdc01" d="M49 23.5h3M51 24.5h3M53 25.5h4M63 25.5h1M56 26.5h5M2 30.5h1M5 32.5h1M6 33.5h1M7 34.5h1M8 35.5h1M9 36.5h1M10 37.5h1M64 37.5h1M11 38.5h1M60 38.5h1M12 39.5h1M57 39.5h1M13 40.5h1M54 40.5h1M14 41.5h1M52 41.5h1M15 42.5h1M50 42.5h1M16 43.5h1M48 43.5h1M46 44.5h1M19 45.5h1M44 45.5h1M20 46.5h1M42 46.5h1M21 47.5h1M40 47.5h1M21 48.5h1M38 48.5h1M22 49.5h1M37 49.5h1M21 50.5h2M21 51.5h2M36 51.5h1M20 52.5h2M36 52.5h1M20 53.5h1M36 53.5h2M19 54.5h2M37 54.5h1M19 55.5h1M38 55.5h2M19 56.5h1M39 56.5h2M19 57.5h1M40 57.5h2M19 58.5h1M41 58.5h3M19 59.5h1M43 59.5h3M45 60.5h1"/>
<path stroke="#feca08" d="M52 23.5h3M54 24.5h4M57 25.5h6M0 29.5h1M3 31.5h1M61 38.5h1M11 39.5h1M58 39.5h1M12 40.5h1M55 40.5h1M13 41.5h1M53 41.5h1M51 42.5h1M49 43.5h1M17 44.5h1M47 44.5h1M18 45.5h1M19 46.5h1M20 47.5h1M41 47.5h1M20 48.5h1M39 48.5h1M20 49.5h2M38 49.5h1M20 50.5h1M37 50.5h1M20 51.5h1M37 51.5h1M19 52.5h1M37 52.5h1M19 53.5h1M38 53.5h1M18 54.5h1M38 54.5h2M18 55.5h1M40 55.5h2M18 56.5h1M41 56.5h3M18 57.5h1M42 57.5h3M18 58.5h1M44 58.5h3M46 59.5h1"/>
<path stroke="#fcb911" d="M55 23.5h4M58 24.5h6M1 30.5h1M4 32.5h1M5 33.5h1M6 34.5h1M7 35.5h1M8 36.5h1M9 37.5h1M10 38.5h1M62 38.5h1M56 40.5h1M54 41.5h1M14 42.5h1M52 42.5h1M15 43.5h1M50 43.5h1M16 44.5h1M17 45.5h1M45 45.5h1M18 46.5h1M43 46.5h1M19 47.5h1M42 47.5h1M19 48.5h1M40 48.5h1M19 49.5h1M39 49.5h1M19 50.5h1M38 50.5h1M18 51.5h2M38 51.5h1M18 52.5h1M38 52.5h2M18 53.5h1M39 53.5h2M40 54.5h3M42 55.5h3M44 56.5h2M17 57.5h1M45 57.5h2M47 58.5h1"/>
<path stroke="#f9ab19" d="M59 23.5h5M0 30.5h1M2 31.5h1M3 32.5h1M9 38.5h1M63 38.5h1M10 39.5h1M59 39.5h1M11 40.5h1M12 41.5h1M13 42.5h1M48 44.5h1M46 45.5h1M44 46.5h1M18 47.5h1M43 47.5h1M18 48.5h1M41 48.5h1M18 49.5h1M40 49.5h1M17 50.5h2M39 50.5h2M17 51.5h1M39 51.5h2M17 52.5h1M40 52.5h2M17 53.5h1M41 53.5h4M17 54.5h1M43 54.5h4M17 55.5h1M45 55.5h2M17 56.5h1M46 56.5h2M47 57.5h2"/>
<path stroke="#f79e1c" d="M4 33.5h1M5 34.5h1M6 35.5h1M7 36.5h1M8 37.5h1M64 38.5h1M60 39.5h1M57 40.5h1M55 41.5h1M53 42.5h1M14 43.5h1M51 43.5h1M15 44.5h1M49 44.5h1M16 45.5h1M47 45.5h1M17 46.5h1M45 46.5h1M17 47.5h1M44 47.5h1M17 48.5h1M42 48.5h1M17 49.5h1M41 49.5h2M16 50.5h1M41 50.5h2M16 51.5h1M41 51.5h3M16 52.5h1M42 52.5h4M16 53.5h1M45 53.5h3M16 54.5h1M47 54.5h1M16 55.5h1M47 55.5h2M16 56.5h1M48 56.5h2"/>
<path stroke="#f68f1f" d="M1 31.5h1M2 32.5h1M7 37.5h1M8 38.5h1M9 39.5h1M61 39.5h1M10 40.5h1M58 40.5h1M11 41.5h1M56 41.5h1M12 42.5h1M54 42.5h1M13 43.5h1M52 43.5h1M14 44.5h1M50 44.5h1M15 45.5h1M48 45.5h1M16 46.5h1M46 46.5h1M16 47.5h1M45 47.5h1M16 48.5h1M43 48.5h2M15 49.5h2M43 49.5h2M15 50.5h1M43 50.5h3M15 51.5h1M44 51.5h4M15 52.5h1M46 52.5h3M15 53.5h1M48 53.5h1M15 54.5h1M48 54.5h2M15 55.5h1M49 55.5h1"/>
<path stroke="#f47e20" d="M0 31.5h1M3 33.5h1M4 34.5h1M5 35.5h1M6 36.5h1M62 39.5h1M9 40.5h1M59 40.5h1M10 41.5h1M57 41.5h1M11 42.5h1M55 42.5h1M53 43.5h1M51 44.5h1M14 45.5h1M49 45.5h1M15 46.5h1M47 46.5h1M15 47.5h1M46 47.5h1M15 48.5h1M45 48.5h2M14 49.5h1M45 49.5h2M14 50.5h1M46 50.5h3M14 51.5h1M48 51.5h2M14 52.5h1M49 52.5h1M14 53.5h1M49 53.5h2M14 54.5h1M50 54.5h1M50 55.5h1"/>
<path stroke="#f26b21" d="M1 32.5h1M2 33.5h1M3 34.5h1M4 35.5h1M5 36.5h1M6 37.5h1M7 38.5h1M8 39.5h1M63 39.5h2M60 40.5h1M58 41.5h1M56 42.5h1M12 43.5h1M54 43.5h1M13 44.5h1M52 44.5h1M50 45.5h1M14 46.5h1M48 46.5h2M14 47.5h1M47 47.5h2M13 48.5h2M47 48.5h2M13 49.5h1M47 49.5h3M13 50.5h1M49 50.5h2M13 51.5h1M50 51.5h2M50 52.5h2M13 53.5h1M51 53.5h1M51 54.5h1"/>
<path stroke="#ef5f22" d="M0 32.5h1M7 39.5h1M8 40.5h1M61 40.5h1M9 41.5h1M10 42.5h1M11 43.5h1M12 44.5h1M53 44.5h1M13 45.5h1M51 45.5h1M13 46.5h1M50 46.5h1M13 47.5h1M49 47.5h2M12 48.5h1M49 48.5h3M12 49.5h1M50 49.5h3M51 50.5h2M52 51.5h1M13 52.5h1M52 52.5h1M52 53.5h1"/>
<path stroke="#ee5222" d="M1 33.5h1M2 34.5h1M3 35.5h1M4 36.5h1M5 37.5h1M6 38.5h1M62 40.5h1M59 41.5h1M57 42.5h1M55 43.5h1M11 44.5h1M54 44.5h1M12 45.5h1M52 45.5h1M12 46.5h1M51 46.5h2M12 47.5h1M51 47.5h3M52 48.5h2M53 49.5h1M12 50.5h1M53 50.5h1M12 51.5h1M53 51.5h1M12 52.5h1M53 52.5h1"/>
<path stroke="#ef4823" d="M0 33.5h1M5 38.5h1M6 39.5h1M7 40.5h1M63 40.5h1M8 41.5h1M60 41.5h1M9 42.5h1M58 42.5h1M10 43.5h1M56 43.5h2M55 44.5h1M11 45.5h1M53 45.5h2M11 46.5h1M53 46.5h2M11 47.5h1M54 47.5h2M11 48.5h1M54 48.5h1M11 49.5h1M54 49.5h1M11 50.5h1M54 50.5h1M11 51.5h1M54 51.5h1"/>
<path stroke="#ef3b23" d="M1 34.5h1M2 35.5h1M3 36.5h1M4 37.5h1M6 40.5h1M7 41.5h1M61 41.5h1M8 42.5h1M59 42.5h2M9 43.5h1M58 43.5h1M10 44.5h1M56 44.5h2M10 45.5h1M55 45.5h2M10 46.5h1M55 46.5h2M10 47.5h1M56 47.5h1M10 48.5h1M55 48.5h1M10 49.5h1M55 49.5h1M10 50.5h1M55 50.5h1"/>
<path stroke="#ee2a24" d="M0 34.5h1M1 35.5h1M2 36.5h1M3 37.5h1M4 38.5h1M5 39.5h1M62 41.5h2M61 42.5h1M8 43.5h1M59 43.5h1M9 44.5h1M58 44.5h2M9 45.5h1M57 45.5h2M9 46.5h1M57 46.5h1M9 47.5h1M57 47.5h1M9 48.5h1M56 48.5h2M9 49.5h1M56 49.5h1"/>
<path stroke="#ec2024" d="M0 35.5h1M4 39.5h1M5 40.5h1M6 41.5h1M7 42.5h1M62 42.5h2M60 43.5h2M8 44.5h1M60 44.5h1M8 45.5h1M59 45.5h2M8 46.5h1M58 46.5h2M8 47.5h1M58 47.5h1"/>
<path stroke="#ec1e24" d="M1 36.5h1M2 37.5h1M3 38.5h1M5 41.5h1M6 42.5h1M7 43.5h1M62 43.5h1M7 44.5h1M61 44.5h1M7 45.5h1M8 48.5h1"/>
<path stroke="#e81c24" d="M1 37.5h1M2 38.5h1M3 39.5h1M4 40.5h1M5 42.5h1M6 43.5h1M6 44.5h1M6 45.5h1M7 46.5h1M7 47.5h1"/>
<path stroke="#dc1d25" d="M2 39.5h1M3 40.5h1M4 41.5h1M5 43.5h1M5 44.5h1M6 46.5h1"/>
<path stroke="#ca1f26" d="M1 38.5h1M3 41.5h1M4 42.5h1M4 43.5h1M4 44.5h1M5 45.5h1"/>
<path stroke="#bd1f25" d="M1 39.5h1M2 40.5h1M2 41.5h1M3 42.5h1M3 43.5h1"/>
<path stroke="#ad1e23" d="M2 42.5h1"/>
</g>
<rect x="-142.5" y="-41.63" width="285" height="183.53" fill="url(#gp)"/>
<path fill="none" stroke="#3c4650" stroke-width="0.95" stroke-opacity="0.8" d="M-133.86 -31.23 -130.53 -28.83 -129.55 -28.17 -125.23 -25.07 -124.58 -24.56 -120.91 -21.95 -118.8 -20.29 -116.59 -18.68 -113.18 -16.02 -112.27 -15.35 -107.95 -12.05 -107.58 -11.75 -103.64 -8.84 -101.91 -7.49 -99.32 -5.58 -96.3 -3.22 -95 -2.27 -90.71 1.05 -90.68 1.07 -86.36 4.23 -84.98 5.32 -82.05 7.47 -79.31 9.59 -77.73 10.79 -73.68 13.85 -73.41 14.08 -69.09 17.36 -68.1 18.12 -64.77 20.88 -62.79 22.39 -60.45 24.59 -57.95 26.66 -56.14 28.51 -53.6 30.93 -51.82 32.53 -48.83 35.2 -47.5 36.15 -43.18 39.24 -42.86 39.46 -38.86 41.99 -36.08 43.73 -34.55 44.64 -30.23 47.05 -28.3 48 -25.91 49.15 -21.59 50.51 -17.27 51.06 -12.95 51.07 -8.64 50.82 -4.32 50.3 0 49.48 4.32 48.37 5.59 48 8.64 47.11 12.95 45.73 17.27 44.22 18.77 43.73 21.59 42.67 25.91 41.07 30.01 39.46 30.23 39.31 34.55 35.53 35.14 35.2 35.92 30.93 35.25 26.66 34.55 24.92 33.58 22.39 31.07 18.12 30.23 17.04 27.87 13.85 25.91 11.69 24.05 9.59 21.59 7.19 19.68 5.32 17.27 3.24 14.74 1.05 12.95 -0.34 9.25 -3.22 8.64 -3.65 4.32 -6.69 3.19 -7.49 0 -9.55 -3.39 -11.75 -4.32 -12.31 -8.64 -14.9 -10.51 -16.02 -12.95 -17.39 -17.27 -19.82 -18.12 -20.29 -21.59 -22.12 -25.91 -24.41 -26.2 -24.56 -30.23 -26.63 -34.54 -28.83 -34.55 -28.83 -38.86 -31.1 -42.69 -33.1 -43.18 -33.38 -47.5 -35.82 -50.25 -37.36 -51.82 -38.39 -56.14 -41.2 -56.81 -41.63M138.18 -13.2 135.34 -11.75 133.86 -10.89 129.55 -8.62 127.21 -7.49 125.23 -6.4 120.91 -4.26 118.67 -3.22 116.59 -2.1 112.27 0.01 110 1.05 107.95 2.24 103.64 4.42 101.69 5.32 99.32 6.82 95 9.02 93.76 9.59 90.68 11.78 86.38 13.85 86.36 13.88 82.05 17.55 80.81 18.12 82.05 18.58 86.36 18.87 90.68 18.58 94.32 18.12 95 17.9 99.32 16.62 103.64 15.76 107.95 14.95 112.27 14.14 113.63 13.85 116.59 12.94 120.91 11.81 125.23 10.83 129.55 9.87 130.9 9.59 133.86 8.78 138.18 7.82M-138.18 -24.38 -133.86 -21.5 -132.13 -20.29 -129.55 -18.52 -126.03 -16.02 -125.23 -15.46 -120.91 -12.38 -120.06 -11.75 -116.59 -9.26 -114.18 -7.49 -112.27 -6.1 -108.36 -3.22 -107.95 -2.92 -103.64 0.27 -102.59 1.05 -99.32 3.54 -96.95 5.32 -95 6.89 -91.53 9.59 -90.68 10.33 -86.42 13.85 -86.36 13.91 -82.05 17.92 -81.81 18.12 -77.86 22.39 -77.73 22.54 -74.01 26.66 -73.41 27.34 -70.17 30.93 -69.09 31.94 -65.59 35.2 -64.77 35.83 -60.45 39.13 -60.02 39.46 -56.14 42.21 -53.96 43.73 -51.82 45.21 -47.68 48 -47.5 48.13 -43.18 50.99 -41.16 52.27 -38.86 53.81 -34.55 56.52 -34.53 56.54 -30.23 59.29 -27.44 60.8 -25.91 61.77 -21.59 63.82 -17.86 65.07 -17.27 65.32 -12.95 66.48 -8.64 66.92 -4.32 66.42 0 65.18 0.4 65.07 4.32 64.11 8.64 63 12.95 61.48 14.17 60.8 17.27 59.17 21.59 56.74 21.91 56.54 25.91 54.01 28.98 52.27 30.23 51.51 34.55 49.6 38.48 48 38.86 47.83 43.18 45.94 47.5 44.14 48.48 43.73 51.82 42.18 56.14 40.26 57.93 39.46 60.45 37.94 64.77 35.41 65.15 35.2 69.09 33.36 73.41 31.48 74.7 30.93 77.73 29.97 82.05 28.66 86.36 27.39 88.8 26.66 90.68 26.1 95 24.89 99.32 23.75 103.64 22.61 104.45 22.39 107.95 21.39 112.27 20.23 116.59 19.1 120.43 18.12 120.91 17.99 125.23 16.86 129.55 15.82 133.86 14.87 138.18 14.01M138.18 -22.83 133.86 -20.73 132.92 -20.29 129.55 -18.64 125.23 -16.61 123.96 -16.02 120.91 -14.58 116.59 -12.58 114.78 -11.75 112.27 -10.59 107.95 -8.62 105.44 -7.49 103.64 -6.66 99.32 -4.8 95.67 -3.22 95 -2.93 90.68 -1.31 86.36 0.21 83.42 1.05 82.05 1.43 77.73 1.5 76.21 1.05 73.41 -0.26 69.09 -2.44 67.66 -3.22 64.77 -4.72 60.45 -7.1 59.79 -7.49 56.14 -9.52 52.29 -11.75 51.82 -12.02 47.5 -14.52 44.96 -16.02 43.18 -17.04 38.86 -19.57 37.64 -20.29 34.55 -22.06 30.23 -24.55 30.2 -24.56 25.91 -26.98 22.63 -28.83 21.59 -29.42 17.27 -31.88 15.15 -33.1 12.95 -34.4 8.64 -37 8.03 -37.36 4.32 -39.79 1.53 -41.63M133.86 -29.81 131.56 -28.83 129.55 -27.99 125.23 -26.24 121.25 -24.56 120.91 -24.42 116.59 -22.86 112.27 -21.46 107.95 -20.35 103.64 -20.77 99.32 -22.07 95 -23.52 92.14 -24.56 90.68 -25.1 86.36 -26.8 82.05 -28.61 81.56 -28.83 77.73 -30.54 73.41 -32.55 72.26 -33.1 69.09 -34.61 64.77 -36.74 63.54 -37.36 60.45 -38.96 56.14 -41.27 55.47 -41.63M-138.18 -16.45 -137.56 -16.02 -133.86 -13.44 -131.48 -11.75 -129.55 -10.37 -125.53 -7.49 -125.23 -7.27 -120.91 -4.12 -119.67 -3.22 -116.59 -0.91 -113.95 1.05 -112.27 2.41 -108.56 5.32 -107.95 5.87 -103.64 9.58 -103.63 9.59 -99.37 13.85 -99.32 13.91 -95.53 18.12 -95 18.72 -91.74 22.39 -90.68 23.64 -88.09 26.66 -86.36 28.64 -84.35 30.93 -82.05 33.19 -79.97 35.2 -77.73 37.05 -74.73 39.46 -73.41 40.49 -69.13 43.73 -69.09 43.76 -64.77 47 -63.4 48 -60.45 50.28 -57.78 52.27 -56.14 53.63 -52.4 56.54 -51.82 57.08 -47.5 60.75 -47.43 60.8 -43.22 65.07 -43.18 65.14 -40.47 69.34 -39.31 73.61 -39.29 77.88 -40.5 82.15 -42.92 86.41 -43.18 86.77 -45.91 90.68 -47.5 92.97 -48.72 94.95 -50.56 99.22 -51.29 103.49 -51.74 107.75 -51.82 109.22 -51.93 112.02 -51.94 116.29 -51.94 120.44M50.09 122.27 47.5 120.77 46.98 120.56 43.18 119.19 38.86 118 35.98 116.29 34.55 115.24 31.32 112.02 30.23 110.74 27.86 107.75 25.91 105.27 24.58 103.49 21.59 100.99 19.52 99.22 17.27 97.45 14.51 94.95 12.95 92.81 11.81 90.68 10.83 86.41 10.8 82.15 11.62 77.88 12.95 75.12 13.64 73.61 17.21 69.34 17.27 69.29 21.59 65.91 22.65 65.07 25.91 62.97 29.55 60.8 30.23 60.44 34.55 58.52 38.8 56.54 38.86 56.51 43.18 54.61 47.5 52.65 48.32 52.27 51.82 50.73 56.14 48.82 57.97 48 60.45 46.91 64.77 45.03 67.75 43.73 69.09 43.1 73.41 41.05 76.77 39.46 77.73 38.89 82.05 36.34 84.01 35.2 86.36 34.15 90.68 32.31 94.02 30.93 95 30.62 99.32 29.27 103.64 27.95 107.92 26.66 107.95 26.65 112.27 25.46 116.59 24.29 120.91 23.14 123.77 22.39 125.23 22.02 129.55 20.96 133.86 19.96 138.18 19.04M-138.18 -8.48 -136.8 -7.49 -133.86 -5.25 -131.11 -3.22 -129.55 -1.97 -125.6 1.05 -125.23 1.39 -120.91 5.12 -120.67 5.32 -116.59 9.45 -116.45 9.59 -112.42 13.85 -112.27 14.01 -108.49 18.12 -107.95 18.74 -104.73 22.39 -103.64 23.72 -101.18 26.66 -99.32 28.88 -97.58 30.93 -95 33.63 -93.47 35.2 -90.68 37.66 -88.58 39.46 -86.36 41.32 -83.39 43.73 -82.05 44.87 -78.19 48 -77.73 48.45 -73.42 52.27 -73.41 52.29 -69.46 56.54 -69.09 57.23 -66.9 60.8 -66.05 65.07 -66.88 69.34 -68.89 73.61 -69.09 73.97 -71 77.88 -72.14 82.15 -72.18 86.41 -71.82 90.68 -71.34 94.95 -71.33 99.22 -71.53 101.08M69.9 102.69 69.09 102.23 65.78 99.22 64.77 97.53 63.12 94.95 61.08 90.68 60.45 90.01 56.14 87.88 51.82 86.41 51.82 86.41 47.5 84.77 43.18 82.8 41.99 82.15 38.86 79.07 38.01 77.88 37.66 73.61 38.86 70.76 39.37 69.34 43.18 65.72 43.71 65.07 47.5 62.85 50.28 60.8 51.82 60.03 56.14 57.68 58 56.54 60.45 55.37 64.77 53.2 66.49 52.27 69.09 51.09 73.41 49.08 75.58 48 77.73 47.06 82.05 45.14 85.11 43.73 86.36 43.14 90.68 41.08 94.05 39.46 95 38.91 99.32 36.45 101.52 35.2 103.64 34.33 107.95 32.62 112.27 30.96 112.35 30.93 116.59 29.69 120.91 28.44 125.23 27.21 127.18 26.66 129.55 26.06 133.86 25.02 138.18 24.02M-138.18 1.24 -133.86 5.27 -133.81 5.32 -129.55 9.44 -129.4 9.59 -125.23 13.81 -125.18 13.85 -121.19 18.12 -120.91 18.44 -117.43 22.39 -116.59 23.41 -113.93 26.66 -112.27 28.79 -110.58 30.93 -107.95 33.96 -106.85 35.2 -103.64 38.3 -102.39 39.46 -99.32 42.3 -97.7 43.73 -95 46.55 -93.48 48 -90.68 51.99 -90.46 52.27 -89.19 56.54 -89.74 60.8 -90.68 63.81 -91.01 65.07 -91.19 69.34 -90.68 72.75 -90.56 73.61 -89.55 77.88 -89.11 82.15 -89.14 83.67M89.63 83.18 88.7 82.15 87.87 77.88 88.55 73.61 88.97 69.34 86.73 65.07 86.36 64.74 82.05 60.84 82.02 60.8 82.05 60.74 83.34 56.54 86.36 54.05 88.02 52.27 90.68 50.92 95 48 95 48 99.32 46.05 103.47 43.73 103.64 43.66 107.95 41.72 112.27 39.6 112.53 39.46 116.59 37.31 120.53 35.2 120.91 35.06 125.23 33.59 129.55 32.14 133.13 30.93 133.86 30.74 134.13 30.67M-138.18 14.61 -134.73 18.12 -133.86 19.05 -130.83 22.39 -129.55 23.89 -127.24 26.66 -125.23 29.27 -123.98 30.93 -120.91 35.03 -120.78 35.2 -116.97 39.46 -116.59 39.95 -113.36 43.73 -112.27 46.15 -111.33 48 -110.94 52.27 -110.19 56.54 -108.96 60.8 -107.95 64.44 -107.78 65.07 -107.73 65.29"/>
<use href="#head"/>
</g>
<g transform="translate(154.85 2194.2)">
<circle r="147.5" fill="none" stroke="#ebf2fb" stroke-width="10.4"/>
<g transform="translate(-142.5 -139.8) scale(4.3182 4.2682)" fill="none" stroke-width="1" shape-rendering="crispEdges">
<path stroke="#4787c8" d="M2 23.5h5M25 64.5h8M32 65.5h2"/>
<path stroke="#4898d5" d="M7 23.5h7M2 24.5h12M2 25.5h12M4 26.5h9M8 27.5h4M27 62.5h7M25 63.5h10M33 64.5h3"/>
<path stroke="#44a7df" d="M14 23.5h5M14 24.5h5M14 25.5h5M1 26.5h3M13 26.5h7M3 27.5h5M12 27.5h8M6 28.5h13M9 29.5h10M12 30.5h6M29 60.5h5M27 61.5h8M25 62.5h2M34 62.5h2M23 63.5h2M35 63.5h2M36 64.5h2"/>
<path stroke="#3db8ec" d="M19 23.5h5M19 24.5h5M19 25.5h5M20 26.5h4M1 27.5h2M20 27.5h5M3 28.5h3M19 28.5h6M6 29.5h3M19 29.5h6M9 30.5h3M18 30.5h7M11 31.5h14M14 32.5h10M65 32.5h1M16 33.5h8M19 34.5h5M22 35.5h2M32 57.5h2M30 58.5h5M29 59.5h7M27 60.5h2M34 60.5h3M26 61.5h1M35 61.5h2M23 62.5h2M36 62.5h2M37 63.5h2M38 64.5h3"/>
<path stroke="#39c2f0" d="M24 23.5h4M24 24.5h4M24 25.5h4M24 26.5h5M25 27.5h4M1 28.5h2M25 28.5h5M4 29.5h2M25 29.5h5M6 30.5h3M25 30.5h5M65 30.5h1M9 31.5h2M25 31.5h5M63 31.5h3M11 32.5h3M24 32.5h6M62 32.5h3M14 33.5h2M24 33.5h6M60 33.5h6M16 34.5h3M24 34.5h6M60 34.5h3M18 35.5h4M24 35.5h5M20 36.5h10M22 37.5h8M24 38.5h7M26 39.5h5M28 40.5h3M31 46.5h3M31 47.5h4M31 48.5h4M31 49.5h3M31 50.5h3M32 51.5h2M32 52.5h2M32 53.5h2M31 54.5h3M31 55.5h4M30 56.5h5M30 57.5h2M34 57.5h2M29 58.5h1M35 58.5h2M27 59.5h2M36 59.5h2M26 60.5h1M37 60.5h1M24 61.5h2M37 61.5h2M22 62.5h1M38 62.5h2M39 63.5h3"/>
<path stroke="#53c8ea" d="M28 23.5h4M28 24.5h4M28 25.5h5M29 26.5h4M29 27.5h4M30 28.5h4M2 29.5h2M30 29.5h4M65 29.5h1M4 30.5h2M30 30.5h5M63 30.5h2M6 31.5h3M30 31.5h5M61 31.5h2M9 32.5h2M30 32.5h5M60 32.5h2M11 33.5h3M30 33.5h5M58 33.5h2M13 34.5h3M30 34.5h5M56 34.5h4M63 34.5h3M16 35.5h2M29 35.5h6M55 35.5h7M18 36.5h2M30 36.5h5M20 37.5h2M30 37.5h5M21 38.5h3M31 38.5h4M23 39.5h3M31 39.5h4M25 40.5h3M31 40.5h5M26 41.5h10M27 42.5h9M28 43.5h9M28 44.5h9M29 45.5h8M29 46.5h2M34 46.5h3M29 47.5h2M35 47.5h2M29 48.5h2M35 48.5h1M30 49.5h1M34 49.5h2M30 50.5h1M34 50.5h2M30 51.5h2M34 51.5h1M30 52.5h2M34 52.5h1M30 53.5h2M34 53.5h2M29 54.5h2M34 54.5h2M29 55.5h2M35 55.5h2M29 56.5h1M35 56.5h2M28 57.5h2M36 57.5h2M27 58.5h2M37 58.5h1M26 59.5h1M38 59.5h1M25 60.5h1M38 60.5h2M21 61.5h3M39 61.5h2M40 62.5h4M42 63.5h1"/>
<path stroke="#69cadf" d="M32 23.5h4M32 24.5h4M33 25.5h3M33 26.5h4M33 27.5h4M34 28.5h4M0 29.5h2M34 29.5h4M63 29.5h2M2 30.5h2M35 30.5h4M61 30.5h2M5 31.5h1M35 31.5h4M59 31.5h2M7 32.5h2M35 32.5h4M58 32.5h2M9 33.5h2M35 33.5h5M56 33.5h2M12 34.5h1M35 34.5h5M54 34.5h2M14 35.5h2M35 35.5h5M53 35.5h2M62 35.5h4M16 36.5h2M35 36.5h6M51 36.5h9M18 37.5h2M35 37.5h6M50 37.5h5M20 38.5h1M35 38.5h6M21 39.5h2M35 39.5h6M23 40.5h2M36 40.5h4M25 41.5h1M36 41.5h4M26 42.5h1M36 42.5h4M26 43.5h2M37 43.5h3M27 44.5h1M37 44.5h2M27 45.5h2M37 45.5h2M28 46.5h1M37 46.5h1M28 47.5h1M37 47.5h1M28 48.5h1M36 48.5h1M28 49.5h2M36 49.5h1M28 50.5h2M36 50.5h1M28 51.5h2M35 51.5h2M28 52.5h2M35 52.5h2M28 53.5h2M36 53.5h1M28 54.5h1M36 54.5h2M28 55.5h1M37 55.5h1M27 56.5h2M37 56.5h1M27 57.5h1M38 57.5h1M26 58.5h1M38 58.5h1M25 59.5h1M39 59.5h1M22 60.5h3M40 60.5h1M41 61.5h4"/>
<path stroke="#6fcad3" d="M36 23.5h3M36 24.5h4M36 25.5h4M37 26.5h4M37 27.5h5M38 28.5h4M63 28.5h2M38 29.5h5M61 29.5h2M0 30.5h2M39 30.5h4M60 30.5h1M3 31.5h2M39 31.5h5M58 31.5h1M5 32.5h2M39 32.5h5M56 32.5h2M8 33.5h1M40 33.5h5M54 33.5h2M10 34.5h2M40 34.5h5M52 34.5h2M12 35.5h2M40 35.5h6M50 35.5h3M14 36.5h2M41 36.5h10M60 36.5h2M16 37.5h2M41 37.5h9M55 37.5h3M18 38.5h2M41 38.5h12M20 39.5h1M41 39.5h8M22 40.5h1M40 40.5h6M23 41.5h2M40 41.5h4M24 42.5h2M40 42.5h3M25 43.5h1M40 43.5h2M26 44.5h1M39 44.5h2M26 45.5h1M39 45.5h1M27 46.5h1M38 46.5h2M27 47.5h1M38 47.5h1M27 48.5h1M37 48.5h2M27 49.5h1M37 49.5h1M27 50.5h1M37 50.5h1M27 51.5h1M37 51.5h1M27 52.5h1M37 52.5h2M27 53.5h1M37 53.5h2M27 54.5h1M38 54.5h1M27 55.5h1M38 55.5h1M26 56.5h1M38 56.5h2M26 57.5h1M39 57.5h1M25 58.5h1M39 58.5h2M23 59.5h2M40 59.5h2M20 60.5h2M41 60.5h5"/>
<path stroke="#71c9c7" d="M39 23.5h4M40 24.5h4M40 25.5h5M41 26.5h4M42 27.5h4M63 27.5h2M42 28.5h4M62 28.5h1M43 29.5h4M60 29.5h1M43 30.5h5M58 30.5h2M2 31.5h1M44 31.5h5M56 31.5h2M4 32.5h1M44 32.5h6M54 32.5h2M6 33.5h2M45 33.5h9M8 34.5h2M45 34.5h7M10 35.5h2M46 35.5h4M12 36.5h2M62 36.5h3M15 37.5h1M58 37.5h2M17 38.5h1M53 38.5h3M19 39.5h1M49 39.5h3M21 40.5h1M46 40.5h2M22 41.5h1M44 41.5h3M23 42.5h1M43 42.5h3M24 43.5h1M42 43.5h3M25 44.5h1M41 44.5h2M25 45.5h1M40 45.5h3M25 46.5h2M40 46.5h2M26 47.5h1M39 47.5h2M26 48.5h1M39 48.5h1M26 49.5h1M38 49.5h2M26 50.5h1M38 50.5h2M26 51.5h1M38 51.5h2M26 52.5h1M39 52.5h1M26 53.5h1M39 53.5h1M26 54.5h1M39 54.5h1M26 55.5h1M39 55.5h2M25 56.5h1M40 56.5h1M24 57.5h2M40 57.5h2M24 58.5h1M41 58.5h2M20 59.5h3M42 59.5h5"/>
<path stroke="#74c8bb" d="M43 23.5h5M44 24.5h4M45 25.5h4M45 26.5h5M64 26.5h1M46 27.5h5M62 27.5h1M46 28.5h5M60 28.5h2M47 29.5h6M58 29.5h2M48 30.5h6M55 30.5h3M0 31.5h2M49 31.5h7M2 32.5h2M50 32.5h4M5 33.5h1M7 34.5h1M9 35.5h1M11 36.5h1M13 37.5h2M60 37.5h2M15 38.5h2M56 38.5h2M18 39.5h1M52 39.5h2M20 40.5h1M48 40.5h3M21 41.5h1M47 41.5h2M22 42.5h1M46 42.5h2M23 43.5h1M45 43.5h2M23 44.5h2M43 44.5h3M24 45.5h1M43 45.5h2M24 46.5h1M42 46.5h2M25 47.5h1M41 47.5h2M25 48.5h1M40 48.5h3M25 49.5h1M40 49.5h2M25 50.5h1M40 50.5h2M25 51.5h1M40 51.5h2M25 52.5h1M40 52.5h2M25 53.5h1M40 53.5h2M25 54.5h1M40 54.5h2M24 55.5h2M41 55.5h2M24 56.5h1M41 56.5h3M23 57.5h1M42 57.5h6M21 58.5h3M43 58.5h5M19 59.5h1"/>
<path stroke="#79c8ae" d="M48 23.5h4M48 24.5h5M49 25.5h5M50 26.5h5M62 26.5h2M51 27.5h6M59 27.5h3M51 28.5h9M53 29.5h5M54 30.5h1M1 32.5h1M3 33.5h2M6 34.5h1M8 35.5h1M10 36.5h1M12 37.5h1M62 37.5h3M14 38.5h1M58 38.5h2M17 39.5h1M54 39.5h2M19 40.5h1M51 40.5h2M20 41.5h1M49 41.5h2M21 42.5h1M48 42.5h2M22 43.5h1M47 43.5h2M22 44.5h1M46 44.5h1M23 45.5h1M45 45.5h2M23 46.5h1M44 46.5h2M24 47.5h1M43 47.5h2M24 48.5h1M43 48.5h2M24 49.5h1M42 49.5h3M24 50.5h1M42 50.5h3M24 51.5h1M42 51.5h3M24 52.5h1M42 52.5h3M24 53.5h1M42 53.5h3M24 54.5h1M42 54.5h3M23 55.5h1M43 55.5h3M23 56.5h1M44 56.5h6M22 57.5h1M48 57.5h1M19 58.5h2"/>
<path stroke="#7dc8a2" d="M52 23.5h6M53 24.5h6M63 24.5h1M54 25.5h10M55 26.5h7M57 27.5h2M0 32.5h1M2 33.5h1M4 34.5h2M7 35.5h1M9 36.5h1M11 37.5h1M60 38.5h2M16 39.5h1M56 39.5h2M18 40.5h1M53 40.5h2M19 41.5h1M51 41.5h2M20 42.5h1M50 42.5h2M21 43.5h1M49 43.5h1M47 44.5h2M22 45.5h1M47 45.5h1M22 46.5h1M46 46.5h2M23 47.5h1M45 47.5h2M23 48.5h1M45 48.5h2M23 49.5h1M45 49.5h2M23 50.5h1M45 50.5h2M23 51.5h1M45 51.5h2M23 52.5h1M45 52.5h2M23 53.5h1M45 53.5h3M22 54.5h2M45 54.5h4M22 55.5h1M46 55.5h5M21 56.5h2M20 57.5h2M18 58.5h1"/>
<path stroke="#82c997" d="M58 23.5h6M59 24.5h4M1 33.5h1M3 34.5h1M6 35.5h1M8 36.5h1M10 37.5h1M13 38.5h1M62 38.5h2M15 39.5h1M58 39.5h2M17 40.5h1M55 40.5h2M18 41.5h1M53 41.5h2M19 42.5h1M52 42.5h2M20 43.5h1M50 43.5h2M21 44.5h1M49 44.5h2M21 45.5h1M48 45.5h2M48 46.5h2M22 47.5h1M47 47.5h3M22 48.5h1M47 48.5h3M22 49.5h1M47 49.5h2M22 50.5h1M47 50.5h3M22 51.5h1M47 51.5h3M22 52.5h1M47 52.5h3M22 53.5h1M48 53.5h5M21 54.5h1M49 54.5h3M21 55.5h1M20 56.5h1M17 57.5h3"/>
<path stroke="#87c889" d="M0 33.5h1M5 35.5h1M7 36.5h1M12 38.5h1M64 38.5h1M14 39.5h1M60 39.5h2M16 40.5h1M57 40.5h2M55 41.5h2M54 42.5h2M19 43.5h1M52 43.5h2M20 44.5h1M51 44.5h2M20 45.5h1M50 45.5h3M21 46.5h1M50 46.5h2M21 47.5h1M50 47.5h2M21 48.5h1M50 48.5h2M21 49.5h1M49 49.5h3M21 50.5h1M50 50.5h2M21 51.5h1M50 51.5h3M21 52.5h1M50 52.5h4M21 53.5h1M20 54.5h1M20 55.5h1M18 56.5h2"/>
<path stroke="#8fc978" d="M2 34.5h1M4 35.5h1M9 37.5h1M11 38.5h1M13 39.5h1M62 39.5h3M15 40.5h1M59 40.5h2M17 41.5h1M57 41.5h2M18 42.5h1M56 42.5h2M54 43.5h3M19 44.5h1M53 44.5h3M53 45.5h2M20 46.5h1M52 46.5h3M20 47.5h1M52 47.5h3M20 48.5h1M52 48.5h3M20 49.5h1M52 49.5h3M20 50.5h1M52 50.5h4M20 51.5h1M53 51.5h2M20 52.5h1M20 53.5h1M19 54.5h1M18 55.5h2M16 56.5h2"/>
<path stroke="#9bcc68" d="M0 34.5h2M3 35.5h1M6 36.5h1M8 37.5h1M61 40.5h3M16 41.5h1M59 41.5h2M17 42.5h1M58 42.5h2M18 43.5h1M57 43.5h2M18 44.5h1M56 44.5h2M19 45.5h1M55 45.5h3M19 46.5h1M55 46.5h3M19 47.5h1M55 47.5h3M55 48.5h3M19 49.5h1M55 49.5h2M19 50.5h1M19 51.5h1M19 52.5h1M19 53.5h1M18 54.5h1M17 55.5h1"/>
<path stroke="#a4ce5b" d="M5 36.5h1M7 37.5h1M10 38.5h1M12 39.5h1M14 40.5h1M15 41.5h1M61 41.5h3M16 42.5h1M60 42.5h3M17 43.5h1M59 43.5h4M58 44.5h4M18 45.5h1M58 45.5h3M18 46.5h1M58 46.5h2M58 47.5h1M19 48.5h1M18 50.5h1M18 51.5h1M18 52.5h1M18 53.5h1M17 54.5h1M15 55.5h2"/>
<path stroke="#aace4d" d="M2 35.5h1M4 36.5h1M9 38.5h1M11 39.5h1M13 40.5h1M63 42.5h1M16 43.5h1M17 44.5h1M17 45.5h1M18 47.5h1M18 48.5h1M18 49.5h1M17 51.5h1M17 52.5h1M17 53.5h1M15 54.5h2"/>
<path stroke="#b7d23d" d="M0 35.5h2M6 37.5h1M8 38.5h1M12 40.5h1M14 41.5h1M15 42.5h1M16 44.5h1M17 46.5h1M17 47.5h1M17 48.5h1M17 49.5h1M17 50.5h1M16 51.5h1M16 52.5h1M15 53.5h2M14 54.5h1"/>
<path stroke="#c3d632" d="M3 36.5h1M5 37.5h1M10 39.5h1M13 41.5h1M14 42.5h1M15 43.5h1M15 44.5h1M16 45.5h1M16 46.5h1M16 47.5h1M16 48.5h1M16 49.5h1M16 50.5h1M15 51.5h1M15 52.5h1M14 53.5h1"/>
<path stroke="#d0da28" d="M2 36.5h1M7 38.5h1M9 39.5h1M11 40.5h1M12 41.5h1M13 42.5h1M14 43.5h1M15 45.5h1M15 46.5h1M15 47.5h1M15 48.5h1M15 49.5h1M15 50.5h1M14 52.5h1M13 53.5h1"/>
<path stroke="#dde11f" d="M1 36.5h1M4 37.5h1M6 38.5h1M10 40.5h1M13 43.5h1M14 44.5h1M14 45.5h1M14 46.5h1M14 47.5h1M14 48.5h1M14 49.5h1M14 50.5h1M14 51.5h1M13 52.5h1"/>
<path stroke="#e8e61a" d="M3 37.5h1M8 39.5h1M11 41.5h1M12 42.5h1M13 44.5h1M13 45.5h1M13 48.5h1M13 49.5h1M13 50.5h1M13 51.5h1M12 52.5h1"/>
<path stroke="#f6ec18" d="M5 38.5h1M7 39.5h1M9 40.5h1M10 41.5h1M11 42.5h1M12 43.5h1M12 44.5h1M13 46.5h1M13 47.5h1M12 49.5h1M12 50.5h1M11 51.5h2"/>
<path stroke="#f9ea0e" d="M2 37.5h1M4 38.5h1M6 39.5h1M8 40.5h1M11 43.5h1M12 45.5h1M12 46.5h1M12 47.5h1M12 48.5h1M11 50.5h1"/>
<path stroke="#ffdc01" d="M1 37.5h1M9 41.5h1M10 42.5h1M10 43.5h1M11 44.5h1M11 45.5h1M11 46.5h1M11 47.5h1M11 48.5h1M11 49.5h1M10 50.5h1"/>
<path stroke="#feca08" d="M3 38.5h1M5 39.5h1M7 40.5h1M8 41.5h1M9 42.5h1M10 44.5h1M10 45.5h1M10 46.5h1M10 47.5h1M10 48.5h1M10 49.5h1"/>
<path stroke="#fcb911" d="M2 38.5h1M4 39.5h1M6 40.5h1M7 41.5h1M8 42.5h1M9 43.5h1M9 44.5h1M9 45.5h1M9 46.5h1M9 47.5h1M9 48.5h1M9 49.5h1"/>
<path stroke="#f9ab19" d="M1 38.5h1M5 40.5h1M8 43.5h1M8 44.5h1M8 45.5h1M8 47.5h1M8 48.5h1"/>
<path stroke="#f79e1c" d="M3 39.5h1M6 41.5h1M7 42.5h1M7 43.5h1M7 44.5h1M8 46.5h1M7 47.5h1"/>
<path stroke="#f68f1f" d="M2 39.5h1M4 40.5h1M5 41.5h1M6 42.5h1M6 43.5h1M7 45.5h1M7 46.5h1"/>
<path stroke="#f47e20" d="M1 39.5h1M3 40.5h1M4 41.5h1M5 42.5h1M5 43.5h1M6 44.5h1M6 45.5h1M6 46.5h1"/>
<path stroke="#f26b21" d="M2 40.5h1M4 42.5h1M5 44.5h1M5 45.5h1"/>
<path stroke="#ef5f22" d="M3 41.5h1M3 42.5h1M3 43.5h2M4 44.5h1"/>
<path stroke="#ee5222" d="M2 41.5h1M2 42.5h1"/>
</g>
<rect x="-142.5" y="-41.63" width="285" height="183.53" fill="url(#gp)"/>
<path fill="none" stroke="#3c4650" stroke-width="0.95" stroke-opacity="0.8" d="M-138.18 -18.24 -133.86 -16.41 -132.94 -16.02 -129.55 -14.68 -125.23 -12.96 -122.27 -11.75 -120.91 -11.23 -116.59 -9.58 -112.27 -7.85 -111.36 -7.49 -107.95 -6.2 -103.64 -4.51 -100.49 -3.22 -99.32 -2.76 -95 -1.06 -90.68 0.76 -90.01 1.05 -86.36 2.53 -82.05 4.4 -80 5.32 -77.73 6.3 -73.41 8.24 -70.57 9.59 -69.09 10.26 -64.77 12.29 -61.68 13.85 -60.45 14.45 -56.14 16.52 -53.09 18.12 -51.82 18.76 -47.5 20.9 -44.72 22.39 -43.18 23.17 -38.86 25.4 -36.53 26.66 -34.55 27.68 -30.23 29.83 -27.95 30.93 -25.91 31.85 -21.59 33.59 -17.36 35.2 -17.27 35.24 -12.95 36.4 -8.64 36.23 -7.26 35.2 -5.17 30.93 -6.38 26.66 -8.64 22.89 -8.91 22.39 -12.35 18.12 -12.95 16.77 -14.61 13.85 -12.95 9.99 -12.72 9.59 -10.96 5.32 -10.25 1.05 -10.25 -3.22 -10.76 -7.49 -11.66 -11.75 -12.87 -16.02 -12.95 -16.27 -14.34 -20.29 -16.01 -24.56 -17.27 -27.81 -17.67 -28.83 -19.27 -33.1 -20.78 -37.36 -21.59 -39.8 -22.19 -41.63M138.18 -10.84 133.86 -8.12 132.77 -7.49 129.55 -5.28 126.02 -3.22 125.23 -2.62 120.91 0.22 119.48 1.05 116.59 3.72 114.33 5.32 114.73 9.59 116.59 9.72 119.2 9.59 120.91 9.37 125.23 8.5 129.55 7.78 133.86 7.12 138.18 6.51M41.87 130.4 38.86 130.46 34.55 129.18 34.42 129.1 30.23 125.77 29.25 124.83 25.91 121.2 25.35 120.56 21.87 116.29 21.59 115.91 18.45 112.02 17.27 110.33 15.23 107.75 12.95 104.26 12.35 103.49 9.81 99.22 8.64 97.78 6.39 94.95 5.34 90.68 5.07 86.41 5.06 82.15 5.19 77.88 5.58 73.61 6.97 69.34 8.64 65.96 8.98 65.07 8.64 61.73 8.23 60.8 4.32 57.38 3.06 56.54 0 54.18 -4.32 53.43 -7.08 56.54 -8.64 59.17 -8.97 60.8 -9.17 65.07 -8.68 69.34 -8.64 69.59 -7.64 73.61 -7.08 77.88 -6.84 82.15 -6.8 86.41 -7.22 90.68 -8.64 94.41 -8.85 94.95 -11.38 99.22 -12.95 102.03 -13.59 103.49 -17.05 107.75 -17.27 107.92 -21.59 111.86 -21.75 112.02 -25.91 115.3 -27.04 116.29 -30.23 118.63 -33.1 120.56 -34.55 121.41 -38.86 122.94 -43.18 123.36 -47.5 123.73 -48.52 123.82M134.67 -28.04 133.86 -27.6 129.55 -25.47 127.74 -24.56 125.23 -23.33 120.91 -21.17 119.2 -20.29 116.59 -19 112.27 -16.85 110.56 -16.02 107.95 -14.81 103.64 -12.93 100.79 -11.75 99.32 -11.18 95 -10.24 90.68 -10.83 89.13 -11.75 86.36 -13.79 83.69 -16.02 82.05 -17.5 79.23 -20.29 77.73 -21.9 75.44 -24.56 73.41 -27.12 72.14 -28.83 69.16 -33.1 69.09 -33.19 66.1 -37.36 64.77 -39.1 62.92 -41.63M-138.18 -3.56 -137.43 -3.22 -133.86 -1.66 -129.55 0.28 -127.83 1.05 -125.23 2.21 -120.91 4.16 -118.39 5.32 -116.59 6.09 -112.27 8.12 -109.16 9.59 -107.95 10.06 -103.64 12.04 -100.09 13.85 -99.32 14.14 -95 15.91 -90.88 18.12 -90.68 18.2 -86.36 19.86 -82.05 22.01 -81.35 22.39 -77.73 23.81 -73.41 25.78 -71.75 26.66 -69.09 27.76 -64.77 29.64 -62.2 30.93 -60.45 31.87 -56.14 34.21 -54.36 35.2 -51.82 37.38 -49.45 39.46 -47.5 41.91 -45.98 43.73 -43.18 47.81 -43.04 48 -40.48 52.27 -38.86 55.73 -38.47 56.54 -36.82 60.8 -35.61 65.07 -34.77 69.34 -34.55 72.76 -34.49 73.61 -34.36 77.88 -34.41 82.15 -34.55 84.03 -34.72 86.41 -35.44 90.68 -36.62 94.95 -38.35 99.22 -38.86 100.14 -40.94 103.49 -43.18 106.16 -45.07 107.75 -47.5 108.86 -51.82 110.21 -56.14 111.12 -60.45 111.61 -60.83 111.65M68.2 104.36 64.77 104.75 60.45 105.08 56.14 105 51.82 104.24 49.84 103.49 47.5 101.75 44.91 99.22 43.18 96.5 42.35 94.95 40.99 90.68 40.4 86.41 40.31 82.15 40.56 77.88 41.05 73.61 41.69 69.34 42.86 65.07 43.18 64.55 45.38 60.8 47.5 58.13 48.75 56.54 51.82 53.21 52.69 52.27 56.14 48.9 57.07 48 60.45 44.92 61.79 43.73 64.77 41.18 66.85 39.46 69.09 37.68 72.33 35.2 73.41 34.74 77.73 32.95 82.05 31.25 82.87 30.93 86.36 29.99 90.68 28.85 95 27.72 99.09 26.66 99.32 26.61 103.64 25.6 107.95 24.6 112.27 23.61 116.59 22.62 117.61 22.39 120.91 21.65 125.23 20.72 129.55 19.82 133.86 18.96 138.18 18.15M-138.18 6.42 -133.86 8.07 -130.28 9.59 -129.55 9.86 -125.23 11.56 -120.91 13.37 -119.82 13.85 -116.59 15.15 -112.27 16.93 -109.56 18.12 -107.95 18.78 -103.64 20.55 -99.4 22.39 -99.32 22.43 -95 24.22 -90.68 26.06 -89.33 26.66 -86.36 28.02 -82.05 29.99 -79.98 30.93 -77.73 32.23 -73.41 34.72 -72.58 35.2 -69.09 38.18 -67.59 39.46 -64.77 42.9 -64.09 43.73 -61.4 48 -60.45 49.75 -59.06 52.27 -57.06 56.54 -56.14 59.23 -55.57 60.8 -54.83 65.07 -54.7 69.34 -54.97 73.61 -55.51 77.88 -56.14 81.04 -56.36 82.15 -57.64 86.41 -59.36 90.68 -60.45 92.97 -61.47 94.95 -64.77 97.92 -67.33 99.22 -69.09 99.75 -72.38 100.23M100.12 72.81 99.32 72.57 95 69.63 94.86 69.34 94.94 65.07 95 64.46 95.36 60.8 96.15 56.54 97.7 52.27 99.32 49.57 100.22 48 103.64 44.59 104.42 43.73 107.95 41 109.87 39.46 112.27 37.86 116.29 35.2 116.59 35.09 120.91 33.67 125.23 32.28 129.41 30.93 129.55 30.89 133.86 29.88 135.29 29.52M-138.18 12.97 -135.79 13.85 -133.86 14.54 -129.55 16.16 -125.23 17.86 -124.58 18.12 -120.91 19.61 -116.59 21.4 -114.23 22.39 -112.27 23.25 -107.95 25.13 -104.43 26.66 -103.64 27.04 -99.32 29.1 -95.46 30.93 -95 31.2 -90.68 33.77 -88.27 35.2 -86.36 36.87 -83.39 39.46 -82.05 41.14 -79.95 43.73 -77.73 47.44 -77.39 48 -75.31 52.27 -73.86 56.54 -73.41 59.44 -73.19 60.8 -73.17 65.07 -73.41 67.05 -73.7 69.34 -74.55 73.61 -75.52 77.88 -76.5 82.15 -77.73 84.84 -78.76 86.41 -82.05 88.27 -83.92 88.82M-138.18 18.93 -133.86 20.54 -129.55 22.21 -129.09 22.39 -125.23 24.04 -120.91 25.9 -119.16 26.66 -116.59 27.92 -112.27 30.02 -110.38 30.93 -107.95 32.41 -103.64 35.02 -103.35 35.2 -99.32 38.9 -98.69 39.46 -95.59 43.73 -95 44.88 -93.37 48 -91.89 52.27 -91.26 56.54 -91.41 60.8 -91.84 65.07 -92.15 69.34 -92.9 73.61 -95 75.92 -96.16 76.73M-138.18 25.3 -134.77 26.66 -133.86 27.09 -129.55 29.18 -125.88 30.93 -125.23 31.35 -120.91 34.05 -119.03 35.2 -116.59 37.7 -114.81 39.46 -112.28 43.73 -112.27 43.77 -110.78 48 -110.17 52.27 -109.7 56.54 -109.71 60.8 -110.43 62.63"/>
<use href="#head"/>
</g>
<g transform="translate(485.9 2194.1)">
<circle r="147.5" fill="none" stroke="#ebf2fb" stroke-width="10.4"/>
<g transform="translate(-142.5 -139.8) scale(4.3182 4.2682)" fill="none" stroke-width="1" shape-rendering="crispEdges">
<path stroke="#323e9c" d="M2 23.5h5"/>
<path stroke="#35459e" d="M7 23.5h7M2 24.5h11M2 25.5h9"/>
<path stroke="#3849a0" d="M14 23.5h5M13 24.5h5M11 25.5h6M1 26.5h15M1 27.5h3M9 27.5h5"/>
<path stroke="#394ea3" d="M19 23.5h4M18 24.5h5M17 25.5h5M16 26.5h6M4 27.5h5M14 27.5h7M1 28.5h19M14 29.5h4M27 64.5h2M32 65.5h2"/>
<path stroke="#3a50a4" d="M23 23.5h4M23 24.5h4M22 25.5h5M22 26.5h4M21 27.5h5M20 28.5h6M1 29.5h13M18 29.5h7M13 30.5h11M19 31.5h2M64 31.5h2M63 32.5h3M64 33.5h2M25 63.5h6M25 64.5h2M29 64.5h12"/>
<path stroke="#3a52a5" d="M27 23.5h4M27 24.5h4M27 25.5h4M26 26.5h5M26 27.5h5M26 28.5h4M0 29.5h1M25 29.5h5M65 29.5h1M2 30.5h11M24 30.5h6M64 30.5h2M14 31.5h5M21 31.5h8M62 31.5h2M18 32.5h10M61 32.5h2M60 33.5h4M60 34.5h4M24 62.5h10M23 63.5h2M31 63.5h12"/>
<path stroke="#3a54a6" d="M31 23.5h4M31 24.5h4M31 25.5h4M31 26.5h4M31 27.5h4M30 28.5h5M30 29.5h5M64 29.5h1M0 30.5h2M30 30.5h4M62 30.5h2M3 31.5h11M29 31.5h5M61 31.5h1M14 32.5h4M28 32.5h5M59 32.5h2M18 33.5h15M58 33.5h2M22 34.5h9M57 34.5h3M64 34.5h2M56 35.5h5M25 60.5h6M23 61.5h14M22 62.5h2M34 62.5h10"/>
<path stroke="#3b56a7" d="M35 23.5h4M35 24.5h4M35 25.5h4M35 26.5h4M35 27.5h4M35 28.5h4M64 28.5h1M35 29.5h4M62 29.5h2M34 30.5h5M61 30.5h1M0 31.5h3M34 31.5h5M59 31.5h2M5 32.5h9M33 32.5h5M57 32.5h2M14 33.5h4M33 33.5h5M56 33.5h2M18 34.5h4M31 34.5h6M55 34.5h2M22 35.5h14M54 35.5h2M61 35.5h5M26 36.5h9M53 36.5h6M24 59.5h9M23 60.5h2M31 60.5h8M22 61.5h1M37 61.5h8"/>
<path stroke="#3c58a9" d="M39 23.5h4M39 24.5h4M39 25.5h4M39 26.5h4M39 27.5h4M64 27.5h1M39 28.5h4M62 28.5h2M39 29.5h5M61 29.5h1M39 30.5h5M59 30.5h2M39 31.5h4M57 31.5h2M2 32.5h3M38 32.5h5M56 32.5h1M7 33.5h7M38 33.5h5M54 33.5h2M14 34.5h4M37 34.5h6M53 34.5h2M18 35.5h4M36 35.5h6M51 35.5h3M22 36.5h4M35 36.5h6M50 36.5h3M59 36.5h3M25 37.5h15M49 37.5h7M29 38.5h9M23 58.5h12M22 59.5h2M33 59.5h7M44 59.5h2M21 60.5h2M39 60.5h7M21 61.5h1"/>
<path stroke="#3e5dac" d="M43 23.5h5M43 24.5h5M43 25.5h5M43 26.5h5M64 26.5h1M43 27.5h5M62 27.5h2M43 28.5h5M61 28.5h1M44 29.5h5M59 29.5h2M44 30.5h5M57 30.5h2M43 31.5h6M55 31.5h2M0 32.5h2M43 32.5h6M54 32.5h2M4 33.5h3M43 33.5h6M52 33.5h2M8 34.5h6M43 34.5h10M14 35.5h4M42 35.5h9M19 36.5h3M41 36.5h9M62 36.5h3M22 37.5h3M40 37.5h9M56 37.5h3M25 38.5h4M38 38.5h15M28 39.5h19M32 40.5h9M27 56.5h1M23 57.5h13M22 58.5h1M35 58.5h5M43 58.5h5M21 59.5h1M40 59.5h4M46 59.5h1M20 60.5h1"/>
<path stroke="#3f63af" d="M48 23.5h5M48 24.5h5M48 25.5h5M48 26.5h5M62 26.5h2M48 27.5h6M60 27.5h2M48 28.5h6M58 28.5h3M49 29.5h10M49 30.5h8M49 31.5h6M49 32.5h5M2 33.5h2M49 33.5h3M6 34.5h2M10 35.5h4M15 36.5h4M19 37.5h3M59 37.5h2M22 38.5h3M53 38.5h3M25 39.5h3M47 39.5h4M28 40.5h4M41 40.5h6M31 41.5h12M32 42.5h8M34 43.5h5M35 44.5h2M30 55.5h4M23 56.5h4M28 56.5h8M21 57.5h2M36 57.5h5M42 57.5h7M21 58.5h1M40 58.5h3M20 59.5h1"/>
<path stroke="#416bb3" d="M53 23.5h6M53 24.5h6M63 24.5h1M53 25.5h11M53 26.5h9M54 27.5h6M54 28.5h4M0 33.5h2M4 34.5h2M8 35.5h2M12 36.5h3M16 37.5h3M61 37.5h3M20 38.5h2M56 38.5h2M23 39.5h2M51 39.5h2M25 40.5h3M47 40.5h2M27 41.5h4M43 41.5h3M29 42.5h3M40 42.5h3M30 43.5h4M39 43.5h1M30 44.5h5M37 44.5h2M31 45.5h7M31 46.5h6M31 47.5h5M31 48.5h3M32 49.5h2M32 50.5h1M32 51.5h1M32 52.5h1M31 53.5h3M28 54.5h6M22 55.5h8M34 55.5h2M21 56.5h2M36 56.5h4M43 56.5h7M20 57.5h1M41 57.5h1M20 58.5h1M19 59.5h1"/>
<path stroke="#447bbd" d="M59 23.5h5M59 24.5h4M3 34.5h1M6 35.5h2M10 36.5h2M13 37.5h3M64 37.5h1M17 38.5h3M58 38.5h3M20 39.5h3M53 39.5h3M23 40.5h2M49 40.5h3M25 41.5h2M46 41.5h3M27 42.5h2M43 42.5h3M28 43.5h2M40 43.5h2M28 44.5h2M39 44.5h1M29 45.5h2M38 45.5h1M29 46.5h2M29 47.5h2M30 48.5h1M34 48.5h2M30 49.5h2M34 49.5h1M30 50.5h2M33 50.5h2M30 51.5h2M33 51.5h1M30 52.5h2M33 52.5h2M28 53.5h3M34 53.5h1M23 54.5h5M34 54.5h2M20 55.5h2M36 55.5h3M43 55.5h8M20 56.5h1M40 56.5h3M19 57.5h1M19 58.5h1"/>
<path stroke="#4787c8" d="M2 34.5h1M5 35.5h1M8 36.5h2M12 37.5h1M15 38.5h2M61 38.5h3M19 39.5h1M56 39.5h2M22 40.5h1M52 40.5h2M24 41.5h1M49 41.5h2M25 42.5h2M46 42.5h2M26 43.5h2M42 43.5h2M27 44.5h1M40 44.5h1M28 45.5h1M28 46.5h1M37 46.5h1M28 47.5h1M36 47.5h1M29 48.5h1M29 49.5h1M35 49.5h1M29 50.5h1M28 51.5h2M34 51.5h1M27 52.5h3M23 53.5h5M35 53.5h1M47 53.5h3M20 54.5h3M36 54.5h2M43 54.5h9M19 55.5h1M39 55.5h4M19 56.5h1M18 57.5h1M18 58.5h1"/>
<path stroke="#4898d5" d="M0 34.5h2M4 35.5h1M7 36.5h1M11 37.5h1M14 38.5h1M64 38.5h1M17 39.5h2M58 39.5h3M20 40.5h2M54 40.5h2M22 41.5h2M51 41.5h2M24 42.5h1M48 42.5h2M25 43.5h1M44 43.5h3M26 44.5h1M41 44.5h2M27 45.5h1M39 45.5h1M27 46.5h1M38 46.5h1M27 47.5h1M37 47.5h1M28 48.5h1M36 48.5h1M28 49.5h1M27 50.5h2M35 50.5h1M26 51.5h2M35 51.5h1M23 52.5h4M35 52.5h1M47 52.5h6M20 53.5h3M36 53.5h1M44 53.5h3M50 53.5h3M19 54.5h1M38 54.5h5M18 55.5h1M18 56.5h1"/>
<path stroke="#44a7df" d="M3 35.5h1M6 36.5h1M10 37.5h1M13 38.5h1M16 39.5h1M61 39.5h4M19 40.5h1M56 40.5h3M21 41.5h1M53 41.5h3M22 42.5h2M50 42.5h3M24 43.5h1M47 43.5h2M25 44.5h1M43 44.5h2M25 45.5h2M40 45.5h2M26 46.5h1M39 46.5h1M26 47.5h1M38 47.5h1M26 48.5h2M37 48.5h1M26 49.5h2M36 49.5h1M25 50.5h2M36 50.5h1M51 50.5h2M24 51.5h2M36 51.5h1M47 51.5h8M21 52.5h2M36 52.5h1M44 52.5h3M53 52.5h1M19 53.5h1M37 53.5h7M18 54.5h1M17 56.5h1M17 57.5h1"/>
<path stroke="#3db8ec" d="M2 35.5h1M5 36.5h1M9 37.5h1M12 38.5h1M15 39.5h1M18 40.5h1M59 40.5h3M20 41.5h1M56 41.5h2M21 42.5h1M53 42.5h2M22 43.5h2M49 43.5h2M23 44.5h2M45 44.5h3M24 45.5h1M42 45.5h2M25 46.5h1M40 46.5h2M25 47.5h1M25 48.5h1M38 48.5h1M25 49.5h1M37 49.5h1M51 49.5h5M23 50.5h2M37 50.5h1M48 50.5h3M53 50.5h3M21 51.5h3M37 51.5h1M44 51.5h3M19 52.5h2M37 52.5h7M17 53.5h2M17 54.5h1M17 55.5h1M16 56.5h1"/>
<path stroke="#39c2f0" d="M0 35.5h2M8 37.5h1M11 38.5h1M14 39.5h1M17 40.5h1M62 40.5h2M19 41.5h1M58 41.5h3M20 42.5h1M55 42.5h3M21 43.5h1M51 43.5h3M22 44.5h1M48 44.5h2M23 45.5h1M44 45.5h3M23 46.5h2M42 46.5h2M24 47.5h1M39 47.5h2M54 47.5h5M24 48.5h1M39 48.5h1M51 48.5h7M23 49.5h2M38 49.5h1M48 49.5h3M56 49.5h1M21 50.5h2M38 50.5h1M44 50.5h4M19 51.5h2M38 51.5h6M17 52.5h2M16 54.5h1M16 55.5h1"/>
<path stroke="#53c8ea" d="M4 36.5h1M7 37.5h1M10 38.5h1M13 39.5h1M16 40.5h1M18 41.5h1M61 41.5h3M19 42.5h1M58 42.5h6M20 43.5h1M54 43.5h9M21 44.5h1M50 44.5h4M57 44.5h5M22 45.5h1M47 45.5h3M55 45.5h6M22 46.5h1M44 46.5h3M53 46.5h7M22 47.5h2M41 47.5h4M50 47.5h4M22 48.5h2M40 48.5h4M46 48.5h5M21 49.5h2M39 49.5h9M19 50.5h2M39 50.5h5M17 51.5h2M16 52.5h1M16 53.5h1M15 55.5h1"/>
<path stroke="#69cadf" d="M3 36.5h1M6 37.5h1M9 38.5h1M12 39.5h1M15 40.5h1M17 41.5h1M18 42.5h1M19 43.5h1M20 44.5h1M54 44.5h3M21 45.5h1M50 45.5h5M21 46.5h1M47 46.5h6M21 47.5h1M45 47.5h5M21 48.5h1M44 48.5h2M20 49.5h1M17 50.5h2M16 51.5h1M15 52.5h1M15 53.5h1M15 54.5h1"/>
<path stroke="#6fcad3" d="M2 36.5h1M5 37.5h1M14 40.5h1M16 41.5h1M17 42.5h1M18 43.5h1M19 44.5h1M19 45.5h2M20 46.5h1M20 47.5h1M19 48.5h2M18 49.5h2M16 50.5h1M15 51.5h1M14 54.5h1"/>
<path stroke="#71c9c7" d="M1 36.5h1M8 38.5h1M11 39.5h1M13 40.5h1M15 41.5h1M16 42.5h1M17 43.5h1M18 44.5h1M18 45.5h1M19 46.5h1M19 47.5h1M18 48.5h1M16 49.5h2M14 50.5h2M14 51.5h1M14 52.5h1M14 53.5h1"/>
<path stroke="#74c8bb" d="M4 37.5h1M7 38.5h1M10 39.5h1M12 40.5h1M14 41.5h1M15 42.5h1M16 43.5h1M17 44.5h1M17 45.5h1M18 46.5h1M17 47.5h2M16 48.5h2M14 49.5h2M13 51.5h1M13 52.5h1M13 53.5h1"/>
<path stroke="#79c8ae" d="M3 37.5h1M6 38.5h1M9 39.5h1M11 40.5h1M13 41.5h1M14 42.5h1M15 43.5h1M16 44.5h1M16 45.5h1M17 46.5h1M16 47.5h1M14 48.5h2M13 49.5h1M13 50.5h1"/>
<path stroke="#7dc8a2" d="M2 37.5h1M5 38.5h1M8 39.5h1M12 41.5h1M14 43.5h1M15 44.5h1M15 45.5h1M15 46.5h2M15 47.5h1M13 48.5h1M12 49.5h1M12 50.5h1M12 51.5h1M12 52.5h1"/>
<path stroke="#82c997" d="M1 37.5h1M4 38.5h1M7 39.5h1M10 40.5h1M11 41.5h1M13 42.5h1M13 43.5h1M14 44.5h1M14 45.5h1M14 46.5h1M13 47.5h2M12 48.5h1M11 51.5h1"/>
<path stroke="#87c889" d="M6 39.5h1M9 40.5h1M12 42.5h1M13 44.5h1M13 45.5h1M13 46.5h1M12 47.5h1M11 48.5h1M11 49.5h1M11 50.5h1"/>
<path stroke="#8fc978" d="M3 38.5h1M8 40.5h1M10 41.5h1M11 42.5h1M12 43.5h1M12 44.5h1M12 45.5h1M11 46.5h2M10 47.5h2M10 48.5h1M10 49.5h1M10 50.5h1"/>
<path stroke="#9bcc68" d="M2 38.5h1M5 39.5h1M7 40.5h1M9 41.5h1M10 42.5h1M11 43.5h1M11 44.5h1M11 45.5h1M10 46.5h1M9 49.5h1"/>
<path stroke="#a4ce5b" d="M1 38.5h1M4 39.5h1M6 40.5h1M8 41.5h1M9 42.5h1M10 43.5h1M10 44.5h1M10 45.5h1M9 46.5h1M9 47.5h1M9 48.5h1"/>
<path stroke="#aace4d" d="M3 39.5h1M5 40.5h1M7 41.5h1M8 42.5h1M9 43.5h1M9 44.5h1M8 45.5h2M8 46.5h1M8 47.5h1M8 48.5h1"/>
<path stroke="#b7d23d" d="M2 39.5h1M6 41.5h1M7 42.5h1M8 43.5h1M8 44.5h1M7 45.5h1M7 46.5h1M7 47.5h1"/>
<path stroke="#c3d632" d="M1 39.5h1M4 40.5h1M5 41.5h1M6 42.5h1M7 43.5h1M6 44.5h2M6 45.5h1M6 46.5h1"/>
<path stroke="#d0da28" d="M3 40.5h1M4 41.5h1M5 42.5h1M5 43.5h2M5 44.5h1M5 45.5h1"/>
<path stroke="#dde11f" d="M2 40.5h1M3 41.5h1M4 42.5h1M4 43.5h1M4 44.5h1"/>
<path stroke="#e8e61a" d="M2 41.5h1M3 42.5h1M3 43.5h1"/>
<path stroke="#f6ec18" d="M2 42.5h1"/>
</g>
<rect x="-142.5" y="-41.63" width="285" height="183.53" fill="url(#gp)"/>
<path fill="none" stroke="#3c4650" stroke-width="0.95" stroke-opacity="0.8" d="M-138.18 -11.97 -136.92 -11.75 -133.86 -11.28 -129.55 -10.72 -125.23 -10.27 -120.91 -9.94 -116.59 -9.75 -112.27 -9.72 -107.95 -9.87 -103.64 -10.01 -99.32 -9.94 -95 -9.53 -90.68 -8.82 -86.36 -7.85 -84.82 -7.49 -82.05 -6.87 -77.73 -5.9 -73.41 -4.93 -69.09 -3.96 -65.78 -3.22 -64.77 -3.01 -60.45 -2.23 -56.14 -1.57 -51.82 -1.08 -47.5 -0.85 -43.18 -1.08 -38.86 -1.92 -34.98 -3.22 -34.55 -3.41 -30.23 -5.76 -27.71 -7.49 -25.91 -9.2 -23.63 -11.75 -21.59 -15.19 -21.15 -16.02 -19.66 -20.29 -18.8 -24.56 -18.09 -28.83 -17.27 -33.01 -17.26 -33.1 -16.23 -37.36 -14.92 -41.63M138.18 -11.48 133.86 -8.08 133.02 -7.49 129.55 -4.54 127.72 -3.22 125.23 -0.77 122.97 1.05 121.24 5.32 125.23 6.24 129.55 6.35 133.86 6.1 138.18 5.8M41.66 130.6 38.86 130.95 34.55 131.38 30.23 131.47 25.91 131.55 21.59 131.45 17.27 131.15 12.95 130.69 8.64 130.11 4.32 129.55 0 129.23 -1.11 129.1 -4.32 128.7 -8.64 127.66 -12.95 126.54 -17.27 125.84 -21.59 125.8 -25.91 126.2 -30.23 126.84 -34.55 127.85 -36.97 129.1 -38.86 130.11 -40.5 131.74M133.86 -29.67 132.4 -28.83 129.55 -27.24 125.23 -24.73 124.93 -24.56 120.91 -22.35 117.42 -20.29 116.59 -19.82 112.27 -17.47 109.71 -16.02 107.95 -15.08 103.64 -12.88 101.41 -11.75 99.32 -10.77 95 -9.13 90.68 -7.59 86.57 -11.75 86.36 -12.07 84.15 -16.02 82.12 -20.29 82.05 -20.47 80.52 -24.56 79.26 -28.83 78.36 -33.1 77.73 -36.71 77.62 -37.36 77.06 -41.63M-138.18 1.8 -133.86 2.85 -129.55 4.13 -125.5 5.32 -125.23 5.38 -120.91 6.23 -116.59 7.27 -112.27 8.35 -107.95 9.33 -106.79 9.59 -103.64 10.18 -99.32 11.06 -95 11.91 -90.68 12.76 -86.36 13.62 -85.13 13.85 -82.05 14.39 -77.73 15.14 -73.41 15.91 -69.09 16.76 -64.77 17.65 -62.75 18.12 -60.45 18.66 -56.14 19.94 -51.82 21.29 -48.68 22.39 -47.5 22.81 -43.18 24.31 -38.86 25.84 -36.53 26.66 -34.55 27.36 -30.23 28.82 -25.91 30.28 -23.88 30.93 -21.59 31.68 -17.27 33.02 -12.95 34.33 -9.93 35.2 -8.64 35.72 -4.32 37.32 0 38.84 1.97 39.46 4.32 40.89 8.64 43.15 10.08 43.73 12.95 45.18 17.27 45.97 21.59 45.67 25.91 44.14 26.43 43.73 30.23 41.05 33.48 39.46 34.55 38.81 38.86 37.48 43.18 36.34 47.48 35.2 47.5 35.19 51.82 33.91 56.14 32.81 60.45 31.7 63.35 30.93 64.77 30.58 69.09 29.65 73.41 28.83 77.73 28.04 82.05 27.22 84.83 26.66 86.36 26.33 90.68 25.47 95 24.67 99.32 23.88 103.64 23.09 107.33 22.39 107.95 22.27 112.27 21.44 116.59 20.65 120.91 19.89 125.23 19.18 129.55 18.52 132.34 18.12 133.86 17.9 138.18 17.35M66.56 105.99 64.77 105.95 60.45 105.62 56.14 105.38 51.82 105.56 47.5 106.06 43.18 106.83 38.86 107.15 34.55 106.98 30.23 106.43 25.91 105.59 21.59 104.55 17.64 103.49 17.27 103.41 12.95 102.53 8.64 101.59 4.32 100.14 2.69 99.22 0 96.66 -4.32 97.48 -8.64 98.55 -12.95 98.66 -17.27 98.49 -21.59 98.4 -25.91 98.49 -30.23 98.82 -32.95 99.22 -34.55 99.47 -38.86 100.47 -43.18 101.87 -46.74 103.49 -47.5 103.93 -51.38 107.75 -51.82 108.35 -53.54 112.02 -55.29 116.29 -55.53 116.89M-138.18 9.18 -136.75 9.59 -133.86 10.32 -129.55 11.5 -125.23 12.76 -121.7 13.85 -120.91 14.08 -116.59 15.33 -112.27 16.59 -107.95 17.95 -107.42 18.12 -103.64 19.19 -99.32 20.43 -95 21.75 -93 22.39 -90.68 23.05 -86.36 24.28 -82.05 25.58 -78.79 26.66 -77.73 26.99 -73.41 28.28 -69.09 29.61 -65.2 30.93 -64.77 31.1 -60.45 32.85 -56.14 34.61 -54.68 35.2 -51.82 37.02 -48.01 39.46 -47.5 39.89 -43.18 43.26 -42.53 43.73 -38.86 46.91 -37.48 48 -34.55 50.96 -33.25 52.27 -30.23 56.25 -30.08 56.54 -28.55 60.8 -27.79 65.07 -27.95 69.34 -29.52 73.61 -30.23 74.36 -34.55 77.74 -34.76 77.88 -38.86 79.78 -43.18 81.52 -44.82 82.15 -47.5 83.06 -51.82 84.53 -56.14 86.04 -57.15 86.41 -60.45 87.84 -63.81 90.68 -64.77 92.35 -65.73 94.95 -66.61 99.22 -67.94 103.49 -68.3 104.27M93.48 79.38 90.68 79.03 87.61 77.88 86.36 77.18 82.05 76.07 77.73 76.31 73.41 77.18 70.91 77.88 69.09 78.38 64.77 79.73 60.45 81.1 57.16 82.15 56.14 82.46 51.82 83.75 47.5 85 43.18 86.25 42.6 86.41 38.86 87.41 34.55 88.35 30.23 88.39 25.91 87.72 21.59 86.49 21.41 86.41 17.27 83.58 16.39 82.15 15.69 77.88 16.25 73.61 17.27 71.41 18.25 69.34 21.43 65.07 21.59 64.9 25.49 60.8 25.91 60.4 30.23 57.25 32.1 56.54 34.55 55.67 38.86 54.29 43.18 52.9 45.14 52.27 47.5 51.57 51.82 50.31 56.14 49.06 59.81 48 60.45 47.83 64.77 46.66 69.09 45.5 73.41 44.34 75.65 43.73 77.73 43.13 82.05 41.87 86.36 40.6 90.21 39.46 90.68 39.28 95 37.61 99.32 35.93 101.19 35.2 103.64 34.52 107.95 33.37 112.27 32.26 116.59 31.19 117.73 30.93 120.91 30.37 125.23 29.65 129.55 28.96 133.86 28.31 136.97 27.86M-138.18 14.83 -133.86 15.99 -129.55 17.21 -126.44 18.12 -125.23 18.48 -120.91 19.77 -116.59 21.09 -112.39 22.39 -112.27 22.43 -107.95 23.81 -103.64 25.17 -99.32 26.53 -98.89 26.66 -95 28.01 -90.68 29.5 -86.5 30.93 -86.36 30.99 -82.05 32.93 -77.73 34.88 -77.01 35.2 -73.41 37.73 -70.93 39.46 -69.09 41.17 -66.28 43.73 -64.77 45.51 -62.6 48 -60.45 51.06 -59.58 52.27 -57.28 56.54 -56.14 60.48 -56.04 60.8 -56.14 61.62 -56.66 65.07 -60.45 68.53 -61.6 69.34 -64.77 70.92 -69.09 72.8 -71.02 73.61 -73.41 74.71 -77.64 77.88 -77.73 78.02 -79.16 82.15 -79.37 86.41 -79.94 90.68 -80.57 92.14M-138.18 20.26 -133.86 21.48 -130.77 22.39 -129.55 22.78 -125.23 24.16 -120.91 25.55 -117.43 26.66 -116.59 26.96 -112.27 28.52 -107.95 30.05 -105.48 30.93 -103.64 31.79 -99.32 33.81 -96.34 35.2 -95 36.22 -90.68 39.46 -90.68 39.47 -86.53 43.73 -86.36 43.97 -83.43 48 -82.05 50.79 -81.27 52.27 -80.55 56.54 -82.05 58.93 -83.67 60.8 -86.36 62.31 -90.68 64.87 -90.91 65.07 -93.1 69.34 -93.06 73.61 -93 77.88 -93.31 79.54M-138.18 26.13 -136.47 26.66 -133.86 27.63 -129.55 29.21 -125.23 30.75 -124.72 30.93 -120.91 32.75 -116.59 34.76 -115.66 35.2 -112.27 38.05 -110.53 39.46 -107.95 42.81 -107.21 43.73 -105.26 48 -106.81 52.27 -107.95 53.74 -109.13 56.54 -108.74 60.8 -107.99 65.04"/>
<use href="#head"/>
</g>
<text class="t" x="167" y="27.7" font-size="35.5" letter-spacing="0.45" text-anchor="middle">Delta</text>
<text class="t" x="500.4" y="28.4" font-size="35.5" letter-spacing="0.45" text-anchor="middle">Theta</text>
<text class="t" x="836.1" y="32.3" font-size="35.5" letter-spacing="0.45" text-anchor="middle">Alpha</text>
<text class="t" x="164.9" y="410" font-size="35.5" letter-spacing="0.45" text-anchor="middle">Beta</text>
<text class="t" x="509.7" y="410.7" font-size="35.5" letter-spacing="0.45" text-anchor="middle">Gamma</text>
<text class="t" x="170.8" y="848.5" font-size="35.5" letter-spacing="0.45" text-anchor="middle">Delta</text>
<text class="t" x="498" y="853.5" font-size="35.5" letter-spacing="0.45" text-anchor="middle">Theta</text>
<text class="t" x="832.3" y="849" font-size="35.5" letter-spacing="0.45" text-anchor="middle">Alpha</text>
<text class="t" x="164.1" y="1211" font-size="35.5" letter-spacing="0.45" text-anchor="middle">Beta</text>
<text class="t" x="501.2" y="1215.2" font-size="35.5" letter-spacing="0.45" text-anchor="middle">Gamma</text>
<text class="t" x="156.5" y="1658.2" font-size="35.5" letter-spacing="0.45" text-anchor="middle">Delta</text>
<text class="t" x="488" y="1658.2" font-size="35.5" letter-spacing="0.45" text-anchor="middle">Theta</text>
<text class="t" x="826.7" y="1658.2" font-size="35.5" letter-spacing="0.45" text-anchor="middle">Alpha</text>
<text class="t" x="157" y="2022.7" font-size="35.5" letter-spacing="0.45" text-anchor="middle">Beta</text>
<text class="t" x="498.8" y="2022.4" font-size="35.5" letter-spacing="0.45" text-anchor="middle">Gamma</text>
<text class="t" x="503.3" y="770.8" font-size="36" text-anchor="middle">(a)</text>
<text class="t" x="488.9" y="1583.6" font-size="36" text-anchor="middle">(b)</text>
<text class="t" x="504.5" y="2422.7" font-size="36" text-anchor="middle">(c)</text>
<rect x="808" y="394.3" width="25.5" height="333.3" fill="#7f1416"/>
<rect x="808" y="399.51" width="25.5" height="328.09" fill="#8f181a"/>
<rect x="808" y="404.72" width="25.5" height="322.88" fill="#9e1b1f"/>
<rect x="808" y="409.92" width="25.5" height="317.68" fill="#ad1e23"/>
<rect x="808" y="415.13" width="25.5" height="312.47" fill="#bd1f25"/>
<rect x="808" y="420.34" width="25.5" height="307.26" fill="#ca1f26"/>
<rect x="808" y="425.55" width="25.5" height="302.05" fill="#dc1d25"/>
<rect x="808" y="430.75" width="25.5" height="296.85" fill="#e81c24"/>
<rect x="808" y="435.96" width="25.5" height="291.64" fill="#ec1e24"/>
<rect x="808" y="441.17" width="25.5" height="286.43" fill="#ec2024"/>
<rect x="808" y="446.38" width="25.5" height="281.22" fill="#ee2a24"/>
<rect x="808" y="451.59" width="25.5" height="276.01" fill="#ef3b23"/>
<rect x="808" y="456.79" width="25.5" height="270.81" fill="#ef4823"/>
<rect x="808" y="462" width="25.5" height="265.6" fill="#ee5222"/>
<rect x="808" y="467.21" width="25.5" height="260.39" fill="#ef5f22"/>
<rect x="808" y="472.42" width="25.5" height="255.18" fill="#f26b21"/>
<rect x="808" y="477.62" width="25.5" height="249.98" fill="#f47e20"/>
<rect x="808" y="482.83" width="25.5" height="244.77" fill="#f68f1f"/>
<rect x="808" y="488.04" width="25.5" height="239.56" fill="#f79e1c"/>
<rect x="808" y="493.25" width="25.5" height="234.35" fill="#f9ab19"/>
<rect x="808" y="498.46" width="25.5" height="229.14" fill="#fcb911"/>
<rect x="808" y="503.66" width="25.5" height="223.94" fill="#feca08"/>
<rect x="808" y="508.87" width="25.5" height="218.73" fill="#ffdc01"/>
<rect x="808" y="514.08" width="25.5" height="213.52" fill="#f9ea0e"/>
<rect x="808" y="519.29" width="25.5" height="208.31" fill="#f6ec18"/>
<rect x="808" y="524.5" width="25.5" height="203.1" fill="#e8e61a"/>
<rect x="808" y="529.7" width="25.5" height="197.9" fill="#dde11f"/>
<rect x="808" y="534.91" width="25.5" height="192.69" fill="#d0da28"/>
<rect x="808" y="540.12" width="25.5" height="187.48" fill="#c3d632"/>
<rect x="808" y="545.33" width="25.5" height="182.27" fill="#b7d23d"/>
<rect x="808" y="550.53" width="25.5" height="177.07" fill="#aace4d"/>
<rect x="808" y="555.74" width="25.5" height="171.86" fill="#a4ce5b"/>
<rect x="808" y="560.95" width="25.5" height="166.65" fill="#9bcc68"/>
<rect x="808" y="566.16" width="25.5" height="161.44" fill="#8fc978"/>
<rect x="808" y="571.37" width="25.5" height="156.23" fill="#87c889"/>
<rect x="808" y="576.57" width="25.5" height="151.03" fill="#82c997"/>
<rect x="808" y="581.78" width="25.5" height="145.82" fill="#7dc8a2"/>
<rect x="808" y="586.99" width="25.5" height="140.61" fill="#79c8ae"/>
<rect x="808" y="592.2" width="25.5" height="135.4" fill="#74c8bb"/>
<rect x="808" y="597.4" width="25.5" height="130.2" fill="#71c9c7"/>
<rect x="808" y="602.61" width="25.5" height="124.99" fill="#6fcad3"/>
<rect x="808" y="607.82" width="25.5" height="119.78" fill="#69cadf"/>
<rect x="808" y="613.03" width="25.5" height="114.57" fill="#53c8ea"/>
<rect x="808" y="618.24" width="25.5" height="109.36" fill="#39c2f0"/>
<rect x="808" y="623.44" width="25.5" height="104.16" fill="#3db8ec"/>
<rect x="808" y="628.65" width="25.5" height="98.95" fill="#44a7df"/>
<rect x="808" y="633.86" width="25.5" height="93.74" fill="#4898d5"/>
<rect x="808" y="639.07" width="25.5" height="88.53" fill="#4787c8"/>
<rect x="808" y="644.27" width="25.5" height="83.33" fill="#447bbd"/>
<rect x="808" y="649.48" width="25.5" height="78.12" fill="#416bb3"/>
<rect x="808" y="654.69" width="25.5" height="72.91" fill="#3f63af"/>
<rect x="808" y="659.9" width="25.5" height="67.7" fill="#3e5dac"/>
<rect x="808" y="665.11" width="25.5" height="62.49" fill="#3c58a9"/>
<rect x="808" y="670.31" width="25.5" height="57.29" fill="#3b56a7"/>
<rect x="808" y="675.52" width="25.5" height="52.08" fill="#3a54a6"/>
<rect x="808" y="680.73" width="25.5" height="46.87" fill="#3a52a5"/>
<rect x="808" y="685.94" width="25.5" height="41.66" fill="#3a50a4"/>
<rect x="808" y="691.15" width="25.5" height="36.45" fill="#394ea3"/>
<rect x="808" y="696.35" width="25.5" height="31.25" fill="#3849a0"/>
<rect x="808" y="701.56" width="25.5" height="26.04" fill="#35459e"/>
<rect x="808" y="706.77" width="25.5" height="20.83" fill="#323e9c"/>
<rect x="808" y="711.98" width="25.5" height="15.62" fill="#2f3797"/>
<rect x="808" y="717.18" width="25.5" height="10.42" fill="#2e3290"/>
<rect x="808" y="722.39" width="25.5" height="5.21" fill="#2d2f8b"/>
<path d="M808 394.3V727.6M833.5 394.3V727.6" stroke="#5f5f5f" stroke-width="1.4"/>
<path d="M807.3 394.3H834.2M807.3 727.6H834.2" stroke="#111" stroke-width="1.2"/>
<text x="837.2" y="726.58" font-size="17.7">16</text>
<text x="837.2" y="669.12" font-size="17.7">18</text>
<text x="837.2" y="611.65" font-size="17.7">20</text>
<text x="837.2" y="554.19" font-size="17.7">22</text>
<text x="837.2" y="496.72" font-size="17.7">24</text>
<text x="837.2" y="439.26" font-size="17.7">26</text>
<path d="M808 721.57h3M833.5 721.57h-3M808 664.1h3M833.5 664.1h-3M808 606.64h3M833.5 606.64h-3M808 549.17h3M833.5 549.17h-3M808 491.7h3M833.5 491.7h-3M808 434.24h3M833.5 434.24h-3" stroke="#111" stroke-width="1.1"/>
<rect x="806.6" y="1197.3" width="26.3" height="332.3" fill="#7f1416"/>
<rect x="806.6" y="1202.49" width="26.3" height="327.11" fill="#8f181a"/>
<rect x="806.6" y="1207.68" width="26.3" height="321.92" fill="#9e1b1f"/>
<rect x="806.6" y="1212.88" width="26.3" height="316.72" fill="#ad1e23"/>
<rect x="806.6" y="1218.07" width="26.3" height="311.53" fill="#bd1f25"/>
<rect x="806.6" y="1223.26" width="26.3" height="306.34" fill="#ca1f26"/>
<rect x="806.6" y="1228.45" width="26.3" height="301.15" fill="#dc1d25"/>
<rect x="806.6" y="1233.65" width="26.3" height="295.95" fill="#e81c24"/>
<rect x="806.6" y="1238.84" width="26.3" height="290.76" fill="#ec1e24"/>
<rect x="806.6" y="1244.03" width="26.3" height="285.57" fill="#ec2024"/>
<rect x="806.6" y="1249.22" width="26.3" height="280.38" fill="#ee2a24"/>
<rect x="806.6" y="1254.41" width="26.3" height="275.19" fill="#ef3b23"/>
<rect x="806.6" y="1259.61" width="26.3" height="269.99" fill="#ef4823"/>
<rect x="806.6" y="1264.8" width="26.3" height="264.8" fill="#ee5222"/>
<rect x="806.6" y="1269.99" width="26.3" height="259.61" fill="#ef5f22"/>
<rect x="806.6" y="1275.18" width="26.3" height="254.42" fill="#f26b21"/>
<rect x="806.6" y="1280.38" width="26.3" height="249.22" fill="#f47e20"/>
<rect x="806.6" y="1285.57" width="26.3" height="244.03" fill="#f68f1f"/>
<rect x="806.6" y="1290.76" width="26.3" height="238.84" fill="#f79e1c"/>
<rect x="806.6" y="1295.95" width="26.3" height="233.65" fill="#f9ab19"/>
<rect x="806.6" y="1301.14" width="26.3" height="228.46" fill="#fcb911"/>
<rect x="806.6" y="1306.34" width="26.3" height="223.26" fill="#feca08"/>
<rect x="806.6" y="1311.53" width="26.3" height="218.07" fill="#ffdc01"/>
<rect x="806.6" y="1316.72" width="26.3" height="212.88" fill="#f9ea0e"/>
<rect x="806.6" y="1321.91" width="26.3" height="207.69" fill="#f6ec18"/>
<rect x="806.6" y="1327.1" width="26.3" height="202.5" fill="#e8e61a"/>
<rect x="806.6" y="1332.3" width="26.3" height="197.3" fill="#dde11f"/>
<rect x="806.6" y="1337.49" width="26.3" height="192.11" fill="#d0da28"/>
<rect x="806.6" y="1342.68" width="26.3" height="186.92" fill="#c3d632"/>
<rect x="806.6" y="1347.87" width="26.3" height="181.73" fill="#b7d23d"/>
<rect x="806.6" y="1353.07" width="26.3" height="176.53" fill="#aace4d"/>
<rect x="806.6" y="1358.26" width="26.3" height="171.34" fill="#a4ce5b"/>
<rect x="806.6" y="1363.45" width="26.3" height="166.15" fill="#9bcc68"/>
<rect x="806.6" y="1368.64" width="26.3" height="160.96" fill="#8fc978"/>
<rect x="806.6" y="1373.83" width="26.3" height="155.77" fill="#87c889"/>
<rect x="806.6" y="1379.03" width="26.3" height="150.57" fill="#82c997"/>
<rect x="806.6" y="1384.22" width="26.3" height="145.38" fill="#7dc8a2"/>
<rect x="806.6" y="1389.41" width="26.3" height="140.19" fill="#79c8ae"/>
<rect x="806.6" y="1394.6" width="26.3" height="135" fill="#74c8bb"/>
<rect x="806.6" y="1399.8" width="26.3" height="129.8" fill="#71c9c7"/>
<rect x="806.6" y="1404.99" width="26.3" height="124.61" fill="#6fcad3"/>
<rect x="806.6" y="1410.18" width="26.3" height="119.42" fill="#69cadf"/>
<rect x="806.6" y="1415.37" width="26.3" height="114.23" fill="#53c8ea"/>
<rect x="806.6" y="1420.56" width="26.3" height="109.04" fill="#39c2f0"/>
<rect x="806.6" y="1425.76" width="26.3" height="103.84" fill="#3db8ec"/>
<rect x="806.6" y="1430.95" width="26.3" height="98.65" fill="#44a7df"/>
<rect x="806.6" y="1436.14" width="26.3" height="93.46" fill="#4898d5"/>
<rect x="806.6" y="1441.33" width="26.3" height="88.27" fill="#4787c8"/>
<rect x="806.6" y="1446.52" width="26.3" height="83.08" fill="#447bbd"/>
<rect x="806.6" y="1451.72" width="26.3" height="77.88" fill="#416bb3"/>
<rect x="806.6" y="1456.91" width="26.3" height="72.69" fill="#3f63af"/>
<rect x="806.6" y="1462.1" width="26.3" height="67.5" fill="#3e5dac"/>
<rect x="806.6" y="1467.29" width="26.3" height="62.31" fill="#3c58a9"/>
<rect x="806.6" y="1472.49" width="26.3" height="57.11" fill="#3b56a7"/>
<rect x="806.6" y="1477.68" width="26.3" height="51.92" fill="#3a54a6"/>
<rect x="806.6" y="1482.87" width="26.3" height="46.73" fill="#3a52a5"/>
<rect x="806.6" y="1488.06" width="26.3" height="41.54" fill="#3a50a4"/>
<rect x="806.6" y="1493.25" width="26.3" height="36.35" fill="#394ea3"/>
<rect x="806.6" y="1498.45" width="26.3" height="31.15" fill="#3849a0"/>
<rect x="806.6" y="1503.64" width="26.3" height="25.96" fill="#35459e"/>
<rect x="806.6" y="1508.83" width="26.3" height="20.77" fill="#323e9c"/>
<rect x="806.6" y="1514.02" width="26.3" height="15.58" fill="#2f3797"/>
<rect x="806.6" y="1519.22" width="26.3" height="10.38" fill="#2e3290"/>
<rect x="806.6" y="1524.41" width="26.3" height="5.19" fill="#2d2f8b"/>
<path d="M806.6 1197.3V1529.6M832.9 1197.3V1529.6" stroke="#5f5f5f" stroke-width="1.4"/>
<path d="M805.9 1197.3H833.6M805.9 1529.6H833.6" stroke="#111" stroke-width="1.2"/>
<text x="836.6" y="1528.6" font-size="17.7">16</text>
<text x="836.6" y="1471.31" font-size="17.7">18</text>
<text x="836.6" y="1414.02" font-size="17.7">20</text>
<text x="836.6" y="1356.72" font-size="17.7">22</text>
<text x="836.6" y="1299.43" font-size="17.7">24</text>
<text x="836.6" y="1242.14" font-size="17.7">26</text>
<path d="M806.6 1523.58h3M832.9 1523.58h-3M806.6 1466.29h3M832.9 1466.29h-3M806.6 1409h3M832.9 1409h-3M806.6 1351.7h3M832.9 1351.7h-3M806.6 1294.41h3M832.9 1294.41h-3M806.6 1237.12h3M832.9 1237.12h-3" stroke="#111" stroke-width="1.1"/>
<rect x="799" y="2009.4" width="25.8" height="330.8" fill="#7f1416"/>
<rect x="799" y="2014.57" width="25.8" height="325.63" fill="#8f181a"/>
<rect x="799" y="2019.74" width="25.8" height="320.46" fill="#9e1b1f"/>
<rect x="799" y="2024.91" width="25.8" height="315.29" fill="#ad1e23"/>
<rect x="799" y="2030.08" width="25.8" height="310.12" fill="#bd1f25"/>
<rect x="799" y="2035.24" width="25.8" height="304.96" fill="#ca1f26"/>
<rect x="799" y="2040.41" width="25.8" height="299.79" fill="#dc1d25"/>
<rect x="799" y="2045.58" width="25.8" height="294.62" fill="#e81c24"/>
<rect x="799" y="2050.75" width="25.8" height="289.45" fill="#ec1e24"/>
<rect x="799" y="2055.92" width="25.8" height="284.28" fill="#ec2024"/>
<rect x="799" y="2061.09" width="25.8" height="279.11" fill="#ee2a24"/>
<rect x="799" y="2066.26" width="25.8" height="273.94" fill="#ef3b23"/>
<rect x="799" y="2071.43" width="25.8" height="268.77" fill="#ef4823"/>
<rect x="799" y="2076.59" width="25.8" height="263.61" fill="#ee5222"/>
<rect x="799" y="2081.76" width="25.8" height="258.44" fill="#ef5f22"/>
<rect x="799" y="2086.93" width="25.8" height="253.27" fill="#f26b21"/>
<rect x="799" y="2092.1" width="25.8" height="248.1" fill="#f47e20"/>
<rect x="799" y="2097.27" width="25.8" height="242.93" fill="#f68f1f"/>
<rect x="799" y="2102.44" width="25.8" height="237.76" fill="#f79e1c"/>
<rect x="799" y="2107.61" width="25.8" height="232.59" fill="#f9ab19"/>
<rect x="799" y="2112.78" width="25.8" height="227.42" fill="#fcb911"/>
<rect x="799" y="2117.94" width="25.8" height="222.26" fill="#feca08"/>
<rect x="799" y="2123.11" width="25.8" height="217.09" fill="#ffdc01"/>
<rect x="799" y="2128.28" width="25.8" height="211.92" fill="#f9ea0e"/>
<rect x="799" y="2133.45" width="25.8" height="206.75" fill="#f6ec18"/>
<rect x="799" y="2138.62" width="25.8" height="201.58" fill="#e8e61a"/>
<rect x="799" y="2143.79" width="25.8" height="196.41" fill="#dde11f"/>
<rect x="799" y="2148.96" width="25.8" height="191.24" fill="#d0da28"/>
<rect x="799" y="2154.12" width="25.8" height="186.07" fill="#c3d632"/>
<rect x="799" y="2159.29" width="25.8" height="180.91" fill="#b7d23d"/>
<rect x="799" y="2164.46" width="25.8" height="175.74" fill="#aace4d"/>
<rect x="799" y="2169.63" width="25.8" height="170.57" fill="#a4ce5b"/>
<rect x="799" y="2174.8" width="25.8" height="165.4" fill="#9bcc68"/>
<rect x="799" y="2179.97" width="25.8" height="160.23" fill="#8fc978"/>
<rect x="799" y="2185.14" width="25.8" height="155.06" fill="#87c889"/>
<rect x="799" y="2190.31" width="25.8" height="149.89" fill="#82c997"/>
<rect x="799" y="2195.47" width="25.8" height="144.72" fill="#7dc8a2"/>
<rect x="799" y="2200.64" width="25.8" height="139.56" fill="#79c8ae"/>
<rect x="799" y="2205.81" width="25.8" height="134.39" fill="#74c8bb"/>
<rect x="799" y="2210.98" width="25.8" height="129.22" fill="#71c9c7"/>
<rect x="799" y="2216.15" width="25.8" height="124.05" fill="#6fcad3"/>
<rect x="799" y="2221.32" width="25.8" height="118.88" fill="#69cadf"/>
<rect x="799" y="2226.49" width="25.8" height="113.71" fill="#53c8ea"/>
<rect x="799" y="2231.66" width="25.8" height="108.54" fill="#39c2f0"/>
<rect x="799" y="2236.82" width="25.8" height="103.38" fill="#3db8ec"/>
<rect x="799" y="2241.99" width="25.8" height="98.21" fill="#44a7df"/>
<rect x="799" y="2247.16" width="25.8" height="93.04" fill="#4898d5"/>
<rect x="799" y="2252.33" width="25.8" height="87.87" fill="#4787c8"/>
<rect x="799" y="2257.5" width="25.8" height="82.7" fill="#447bbd"/>
<rect x="799" y="2262.67" width="25.8" height="77.53" fill="#416bb3"/>
<rect x="799" y="2267.84" width="25.8" height="72.36" fill="#3f63af"/>
<rect x="799" y="2273.01" width="25.8" height="67.19" fill="#3e5dac"/>
<rect x="799" y="2278.17" width="25.8" height="62.03" fill="#3c58a9"/>
<rect x="799" y="2283.34" width="25.8" height="56.86" fill="#3b56a7"/>
<rect x="799" y="2288.51" width="25.8" height="51.69" fill="#3a54a6"/>
<rect x="799" y="2293.68" width="25.8" height="46.52" fill="#3a52a5"/>
<rect x="799" y="2298.85" width="25.8" height="41.35" fill="#3a50a4"/>
<rect x="799" y="2304.02" width="25.8" height="36.18" fill="#394ea3"/>
<rect x="799" y="2309.19" width="25.8" height="31.01" fill="#3849a0"/>
<rect x="799" y="2314.36" width="25.8" height="25.84" fill="#35459e"/>
<rect x="799" y="2319.52" width="25.8" height="20.68" fill="#323e9c"/>
<rect x="799" y="2324.69" width="25.8" height="15.51" fill="#2f3797"/>
<rect x="799" y="2329.86" width="25.8" height="10.34" fill="#2e3290"/>
<rect x="799" y="2335.03" width="25.8" height="5.17" fill="#2d2f8b"/>
<path d="M799 2009.4V2340.2M824.8 2009.4V2340.2" stroke="#5f5f5f" stroke-width="1.4"/>
<path d="M798.3 2009.4H825.5M798.3 2340.2H825.5" stroke="#111" stroke-width="1.2"/>
<text x="828.5" y="2321.12" font-size="19">−1</text>
<text x="828.5" y="2277.91" font-size="19">−0.5</text>
<text x="828.5" y="2234.7" font-size="19">0</text>
<text x="828.5" y="2191.49" font-size="19">0.5</text>
<text x="828.5" y="2148.29" font-size="19">1</text>
<text x="828.5" y="2105.08" font-size="19">1.5</text>
<text x="828.5" y="2061.87" font-size="19">2</text>
<text x="828.5" y="2018.66" font-size="19">2.5</text>
<path d="M799 2315.66h3M824.8 2315.66h-3M799 2272.45h3M824.8 2272.45h-3M799 2229.24h3M824.8 2229.24h-3M799 2186.03h3M824.8 2186.03h-3M799 2142.83h3M824.8 2142.83h-3M799 2099.62h3M824.8 2099.62h-3M799 2056.41h3M824.8 2056.41h-3M799 2013.2h3M824.8 2013.2h-3" stroke="#111" stroke-width="1.1"/>
</svg></body></html>
